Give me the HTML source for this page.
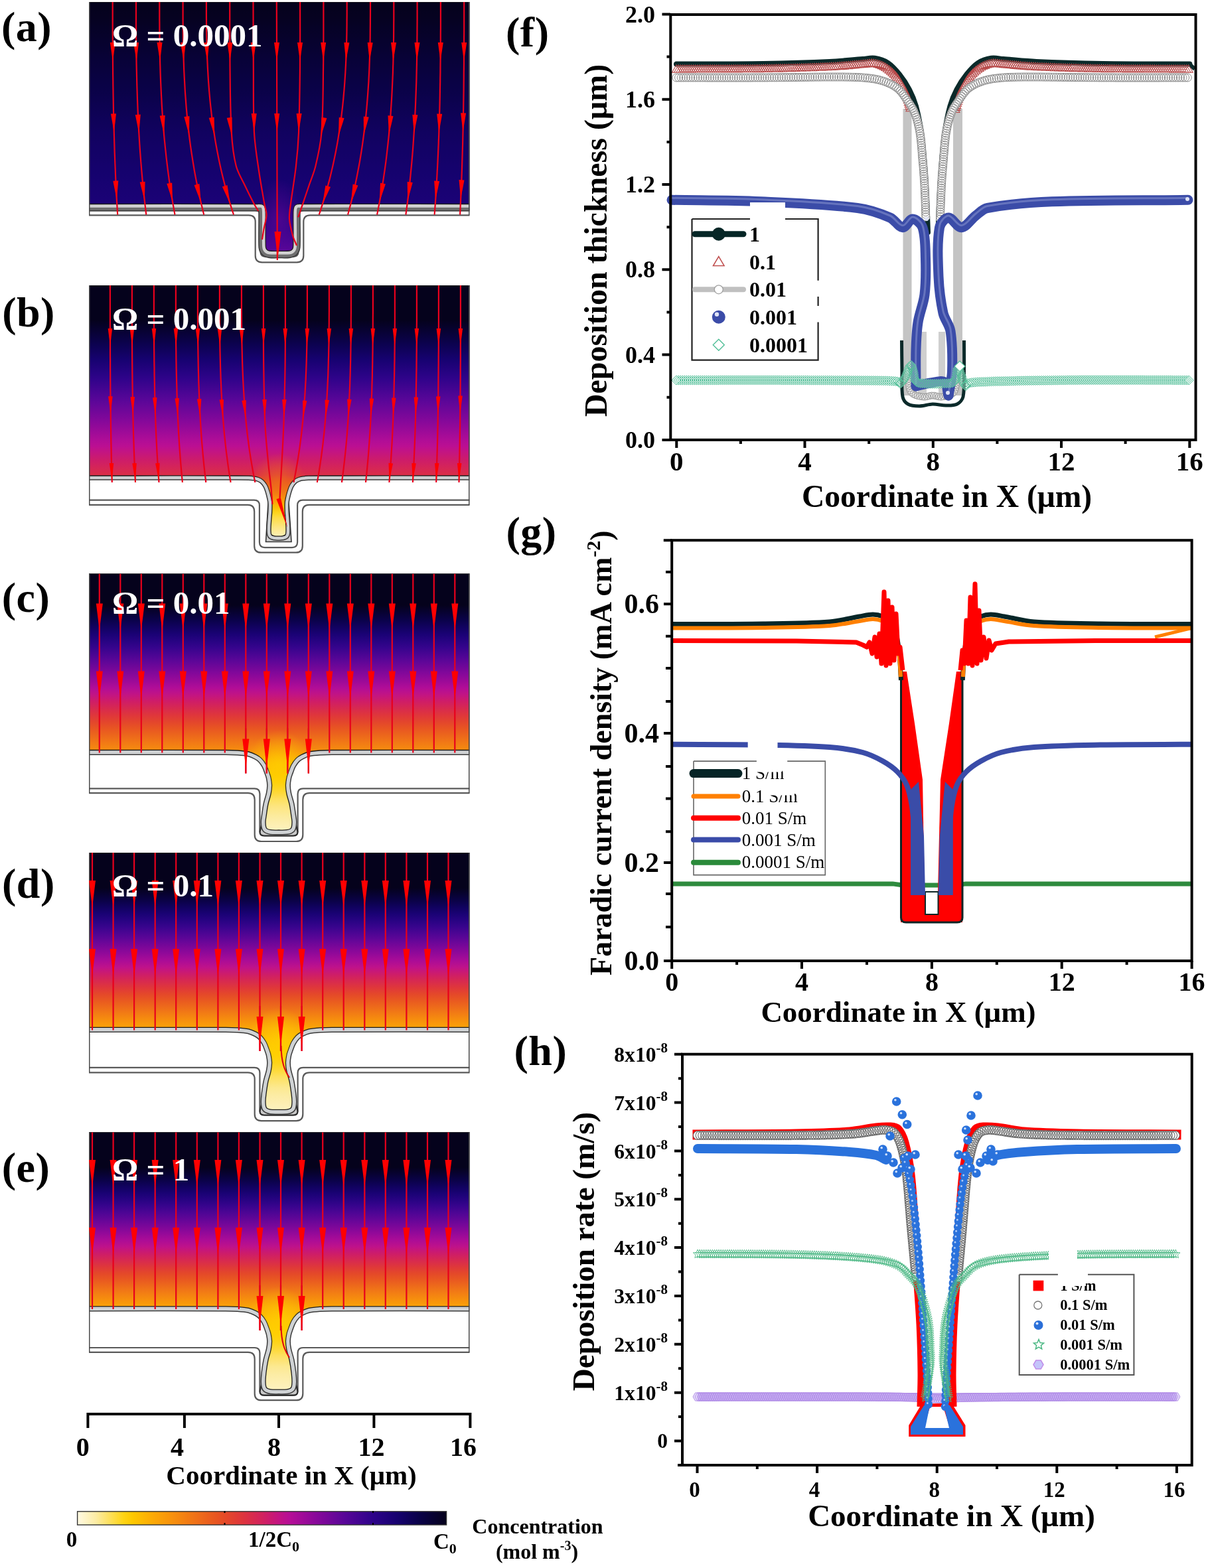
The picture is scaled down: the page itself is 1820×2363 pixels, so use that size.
<!DOCTYPE html>
<html><head><meta charset="utf-8"><title>Figure</title>
<style>html,body{margin:0;padding:0;background:#fff;overflow:hidden}svg{display:block}</style>
</head><body>
<svg width="1820" height="2363" viewBox="0 0 1820 2363">
<defs><linearGradient id="ga" gradientUnits="userSpaceOnUse" x1="0" y1="3" x2="0" y2="397.3"><stop offset="0.0000" stop-color="#05021c"/><stop offset="0.0250" stop-color="#05021e"/><stop offset="0.0500" stop-color="#060220"/><stop offset="0.0685" stop-color="#060222"/><stop offset="0.0750" stop-color="#060223"/><stop offset="0.1000" stop-color="#060227"/><stop offset="0.1250" stop-color="#07022a"/><stop offset="0.1500" stop-color="#07022e"/><stop offset="0.1750" stop-color="#070231"/><stop offset="0.2000" stop-color="#080235"/><stop offset="0.2250" stop-color="#080239"/><stop offset="0.2500" stop-color="#09023c"/><stop offset="0.2750" stop-color="#090240"/><stop offset="0.2967" stop-color="#090243"/><stop offset="0.3000" stop-color="#0a0244"/><stop offset="0.3250" stop-color="#0a0247"/><stop offset="0.3500" stop-color="#0b024a"/><stop offset="0.3750" stop-color="#0c024e"/><stop offset="0.4000" stop-color="#0d0252"/><stop offset="0.4250" stop-color="#0e0255"/><stop offset="0.4500" stop-color="#0f0259"/><stop offset="0.4750" stop-color="#10025c"/><stop offset="0.4996" stop-color="#110260"/><stop offset="0.5000" stop-color="#110260"/><stop offset="0.5250" stop-color="#120262"/><stop offset="0.5500" stop-color="#130265"/><stop offset="0.5750" stop-color="#130267"/><stop offset="0.6000" stop-color="#140269"/><stop offset="0.6250" stop-color="#15026c"/><stop offset="0.6500" stop-color="#15026e"/><stop offset="0.6750" stop-color="#160270"/><stop offset="0.7000" stop-color="#180272"/><stop offset="0.7250" stop-color="#190273"/><stop offset="0.7500" stop-color="#1a0275"/><stop offset="0.7710" stop-color="#1c0276"/><stop offset="0.7750" stop-color="#1c0277"/><stop offset="0.8000" stop-color="#21027c"/><stop offset="0.8250" stop-color="#260381"/><stop offset="0.8500" stop-color="#2b0386"/><stop offset="0.8674" stop-color="#2e038a"/><stop offset="0.8750" stop-color="#32038b"/><stop offset="0.9000" stop-color="#3e048f"/><stop offset="0.9250" stop-color="#4b0594"/><stop offset="0.9500" stop-color="#580698"/><stop offset="0.9561" stop-color="#5b0698"/><stop offset="0.9750" stop-color="#5b0698"/><stop offset="1.0000" stop-color="#5b0698"/></linearGradient>
<clipPath id="ca"><rect x="134" y="3" width="573.5" height="404.3"/></clipPath>
<clipPath id="ea"><path d="M131,3 H710.5 L710.5,307.5 C625,307.5 539.5,307.3 454,307.5 C451.7,307.5 449.1,307.2 447,308 C445.4,308.6 443.7,310 443,311.5 C442,313.8 441.9,316.8 441.8,319.5 C441.5,336.1 442.2,352.9 441.8,369.5 C441.8,371.5 441.6,374 440.5,375.5 C439.6,376.8 437.7,377.8 436,378 C431.2,378.7 426,378.3 421,378.3 C416,378.3 410.8,378.7 406,378 C404.3,377.8 402.4,376.8 401.5,375.5 C400.4,374 400.2,371.5 400.2,369.5 C399.8,352.9 400.5,336.1 400.2,319.5 C400.1,316.8 400,313.8 399,311.5 C398.3,310 396.6,308.6 395,308 C392.9,307.2 390.3,307.5 388,307.5 C302.3,307.3 216.7,307.5 131,307.5 Z"/></clipPath>
<radialGradient id="ra"><stop offset="0" stop-color="#670799" stop-opacity="0.55"/><stop offset="1" stop-color="#670799" stop-opacity="0"/></radialGradient>
<linearGradient id="gb" gradientUnits="userSpaceOnUse" x1="0" y1="430" x2="0" y2="834.7"><stop offset="0.0000" stop-color="#05021c"/><stop offset="0.0250" stop-color="#05021c"/><stop offset="0.0500" stop-color="#05021c"/><stop offset="0.0750" stop-color="#05021c"/><stop offset="0.1000" stop-color="#05021c"/><stop offset="0.1250" stop-color="#05021c"/><stop offset="0.1285" stop-color="#05021c"/><stop offset="0.1500" stop-color="#060228"/><stop offset="0.1750" stop-color="#080236"/><stop offset="0.2000" stop-color="#0a0244"/><stop offset="0.2250" stop-color="#0d0253"/><stop offset="0.2500" stop-color="#120261"/><stop offset="0.2750" stop-color="#160270"/><stop offset="0.3000" stop-color="#1f0279"/><stop offset="0.3250" stop-color="#270383"/><stop offset="0.3500" stop-color="#31038b"/><stop offset="0.3750" stop-color="#3e048f"/><stop offset="0.4000" stop-color="#4b0594"/><stop offset="0.4250" stop-color="#580698"/><stop offset="0.4500" stop-color="#660799"/><stop offset="0.4750" stop-color="#740799"/><stop offset="0.5000" stop-color="#82089a"/><stop offset="0.5250" stop-color="#910999"/><stop offset="0.5500" stop-color="#a00b98"/><stop offset="0.5750" stop-color="#af0d97"/><stop offset="0.6000" stop-color="#bc0f92"/><stop offset="0.6250" stop-color="#c5167e"/><stop offset="0.6500" stop-color="#cd1c6a"/><stop offset="0.6750" stop-color="#d4245a"/><stop offset="0.7000" stop-color="#d92c4b"/><stop offset="0.7067" stop-color="#da2e48"/><stop offset="0.7250" stop-color="#e3442e"/><stop offset="0.7500" stop-color="#ec651c"/><stop offset="0.7660" stop-color="#f27b14"/><stop offset="0.7750" stop-color="#f5880f"/><stop offset="0.8000" stop-color="#fcaa06"/><stop offset="0.8154" stop-color="#fec202"/><stop offset="0.8250" stop-color="#fec901"/><stop offset="0.8500" stop-color="#fed623"/><stop offset="0.8648" stop-color="#fedc45"/><stop offset="0.8750" stop-color="#fddf56"/><stop offset="0.9000" stop-color="#fde680"/><stop offset="0.9250" stop-color="#fceda8"/><stop offset="0.9340" stop-color="#fdefb2"/><stop offset="0.9500" stop-color="#fdefb2"/><stop offset="0.9750" stop-color="#fdefb2"/><stop offset="1.0000" stop-color="#fdefb2"/></linearGradient>
<clipPath id="cb"><rect x="134" y="430" width="573.5" height="414.7"/></clipPath>
<clipPath id="eb"><path d="M131,430 H710.5 L710.5,717 C634.2,717 557.8,716.9 481.5,717 C475.8,717 470.2,717 464.5,717.2 C462.2,717.3 459.8,717.4 457.5,717.8 C454.8,718.2 452,718.5 449.5,719.5 C447,720.4 444.4,721.7 442.4,723.5 C440.1,725.6 438,728.3 436.5,731 C434.9,733.9 433.9,737.2 432.9,740.4 C431.7,744.2 430.8,748.1 430,752 C429.5,754.3 429.2,756.7 429.1,759 C428.9,763.3 429.1,767.7 429.3,772 C429.6,777 430.2,782 430.5,787 C430.8,791 431.1,795 431,799 C430.9,801.3 431.2,804.4 430,806 C429,807.4 426.4,807.6 424.5,808 C422.9,808.3 421.2,808.2 419.5,808.2 C417.8,808.2 416.1,808.3 414.5,808 C412.6,807.6 410,807.4 409,806 C407.8,804.4 408.1,801.3 408,799 C407.9,795 408.2,791 408.5,787 C408.8,782 409.4,777 409.7,772 C409.9,767.7 410.1,763.3 409.9,759 C409.8,756.7 409.5,754.3 409,752 C408.2,748.1 407.3,744.2 406.1,740.4 C405.1,737.2 404.1,733.9 402.5,731 C401,728.3 398.9,725.6 396.6,723.5 C394.6,721.7 392,720.4 389.5,719.5 C387,718.5 384.2,718.2 381.5,717.8 C379.2,717.4 376.8,717.3 374.5,717.2 C368.8,717 363.2,717 357.5,717 C282,716.9 206.5,717 131,717 Z"/></clipPath>
<radialGradient id="rb"><stop offset="0" stop-color="#ef7118" stop-opacity="0.7"/><stop offset="1" stop-color="#ef7118" stop-opacity="0"/></radialGradient>
<linearGradient id="gc" gradientUnits="userSpaceOnUse" x1="0" y1="864.4" x2="0" y2="1270"><stop offset="0.0000" stop-color="#05021c"/><stop offset="0.0250" stop-color="#05021c"/><stop offset="0.0500" stop-color="#05021c"/><stop offset="0.0750" stop-color="#05021c"/><stop offset="0.1000" stop-color="#05021c"/><stop offset="0.1174" stop-color="#05021c"/><stop offset="0.1250" stop-color="#060222"/><stop offset="0.1500" stop-color="#080237"/><stop offset="0.1750" stop-color="#0b024c"/><stop offset="0.2000" stop-color="#120261"/><stop offset="0.2250" stop-color="#1a0275"/><stop offset="0.2500" stop-color="#270382"/><stop offset="0.2750" stop-color="#36048d"/><stop offset="0.3000" stop-color="#490593"/><stop offset="0.3250" stop-color="#5d0698"/><stop offset="0.3500" stop-color="#720799"/><stop offset="0.3750" stop-color="#87089a"/><stop offset="0.4000" stop-color="#9c0a98"/><stop offset="0.4250" stop-color="#b20d97"/><stop offset="0.4500" stop-color="#c21484"/><stop offset="0.4750" stop-color="#cf1d67"/><stop offset="0.5000" stop-color="#d72950"/><stop offset="0.5250" stop-color="#df363c"/><stop offset="0.5500" stop-color="#e3452d"/><stop offset="0.5750" stop-color="#e85522"/><stop offset="0.6000" stop-color="#ec661c"/><stop offset="0.6250" stop-color="#f17716"/><stop offset="0.6500" stop-color="#f58810"/><stop offset="0.6573" stop-color="#f68d0e"/><stop offset="0.6750" stop-color="#f99c0a"/><stop offset="0.7000" stop-color="#fdb305"/><stop offset="0.7041" stop-color="#fdb704"/><stop offset="0.7250" stop-color="#fec003"/><stop offset="0.7500" stop-color="#ffca01"/><stop offset="0.7750" stop-color="#ffd310"/><stop offset="0.7855" stop-color="#fed51f"/><stop offset="0.8000" stop-color="#fed830"/><stop offset="0.8250" stop-color="#fedd4f"/><stop offset="0.8500" stop-color="#fde36d"/><stop offset="0.8644" stop-color="#fde57f"/><stop offset="0.8750" stop-color="#fde788"/><stop offset="0.9000" stop-color="#fceb9d"/><stop offset="0.9250" stop-color="#fceeae"/><stop offset="0.9500" stop-color="#fdf1bc"/><stop offset="0.9532" stop-color="#fdf2be"/><stop offset="0.9750" stop-color="#fdf2be"/><stop offset="1.0000" stop-color="#fdf2be"/></linearGradient>
<clipPath id="cc"><rect x="134" y="864.4" width="573.5" height="415.6"/></clipPath>
<clipPath id="ec"><path d="M131,864.4 H710.5 L710.5,1130.5 C640.3,1130.5 570.2,1130.3 500,1130.5 C494,1130.5 488,1130.6 482,1131 C476.3,1131.4 470.5,1131.8 465,1133 C461.2,1133.9 457.5,1135.5 454,1137.3 C451.2,1138.7 448.4,1140.4 446.2,1142.6 C443.4,1145.3 441,1148.7 439.1,1152.1 C437,1155.8 435.8,1160 434.3,1164 C433.4,1166.5 432.4,1169 431.9,1171.6 C431.1,1175.5 430.4,1179.5 430.4,1183.5 C430.4,1187.8 431,1192.2 431.9,1196.5 C433,1201.9 435.1,1207.1 436.2,1212.5 C437.4,1218.4 438.1,1224.5 439,1230.5 C439.4,1233.3 440.1,1236.2 440,1239 C439.9,1242 440,1245.8 438.5,1248 C437.3,1249.7 434.3,1250.3 432,1250.7 C428.1,1251.3 424,1251 420,1251 C416,1251 411.9,1251.3 408,1250.7 C405.7,1250.3 402.7,1249.7 401.5,1248 C400,1245.8 400.1,1242 400,1239 C399.9,1236.2 400.6,1233.3 401,1230.5 C401.9,1224.5 402.6,1218.4 403.8,1212.5 C404.9,1207.1 407,1201.9 408.1,1196.5 C409,1192.2 409.6,1187.8 409.6,1183.5 C409.6,1179.5 408.9,1175.5 408.1,1171.6 C407.6,1169 406.6,1166.5 405.7,1164 C404.2,1160 403,1155.8 400.9,1152.1 C399,1148.7 396.6,1145.3 393.8,1142.6 C391.6,1140.4 388.8,1138.7 386,1137.3 C382.5,1135.5 378.8,1133.9 375,1133 C369.5,1131.8 363.7,1131.4 358,1131 C352,1130.6 346,1130.5 340,1130.5 C270.3,1130.3 200.7,1130.5 131,1130.5 Z"/></clipPath>
<radialGradient id="rc"><stop offset="0" stop-color="#ffce00" stop-opacity="0.75"/><stop offset="1" stop-color="#ffce00" stop-opacity="0"/></radialGradient>
<linearGradient id="gd" gradientUnits="userSpaceOnUse" x1="0" y1="1285" x2="0" y2="1691.1"><stop offset="0.0000" stop-color="#05021c"/><stop offset="0.0250" stop-color="#05021c"/><stop offset="0.0500" stop-color="#05021c"/><stop offset="0.0750" stop-color="#05021c"/><stop offset="0.1000" stop-color="#05021c"/><stop offset="0.1250" stop-color="#05021c"/><stop offset="0.1305" stop-color="#05021c"/><stop offset="0.1500" stop-color="#07022e"/><stop offset="0.1750" stop-color="#0a0244"/><stop offset="0.2000" stop-color="#10025d"/><stop offset="0.2250" stop-color="#190273"/><stop offset="0.2500" stop-color="#270382"/><stop offset="0.2750" stop-color="#38048d"/><stop offset="0.3000" stop-color="#4d0594"/><stop offset="0.3250" stop-color="#630698"/><stop offset="0.3500" stop-color="#7b0799"/><stop offset="0.3750" stop-color="#920999"/><stop offset="0.4000" stop-color="#aa0c97"/><stop offset="0.4250" stop-color="#bf128b"/><stop offset="0.4500" stop-color="#cd1c6b"/><stop offset="0.4750" stop-color="#d72951"/><stop offset="0.5000" stop-color="#df373b"/><stop offset="0.5250" stop-color="#e4482a"/><stop offset="0.5500" stop-color="#e95a20"/><stop offset="0.5750" stop-color="#ee6c1a"/><stop offset="0.6000" stop-color="#f37f13"/><stop offset="0.6250" stop-color="#f7920c"/><stop offset="0.6476" stop-color="#faa208"/><stop offset="0.6500" stop-color="#faa408"/><stop offset="0.6750" stop-color="#fcb105"/><stop offset="0.7000" stop-color="#fec003"/><stop offset="0.7141" stop-color="#fec801"/><stop offset="0.7250" stop-color="#ffcb01"/><stop offset="0.7500" stop-color="#ffd105"/><stop offset="0.7750" stop-color="#fed51c"/><stop offset="0.7781" stop-color="#fed51f"/><stop offset="0.8000" stop-color="#feda39"/><stop offset="0.8250" stop-color="#fddf57"/><stop offset="0.8500" stop-color="#fde475"/><stop offset="0.8742" stop-color="#fce992"/><stop offset="0.8750" stop-color="#fce992"/><stop offset="0.9000" stop-color="#fceca4"/><stop offset="0.9250" stop-color="#fdeeb0"/><stop offset="0.9500" stop-color="#fdf1bc"/><stop offset="0.9554" stop-color="#fdf2be"/><stop offset="0.9750" stop-color="#fdf2be"/><stop offset="1.0000" stop-color="#fdf2be"/></linearGradient>
<clipPath id="cd"><rect x="134" y="1285" width="573.5" height="416.1"/></clipPath>
<clipPath id="ed"><path d="M131,1285 H710.5 L710.5,1548.4 C640.3,1548.4 570.2,1548.2 500,1548.4 C494,1548.4 488,1548.5 482,1548.9 C476.3,1549.3 470.5,1549.7 465,1550.9 C461.2,1551.8 457.5,1553.4 454,1555.2 C451.2,1556.6 448.4,1558.3 446.2,1560.5 C443.4,1563.2 441,1566.6 439.1,1570 C437,1573.7 435.8,1577.9 434.3,1581.9 C433.4,1584.4 432.4,1586.9 431.9,1589.5 C431.1,1593.4 430.4,1597.4 430.4,1601.4 C430.4,1605.7 431,1610.1 431.9,1614.4 C433,1619.8 435.1,1625 436.2,1630.4 C437.4,1636.3 438.2,1642.4 439,1648.4 C439.5,1652.4 440.1,1656.4 440,1660.4 C439.9,1663.4 440,1667.2 438.5,1669.4 C437.3,1671.1 434.3,1671.7 432,1672.1 C428.1,1672.7 424,1672.4 420,1672.4 C416,1672.4 411.9,1672.7 408,1672.1 C405.7,1671.7 402.7,1671.1 401.5,1669.4 C400,1667.2 400.1,1663.4 400,1660.4 C399.9,1656.4 400.5,1652.4 401,1648.4 C401.8,1642.4 402.6,1636.3 403.8,1630.4 C404.9,1625 407,1619.8 408.1,1614.4 C409,1610.1 409.6,1605.7 409.6,1601.4 C409.6,1597.4 408.9,1593.4 408.1,1589.5 C407.6,1586.9 406.6,1584.4 405.7,1581.9 C404.2,1577.9 403,1573.7 400.9,1570 C399,1566.6 396.6,1563.2 393.8,1560.5 C391.6,1558.3 388.8,1556.6 386,1555.2 C382.5,1553.4 378.8,1551.8 375,1550.9 C369.5,1549.7 363.7,1549.3 358,1548.9 C352,1548.5 346,1548.4 340,1548.4 C270.3,1548.2 200.7,1548.4 131,1548.4 Z"/></clipPath>
<radialGradient id="rd"><stop offset="0" stop-color="#ffce00" stop-opacity="0.75"/><stop offset="1" stop-color="#ffce00" stop-opacity="0"/></radialGradient>
<linearGradient id="ge" gradientUnits="userSpaceOnUse" x1="0" y1="1706.3" x2="0" y2="2112.2"><stop offset="0.0000" stop-color="#05021c"/><stop offset="0.0250" stop-color="#05021c"/><stop offset="0.0500" stop-color="#05021c"/><stop offset="0.0750" stop-color="#05021c"/><stop offset="0.1000" stop-color="#05021c"/><stop offset="0.1250" stop-color="#05021c"/><stop offset="0.1298" stop-color="#05021c"/><stop offset="0.1500" stop-color="#07022e"/><stop offset="0.1750" stop-color="#0a0245"/><stop offset="0.2000" stop-color="#10025d"/><stop offset="0.2250" stop-color="#190273"/><stop offset="0.2500" stop-color="#270382"/><stop offset="0.2750" stop-color="#39048e"/><stop offset="0.3000" stop-color="#4e0595"/><stop offset="0.3250" stop-color="#640698"/><stop offset="0.3500" stop-color="#7b0799"/><stop offset="0.3750" stop-color="#930999"/><stop offset="0.4000" stop-color="#ab0c97"/><stop offset="0.4250" stop-color="#bf128a"/><stop offset="0.4500" stop-color="#cd1c6a"/><stop offset="0.4750" stop-color="#d72951"/><stop offset="0.5000" stop-color="#df383a"/><stop offset="0.5250" stop-color="#e44929"/><stop offset="0.5500" stop-color="#e95a20"/><stop offset="0.5750" stop-color="#ee6d1a"/><stop offset="0.6000" stop-color="#f38013"/><stop offset="0.6250" stop-color="#f7920c"/><stop offset="0.6472" stop-color="#faa208"/><stop offset="0.6500" stop-color="#faa408"/><stop offset="0.6750" stop-color="#fcb105"/><stop offset="0.7000" stop-color="#fec003"/><stop offset="0.7137" stop-color="#fec801"/><stop offset="0.7250" stop-color="#ffcb01"/><stop offset="0.7500" stop-color="#ffd107"/><stop offset="0.7750" stop-color="#fed51e"/><stop offset="0.7753" stop-color="#fed51f"/><stop offset="0.8000" stop-color="#feda3c"/><stop offset="0.8250" stop-color="#fddf5a"/><stop offset="0.8500" stop-color="#fde478"/><stop offset="0.8714" stop-color="#fce992"/><stop offset="0.8750" stop-color="#fce994"/><stop offset="0.9000" stop-color="#fceca5"/><stop offset="0.9250" stop-color="#fdefb1"/><stop offset="0.9500" stop-color="#fdf1bc"/><stop offset="0.9552" stop-color="#fdf2be"/><stop offset="0.9750" stop-color="#fdf2be"/><stop offset="1.0000" stop-color="#fdf2be"/></linearGradient>
<clipPath id="ce"><rect x="134" y="1706.3" width="573.5" height="415.9"/></clipPath>
<clipPath id="ee"><path d="M131,1706.3 H710.5 L710.5,1968.9 C640.3,1968.9 570.2,1968.7 500,1968.9 C494,1968.9 488,1969 482,1969.4 C476.3,1969.8 470.5,1970.2 465,1971.4 C461.2,1972.3 457.5,1973.9 454,1975.7 C451.2,1977.1 448.4,1978.8 446.2,1981 C443.4,1983.7 441,1987.1 439.1,1990.5 C437,1994.2 435.8,1998.4 434.3,2002.4 C433.4,2004.9 432.4,2007.4 431.9,2010 C431.1,2013.7 430.4,2017.5 430.4,2021.3 C430.4,2025.6 431,2030 431.9,2034.3 C433,2039.7 435.1,2044.9 436.2,2050.3 C437.4,2056.2 438.3,2062.3 439,2068.3 C439.5,2072.9 440.1,2077.5 440,2082.1 C439.9,2085.1 440,2088.9 438.5,2091.1 C437.3,2092.8 434.3,2093.4 432,2093.8 C428.1,2094.4 424,2094.1 420,2094.1 C416,2094.1 411.9,2094.4 408,2093.8 C405.7,2093.4 402.7,2092.8 401.5,2091.1 C400,2088.9 400.1,2085.1 400,2082.1 C399.9,2077.5 400.5,2072.9 401,2068.3 C401.7,2062.3 402.6,2056.2 403.8,2050.3 C404.9,2044.9 407,2039.7 408.1,2034.3 C409,2030 409.6,2025.6 409.6,2021.3 C409.6,2017.5 408.9,2013.7 408.1,2010 C407.6,2007.4 406.6,2004.9 405.7,2002.4 C404.2,1998.4 403,1994.2 400.9,1990.5 C399,1987.1 396.6,1983.7 393.8,1981 C391.6,1978.8 388.8,1977.1 386,1975.7 C382.5,1973.9 378.8,1972.3 375,1971.4 C369.5,1970.2 363.7,1969.8 358,1969.4 C352,1969 346,1968.9 340,1968.9 C270.3,1968.7 200.7,1968.9 131,1968.9 Z"/></clipPath>
<radialGradient id="re"><stop offset="0" stop-color="#ffce00" stop-opacity="0.75"/><stop offset="1" stop-color="#ffce00" stop-opacity="0"/></radialGradient>
<linearGradient id="cbar" x1="0" y1="0" x2="1" y2="0"><stop offset="0.000" stop-color="#fffae4"/><stop offset="0.025" stop-color="#fef3c4"/><stop offset="0.050" stop-color="#fceca5"/><stop offset="0.075" stop-color="#fde475"/><stop offset="0.100" stop-color="#fedc45"/><stop offset="0.125" stop-color="#ffd415"/><stop offset="0.150" stop-color="#fec801"/><stop offset="0.175" stop-color="#fdba04"/><stop offset="0.200" stop-color="#fcac06"/><stop offset="0.225" stop-color="#faa009"/><stop offset="0.250" stop-color="#f8940c"/><stop offset="0.275" stop-color="#f58810"/><stop offset="0.300" stop-color="#f27b14"/><stop offset="0.325" stop-color="#ef6f19"/><stop offset="0.350" stop-color="#eb621d"/><stop offset="0.375" stop-color="#e85621"/><stop offset="0.400" stop-color="#e54a28"/><stop offset="0.425" stop-color="#e13f33"/><stop offset="0.450" stop-color="#de343e"/><stop offset="0.475" stop-color="#d82b4e"/><stop offset="0.500" stop-color="#d2225e"/><stop offset="0.525" stop-color="#ca1a71"/><stop offset="0.550" stop-color="#c11386"/><stop offset="0.575" stop-color="#b60e96"/><stop offset="0.600" stop-color="#a60c98"/><stop offset="0.625" stop-color="#960a99"/><stop offset="0.650" stop-color="#86089a"/><stop offset="0.675" stop-color="#770799"/><stop offset="0.700" stop-color="#670799"/><stop offset="0.725" stop-color="#580698"/><stop offset="0.750" stop-color="#4a0593"/><stop offset="0.775" stop-color="#3c048f"/><stop offset="0.800" stop-color="#2e038a"/><stop offset="0.825" stop-color="#250380"/><stop offset="0.850" stop-color="#1c0276"/><stop offset="0.875" stop-color="#14026a"/><stop offset="0.900" stop-color="#0f0259"/><stop offset="0.925" stop-color="#0a0249"/><stop offset="0.950" stop-color="#08023a"/><stop offset="0.975" stop-color="#07022b"/><stop offset="1.000" stop-color="#05021c"/></linearGradient></defs>
<rect width="1820" height="2363" fill="#fff"/>
<g clip-path="url(#ca)"><path d="M132,324.3 H374.7 Q384.7,324.3 384.7,334.3 V385.3 Q384.7,395.3 394.7,395.3 H447.3 Q457.3,395.3 457.3,385.3 V334.3 Q457.3,324.3 467.3,324.3 H709.5" fill="none" stroke="#5a5a5a" stroke-width="2.2"/><path d="M132,317.2 H384.4 Q392.4,317.2 392.4,325.2 V378.8 Q392.4,386.8 400.4,386.8 H441.6 Q449.6,386.8 449.6,378.8 V325.2 Q449.6,317.2 457.6,317.2 H709.5" fill="none" stroke="#5a5a5a" stroke-width="2.2"/><path d="M131,3 H710.5 L710.5,307.5 C625,307.5 539.5,307.3 454,307.5 C451.7,307.5 449.1,307.2 447,308 C445.4,308.6 443.7,310 443,311.5 C442,313.8 441.9,316.8 441.8,319.5 C441.5,336.1 442.2,352.9 441.8,369.5 C441.8,371.5 441.6,374 440.5,375.5 C439.6,376.8 437.7,377.8 436,378 C431.2,378.7 426,378.3 421,378.3 C416,378.3 410.8,378.7 406,378 C404.3,377.8 402.4,376.8 401.5,375.5 C400.4,374 400.2,371.5 400.2,369.5 C399.8,352.9 400.5,336.1 400.2,319.5 C400.1,316.8 400,313.8 399,311.5 C398.3,310 396.6,308.6 395,308 C392.9,307.2 390.3,307.5 388,307.5 C302.3,307.3 216.7,307.5 131,307.5 Z" fill="none" stroke="#3a3a3a" stroke-width="22"/><path d="M131,3 H710.5 L710.5,307.5 C625,307.5 539.5,307.3 454,307.5 C451.7,307.5 449.1,307.2 447,308 C445.4,308.6 443.7,310 443,311.5 C442,313.8 441.9,316.8 441.8,319.5 C441.5,336.1 442.2,352.9 441.8,369.5 C441.8,371.5 441.6,374 440.5,375.5 C439.6,376.8 437.7,377.8 436,378 C431.2,378.7 426,378.3 421,378.3 C416,378.3 410.8,378.7 406,378 C404.3,377.8 402.4,376.8 401.5,375.5 C400.4,374 400.2,371.5 400.2,369.5 C399.8,352.9 400.5,336.1 400.2,319.5 C400.1,316.8 400,313.8 399,311.5 C398.3,310 396.6,308.6 395,308 C392.9,307.2 390.3,307.5 388,307.5 C302.3,307.3 216.7,307.5 131,307.5 Z" fill="none" stroke="#6e6e6e" stroke-width="19"/><path d="M131,3 H710.5 L710.5,307.5 C625,307.5 539.5,307.3 454,307.5 C451.7,307.5 449.1,307.2 447,308 C445.4,308.6 443.7,310 443,311.5 C442,313.8 441.9,316.8 441.8,319.5 C441.5,336.1 442.2,352.9 441.8,369.5 C441.8,371.5 441.6,374 440.5,375.5 C439.6,376.8 437.7,377.8 436,378 C431.2,378.7 426,378.3 421,378.3 C416,378.3 410.8,378.7 406,378 C404.3,377.8 402.4,376.8 401.5,375.5 C400.4,374 400.2,371.5 400.2,369.5 C399.8,352.9 400.5,336.1 400.2,319.5 C400.1,316.8 400,313.8 399,311.5 C398.3,310 396.6,308.6 395,308 C392.9,307.2 390.3,307.5 388,307.5 C302.3,307.3 216.7,307.5 131,307.5 Z" fill="none" stroke="#d2d2d2" stroke-width="10.4"/><path d="M131,3 H710.5 L710.5,307.5 C625,307.5 539.5,307.3 454,307.5 C451.7,307.5 449.1,307.2 447,308 C445.4,308.6 443.7,310 443,311.5 C442,313.8 441.9,316.8 441.8,319.5 C441.5,336.1 442.2,352.9 441.8,369.5 C441.8,371.5 441.6,374 440.5,375.5 C439.6,376.8 437.7,377.8 436,378 C431.2,378.7 426,378.3 421,378.3 C416,378.3 410.8,378.7 406,378 C404.3,377.8 402.4,376.8 401.5,375.5 C400.4,374 400.2,371.5 400.2,369.5 C399.8,352.9 400.5,336.1 400.2,319.5 C400.1,316.8 400,313.8 399,311.5 C398.3,310 396.6,308.6 395,308 C392.9,307.2 390.3,307.5 388,307.5 C302.3,307.3 216.7,307.5 131,307.5 Z" fill="url(#ga)" stroke="#1a1a1a" stroke-width="1.3"/><ellipse cx="421" cy="330" rx="34" ry="60" fill="url(#ra)" clip-path="url(#ea)"/><path d="M134.5,3 V324.3 M707,3 V324.3" stroke="#4a4a4a" stroke-width="2"/></g><g clip-path="url(#ca)"><path d="M169.7,3 C169.7,7.5 169.7,11.9 169.7,16.4 C169.7,20.8 169.7,25.3 169.7,29.7 C169.7,34.2 169.7,38.6 169.7,43.1 C169.7,47.5 169.8,52 169.8,56.4 C169.8,60.9 169.8,65.3 169.8,69.8 C169.8,74.2 169.9,78.7 169.9,83.1 C169.9,87.6 170,92 170,96.5 C170,100.9 170.1,105.4 170.1,109.8 C170.2,114.3 170.2,118.7 170.3,123.2 C170.3,127.6 170.4,132.1 170.5,136.5 C170.5,141 170.6,145.4 170.7,149.9 C170.8,154.3 170.8,158.8 170.9,163.2 C171,167.7 171.1,172.2 171.2,176.6 C171.3,181.1 171.4,185.5 171.5,190 C171.7,194.4 171.8,198.9 171.9,203.3 C172,207.8 172.2,212.2 172.3,216.7 C172.4,221.1 172.6,225.6 172.7,230 C172.9,234.5 173.1,238.9 173.2,243.4 C173.4,247.8 173.6,252.3 173.8,256.7 C173.9,261.2 174.1,265.6 174.3,270.1 C174.5,274.5 174.8,279 175,283.4 C175.2,287.9 175.4,292.3 175.6,296.8 C175.9,301.2 176.1,305.7 176.4,310.1 C176.6,314.6 176.9,319 177.2,323.5" fill="none" stroke="#e8001c" stroke-width="2.2"/><path d="M165.8,64 L170,92 L173.8,64 Z" fill="#ff0000"/><path d="M167,171.5 L171.8,199.3 L175,171.2 Z" fill="#ff0000"/><path d="M170.3,272.7 L175.8,300.4 L178.3,272.2 Z" fill="#ff0000"/><path d="M205,3 C205,7.5 205,11.9 205,16.4 C205,20.8 205,25.3 205,29.7 C205,34.2 205,38.6 205.1,43.1 C205.1,47.5 205.1,52 205.1,56.4 C205.2,60.9 205.2,65.3 205.3,69.8 C205.3,74.2 205.4,78.7 205.4,83.1 C205.5,87.6 205.5,92 205.6,96.5 C205.7,100.9 205.8,105.4 205.9,109.8 C206,114.3 206.1,118.7 206.2,123.2 C206.3,127.6 206.4,132.1 206.6,136.5 C206.7,141 206.9,145.4 207,149.9 C207.2,154.3 207.3,158.8 207.5,163.2 C207.7,167.7 207.9,172.2 208.1,176.6 C208.3,181.1 208.5,185.5 208.8,190 C209,194.4 209.2,198.9 209.5,203.3 C209.8,207.8 210,212.2 210.3,216.7 C210.6,221.1 210.9,225.6 211.2,230 C211.6,234.5 211.9,238.9 212.2,243.4 C212.6,247.8 213,252.3 213.3,256.7 C213.7,261.2 214.1,265.6 214.5,270.1 C214.9,274.5 215.4,279 215.8,283.4 C216.3,287.9 216.7,292.3 217.2,296.8 C217.7,301.2 218.2,305.7 218.7,310.1 C219.2,314.6 219.8,319 220.3,323.5" fill="none" stroke="#e8001c" stroke-width="2.2"/><path d="M201.1,64.1 L205.6,92 L209.1,63.9 Z" fill="#ff0000"/><path d="M203.8,173 L209.4,200.7 L211.8,172.5 Z" fill="#ff0000"/><path d="M210.7,274.6 L217.8,302 L218.6,273.8 Z" fill="#ff0000"/><path d="M240.3,3 C240.3,7.5 240.3,11.9 240.3,16.4 C240.3,20.8 240.3,25.3 240.3,29.7 C240.4,34.2 240.4,38.6 240.4,43.1 C240.4,47.5 240.5,52 240.5,56.4 C240.6,60.9 240.6,65.3 240.7,69.8 C240.8,74.2 240.8,78.7 240.9,83.1 C241,87.6 241.1,92 241.2,96.5 C241.4,100.9 241.5,105.4 241.6,109.8 C241.8,114.3 241.9,118.7 242.1,123.2 C242.3,127.6 242.5,132.1 242.7,136.5 C242.9,141 243.1,145.4 243.4,149.9 C243.6,154.3 243.8,158.8 244.1,163.2 C244.4,167.7 244.7,172.2 245,176.6 C245.3,181.1 245.7,185.5 246,190 C246.4,194.4 246.7,198.9 247.1,203.3 C247.5,207.8 247.9,212.2 248.4,216.7 C248.8,221.1 249.3,225.6 249.8,230 C250.2,234.5 250.7,238.9 251.3,243.4 C251.8,247.8 252.4,252.3 252.9,256.7 C253.5,261.2 254.1,265.6 254.7,270.1 C255.4,274.5 256,279 256.7,283.4 C257.4,287.9 258.1,292.3 258.8,296.8 C259.5,301.2 260.3,305.7 261.1,310.1 C261.8,314.6 262.7,319 263.5,323.5" fill="none" stroke="#e8001c" stroke-width="2.2"/><path d="M236.5,64.1 L241.1,92 L244.5,63.9 Z" fill="#ff0000"/><path d="M240.7,174.5 L247,202.1 L248.7,173.8 Z" fill="#ff0000"/><path d="M251.3,276.7 L260,303.7 L259.2,275.4 Z" fill="#ff0000"/><path d="M275.6,3 C275.6,7.5 275.6,11.9 275.6,16.4 C275.6,20.8 275.6,25.3 275.6,29.7 C275.7,34.2 275.7,38.6 275.7,43.1 C275.8,47.5 275.8,52 275.9,56.4 C276,60.9 276,65.3 276.1,69.8 C276.2,74.2 276.3,78.7 276.5,83.1 C276.6,87.6 276.7,92 276.9,96.5 C277,100.9 277.2,105.4 277.4,109.8 C277.6,114.3 277.8,118.7 278.1,123.2 C278.3,127.6 278.6,132.1 278.8,136.5 C279.1,141 279.4,145.4 279.8,149.9 C280.1,154.3 280.4,158.8 280.8,163.2 C281.2,167.7 281.6,172.2 282,176.6 C282.5,181.1 282.9,185.5 283.4,190 C283.9,194.4 284.4,198.9 284.9,203.3 C285.5,207.8 286,212.2 286.6,216.7 C287.2,221.1 287.9,225.6 288.5,230 C289.2,234.5 289.9,238.9 290.6,243.4 C291.3,247.8 292.1,252.3 292.8,256.7 C293.6,261.2 294.4,265.6 295.3,270.1 C296.2,274.5 297,279 298,283.4 C298.9,287.9 299.8,292.3 300.8,296.8 C301.8,301.3 302.9,305.7 303.9,310.1 C305,314.6 306.1,319 307.2,323.5" fill="none" stroke="#e8001c" stroke-width="2.2"/><path d="M271.9,64.1 L276.7,92 L279.9,63.9 Z" fill="#ff0000"/><path d="M277.4,176.1 L284.9,203.4 L285.4,175.1 Z" fill="#ff0000"/><path d="M292.6,278.9 L302.8,305.3 L300.4,277.1 Z" fill="#ff0000"/><path d="M310.9,3 C310.9,7.5 310.9,11.9 310.9,16.4 C310.9,20.8 310.9,25.3 311,29.7 C311,34.2 311,38.6 311.1,43.1 C311.1,47.5 311.2,52 311.3,56.4 C311.4,60.9 311.5,65.3 311.6,69.8 C311.7,74.2 311.9,78.7 312,83.1 C312.2,87.6 312.4,92 312.6,96.5 C312.8,100.9 313,105.4 313.3,109.8 C313.5,114.3 313.8,118.7 314.1,123.2 C314.4,127.6 314.8,132.1 315.1,136.5 C315.5,141 315.9,145.4 316.3,149.9 C316.7,154.4 317.2,158.8 317.7,163.2 C318.2,167.7 318.7,172.2 319.2,176.6 C319.8,181.1 320.4,185.5 321,190 C321.7,194.4 322.3,198.9 323,203.3 C323.7,207.8 324.4,212.2 325.2,216.7 C326,221.1 326.8,225.6 327.7,230 C328.5,234.5 329.4,238.9 330.4,243.4 C331.3,247.8 332.3,252.3 333.3,256.7 C334.3,261.2 335.4,265.6 336.5,270.1 C337.6,274.5 338.8,279 339.9,283.4 C341.2,287.9 342.4,292.4 343.7,296.8 C345,301.3 346.3,305.7 347.7,310.1 C349.1,314.6 350.6,319 352,323.5" fill="none" stroke="#e8001c" stroke-width="2.2"/><path d="M307.2,64.2 L312.4,92 L315.2,63.9 Z" fill="#ff0000"/><path d="M314.7,177.8 L323.3,204.8 L322.6,176.5 Z" fill="#ff0000"/><path d="M334.8,281.3 L346.7,306.9 L342.5,279 Z" fill="#ff0000"/><path d="M346.2,3 C346.3,35.3 346.1,67.7 346.5,100 C346.9,133.3 346.8,166.8 348.8,200 C349.8,216.8 351.6,233.9 355.7,250 C358.4,260.5 364.5,270.1 369.2,280 C373.7,289.4 378.3,298.8 383.2,308 C385,311.4 387.2,314.7 389.2,318" fill="none" stroke="#e8001c" stroke-width="2.2"/><path d="M342.4,64 L346.5,92 L350.4,64 Z" fill="#ff0000"/><path d="M341.7,177.8 L349.5,205 L349.6,176.7 Z" fill="#ff0000"/><path d="M381.5,3 C381.6,35.3 381.6,67.7 381.8,100 C382.1,133.3 381.3,166.8 383,200 C384,219.4 387.3,238.7 390.1,258 C392.5,274.7 395.6,291.3 398.5,308 C399.4,313.3 401.6,318.7 401.5,324 C401.3,331 398.7,338 397.5,345 C396.6,350.3 395.8,355.7 395,361" fill="none" stroke="#e8001c" stroke-width="2.2"/><path d="M377.7,64 L381.8,92 L385.7,64 Z" fill="#ff0000"/><path d="M378.7,171.1 L383,199 L386.7,171 Z" fill="#ff0000"/><path d="M416.8,3 C417,68.7 417.1,134.3 417.3,200 C417.5,264 417.6,328 417.8,392" fill="none" stroke="#e8001c" stroke-width="2.2"/><path d="M413,64 L417,92 L421,64 Z" fill="#ff0000"/><path d="M413.2,171 L417.3,199 L421.2,171 Z" fill="#ff0000"/><path d="M413.5,349 L418.5,389 L423.5,349 Z" fill="#ff0000"/><path d="M452.1,3 C452.1,35.3 452.3,67.7 452,100 C451.6,133.3 451.3,166.7 450,200 C449.3,216.7 447.9,233.4 446,250 C443.9,269.1 440.4,288 438,307 C437,314.6 435.5,322.4 436,330 C436.5,338.4 438.8,346.8 441,355 C442.4,360.2 445,365 447,370" fill="none" stroke="#e8001c" stroke-width="2.2"/><path d="M448,64 L452,92 L456,64 Z" fill="#ff0000"/><path d="M446.6,170.9 L450,199 L454.6,171.1 Z" fill="#ff0000"/><path d="M487.4,3 C487.3,35.3 487.6,67.7 487.1,100 C486.6,133.3 487,166.8 484.4,200 C483.1,216.8 479.4,233.6 475.5,250 C473.1,260.2 468.8,270 465.4,280 C461.8,290.6 458.2,301.2 454.6,311.8 C452.8,317 451,322.1 449.2,327.3" fill="none" stroke="#e8001c" stroke-width="2.2"/><path d="M483.2,64 L487.1,92 L491.2,64 Z" fill="#ff0000"/><path d="M484.5,176.7 L483.5,205 L492.4,178.1 Z" fill="#ff0000"/><path d="M522.7,3 C522.7,7.5 522.7,11.9 522.7,16.4 C522.7,20.8 522.7,25.3 522.6,29.7 C522.6,34.2 522.6,38.6 522.5,43.1 C522.5,47.5 522.4,52 522.3,56.4 C522.2,60.9 522.1,65.3 522,69.8 C521.9,74.2 521.7,78.7 521.6,83.1 C521.4,87.6 521.2,92 521,96.5 C520.8,100.9 520.5,105.4 520.3,109.8 C520,114.3 519.7,118.7 519.4,123.2 C519.1,127.6 518.8,132.1 518.4,136.5 C518,141 517.6,145.4 517.2,149.9 C516.7,154.4 516.3,158.8 515.8,163.2 C515.3,167.7 514.7,172.2 514.2,176.6 C513.6,181.1 513,185.5 512.4,190 C511.7,194.4 511,198.9 510.3,203.3 C509.6,207.8 508.9,212.2 508.1,216.7 C507.3,221.1 506.4,225.6 505.6,230 C504.7,234.5 503.8,238.9 502.8,243.4 C501.9,247.8 500.9,252.3 499.8,256.7 C498.8,261.2 497.7,265.6 496.6,270.1 C495.4,274.5 494.3,279 493,283.4 C491.8,287.9 490.5,292.4 489.2,296.8 C487.9,301.3 486.5,305.7 485.1,310.1 C483.7,314.6 482.2,319 480.7,323.5" fill="none" stroke="#e8001c" stroke-width="2.2"/><path d="M518.4,63.9 L521.2,92 L526.4,64.2 Z" fill="#ff0000"/><path d="M510.8,176.8 L510,205.1 L518.6,178.1 Z" fill="#ff0000"/><path d="M490.4,279.4 L486,307.3 L498,281.7 Z" fill="#ff0000"/><path d="M558,3 C558,7.5 558,11.9 558,16.4 C558,20.8 558,25.3 557.9,29.7 C557.9,34.2 557.9,38.6 557.8,43.1 C557.8,47.5 557.7,52 557.7,56.4 C557.6,60.9 557.5,65.3 557.4,69.8 C557.3,74.2 557.2,78.7 557.1,83.1 C556.9,87.6 556.8,92 556.6,96.5 C556.5,100.9 556.3,105.4 556.1,109.8 C555.8,114.3 555.6,118.7 555.4,123.2 C555.1,127.6 554.8,132.1 554.5,136.5 C554.2,141 553.9,145.4 553.5,149.9 C553.2,154.3 552.8,158.8 552.4,163.2 C552,167.7 551.6,172.2 551.1,176.6 C550.7,181.1 550.2,185.5 549.7,190 C549.1,194.4 548.6,198.9 548,203.3 C547.4,207.8 546.8,212.2 546.2,216.7 C545.6,221.1 544.9,225.6 544.2,230 C543.5,234.5 542.7,238.9 542,243.4 C541.2,247.8 540.4,252.3 539.5,256.7 C538.7,261.2 537.8,265.6 536.9,270.1 C536,274.5 535,279 534.1,283.4 C533.1,287.9 532,292.3 531,296.8 C529.9,301.3 528.8,305.7 527.7,310.1 C526.5,314.6 525.3,319 524.1,323.5" fill="none" stroke="#e8001c" stroke-width="2.2"/><path d="M553.7,63.9 L556.8,92 L561.7,64.2 Z" fill="#ff0000"/><path d="M547.8,175.4 L548,203.7 L555.7,176.5 Z" fill="#ff0000"/><path d="M531.6,277.5 L528.8,305.7 L539.4,279.5 Z" fill="#ff0000"/><path d="M593.3,3 C593.3,7.5 593.3,11.9 593.3,16.4 C593.3,20.8 593.3,25.3 593.3,29.7 C593.2,34.2 593.2,38.6 593.2,43.1 C593.2,47.5 593.1,52 593.1,56.4 C593,60.9 592.9,65.3 592.9,69.8 C592.8,74.2 592.7,78.7 592.6,83.1 C592.5,87.6 592.4,92 592.3,96.5 C592.1,100.9 592,105.4 591.9,109.8 C591.7,114.3 591.5,118.7 591.3,123.2 C591.1,127.6 590.9,132.1 590.7,136.5 C590.5,141 590.2,145.4 590,149.9 C589.7,154.3 589.4,158.8 589.1,163.2 C588.8,167.7 588.5,172.2 588.2,176.6 C587.8,181.1 587.5,185.5 587.1,190 C586.7,194.4 586.3,198.9 585.9,203.3 C585.4,207.8 585,212.2 584.5,216.7 C584,221.1 583.5,225.6 583,230 C582.5,234.5 582,238.9 581.4,243.4 C580.8,247.8 580.2,252.3 579.6,256.7 C578.9,261.2 578.3,265.6 577.6,270.1 C576.9,274.5 576.2,279 575.5,283.4 C574.8,287.9 574,292.3 573.2,296.8 C572.4,301.2 571.6,305.7 570.7,310.1 C569.9,314.6 569,319 568.1,323.5" fill="none" stroke="#e8001c" stroke-width="2.2"/><path d="M589.1,63.9 L592.4,92 L597.1,64.1 Z" fill="#ff0000"/><path d="M584.5,174.1 L586,202.4 L592.5,174.9 Z" fill="#ff0000"/><path d="M573,275.8 L571.9,304 L580.9,277.2 Z" fill="#ff0000"/><path d="M628.6,3 C628.6,7.5 628.6,11.9 628.6,16.4 C628.6,20.8 628.6,25.3 628.6,29.7 C628.6,34.2 628.5,38.6 628.5,43.1 C628.5,47.5 628.5,52 628.4,56.4 C628.4,60.9 628.4,65.3 628.3,69.8 C628.3,74.2 628.2,78.7 628.1,83.1 C628.1,87.6 628,92 627.9,96.5 C627.8,100.9 627.7,105.4 627.6,109.8 C627.5,114.3 627.4,118.7 627.3,123.2 C627.1,127.6 627,132.1 626.8,136.5 C626.7,141 626.5,145.4 626.3,149.9 C626.2,154.3 626,158.8 625.8,163.2 C625.6,167.7 625.3,172.2 625.1,176.6 C624.9,181.1 624.6,185.5 624.4,190 C624.1,194.4 623.8,198.9 623.5,203.3 C623.2,207.8 622.9,212.2 622.6,216.7 C622.3,221.1 622,225.6 621.6,230 C621.2,234.5 620.9,238.9 620.5,243.4 C620.1,247.8 619.7,252.3 619.2,256.7 C618.8,261.2 618.4,265.6 617.9,270.1 C617.4,274.5 617,279 616.5,283.4 C616,287.9 615.4,292.3 614.9,296.8 C614.4,301.2 613.8,305.7 613.2,310.1 C612.6,314.6 612,319 611.4,323.5" fill="none" stroke="#e8001c" stroke-width="2.2"/><path d="M624.5,63.9 L628,92 L632.5,64.1 Z" fill="#ff0000"/><path d="M621.4,172.8 L623.7,201 L629.4,173.3 Z" fill="#ff0000"/><path d="M613.7,274.1 L614.2,302.4 L621.7,275.1 Z" fill="#ff0000"/><path d="M663.9,3 C663.9,7.5 663.9,11.9 663.9,16.4 C663.9,20.8 663.9,25.3 663.9,29.7 C663.9,34.2 663.9,38.6 663.9,43.1 C663.8,47.5 663.8,52 663.8,56.4 C663.8,60.9 663.8,65.3 663.7,69.8 C663.7,74.2 663.7,78.7 663.6,83.1 C663.6,87.6 663.6,92 663.5,96.5 C663.5,100.9 663.4,105.4 663.4,109.8 C663.3,114.3 663.2,118.7 663.2,123.2 C663.1,127.6 663,132.1 662.9,136.5 C662.9,141 662.8,145.4 662.7,149.9 C662.6,154.3 662.5,158.8 662.4,163.2 C662.3,167.7 662.1,172.2 662,176.6 C661.9,181.1 661.8,185.5 661.6,190 C661.5,194.4 661.3,198.9 661.2,203.3 C661,207.8 660.8,212.2 660.7,216.7 C660.5,221.1 660.3,225.6 660.1,230 C659.9,234.5 659.7,238.9 659.5,243.4 C659.3,247.8 659.1,252.3 658.8,256.7 C658.6,261.2 658.4,265.6 658.1,270.1 C657.9,274.5 657.6,279 657.3,283.4 C657.1,287.9 656.8,292.3 656.5,296.8 C656.2,301.2 655.9,305.7 655.6,310.1 C655.3,314.6 654.9,319 654.6,323.5" fill="none" stroke="#e8001c" stroke-width="2.2"/><path d="M659.8,64 L663.6,92 L667.8,64 Z" fill="#ff0000"/><path d="M658.2,171.5 L661.3,199.7 L666.2,171.8 Z" fill="#ff0000"/><path d="M654.1,272.6 L656.2,300.8 L662.1,273.1 Z" fill="#ff0000"/><path d="M699.2,3 C699.2,7.5 699.2,11.9 699.2,16.4 C699.2,20.8 699.2,25.3 699.2,29.7 C699.2,34.2 699.2,38.6 699.2,43.1 C699.2,47.5 699.2,52 699.1,56.4 C699.1,60.9 699.1,65.3 699.1,69.8 C699.1,74.2 699.1,78.7 699,83.1 C699,87.6 699,92 699,96.5 C698.9,100.9 698.9,105.4 698.8,109.8 C698.8,114.3 698.8,118.7 698.7,123.2 C698.7,127.6 698.6,132.1 698.6,136.5 C698.5,141 698.5,145.4 698.4,149.9 C698.3,154.3 698.3,158.8 698.2,163.2 C698.1,167.7 698,172.2 698,176.6 C697.9,181.1 697.8,185.5 697.7,190 C697.6,194.4 697.5,198.9 697.4,203.3 C697.3,207.8 697.2,212.2 697.1,216.7 C697,221.1 696.8,225.6 696.7,230 C696.6,234.5 696.4,238.9 696.3,243.4 C696.2,247.8 696,252.3 695.9,256.7 C695.7,261.2 695.6,265.6 695.4,270.1 C695.2,274.5 695.1,279 694.9,283.4 C694.7,287.9 694.5,292.3 694.3,296.8 C694.1,301.2 693.9,305.7 693.7,310.1 C693.5,314.6 693.3,319 693.1,323.5" fill="none" stroke="#e8001c" stroke-width="2.2"/><path d="M695.2,64 L699,92 L703.2,64 Z" fill="#ff0000"/><path d="M694.1,170.2 L697.5,198.3 L702.1,170.4 Z" fill="#ff0000"/><path d="M691.5,271 L694.2,299.2 L699.5,271.4 Z" fill="#ff0000"/></g><text x="169" y="69.5" font-family="Liberation Serif, serif" font-weight="bold" font-size="49" fill="#fff">&#937; = 0.0001</text>
<g clip-path="url(#cb)"><path d="M132,760.9 H373.2 Q383.2,760.9 383.2,770.9 V822.7 Q383.2,832.7 393.2,832.7 H445.8 Q455.8,832.7 455.8,822.7 V770.9 Q455.8,760.9 465.8,760.9 H709.5" fill="none" stroke="#5a5a5a" stroke-width="2.2"/><path d="M132,753.7 H382.9 Q390.9,753.7 390.9,761.7 V817.1 Q390.9,825.1 398.9,825.1 H440.1 Q448.1,825.1 448.1,817.1 V761.7 Q448.1,753.7 456.1,753.7 H709.5" fill="none" stroke="#5a5a5a" stroke-width="2.2"/><path d="M404.5,750 L400.5,816.5 L439,816.5 L434.5,750 Z" fill="#cfcfcf" stroke="#333" stroke-width="1.6"/><path d="M131,430 H710.5 L710.5,717 C634.2,717 557.8,716.9 481.5,717 C475.8,717 470.2,717 464.5,717.2 C462.2,717.3 459.8,717.4 457.5,717.8 C454.8,718.2 452,718.5 449.5,719.5 C447,720.4 444.4,721.7 442.4,723.5 C440.1,725.6 438,728.3 436.5,731 C434.9,733.9 433.9,737.2 432.9,740.4 C431.7,744.2 430.8,748.1 430,752 C429.5,754.3 429.2,756.7 429.1,759 C428.9,763.3 429.1,767.7 429.3,772 C429.6,777 430.2,782 430.5,787 C430.8,791 431.1,795 431,799 C430.9,801.3 431.2,804.4 430,806 C429,807.4 426.4,807.6 424.5,808 C422.9,808.3 421.2,808.2 419.5,808.2 C417.8,808.2 416.1,808.3 414.5,808 C412.6,807.6 410,807.4 409,806 C407.8,804.4 408.1,801.3 408,799 C407.9,795 408.2,791 408.5,787 C408.8,782 409.4,777 409.7,772 C409.9,767.7 410.1,763.3 409.9,759 C409.8,756.7 409.5,754.3 409,752 C408.2,748.1 407.3,744.2 406.1,740.4 C405.1,737.2 404.1,733.9 402.5,731 C401,728.3 398.9,725.6 396.6,723.5 C394.6,721.7 392,720.4 389.5,719.5 C387,718.5 384.2,718.2 381.5,717.8 C379.2,717.4 376.8,717.3 374.5,717.2 C368.8,717 363.2,717 357.5,717 C282,716.9 206.5,717 131,717 Z" fill="none" stroke="#3a3a3a" stroke-width="13.4"/><path d="M131,430 H710.5 L710.5,717 C634.2,717 557.8,716.9 481.5,717 C475.8,717 470.2,717 464.5,717.2 C462.2,717.3 459.8,717.4 457.5,717.8 C454.8,718.2 452,718.5 449.5,719.5 C447,720.4 444.4,721.7 442.4,723.5 C440.1,725.6 438,728.3 436.5,731 C434.9,733.9 433.9,737.2 432.9,740.4 C431.7,744.2 430.8,748.1 430,752 C429.5,754.3 429.2,756.7 429.1,759 C428.9,763.3 429.1,767.7 429.3,772 C429.6,777 430.2,782 430.5,787 C430.8,791 431.1,795 431,799 C430.9,801.3 431.2,804.4 430,806 C429,807.4 426.4,807.6 424.5,808 C422.9,808.3 421.2,808.2 419.5,808.2 C417.8,808.2 416.1,808.3 414.5,808 C412.6,807.6 410,807.4 409,806 C407.8,804.4 408.1,801.3 408,799 C407.9,795 408.2,791 408.5,787 C408.8,782 409.4,777 409.7,772 C409.9,767.7 410.1,763.3 409.9,759 C409.8,756.7 409.5,754.3 409,752 C408.2,748.1 407.3,744.2 406.1,740.4 C405.1,737.2 404.1,733.9 402.5,731 C401,728.3 398.9,725.6 396.6,723.5 C394.6,721.7 392,720.4 389.5,719.5 C387,718.5 384.2,718.2 381.5,717.8 C379.2,717.4 376.8,717.3 374.5,717.2 C368.8,717 363.2,717 357.5,717 C282,716.9 206.5,717 131,717 Z" fill="none" stroke="#cfd2d4" stroke-width="10.4"/><path d="M131,430 H710.5 L710.5,717 C634.2,717 557.8,716.9 481.5,717 C475.8,717 470.2,717 464.5,717.2 C462.2,717.3 459.8,717.4 457.5,717.8 C454.8,718.2 452,718.5 449.5,719.5 C447,720.4 444.4,721.7 442.4,723.5 C440.1,725.6 438,728.3 436.5,731 C434.9,733.9 433.9,737.2 432.9,740.4 C431.7,744.2 430.8,748.1 430,752 C429.5,754.3 429.2,756.7 429.1,759 C428.9,763.3 429.1,767.7 429.3,772 C429.6,777 430.2,782 430.5,787 C430.8,791 431.1,795 431,799 C430.9,801.3 431.2,804.4 430,806 C429,807.4 426.4,807.6 424.5,808 C422.9,808.3 421.2,808.2 419.5,808.2 C417.8,808.2 416.1,808.3 414.5,808 C412.6,807.6 410,807.4 409,806 C407.8,804.4 408.1,801.3 408,799 C407.9,795 408.2,791 408.5,787 C408.8,782 409.4,777 409.7,772 C409.9,767.7 410.1,763.3 409.9,759 C409.8,756.7 409.5,754.3 409,752 C408.2,748.1 407.3,744.2 406.1,740.4 C405.1,737.2 404.1,733.9 402.5,731 C401,728.3 398.9,725.6 396.6,723.5 C394.6,721.7 392,720.4 389.5,719.5 C387,718.5 384.2,718.2 381.5,717.8 C379.2,717.4 376.8,717.3 374.5,717.2 C368.8,717 363.2,717 357.5,717 C282,716.9 206.5,717 131,717 Z" fill="url(#gb)" stroke="#1a1a1a" stroke-width="1.3"/><ellipse cx="419.5" cy="728" rx="42" ry="45" fill="url(#rb)" clip-path="url(#eb)"/><path d="M134.5,430 V760.9 M707,430 V760.9" stroke="#4a4a4a" stroke-width="2"/></g><g clip-path="url(#cb)"><path d="M165.9,430 C165.9,434.1 165.9,438.3 165.9,442.4 C165.9,446.5 165.9,450.6 165.9,454.8 C165.9,458.9 165.9,463 165.9,467.1 C165.9,471.3 165.9,475.4 165.9,479.5 C165.9,483.6 165.9,487.8 165.9,491.9 C165.9,496 165.9,500.1 165.9,504.2 C166,508.4 166,512.5 166,516.6 C166,520.8 166,524.9 166,529 C166,533.1 166,537.3 166.1,541.4 C166.1,545.5 166.1,549.6 166.1,553.8 C166.1,557.9 166.2,562 166.2,566.1 C166.2,570.3 166.2,574.4 166.3,578.5 C166.3,582.6 166.3,586.8 166.4,590.9 C166.4,595 166.4,599.1 166.5,603.2 C166.5,607.4 166.6,611.5 166.6,615.6 C166.7,619.8 166.7,623.9 166.8,628 C166.8,632.1 166.9,636.3 166.9,640.4 C167,644.5 167.1,648.6 167.1,652.8 C167.2,656.9 167.3,661 167.3,665.1 C167.4,669.3 167.5,673.4 167.6,677.5 C167.7,681.6 167.7,685.8 167.8,689.9 C167.9,694 168,698.1 168.1,702.2 C168.2,706.4 168.3,710.5 168.4,714.6 C168.6,718.8 168.7,722.9 168.8,727" fill="none" stroke="#e8001c" stroke-width="2.2"/><path d="M162.7,495 L166,521 L169.2,495 Z" fill="#ff0000"/><path d="M163.1,597.2 L166.7,623.2 L169.6,597.2 Z" fill="#ff0000"/><path d="M164.7,698.1 L168.7,724 L171.2,697.9 Z" fill="#ff0000"/><path d="M198.9,430 C198.9,434.1 198.9,438.3 198.9,442.4 C198.9,446.5 198.9,450.6 198.9,454.8 C198.9,458.9 198.9,463 198.9,467.1 C198.9,471.3 198.9,475.4 198.9,479.5 C198.9,483.6 198.9,487.8 198.9,491.9 C199,496 199,500.1 199,504.2 C199,508.4 199,512.5 199,516.6 C199,520.8 199.1,524.9 199.1,529 C199.1,533.1 199.1,537.3 199.2,541.4 C199.2,545.5 199.2,549.6 199.3,553.8 C199.3,557.9 199.3,562 199.4,566.1 C199.4,570.3 199.5,574.4 199.5,578.5 C199.6,582.6 199.6,586.8 199.7,590.9 C199.8,595 199.8,599.1 199.9,603.2 C200,607.4 200.1,611.5 200.1,615.6 C200.2,619.8 200.3,623.9 200.4,628 C200.5,632.1 200.6,636.3 200.7,640.4 C200.8,644.5 200.9,648.6 201,652.8 C201.2,656.9 201.3,661 201.4,665.1 C201.6,669.3 201.7,673.4 201.8,677.5 C202,681.6 202.1,685.8 202.3,689.9 C202.5,694 202.6,698.1 202.8,702.2 C203,706.4 203.2,710.5 203.4,714.6 C203.6,718.8 203.8,722.9 204,727" fill="none" stroke="#e8001c" stroke-width="2.2"/><path d="M195.7,495 L199,521 L202.2,495 Z" fill="#ff0000"/><path d="M196.5,598.3 L200.3,624.2 L203,598.1 Z" fill="#ff0000"/><path d="M199.3,698.2 L203.8,724 L205.8,697.9 Z" fill="#ff0000"/><path d="M231.9,430 C231.9,434.1 231.9,438.3 231.9,442.4 C231.9,446.5 231.9,450.6 231.9,454.8 C231.9,458.9 231.9,463 231.9,467.1 C231.9,471.3 231.9,475.4 231.9,479.5 C231.9,483.6 232,487.8 232,491.9 C232,496 232,500.1 232,504.2 C232,508.4 232.1,512.5 232.1,516.6 C232.1,520.8 232.1,524.9 232.2,529 C232.2,533.1 232.3,537.3 232.3,541.4 C232.3,545.5 232.4,549.6 232.5,553.8 C232.5,557.9 232.6,562 232.6,566.1 C232.7,570.3 232.8,574.4 232.9,578.5 C232.9,582.6 233,586.8 233.1,590.9 C233.2,595 233.3,599.1 233.4,603.2 C233.5,607.4 233.6,611.5 233.8,615.6 C233.9,619.8 234,623.9 234.2,628 C234.3,632.1 234.4,636.3 234.6,640.4 C234.8,644.5 234.9,648.6 235.1,652.8 C235.3,656.9 235.5,661 235.7,665.1 C235.9,669.3 236.1,673.4 236.3,677.5 C236.5,681.6 236.8,685.8 237,689.9 C237.2,694 237.5,698.1 237.8,702.2 C238,706.4 238.3,710.5 238.6,714.6 C238.9,718.8 239.2,722.9 239.5,727" fill="none" stroke="#e8001c" stroke-width="2.2"/><path d="M228.7,495 L232.1,521 L235.2,495 Z" fill="#ff0000"/><path d="M230,599.3 L234.1,625.2 L236.5,599.1 Z" fill="#ff0000"/><path d="M234.1,698.3 L239.3,724 L240.6,697.8 Z" fill="#ff0000"/><path d="M264.9,430 C264.9,434.1 264.9,438.3 264.9,442.4 C264.9,446.5 264.9,450.6 264.9,454.8 C264.9,458.9 264.9,463 264.9,467.1 C264.9,471.3 264.9,475.4 264.9,479.5 C265,483.6 265,487.8 265,491.9 C265,496 265,500.1 265.1,504.2 C265.1,508.4 265.1,512.5 265.1,516.6 C265.2,520.8 265.2,524.9 265.3,529 C265.3,533.1 265.4,537.3 265.4,541.4 C265.5,545.5 265.6,549.6 265.6,553.8 C265.7,557.9 265.8,562 265.9,566.1 C266,570.3 266,574.4 266.2,578.5 C266.3,582.6 266.4,586.8 266.5,590.9 C266.6,595 266.7,599.1 266.9,603.2 C267,607.4 267.2,611.5 267.4,615.6 C267.5,619.8 267.7,623.9 267.9,628 C268.1,632.1 268.3,636.3 268.5,640.4 C268.7,644.5 268.9,648.6 269.1,652.8 C269.4,656.9 269.6,661 269.9,665.1 C270.1,669.3 270.4,673.4 270.7,677.5 C271,681.6 271.3,685.8 271.6,689.9 C271.9,694 272.3,698.1 272.6,702.2 C273,706.4 273.4,710.5 273.7,714.6 C274.1,718.8 274.5,722.9 274.9,727" fill="none" stroke="#e8001c" stroke-width="2.2"/><path d="M261.7,495 L265.2,521 L268.2,495 Z" fill="#ff0000"/><path d="M263.5,600.4 L267.8,626.2 L269.9,600.1 Z" fill="#ff0000"/><path d="M297.9,430 C297.9,434.1 297.9,438.3 297.9,442.4 C297.9,446.5 297.9,450.6 297.9,454.8 C297.9,458.9 297.9,463 297.9,467.1 C297.9,471.3 297.9,475.4 298,479.5 C298,483.6 298,487.8 298,491.9 C298,496 298.1,500.1 298.1,504.2 C298.1,508.4 298.2,512.5 298.2,516.6 C298.3,520.8 298.3,524.9 298.4,529 C298.4,533.1 298.5,537.3 298.6,541.4 C298.6,545.5 298.7,549.6 298.8,553.8 C298.9,557.9 299,562 299.1,566.1 C299.2,570.3 299.3,574.4 299.4,578.5 C299.6,582.6 299.7,586.8 299.9,590.9 C300,595 300.2,599.1 300.4,603.2 C300.5,607.4 300.7,611.5 300.9,615.6 C301.1,619.8 301.3,623.9 301.6,628 C301.8,632.1 302,636.3 302.3,640.4 C302.6,644.5 302.8,648.6 303.1,652.8 C303.4,656.9 303.7,661 304,665.1 C304.4,669.3 304.7,673.4 305.1,677.5 C305.4,681.6 305.8,685.8 306.2,689.9 C306.6,694 307,698.1 307.4,702.2 C307.9,706.4 308.3,710.5 308.8,714.6 C309.3,718.8 309.8,722.9 310.3,727" fill="none" stroke="#e8001c" stroke-width="2.2"/><path d="M294.7,495 L298.3,521 L301.2,495 Z" fill="#ff0000"/><path d="M296.9,601.5 L301.5,627.3 L303.4,601.1 Z" fill="#ff0000"/><path d="M330.9,430 C330.9,434.1 330.9,438.3 330.9,442.4 C330.9,446.5 330.9,450.6 330.9,454.8 C330.9,458.9 330.9,463 330.9,467.1 C330.9,471.3 331,475.4 331,479.5 C331,483.6 331,487.8 331.1,491.9 C331.1,496 331.1,500.1 331.2,504.2 C331.2,508.4 331.3,512.5 331.3,516.6 C331.4,520.8 331.4,524.9 331.5,529 C331.6,533.1 331.7,537.3 331.8,541.4 C331.9,545.5 332,549.6 332.1,553.8 C332.2,557.9 332.4,562 332.5,566.1 C332.6,570.3 332.8,574.4 333,578.5 C333.2,582.6 333.3,586.8 333.5,590.9 C333.8,595 334,599.1 334.2,603.2 C334.4,607.4 334.7,611.5 335,615.6 C335.2,619.8 335.5,623.9 335.8,628 C336.1,632.1 336.5,636.3 336.8,640.4 C337.2,644.5 337.5,648.6 337.9,652.8 C338.3,656.9 338.7,661 339.2,665.1 C339.6,669.3 340.1,673.4 340.5,677.5 C341,681.6 341.5,685.8 342.1,689.9 C342.6,694 343.1,698.1 343.7,702.2 C344.3,706.4 344.9,710.5 345.6,714.6 C346.2,718.8 346.9,722.9 347.6,727" fill="none" stroke="#e8001c" stroke-width="2.2"/><path d="M327.7,495.1 L331.4,521 L334.2,495 Z" fill="#ff0000"/><path d="M330.6,602.6 L335.9,628.3 L337,602.1 Z" fill="#ff0000"/><path d="M363.9,430 C363.9,434.1 363.9,438.3 363.9,442.4 C363.9,446.5 363.9,450.6 363.9,454.8 C363.9,458.9 363.9,463 363.9,467.1 C364,471.3 364,475.4 364,479.5 C364,483.6 364,487.8 364.1,491.9 C364.1,496 364.2,500.1 364.2,504.2 C364.3,508.4 364.3,512.5 364.4,516.6 C364.5,520.8 364.6,524.9 364.7,529 C364.8,533.1 364.9,537.3 365,541.4 C365.1,545.5 365.2,549.6 365.4,553.8 C365.5,557.9 365.7,562 365.9,566.1 C366,570.3 366.2,574.4 366.5,578.5 C366.7,582.6 366.9,586.8 367.2,590.9 C367.4,595 367.7,599.1 368,603.2 C368.3,607.4 368.6,611.5 368.9,615.6 C369.2,619.8 369.6,623.9 370,628 C370.3,632.1 370.7,636.3 371.2,640.4 C371.6,644.5 372.1,648.6 372.5,652.8 C373,656.9 373.5,661 374.1,665.1 C374.6,669.3 375.1,673.4 375.7,677.5 C376.3,681.6 377,685.8 377.6,689.9 C378.3,694 378.9,698.1 379.7,702.2 C380.4,706.4 381.1,710.5 381.9,714.6 C382.7,718.8 383.5,722.9 384.4,727" fill="none" stroke="#e8001c" stroke-width="2.2"/><path d="M360.7,495.1 L364.5,521 L367.2,494.9 Z" fill="#ff0000"/><path d="M364.3,603.7 L370.1,629.3 L370.8,603.1 Z" fill="#ff0000"/><path d="M396.9,430 C397,470 396.7,510 397.2,550 C397.6,580 398,610 399.4,640 C400.4,660 402.5,680 404.4,700 C405.5,711.7 407.2,723.3 408.4,735 C409.2,743.3 409.7,751.7 410.4,760" fill="none" stroke="#e8001c" stroke-width="2.2"/><path d="M393.8,495 L397.1,521 L400.3,495 Z" fill="#ff0000"/><path d="M395.2,602.1 L399.1,628 L401.7,601.9 Z" fill="#ff0000"/><path d="M429.9,430 C429.8,470 430.1,510 429.6,550 C429.2,580 428.4,610 427.4,640 C426.7,660 425.5,680 424.4,700 C423.8,711.7 423,723.3 422.4,735 C422,741.7 421.7,748.3 421.4,755" fill="none" stroke="#e8001c" stroke-width="2.2"/><path d="M426.5,495 L429.7,521 L433,495 Z" fill="#ff0000"/><path d="M425.1,601.9 L427.7,628 L431.6,602.1 Z" fill="#ff0000"/><path d="M462.9,430 C462.9,434.1 462.9,438.3 462.9,442.4 C462.9,446.5 462.9,450.6 462.9,454.8 C462.9,458.9 462.9,463 462.9,467.1 C462.8,471.3 462.8,475.4 462.8,479.5 C462.8,483.6 462.8,487.8 462.7,491.9 C462.7,496 462.6,500.1 462.6,504.2 C462.5,508.4 462.5,512.5 462.4,516.6 C462.3,520.8 462.2,524.9 462.1,529 C462,533.1 461.9,537.3 461.8,541.4 C461.7,545.5 461.6,549.6 461.4,553.8 C461.3,557.9 461.1,562 460.9,566.1 C460.8,570.3 460.6,574.4 460.3,578.5 C460.1,582.6 459.9,586.8 459.6,590.9 C459.4,595 459.1,599.1 458.8,603.2 C458.5,607.4 458.2,611.5 457.9,615.6 C457.6,619.8 457.2,623.9 456.8,628 C456.5,632.1 456.1,636.3 455.6,640.4 C455.2,644.5 454.7,648.6 454.3,652.8 C453.8,656.9 453.3,661 452.7,665.1 C452.2,669.3 451.7,673.4 451.1,677.5 C450.5,681.6 449.8,685.8 449.2,689.9 C448.5,694 447.9,698.1 447.1,702.2 C446.4,706.4 445.7,710.5 444.9,714.6 C444.1,718.8 443.3,722.9 442.4,727" fill="none" stroke="#e8001c" stroke-width="2.2"/><path d="M459.6,494.9 L462.3,521 L466.1,495.1 Z" fill="#ff0000"/><path d="M456,603.5 L456.7,629.7 L462.4,604.1 Z" fill="#ff0000"/><path d="M495.9,430 C495.9,434.1 495.9,438.3 495.9,442.4 C495.9,446.5 495.9,450.6 495.9,454.8 C495.9,458.9 495.9,463 495.9,467.1 C495.9,471.3 495.8,475.4 495.8,479.5 C495.8,483.6 495.8,487.8 495.7,491.9 C495.7,496 495.7,500.1 495.6,504.2 C495.6,508.4 495.5,512.5 495.5,516.6 C495.4,520.8 495.3,524.9 495.2,529 C495.1,533.1 495.1,537.3 494.9,541.4 C494.8,545.5 494.7,549.6 494.6,553.8 C494.5,557.9 494.3,562 494.2,566.1 C494,570.3 493.8,574.4 493.6,578.5 C493.5,582.6 493.2,586.8 493,590.9 C492.8,595 492.6,599.1 492.3,603.2 C492.1,607.4 491.8,611.5 491.5,615.6 C491.2,619.8 490.9,623.9 490.5,628 C490.2,632.1 489.9,636.3 489.5,640.4 C489.1,644.5 488.7,648.6 488.3,652.8 C487.8,656.9 487.4,661 486.9,665.1 C486.5,669.3 486,673.4 485.4,677.5 C484.9,681.6 484.4,685.8 483.8,689.9 C483.2,694 482.6,698.1 482,702.2 C481.3,706.4 480.7,710.5 480,714.6 C479.3,718.8 478.5,722.9 477.8,727" fill="none" stroke="#e8001c" stroke-width="2.2"/><path d="M492.6,494.9 L495.4,521 L499.1,495.1 Z" fill="#ff0000"/><path d="M489.5,602.5 L490.5,628.6 L496,603 Z" fill="#ff0000"/><path d="M528.9,430 C528.9,434.1 528.9,438.3 528.9,442.4 C528.9,446.5 528.9,450.6 528.9,454.8 C528.9,458.9 528.9,463 528.9,467.1 C528.9,471.3 528.9,475.4 528.8,479.5 C528.8,483.6 528.8,487.8 528.8,491.9 C528.7,496 528.7,500.1 528.7,504.2 C528.6,508.4 528.6,512.5 528.6,516.6 C528.5,520.8 528.4,524.9 528.4,529 C528.3,533.1 528.2,537.3 528.2,541.4 C528.1,545.5 528,549.6 527.9,553.8 C527.8,557.9 527.7,562 527.6,566.1 C527.4,570.3 527.3,574.4 527.2,578.5 C527,582.6 526.9,586.8 526.7,590.9 C526.5,595 526.3,599.1 526.1,603.2 C525.9,607.4 525.7,611.5 525.5,615.6 C525.3,619.8 525,623.9 524.8,628 C524.5,632.1 524.2,636.3 523.9,640.4 C523.6,644.5 523.3,648.6 523,652.8 C522.7,656.9 522.3,661 522,665.1 C521.6,669.3 521.2,673.4 520.8,677.5 C520.4,681.6 520,685.8 519.5,689.9 C519.1,694 518.6,698.1 518.1,702.2 C517.7,706.4 517.1,710.5 516.6,714.6 C516.1,718.8 515.5,722.9 514.9,727" fill="none" stroke="#e8001c" stroke-width="2.2"/><path d="M525.6,495 L528.5,521 L532.1,495 Z" fill="#ff0000"/><path d="M523.1,601.5 L524.8,627.6 L529.6,601.9 Z" fill="#ff0000"/><path d="M561.9,430 C561.9,434.1 561.9,438.3 561.9,442.4 C561.9,446.5 561.9,450.6 561.9,454.8 C561.9,458.9 561.9,463 561.9,467.1 C561.9,471.3 561.9,475.4 561.8,479.5 C561.8,483.6 561.8,487.8 561.8,491.9 C561.8,496 561.8,500.1 561.7,504.2 C561.7,508.4 561.7,512.5 561.6,516.6 C561.6,520.8 561.5,524.9 561.5,529 C561.4,533.1 561.4,537.3 561.3,541.4 C561.3,545.5 561.2,549.6 561.1,553.8 C561,557.9 560.9,562 560.9,566.1 C560.8,570.3 560.7,574.4 560.5,578.5 C560.4,582.6 560.3,586.8 560.2,590.9 C560,595 559.9,599.1 559.7,603.2 C559.6,607.4 559.4,611.5 559.2,615.6 C559.1,619.8 558.9,623.9 558.7,628 C558.5,632.1 558.3,636.3 558,640.4 C557.8,644.5 557.6,648.6 557.3,652.8 C557,656.9 556.8,661 556.5,665.1 C556.2,669.3 555.9,673.4 555.6,677.5 C555.3,681.6 555,685.8 554.6,689.9 C554.3,694 553.9,698.1 553.5,702.2 C553.1,706.4 552.7,710.5 552.3,714.6 C551.9,718.8 551.4,722.9 551,727" fill="none" stroke="#e8001c" stroke-width="2.2"/><path d="M558.6,495 L561.6,521 L565.1,495 Z" fill="#ff0000"/><path d="M556.7,600.5 L558.7,626.6 L563.2,600.8 Z" fill="#ff0000"/><path d="M594.9,430 C594.9,434.1 594.9,438.3 594.9,442.4 C594.9,446.5 594.9,450.6 594.9,454.8 C594.9,458.9 594.9,463 594.9,467.1 C594.9,471.3 594.9,475.4 594.9,479.5 C594.9,483.6 594.8,487.8 594.8,491.9 C594.8,496 594.8,500.1 594.8,504.2 C594.7,508.4 594.7,512.5 594.7,516.6 C594.7,520.8 594.6,524.9 594.6,529 C594.5,533.1 594.5,537.3 594.5,541.4 C594.4,545.5 594.3,549.6 594.3,553.8 C594.2,557.9 594.2,562 594.1,566.1 C594,570.3 593.9,574.4 593.8,578.5 C593.7,582.6 593.7,586.8 593.5,590.9 C593.4,595 593.3,599.1 593.2,603.2 C593.1,607.4 593,611.5 592.8,615.6 C592.7,619.8 592.5,623.9 592.4,628 C592.2,632.1 592.1,636.3 591.9,640.4 C591.7,644.5 591.5,648.6 591.3,652.8 C591.1,656.9 590.9,661 590.7,665.1 C590.5,669.3 590.2,673.4 590,677.5 C589.7,681.6 589.5,685.8 589.2,689.9 C588.9,694 588.6,698.1 588.3,702.2 C588,706.4 587.7,710.5 587.4,714.6 C587.1,718.8 586.7,722.9 586.4,727" fill="none" stroke="#e8001c" stroke-width="2.2"/><path d="M591.6,495 L594.7,521 L598.1,495 Z" fill="#ff0000"/><path d="M590.1,599.5 L592.5,625.6 L596.6,599.7 Z" fill="#ff0000"/><path d="M585.5,697.8 L586.6,724 L592,698.4 Z" fill="#ff0000"/><path d="M627.9,430 C627.9,434.1 627.9,438.3 627.9,442.4 C627.9,446.5 627.9,450.6 627.9,454.8 C627.9,458.9 627.9,463 627.9,467.1 C627.9,471.3 627.9,475.4 627.9,479.5 C627.9,483.6 627.9,487.8 627.8,491.9 C627.8,496 627.8,500.1 627.8,504.2 C627.8,508.4 627.8,512.5 627.8,516.6 C627.7,520.8 627.7,524.9 627.7,529 C627.6,533.1 627.6,537.3 627.6,541.4 C627.5,545.5 627.5,549.6 627.5,553.8 C627.4,557.9 627.4,562 627.3,566.1 C627.3,570.3 627.2,574.4 627.1,578.5 C627.1,582.6 627,586.8 626.9,590.9 C626.9,595 626.8,599.1 626.7,603.2 C626.6,607.4 626.5,611.5 626.4,615.6 C626.3,619.8 626.2,623.9 626.1,628 C626,632.1 625.9,636.3 625.8,640.4 C625.6,644.5 625.5,648.6 625.4,652.8 C625.2,656.9 625.1,661 624.9,665.1 C624.8,669.3 624.6,673.4 624.4,677.5 C624.2,681.6 624.1,685.8 623.9,689.9 C623.7,694 623.5,698.1 623.3,702.2 C623,706.4 622.8,710.5 622.6,714.6 C622.4,718.8 622.1,722.9 621.9,727" fill="none" stroke="#e8001c" stroke-width="2.2"/><path d="M624.6,495 L627.7,521 L631.1,495 Z" fill="#ff0000"/><path d="M623.6,598.5 L626.2,624.6 L630.1,598.7 Z" fill="#ff0000"/><path d="M620.3,697.9 L622,724 L626.8,698.2 Z" fill="#ff0000"/><path d="M660.9,430 C660.9,434.1 660.9,438.3 660.9,442.4 C660.9,446.5 660.9,450.6 660.9,454.8 C660.9,458.9 660.9,463 660.9,467.1 C660.9,471.3 660.9,475.4 660.9,479.5 C660.9,483.6 660.9,487.8 660.9,491.9 C660.9,496 660.9,500.1 660.8,504.2 C660.8,508.4 660.8,512.5 660.8,516.6 C660.8,520.8 660.8,524.9 660.8,529 C660.7,533.1 660.7,537.3 660.7,541.4 C660.7,545.5 660.7,549.6 660.6,553.8 C660.6,557.9 660.6,562 660.5,566.1 C660.5,570.3 660.5,574.4 660.4,578.5 C660.4,582.6 660.4,586.8 660.3,590.9 C660.3,595 660.2,599.1 660.2,603.2 C660.1,607.4 660.1,611.5 660,615.6 C659.9,619.8 659.9,623.9 659.8,628 C659.7,632.1 659.7,636.3 659.6,640.4 C659.5,644.5 659.4,648.6 659.3,652.8 C659.3,656.9 659.2,661 659.1,665.1 C659,669.3 658.9,673.4 658.8,677.5 C658.7,681.6 658.5,685.8 658.4,689.9 C658.3,694 658.2,698.1 658.1,702.2 C657.9,706.4 657.8,710.5 657.6,714.6 C657.5,718.8 657.3,722.9 657.2,727" fill="none" stroke="#e8001c" stroke-width="2.2"/><path d="M657.6,495 L660.8,521 L664.1,495 Z" fill="#ff0000"/><path d="M657,597.5 L659.9,623.6 L663.5,597.6 Z" fill="#ff0000"/><path d="M655,697.9 L657.3,724 L661.5,698.1 Z" fill="#ff0000"/><path d="M693.9,430 C693.9,434.1 693.9,438.3 693.9,442.4 C693.9,446.5 693.9,450.6 693.9,454.8 C693.9,458.9 693.9,463 693.9,467.1 C693.9,471.3 693.9,475.4 693.9,479.5 C693.9,483.6 693.9,487.8 693.9,491.9 C693.9,496 693.9,500.1 693.9,504.2 C693.9,508.4 693.8,512.5 693.8,516.6 C693.8,520.8 693.8,524.9 693.8,529 C693.8,533.1 693.8,537.3 693.8,541.4 C693.8,545.5 693.7,549.6 693.7,553.8 C693.7,557.9 693.7,562 693.7,566.1 C693.7,570.3 693.6,574.4 693.6,578.5 C693.6,582.6 693.6,586.8 693.5,590.9 C693.5,595 693.5,599.1 693.4,603.2 C693.4,607.4 693.4,611.5 693.3,615.6 C693.3,619.8 693.2,623.9 693.2,628 C693.2,632.1 693.1,636.3 693.1,640.4 C693,644.5 693,648.6 692.9,652.8 C692.8,656.9 692.8,661 692.7,665.1 C692.7,669.3 692.6,673.4 692.5,677.5 C692.5,681.6 692.4,685.8 692.3,689.9 C692.2,694 692.2,698.1 692.1,702.2 C692,706.4 691.9,710.5 691.8,714.6 C691.7,718.8 691.6,722.9 691.5,727" fill="none" stroke="#e8001c" stroke-width="2.2"/><path d="M690.6,495 L693.8,521 L697.1,495 Z" fill="#ff0000"/><path d="M690.3,596.5 L693.3,622.6 L696.8,596.6 Z" fill="#ff0000"/><path d="M688.9,697.9 L691.6,724 L695.4,698.1 Z" fill="#ff0000"/><path d="M416.5,752 L423,750.5 L433,795 Z" fill="#ff0000"/></g><text x="169" y="497" font-family="Liberation Serif, serif" font-weight="bold" font-size="49" fill="#fff">&#937; = 0.001</text>
<g clip-path="url(#cc)"><path d="M132,1195.2 H373.7 Q383.7,1195.2 383.7,1205.2 V1258 Q383.7,1268 393.7,1268 H446.3 Q456.3,1268 456.3,1258 V1205.2 Q456.3,1195.2 466.3,1195.2 H709.5" fill="none" stroke="#5a5a5a" stroke-width="2.2"/><path d="M132,1188.3 H383.4 Q391.4,1188.3 391.4,1196.3 V1251.5 Q391.4,1259.5 399.4,1259.5 H440.6 Q448.6,1259.5 448.6,1251.5 V1196.3 Q448.6,1188.3 456.6,1188.3 H709.5" fill="none" stroke="#5a5a5a" stroke-width="2.2"/><path d="M403,1206 L391.5,1253.5 Q391.5,1259.5 398,1259.5 L442,1259.5 Q448.5,1259.5 448.5,1253.5 L437,1206 Z" fill="#c9c9c9" stroke="#2a2a2a" stroke-width="2.2"/><path d="M131,864.4 H710.5 L710.5,1130.5 C640.3,1130.5 570.2,1130.3 500,1130.5 C494,1130.5 488,1130.6 482,1131 C476.3,1131.4 470.5,1131.8 465,1133 C461.2,1133.9 457.5,1135.5 454,1137.3 C451.2,1138.7 448.4,1140.4 446.2,1142.6 C443.4,1145.3 441,1148.7 439.1,1152.1 C437,1155.8 435.8,1160 434.3,1164 C433.4,1166.5 432.4,1169 431.9,1171.6 C431.1,1175.5 430.4,1179.5 430.4,1183.5 C430.4,1187.8 431,1192.2 431.9,1196.5 C433,1201.9 435.1,1207.1 436.2,1212.5 C437.4,1218.4 438.1,1224.5 439,1230.5 C439.4,1233.3 440.1,1236.2 440,1239 C439.9,1242 440,1245.8 438.5,1248 C437.3,1249.7 434.3,1250.3 432,1250.7 C428.1,1251.3 424,1251 420,1251 C416,1251 411.9,1251.3 408,1250.7 C405.7,1250.3 402.7,1249.7 401.5,1248 C400,1245.8 400.1,1242 400,1239 C399.9,1236.2 400.6,1233.3 401,1230.5 C401.9,1224.5 402.6,1218.4 403.8,1212.5 C404.9,1207.1 407,1201.9 408.1,1196.5 C409,1192.2 409.6,1187.8 409.6,1183.5 C409.6,1179.5 408.9,1175.5 408.1,1171.6 C407.6,1169 406.6,1166.5 405.7,1164 C404.2,1160 403,1155.8 400.9,1152.1 C399,1148.7 396.6,1145.3 393.8,1142.6 C391.6,1140.4 388.8,1138.7 386,1137.3 C382.5,1135.5 378.8,1133.9 375,1133 C369.5,1131.8 363.7,1131.4 358,1131 C352,1130.6 346,1130.5 340,1130.5 C270.3,1130.3 200.7,1130.5 131,1130.5 Z" fill="none" stroke="#3a3a3a" stroke-width="15"/><path d="M131,864.4 H710.5 L710.5,1130.5 C640.3,1130.5 570.2,1130.3 500,1130.5 C494,1130.5 488,1130.6 482,1131 C476.3,1131.4 470.5,1131.8 465,1133 C461.2,1133.9 457.5,1135.5 454,1137.3 C451.2,1138.7 448.4,1140.4 446.2,1142.6 C443.4,1145.3 441,1148.7 439.1,1152.1 C437,1155.8 435.8,1160 434.3,1164 C433.4,1166.5 432.4,1169 431.9,1171.6 C431.1,1175.5 430.4,1179.5 430.4,1183.5 C430.4,1187.8 431,1192.2 431.9,1196.5 C433,1201.9 435.1,1207.1 436.2,1212.5 C437.4,1218.4 438.1,1224.5 439,1230.5 C439.4,1233.3 440.1,1236.2 440,1239 C439.9,1242 440,1245.8 438.5,1248 C437.3,1249.7 434.3,1250.3 432,1250.7 C428.1,1251.3 424,1251 420,1251 C416,1251 411.9,1251.3 408,1250.7 C405.7,1250.3 402.7,1249.7 401.5,1248 C400,1245.8 400.1,1242 400,1239 C399.9,1236.2 400.6,1233.3 401,1230.5 C401.9,1224.5 402.6,1218.4 403.8,1212.5 C404.9,1207.1 407,1201.9 408.1,1196.5 C409,1192.2 409.6,1187.8 409.6,1183.5 C409.6,1179.5 408.9,1175.5 408.1,1171.6 C407.6,1169 406.6,1166.5 405.7,1164 C404.2,1160 403,1155.8 400.9,1152.1 C399,1148.7 396.6,1145.3 393.8,1142.6 C391.6,1140.4 388.8,1138.7 386,1137.3 C382.5,1135.5 378.8,1133.9 375,1133 C369.5,1131.8 363.7,1131.4 358,1131 C352,1130.6 346,1130.5 340,1130.5 C270.3,1130.3 200.7,1130.5 131,1130.5 Z" fill="none" stroke="#cfd2d4" stroke-width="12"/><path d="M131,864.4 H710.5 L710.5,1130.5 C640.3,1130.5 570.2,1130.3 500,1130.5 C494,1130.5 488,1130.6 482,1131 C476.3,1131.4 470.5,1131.8 465,1133 C461.2,1133.9 457.5,1135.5 454,1137.3 C451.2,1138.7 448.4,1140.4 446.2,1142.6 C443.4,1145.3 441,1148.7 439.1,1152.1 C437,1155.8 435.8,1160 434.3,1164 C433.4,1166.5 432.4,1169 431.9,1171.6 C431.1,1175.5 430.4,1179.5 430.4,1183.5 C430.4,1187.8 431,1192.2 431.9,1196.5 C433,1201.9 435.1,1207.1 436.2,1212.5 C437.4,1218.4 438.1,1224.5 439,1230.5 C439.4,1233.3 440.1,1236.2 440,1239 C439.9,1242 440,1245.8 438.5,1248 C437.3,1249.7 434.3,1250.3 432,1250.7 C428.1,1251.3 424,1251 420,1251 C416,1251 411.9,1251.3 408,1250.7 C405.7,1250.3 402.7,1249.7 401.5,1248 C400,1245.8 400.1,1242 400,1239 C399.9,1236.2 400.6,1233.3 401,1230.5 C401.9,1224.5 402.6,1218.4 403.8,1212.5 C404.9,1207.1 407,1201.9 408.1,1196.5 C409,1192.2 409.6,1187.8 409.6,1183.5 C409.6,1179.5 408.9,1175.5 408.1,1171.6 C407.6,1169 406.6,1166.5 405.7,1164 C404.2,1160 403,1155.8 400.9,1152.1 C399,1148.7 396.6,1145.3 393.8,1142.6 C391.6,1140.4 388.8,1138.7 386,1137.3 C382.5,1135.5 378.8,1133.9 375,1133 C369.5,1131.8 363.7,1131.4 358,1131 C352,1130.6 346,1130.5 340,1130.5 C270.3,1130.3 200.7,1130.5 131,1130.5 Z" fill="url(#gc)" stroke="#1a1a1a" stroke-width="1.3"/><ellipse cx="420" cy="1152.5" rx="48" ry="52" fill="url(#rc)" clip-path="url(#ec)"/><path d="M134.5,864.4 V1195.2 M707,864.4 V1195.2" stroke="#4a4a4a" stroke-width="2"/></g><g clip-path="url(#cc)"><path d="M149.8,864.4 L149.8,1134.5" fill="none" stroke="#e8001c" stroke-width="2.2"/><path d="M144.8,909.5 L149.8,949.5 L154.8,909.5 Z" fill="#ff0000"/><path d="M144.8,1011.5 L149.8,1051.5 L154.8,1011.5 Z" fill="#ff0000"/><path d="M181.3,864.4 L181.3,1134.5" fill="none" stroke="#e8001c" stroke-width="2.2"/><path d="M176.3,909.5 L181.3,949.5 L186.3,909.5 Z" fill="#ff0000"/><path d="M176.3,1011.5 L181.3,1051.5 L186.3,1011.5 Z" fill="#ff0000"/><path d="M212.8,864.4 L212.8,1134.5" fill="none" stroke="#e8001c" stroke-width="2.2"/><path d="M207.8,909.5 L212.8,949.5 L217.8,909.5 Z" fill="#ff0000"/><path d="M207.8,1011.5 L212.8,1051.5 L217.8,1011.5 Z" fill="#ff0000"/><path d="M244.3,864.4 L244.3,1134.5" fill="none" stroke="#e8001c" stroke-width="2.2"/><path d="M239.3,909.5 L244.3,949.5 L249.3,909.5 Z" fill="#ff0000"/><path d="M239.3,1011.5 L244.3,1051.5 L249.3,1011.5 Z" fill="#ff0000"/><path d="M275.8,864.4 L275.8,1134.5" fill="none" stroke="#e8001c" stroke-width="2.2"/><path d="M270.8,909.5 L275.8,949.5 L280.8,909.5 Z" fill="#ff0000"/><path d="M270.8,1011.5 L275.8,1051.5 L280.8,1011.5 Z" fill="#ff0000"/><path d="M307.3,864.4 L307.3,1134.5" fill="none" stroke="#e8001c" stroke-width="2.2"/><path d="M302.3,909.5 L307.3,949.5 L312.3,909.5 Z" fill="#ff0000"/><path d="M302.3,1011.5 L307.3,1051.5 L312.3,1011.5 Z" fill="#ff0000"/><path d="M338.8,864.4 L338.8,1134.5" fill="none" stroke="#e8001c" stroke-width="2.2"/><path d="M333.8,909.5 L338.8,949.5 L343.8,909.5 Z" fill="#ff0000"/><path d="M333.8,1011.5 L338.8,1051.5 L343.8,1011.5 Z" fill="#ff0000"/><path d="M370.3,864.4 L370.3,1165.5" fill="none" stroke="#e8001c" stroke-width="2.2"/><path d="M365.3,909.5 L370.3,949.5 L375.3,909.5 Z" fill="#ff0000"/><path d="M365.3,1011.5 L370.3,1051.5 L375.3,1011.5 Z" fill="#ff0000"/><path d="M370.3,1097.5 L370.3,1165.5" fill="none" stroke="#e8001c" stroke-width="2.2"/><path d="M365.3,1113.5 L370.3,1157.5 L375.3,1113.5 Z" fill="#ff0000"/><path d="M401.8,864.4 L401.8,1165.5" fill="none" stroke="#e8001c" stroke-width="2.2"/><path d="M396.8,909.5 L401.8,949.5 L406.8,909.5 Z" fill="#ff0000"/><path d="M396.8,1011.5 L401.8,1051.5 L406.8,1011.5 Z" fill="#ff0000"/><path d="M401.8,1097.5 L401.8,1165.5" fill="none" stroke="#e8001c" stroke-width="2.2"/><path d="M396.8,1113.5 L401.8,1157.5 L406.8,1113.5 Z" fill="#ff0000"/><path d="M433.3,864.4 L433.3,1165.5" fill="none" stroke="#e8001c" stroke-width="2.2"/><path d="M428.3,909.5 L433.3,949.5 L438.3,909.5 Z" fill="#ff0000"/><path d="M428.3,1011.5 L433.3,1051.5 L438.3,1011.5 Z" fill="#ff0000"/><path d="M433.3,1097.5 L433.3,1165.5" fill="none" stroke="#e8001c" stroke-width="2.2"/><path d="M428.3,1113.5 L433.3,1157.5 L438.3,1113.5 Z" fill="#ff0000"/><path d="M464.8,864.4 L464.8,1165.5" fill="none" stroke="#e8001c" stroke-width="2.2"/><path d="M459.8,909.5 L464.8,949.5 L469.8,909.5 Z" fill="#ff0000"/><path d="M459.8,1011.5 L464.8,1051.5 L469.8,1011.5 Z" fill="#ff0000"/><path d="M464.8,1097.5 L464.8,1165.5" fill="none" stroke="#e8001c" stroke-width="2.2"/><path d="M459.8,1113.5 L464.8,1157.5 L469.8,1113.5 Z" fill="#ff0000"/><path d="M496.3,864.4 L496.3,1134.5" fill="none" stroke="#e8001c" stroke-width="2.2"/><path d="M491.3,909.5 L496.3,949.5 L501.3,909.5 Z" fill="#ff0000"/><path d="M491.3,1011.5 L496.3,1051.5 L501.3,1011.5 Z" fill="#ff0000"/><path d="M527.8,864.4 L527.8,1134.5" fill="none" stroke="#e8001c" stroke-width="2.2"/><path d="M522.8,909.5 L527.8,949.5 L532.8,909.5 Z" fill="#ff0000"/><path d="M522.8,1011.5 L527.8,1051.5 L532.8,1011.5 Z" fill="#ff0000"/><path d="M559.3,864.4 L559.3,1134.5" fill="none" stroke="#e8001c" stroke-width="2.2"/><path d="M554.3,909.5 L559.3,949.5 L564.3,909.5 Z" fill="#ff0000"/><path d="M554.3,1011.5 L559.3,1051.5 L564.3,1011.5 Z" fill="#ff0000"/><path d="M590.8,864.4 L590.8,1134.5" fill="none" stroke="#e8001c" stroke-width="2.2"/><path d="M585.8,909.5 L590.8,949.5 L595.8,909.5 Z" fill="#ff0000"/><path d="M585.8,1011.5 L590.8,1051.5 L595.8,1011.5 Z" fill="#ff0000"/><path d="M622.3,864.4 L622.3,1134.5" fill="none" stroke="#e8001c" stroke-width="2.2"/><path d="M617.3,909.5 L622.3,949.5 L627.3,909.5 Z" fill="#ff0000"/><path d="M617.3,1011.5 L622.3,1051.5 L627.3,1011.5 Z" fill="#ff0000"/><path d="M653.8,864.4 L653.8,1134.5" fill="none" stroke="#e8001c" stroke-width="2.2"/><path d="M648.8,909.5 L653.8,949.5 L658.8,909.5 Z" fill="#ff0000"/><path d="M648.8,1011.5 L653.8,1051.5 L658.8,1011.5 Z" fill="#ff0000"/><path d="M685.3,864.4 L685.3,1134.5" fill="none" stroke="#e8001c" stroke-width="2.2"/><path d="M680.3,909.5 L685.3,949.5 L690.3,909.5 Z" fill="#ff0000"/><path d="M680.3,1011.5 L685.3,1051.5 L690.3,1011.5 Z" fill="#ff0000"/></g><text x="169" y="925" font-family="Liberation Serif, serif" font-weight="bold" font-size="49" fill="#fff">&#937; = 0.01</text>
<g clip-path="url(#cd)"><path d="M132,1616.3 H373.7 Q383.7,1616.3 383.7,1626.3 V1679.1 Q383.7,1689.1 393.7,1689.1 H446.3 Q456.3,1689.1 456.3,1679.1 V1626.3 Q456.3,1616.3 466.3,1616.3 H709.5" fill="none" stroke="#5a5a5a" stroke-width="2.2"/><path d="M132,1608.8 H383.4 Q391.4,1608.8 391.4,1616.8 V1672.5 Q391.4,1680.5 399.4,1680.5 H440.6 Q448.6,1680.5 448.6,1672.5 V1616.8 Q448.6,1608.8 456.6,1608.8 H709.5" fill="none" stroke="#5a5a5a" stroke-width="2.2"/><path d="M403,1627.4 L391.5,1674.5 Q391.5,1680.5 398,1680.5 L442,1680.5 Q448.5,1680.5 448.5,1674.5 L437,1627.4 Z" fill="#c9c9c9" stroke="#2a2a2a" stroke-width="2.2"/><path d="M131,1285 H710.5 L710.5,1548.4 C640.3,1548.4 570.2,1548.2 500,1548.4 C494,1548.4 488,1548.5 482,1548.9 C476.3,1549.3 470.5,1549.7 465,1550.9 C461.2,1551.8 457.5,1553.4 454,1555.2 C451.2,1556.6 448.4,1558.3 446.2,1560.5 C443.4,1563.2 441,1566.6 439.1,1570 C437,1573.7 435.8,1577.9 434.3,1581.9 C433.4,1584.4 432.4,1586.9 431.9,1589.5 C431.1,1593.4 430.4,1597.4 430.4,1601.4 C430.4,1605.7 431,1610.1 431.9,1614.4 C433,1619.8 435.1,1625 436.2,1630.4 C437.4,1636.3 438.2,1642.4 439,1648.4 C439.5,1652.4 440.1,1656.4 440,1660.4 C439.9,1663.4 440,1667.2 438.5,1669.4 C437.3,1671.1 434.3,1671.7 432,1672.1 C428.1,1672.7 424,1672.4 420,1672.4 C416,1672.4 411.9,1672.7 408,1672.1 C405.7,1671.7 402.7,1671.1 401.5,1669.4 C400,1667.2 400.1,1663.4 400,1660.4 C399.9,1656.4 400.5,1652.4 401,1648.4 C401.8,1642.4 402.6,1636.3 403.8,1630.4 C404.9,1625 407,1619.8 408.1,1614.4 C409,1610.1 409.6,1605.7 409.6,1601.4 C409.6,1597.4 408.9,1593.4 408.1,1589.5 C407.6,1586.9 406.6,1584.4 405.7,1581.9 C404.2,1577.9 403,1573.7 400.9,1570 C399,1566.6 396.6,1563.2 393.8,1560.5 C391.6,1558.3 388.8,1556.6 386,1555.2 C382.5,1553.4 378.8,1551.8 375,1550.9 C369.5,1549.7 363.7,1549.3 358,1548.9 C352,1548.5 346,1548.4 340,1548.4 C270.3,1548.2 200.7,1548.4 131,1548.4 Z" fill="none" stroke="#3a3a3a" stroke-width="15"/><path d="M131,1285 H710.5 L710.5,1548.4 C640.3,1548.4 570.2,1548.2 500,1548.4 C494,1548.4 488,1548.5 482,1548.9 C476.3,1549.3 470.5,1549.7 465,1550.9 C461.2,1551.8 457.5,1553.4 454,1555.2 C451.2,1556.6 448.4,1558.3 446.2,1560.5 C443.4,1563.2 441,1566.6 439.1,1570 C437,1573.7 435.8,1577.9 434.3,1581.9 C433.4,1584.4 432.4,1586.9 431.9,1589.5 C431.1,1593.4 430.4,1597.4 430.4,1601.4 C430.4,1605.7 431,1610.1 431.9,1614.4 C433,1619.8 435.1,1625 436.2,1630.4 C437.4,1636.3 438.2,1642.4 439,1648.4 C439.5,1652.4 440.1,1656.4 440,1660.4 C439.9,1663.4 440,1667.2 438.5,1669.4 C437.3,1671.1 434.3,1671.7 432,1672.1 C428.1,1672.7 424,1672.4 420,1672.4 C416,1672.4 411.9,1672.7 408,1672.1 C405.7,1671.7 402.7,1671.1 401.5,1669.4 C400,1667.2 400.1,1663.4 400,1660.4 C399.9,1656.4 400.5,1652.4 401,1648.4 C401.8,1642.4 402.6,1636.3 403.8,1630.4 C404.9,1625 407,1619.8 408.1,1614.4 C409,1610.1 409.6,1605.7 409.6,1601.4 C409.6,1597.4 408.9,1593.4 408.1,1589.5 C407.6,1586.9 406.6,1584.4 405.7,1581.9 C404.2,1577.9 403,1573.7 400.9,1570 C399,1566.6 396.6,1563.2 393.8,1560.5 C391.6,1558.3 388.8,1556.6 386,1555.2 C382.5,1553.4 378.8,1551.8 375,1550.9 C369.5,1549.7 363.7,1549.3 358,1548.9 C352,1548.5 346,1548.4 340,1548.4 C270.3,1548.2 200.7,1548.4 131,1548.4 Z" fill="none" stroke="#cfd2d4" stroke-width="12"/><path d="M131,1285 H710.5 L710.5,1548.4 C640.3,1548.4 570.2,1548.2 500,1548.4 C494,1548.4 488,1548.5 482,1548.9 C476.3,1549.3 470.5,1549.7 465,1550.9 C461.2,1551.8 457.5,1553.4 454,1555.2 C451.2,1556.6 448.4,1558.3 446.2,1560.5 C443.4,1563.2 441,1566.6 439.1,1570 C437,1573.7 435.8,1577.9 434.3,1581.9 C433.4,1584.4 432.4,1586.9 431.9,1589.5 C431.1,1593.4 430.4,1597.4 430.4,1601.4 C430.4,1605.7 431,1610.1 431.9,1614.4 C433,1619.8 435.1,1625 436.2,1630.4 C437.4,1636.3 438.2,1642.4 439,1648.4 C439.5,1652.4 440.1,1656.4 440,1660.4 C439.9,1663.4 440,1667.2 438.5,1669.4 C437.3,1671.1 434.3,1671.7 432,1672.1 C428.1,1672.7 424,1672.4 420,1672.4 C416,1672.4 411.9,1672.7 408,1672.1 C405.7,1671.7 402.7,1671.1 401.5,1669.4 C400,1667.2 400.1,1663.4 400,1660.4 C399.9,1656.4 400.5,1652.4 401,1648.4 C401.8,1642.4 402.6,1636.3 403.8,1630.4 C404.9,1625 407,1619.8 408.1,1614.4 C409,1610.1 409.6,1605.7 409.6,1601.4 C409.6,1597.4 408.9,1593.4 408.1,1589.5 C407.6,1586.9 406.6,1584.4 405.7,1581.9 C404.2,1577.9 403,1573.7 400.9,1570 C399,1566.6 396.6,1563.2 393.8,1560.5 C391.6,1558.3 388.8,1556.6 386,1555.2 C382.5,1553.4 378.8,1551.8 375,1550.9 C369.5,1549.7 363.7,1549.3 358,1548.9 C352,1548.5 346,1548.4 340,1548.4 C270.3,1548.2 200.7,1548.4 131,1548.4 Z" fill="url(#gd)" stroke="#1a1a1a" stroke-width="1.3"/><ellipse cx="420" cy="1570.4" rx="48" ry="52" fill="url(#rd)" clip-path="url(#ed)"/><path d="M134.5,1285 V1616.3 M707,1285 V1616.3" stroke="#4a4a4a" stroke-width="2"/></g><g clip-path="url(#cd)"><path d="M139,1285 L139,1552.4" fill="none" stroke="#e8001c" stroke-width="2.2"/><path d="M134,1327 L139,1367 L144,1327 Z" fill="#ff0000"/><path d="M134,1430 L139,1470 L144,1430 Z" fill="#ff0000"/><path d="M170.6,1285 L170.6,1552.4" fill="none" stroke="#e8001c" stroke-width="2.2"/><path d="M165.6,1327 L170.6,1367 L175.6,1327 Z" fill="#ff0000"/><path d="M165.6,1430 L170.6,1470 L175.6,1430 Z" fill="#ff0000"/><path d="M202.1,1285 L202.1,1552.4" fill="none" stroke="#e8001c" stroke-width="2.2"/><path d="M197.1,1327 L202.1,1367 L207.1,1327 Z" fill="#ff0000"/><path d="M197.1,1430 L202.1,1470 L207.1,1430 Z" fill="#ff0000"/><path d="M233.7,1285 L233.7,1552.4" fill="none" stroke="#e8001c" stroke-width="2.2"/><path d="M228.7,1327 L233.7,1367 L238.7,1327 Z" fill="#ff0000"/><path d="M228.7,1430 L233.7,1470 L238.7,1430 Z" fill="#ff0000"/><path d="M265.2,1285 L265.2,1552.4" fill="none" stroke="#e8001c" stroke-width="2.2"/><path d="M260.2,1327 L265.2,1367 L270.2,1327 Z" fill="#ff0000"/><path d="M260.2,1430 L265.2,1470 L270.2,1430 Z" fill="#ff0000"/><path d="M296.8,1285 L296.8,1552.4" fill="none" stroke="#e8001c" stroke-width="2.2"/><path d="M291.8,1327 L296.8,1367 L301.8,1327 Z" fill="#ff0000"/><path d="M291.8,1430 L296.8,1470 L301.8,1430 Z" fill="#ff0000"/><path d="M328.4,1285 L328.4,1552.4" fill="none" stroke="#e8001c" stroke-width="2.2"/><path d="M323.4,1327 L328.4,1367 L333.4,1327 Z" fill="#ff0000"/><path d="M323.4,1430 L328.4,1470 L333.4,1430 Z" fill="#ff0000"/><path d="M359.9,1285 L359.9,1552.4" fill="none" stroke="#e8001c" stroke-width="2.2"/><path d="M354.9,1327 L359.9,1367 L364.9,1327 Z" fill="#ff0000"/><path d="M354.9,1430 L359.9,1470 L364.9,1430 Z" fill="#ff0000"/><path d="M391.5,1285 L391.5,1584" fill="none" stroke="#e8001c" stroke-width="2.2"/><path d="M386.5,1327 L391.5,1367 L396.5,1327 Z" fill="#ff0000"/><path d="M386.5,1430 L391.5,1470 L396.5,1430 Z" fill="#ff0000"/><path d="M391.5,1516 L391.5,1584" fill="none" stroke="#e8001c" stroke-width="2.2"/><path d="M386.5,1532 L391.5,1576 L396.5,1532 Z" fill="#ff0000"/><path d="M423,1285 L423,1584" fill="none" stroke="#e8001c" stroke-width="2.2"/><path d="M418,1327 L423,1367 L428,1327 Z" fill="#ff0000"/><path d="M418,1430 L423,1470 L428,1430 Z" fill="#ff0000"/><path d="M423,1516 L423,1584" fill="none" stroke="#e8001c" stroke-width="2.2"/><path d="M418,1532 L423,1576 L428,1532 Z" fill="#ff0000"/><path d="M454.6,1285 L454.6,1584" fill="none" stroke="#e8001c" stroke-width="2.2"/><path d="M449.6,1327 L454.6,1367 L459.6,1327 Z" fill="#ff0000"/><path d="M449.6,1430 L454.6,1470 L459.6,1430 Z" fill="#ff0000"/><path d="M454.6,1516 L454.6,1584" fill="none" stroke="#e8001c" stroke-width="2.2"/><path d="M449.6,1532 L454.6,1576 L459.6,1532 Z" fill="#ff0000"/><path d="M486.2,1285 L486.2,1552.4" fill="none" stroke="#e8001c" stroke-width="2.2"/><path d="M481.2,1327 L486.2,1367 L491.2,1327 Z" fill="#ff0000"/><path d="M481.2,1430 L486.2,1470 L491.2,1430 Z" fill="#ff0000"/><path d="M517.7,1285 L517.7,1552.4" fill="none" stroke="#e8001c" stroke-width="2.2"/><path d="M512.7,1327 L517.7,1367 L522.7,1327 Z" fill="#ff0000"/><path d="M512.7,1430 L517.7,1470 L522.7,1430 Z" fill="#ff0000"/><path d="M549.3,1285 L549.3,1552.4" fill="none" stroke="#e8001c" stroke-width="2.2"/><path d="M544.3,1327 L549.3,1367 L554.3,1327 Z" fill="#ff0000"/><path d="M544.3,1430 L549.3,1470 L554.3,1430 Z" fill="#ff0000"/><path d="M580.8,1285 L580.8,1552.4" fill="none" stroke="#e8001c" stroke-width="2.2"/><path d="M575.8,1327 L580.8,1367 L585.8,1327 Z" fill="#ff0000"/><path d="M575.8,1430 L580.8,1470 L585.8,1430 Z" fill="#ff0000"/><path d="M612.4,1285 L612.4,1552.4" fill="none" stroke="#e8001c" stroke-width="2.2"/><path d="M607.4,1327 L612.4,1367 L617.4,1327 Z" fill="#ff0000"/><path d="M607.4,1430 L612.4,1470 L617.4,1430 Z" fill="#ff0000"/><path d="M644,1285 L644,1552.4" fill="none" stroke="#e8001c" stroke-width="2.2"/><path d="M639,1327 L644,1367 L649,1327 Z" fill="#ff0000"/><path d="M639,1430 L644,1470 L649,1430 Z" fill="#ff0000"/><path d="M675.5,1285 L675.5,1552.4" fill="none" stroke="#e8001c" stroke-width="2.2"/><path d="M670.5,1327 L675.5,1367 L680.5,1327 Z" fill="#ff0000"/><path d="M670.5,1430 L675.5,1470 L680.5,1430 Z" fill="#ff0000"/></g><text x="169" y="1351" font-family="Liberation Serif, serif" font-weight="bold" font-size="49" fill="#fff">&#937; = 0.1</text>
<g clip-path="url(#ce)"><path d="M132,2037.9 H373.7 Q383.7,2037.9 383.7,2047.9 V2100.2 Q383.7,2110.2 393.7,2110.2 H446.3 Q456.3,2110.2 456.3,2100.2 V2047.9 Q456.3,2037.9 466.3,2037.9 H709.5" fill="none" stroke="#5a5a5a" stroke-width="2.2"/><path d="M132,2031 H383.4 Q391.4,2031 391.4,2039 V2094.7 Q391.4,2102.7 399.4,2102.7 H440.6 Q448.6,2102.7 448.6,2094.7 V2039 Q448.6,2031 456.6,2031 H709.5" fill="none" stroke="#5a5a5a" stroke-width="2.2"/><path d="M403,2049.1 L391.5,2096.7 Q391.5,2102.7 398,2102.7 L442,2102.7 Q448.5,2102.7 448.5,2096.7 L437,2049.1 Z" fill="#c9c9c9" stroke="#2a2a2a" stroke-width="2.2"/><path d="M131,1706.3 H710.5 L710.5,1968.9 C640.3,1968.9 570.2,1968.7 500,1968.9 C494,1968.9 488,1969 482,1969.4 C476.3,1969.8 470.5,1970.2 465,1971.4 C461.2,1972.3 457.5,1973.9 454,1975.7 C451.2,1977.1 448.4,1978.8 446.2,1981 C443.4,1983.7 441,1987.1 439.1,1990.5 C437,1994.2 435.8,1998.4 434.3,2002.4 C433.4,2004.9 432.4,2007.4 431.9,2010 C431.1,2013.7 430.4,2017.5 430.4,2021.3 C430.4,2025.6 431,2030 431.9,2034.3 C433,2039.7 435.1,2044.9 436.2,2050.3 C437.4,2056.2 438.3,2062.3 439,2068.3 C439.5,2072.9 440.1,2077.5 440,2082.1 C439.9,2085.1 440,2088.9 438.5,2091.1 C437.3,2092.8 434.3,2093.4 432,2093.8 C428.1,2094.4 424,2094.1 420,2094.1 C416,2094.1 411.9,2094.4 408,2093.8 C405.7,2093.4 402.7,2092.8 401.5,2091.1 C400,2088.9 400.1,2085.1 400,2082.1 C399.9,2077.5 400.5,2072.9 401,2068.3 C401.7,2062.3 402.6,2056.2 403.8,2050.3 C404.9,2044.9 407,2039.7 408.1,2034.3 C409,2030 409.6,2025.6 409.6,2021.3 C409.6,2017.5 408.9,2013.7 408.1,2010 C407.6,2007.4 406.6,2004.9 405.7,2002.4 C404.2,1998.4 403,1994.2 400.9,1990.5 C399,1987.1 396.6,1983.7 393.8,1981 C391.6,1978.8 388.8,1977.1 386,1975.7 C382.5,1973.9 378.8,1972.3 375,1971.4 C369.5,1970.2 363.7,1969.8 358,1969.4 C352,1969 346,1968.9 340,1968.9 C270.3,1968.7 200.7,1968.9 131,1968.9 Z" fill="none" stroke="#3a3a3a" stroke-width="15"/><path d="M131,1706.3 H710.5 L710.5,1968.9 C640.3,1968.9 570.2,1968.7 500,1968.9 C494,1968.9 488,1969 482,1969.4 C476.3,1969.8 470.5,1970.2 465,1971.4 C461.2,1972.3 457.5,1973.9 454,1975.7 C451.2,1977.1 448.4,1978.8 446.2,1981 C443.4,1983.7 441,1987.1 439.1,1990.5 C437,1994.2 435.8,1998.4 434.3,2002.4 C433.4,2004.9 432.4,2007.4 431.9,2010 C431.1,2013.7 430.4,2017.5 430.4,2021.3 C430.4,2025.6 431,2030 431.9,2034.3 C433,2039.7 435.1,2044.9 436.2,2050.3 C437.4,2056.2 438.3,2062.3 439,2068.3 C439.5,2072.9 440.1,2077.5 440,2082.1 C439.9,2085.1 440,2088.9 438.5,2091.1 C437.3,2092.8 434.3,2093.4 432,2093.8 C428.1,2094.4 424,2094.1 420,2094.1 C416,2094.1 411.9,2094.4 408,2093.8 C405.7,2093.4 402.7,2092.8 401.5,2091.1 C400,2088.9 400.1,2085.1 400,2082.1 C399.9,2077.5 400.5,2072.9 401,2068.3 C401.7,2062.3 402.6,2056.2 403.8,2050.3 C404.9,2044.9 407,2039.7 408.1,2034.3 C409,2030 409.6,2025.6 409.6,2021.3 C409.6,2017.5 408.9,2013.7 408.1,2010 C407.6,2007.4 406.6,2004.9 405.7,2002.4 C404.2,1998.4 403,1994.2 400.9,1990.5 C399,1987.1 396.6,1983.7 393.8,1981 C391.6,1978.8 388.8,1977.1 386,1975.7 C382.5,1973.9 378.8,1972.3 375,1971.4 C369.5,1970.2 363.7,1969.8 358,1969.4 C352,1969 346,1968.9 340,1968.9 C270.3,1968.7 200.7,1968.9 131,1968.9 Z" fill="none" stroke="#cfd2d4" stroke-width="12"/><path d="M131,1706.3 H710.5 L710.5,1968.9 C640.3,1968.9 570.2,1968.7 500,1968.9 C494,1968.9 488,1969 482,1969.4 C476.3,1969.8 470.5,1970.2 465,1971.4 C461.2,1972.3 457.5,1973.9 454,1975.7 C451.2,1977.1 448.4,1978.8 446.2,1981 C443.4,1983.7 441,1987.1 439.1,1990.5 C437,1994.2 435.8,1998.4 434.3,2002.4 C433.4,2004.9 432.4,2007.4 431.9,2010 C431.1,2013.7 430.4,2017.5 430.4,2021.3 C430.4,2025.6 431,2030 431.9,2034.3 C433,2039.7 435.1,2044.9 436.2,2050.3 C437.4,2056.2 438.3,2062.3 439,2068.3 C439.5,2072.9 440.1,2077.5 440,2082.1 C439.9,2085.1 440,2088.9 438.5,2091.1 C437.3,2092.8 434.3,2093.4 432,2093.8 C428.1,2094.4 424,2094.1 420,2094.1 C416,2094.1 411.9,2094.4 408,2093.8 C405.7,2093.4 402.7,2092.8 401.5,2091.1 C400,2088.9 400.1,2085.1 400,2082.1 C399.9,2077.5 400.5,2072.9 401,2068.3 C401.7,2062.3 402.6,2056.2 403.8,2050.3 C404.9,2044.9 407,2039.7 408.1,2034.3 C409,2030 409.6,2025.6 409.6,2021.3 C409.6,2017.5 408.9,2013.7 408.1,2010 C407.6,2007.4 406.6,2004.9 405.7,2002.4 C404.2,1998.4 403,1994.2 400.9,1990.5 C399,1987.1 396.6,1983.7 393.8,1981 C391.6,1978.8 388.8,1977.1 386,1975.7 C382.5,1973.9 378.8,1972.3 375,1971.4 C369.5,1970.2 363.7,1969.8 358,1969.4 C352,1969 346,1968.9 340,1968.9 C270.3,1968.7 200.7,1968.9 131,1968.9 Z" fill="url(#ge)" stroke="#1a1a1a" stroke-width="1.3"/><ellipse cx="420" cy="1990.9" rx="48" ry="52" fill="url(#re)" clip-path="url(#ee)"/><path d="M134.5,1706.3 V2037.9 M707,1706.3 V2037.9" stroke="#4a4a4a" stroke-width="2"/></g><g clip-path="url(#ce)"><path d="M139,1706.3 L139,1972.9" fill="none" stroke="#e8001c" stroke-width="2.2"/><path d="M134,1748 L139,1788 L144,1748 Z" fill="#ff0000"/><path d="M134,1850 L139,1890 L144,1850 Z" fill="#ff0000"/><path d="M170.6,1706.3 L170.6,1972.9" fill="none" stroke="#e8001c" stroke-width="2.2"/><path d="M165.6,1748 L170.6,1788 L175.6,1748 Z" fill="#ff0000"/><path d="M165.6,1850 L170.6,1890 L175.6,1850 Z" fill="#ff0000"/><path d="M202.1,1706.3 L202.1,1972.9" fill="none" stroke="#e8001c" stroke-width="2.2"/><path d="M197.1,1748 L202.1,1788 L207.1,1748 Z" fill="#ff0000"/><path d="M197.1,1850 L202.1,1890 L207.1,1850 Z" fill="#ff0000"/><path d="M233.7,1706.3 L233.7,1972.9" fill="none" stroke="#e8001c" stroke-width="2.2"/><path d="M228.7,1748 L233.7,1788 L238.7,1748 Z" fill="#ff0000"/><path d="M228.7,1850 L233.7,1890 L238.7,1850 Z" fill="#ff0000"/><path d="M265.2,1706.3 L265.2,1972.9" fill="none" stroke="#e8001c" stroke-width="2.2"/><path d="M260.2,1748 L265.2,1788 L270.2,1748 Z" fill="#ff0000"/><path d="M260.2,1850 L265.2,1890 L270.2,1850 Z" fill="#ff0000"/><path d="M296.8,1706.3 L296.8,1972.9" fill="none" stroke="#e8001c" stroke-width="2.2"/><path d="M291.8,1748 L296.8,1788 L301.8,1748 Z" fill="#ff0000"/><path d="M291.8,1850 L296.8,1890 L301.8,1850 Z" fill="#ff0000"/><path d="M328.4,1706.3 L328.4,1972.9" fill="none" stroke="#e8001c" stroke-width="2.2"/><path d="M323.4,1748 L328.4,1788 L333.4,1748 Z" fill="#ff0000"/><path d="M323.4,1850 L328.4,1890 L333.4,1850 Z" fill="#ff0000"/><path d="M359.9,1706.3 L359.9,1972.9" fill="none" stroke="#e8001c" stroke-width="2.2"/><path d="M354.9,1748 L359.9,1788 L364.9,1748 Z" fill="#ff0000"/><path d="M354.9,1850 L359.9,1890 L364.9,1850 Z" fill="#ff0000"/><path d="M391.5,1706.3 L391.5,2005" fill="none" stroke="#e8001c" stroke-width="2.2"/><path d="M386.5,1748 L391.5,1788 L396.5,1748 Z" fill="#ff0000"/><path d="M386.5,1850 L391.5,1890 L396.5,1850 Z" fill="#ff0000"/><path d="M391.5,1937 L391.5,2005" fill="none" stroke="#e8001c" stroke-width="2.2"/><path d="M386.5,1953 L391.5,1997 L396.5,1953 Z" fill="#ff0000"/><path d="M423,1706.3 L423,2005" fill="none" stroke="#e8001c" stroke-width="2.2"/><path d="M418,1748 L423,1788 L428,1748 Z" fill="#ff0000"/><path d="M418,1850 L423,1890 L428,1850 Z" fill="#ff0000"/><path d="M423,1937 L423,2005" fill="none" stroke="#e8001c" stroke-width="2.2"/><path d="M418,1953 L423,1997 L428,1953 Z" fill="#ff0000"/><path d="M454.6,1706.3 L454.6,2005" fill="none" stroke="#e8001c" stroke-width="2.2"/><path d="M449.6,1748 L454.6,1788 L459.6,1748 Z" fill="#ff0000"/><path d="M449.6,1850 L454.6,1890 L459.6,1850 Z" fill="#ff0000"/><path d="M454.6,1937 L454.6,2005" fill="none" stroke="#e8001c" stroke-width="2.2"/><path d="M449.6,1953 L454.6,1997 L459.6,1953 Z" fill="#ff0000"/><path d="M486.2,1706.3 L486.2,1972.9" fill="none" stroke="#e8001c" stroke-width="2.2"/><path d="M481.2,1748 L486.2,1788 L491.2,1748 Z" fill="#ff0000"/><path d="M481.2,1850 L486.2,1890 L491.2,1850 Z" fill="#ff0000"/><path d="M517.7,1706.3 L517.7,1972.9" fill="none" stroke="#e8001c" stroke-width="2.2"/><path d="M512.7,1748 L517.7,1788 L522.7,1748 Z" fill="#ff0000"/><path d="M512.7,1850 L517.7,1890 L522.7,1850 Z" fill="#ff0000"/><path d="M549.3,1706.3 L549.3,1972.9" fill="none" stroke="#e8001c" stroke-width="2.2"/><path d="M544.3,1748 L549.3,1788 L554.3,1748 Z" fill="#ff0000"/><path d="M544.3,1850 L549.3,1890 L554.3,1850 Z" fill="#ff0000"/><path d="M580.8,1706.3 L580.8,1972.9" fill="none" stroke="#e8001c" stroke-width="2.2"/><path d="M575.8,1748 L580.8,1788 L585.8,1748 Z" fill="#ff0000"/><path d="M575.8,1850 L580.8,1890 L585.8,1850 Z" fill="#ff0000"/><path d="M612.4,1706.3 L612.4,1972.9" fill="none" stroke="#e8001c" stroke-width="2.2"/><path d="M607.4,1748 L612.4,1788 L617.4,1748 Z" fill="#ff0000"/><path d="M607.4,1850 L612.4,1890 L617.4,1850 Z" fill="#ff0000"/><path d="M644,1706.3 L644,1972.9" fill="none" stroke="#e8001c" stroke-width="2.2"/><path d="M639,1748 L644,1788 L649,1748 Z" fill="#ff0000"/><path d="M639,1850 L644,1890 L649,1850 Z" fill="#ff0000"/><path d="M675.5,1706.3 L675.5,1972.9" fill="none" stroke="#e8001c" stroke-width="2.2"/><path d="M670.5,1748 L675.5,1788 L680.5,1748 Z" fill="#ff0000"/><path d="M670.5,1850 L675.5,1890 L680.5,1850 Z" fill="#ff0000"/></g><text x="169" y="1779.4" font-family="Liberation Serif, serif" font-weight="bold" font-size="49" fill="#fff">&#937; = 1</text>
<path d="M423.4,1576 C424,1600 428,1612 436,1624" fill="none" stroke="#e00010" stroke-width="2"/>
<path d="M423.4,1998 C424,2022 428,2034 436,2046" fill="none" stroke="#e00010" stroke-width="2"/>
<path d="M132.4,2131 H709.5" stroke="#000" stroke-width="4" fill="none"/><path d="M132.4,2129 V2152" stroke="#000" stroke-width="4"/><path d="M277.9,2129 V2152" stroke="#000" stroke-width="4"/><path d="M420,2129 V2152" stroke="#000" stroke-width="4"/><path d="M563.4,2129 V2152" stroke="#000" stroke-width="4"/><path d="M708.4,2129 V2152" stroke="#000" stroke-width="4"/><text x="124.7" y="2194" text-anchor="middle" font-family="Liberation Serif, serif" font-weight="bold" font-size="40">0</text><text x="267" y="2194" text-anchor="middle" font-family="Liberation Serif, serif" font-weight="bold" font-size="40">4</text><text x="413" y="2194" text-anchor="middle" font-family="Liberation Serif, serif" font-weight="bold" font-size="40">8</text><text x="559.5" y="2194" text-anchor="middle" font-family="Liberation Serif, serif" font-weight="bold" font-size="40">12</text><text x="698" y="2194" text-anchor="middle" font-family="Liberation Serif, serif" font-weight="bold" font-size="40">16</text><text x="439" y="2237" text-anchor="middle" font-family="Liberation Serif, serif" font-weight="bold" font-size="41">Coordinate in X (&#956;m)</text><rect x="116.6" y="2277.8" width="556" height="20.2" fill="url(#cbar)" stroke="#333" stroke-width="1.4"/><path d="M338.5,2277 v3 M338.5,2295 v3 M562,2277 v3 M562,2295 v3" stroke="#000" stroke-width="2"/><text x="108" y="2331" text-anchor="middle" font-family="Liberation Serif, serif" font-weight="bold" font-size="33">0</text><text x="374" y="2331" font-family="Liberation Serif, serif" font-weight="bold" font-size="33">1/2C<tspan font-size="22" dy="7">0</tspan></text><text x="653" y="2334" font-family="Liberation Serif, serif" font-weight="bold" font-size="33">C<tspan font-size="22" dy="7">0</tspan></text><text x="810" y="2311" text-anchor="middle" font-family="Liberation Serif, serif" font-weight="bold" font-size="32">Concentration</text><text x="809" y="2349" text-anchor="middle" font-family="Liberation Serif, serif" font-weight="bold" font-size="32">(mol m<tspan font-size="20" dy="-13">-3</tspan><tspan dy="13">)</tspan></text>
<path d="M1360.5,164 h13 v432 h-13Z M1436,164 h14 v432 h-14Z" fill="#c4c4c4"/>
<path d="M1383,500 h13 v98 h-13Z M1414,500 h10 v98 h-10Z" fill="#cfcfcf"/>
<path d="M1019,96.6 C1062.7,96.4 1106.3,96.7 1150,96 C1183.3,95.5 1216.7,94.6 1250,93 C1266.7,92.2 1283.3,90.3 1300,89 C1306,88.5 1312.2,86.9 1318,87.8 C1324.9,88.9 1332.2,91.2 1338,95 C1344.5,99.3 1350,105.8 1355,112 C1360.7,119.1 1365.8,126.9 1370,135 C1374.1,142.9 1377.6,151.4 1380,160 C1383.6,173.1 1386.1,186.6 1388,200 C1390.4,216.6 1391.7,233.3 1393,250 C1394.3,266.6 1395.2,283.3 1396,300 C1396.8,316.7 1397.3,333.3 1398,350" fill="none" stroke="#0b2a2a" stroke-width="8" stroke-linecap="round"/>
<path d="M1413.4,350 C1414.1,333.3 1414.6,316.7 1415.4,300 C1416.2,283.3 1417.1,266.6 1418.4,250 C1419.7,233.3 1421,216.6 1423.4,200 C1425.3,186.6 1427.8,173.1 1431.4,160 C1433.8,151.4 1437.3,142.9 1441.4,135 C1445.6,126.9 1450.7,119.1 1456.4,112 C1461.4,105.8 1466.9,99.3 1473.4,95 C1479.2,91.2 1486.5,88.9 1493.4,87.8 C1499.2,86.9 1505.4,88.5 1511.4,89 C1528.1,90.3 1544.7,92.2 1561.4,93 C1594.7,94.6 1628.1,95.5 1661.4,96 C1705.1,96.7 1748.7,96.4 1792.4,96.6" fill="none" stroke="#0b2a2a" stroke-width="8" stroke-linecap="round"/>
<path d="M1792,96.6 L1800,104" stroke="#0b2a2a" stroke-width="6"/>
<path d="M1358.5,513 C1358.7,528.7 1358.7,544.3 1359,560 C1359.2,572.7 1357.8,586 1360,598 C1360.8,602.3 1364.3,606.9 1368,609 C1372.7,611.6 1379.3,612 1385,612 C1391.7,612 1398.3,609.2 1405,609 C1411.6,608.8 1418.3,611 1425,611 C1430.7,611 1437.3,611.4 1442,609 C1445.9,607 1450,602.4 1451,598 C1453.5,586.1 1452.3,572.7 1452.5,560 C1452.8,544.3 1452.5,528.7 1452.5,513" fill="none" stroke="#0b2a2a" stroke-width="5"/>
<path d="M1019,97.8 L1025.5,109.1 L1012.5,109.1ZM1022.2,97.8 L1028.7,109.1 L1015.7,109.1ZM1025.4,97.8 L1031.9,109.1 L1018.9,109.1ZM1028.6,97.8 L1035.1,109.1 L1022.1,109.1ZM1031.8,97.8 L1038.3,109.1 L1025.3,109.1ZM1035,97.8 L1041.5,109.1 L1028.5,109.1ZM1038.2,97.8 L1044.7,109.1 L1031.7,109.1ZM1041.4,97.8 L1047.9,109.1 L1034.9,109.1ZM1044.6,97.8 L1051.1,109 L1038.1,109ZM1047.8,97.8 L1054.3,109 L1041.3,109ZM1051,97.8 L1057.5,109 L1044.5,109ZM1054.2,97.8 L1060.7,109 L1047.7,109ZM1057.4,97.8 L1063.9,109 L1050.9,109ZM1060.6,97.8 L1067.1,109 L1054.1,109ZM1063.8,97.8 L1070.3,109 L1057.3,109ZM1067,97.8 L1073.5,109 L1060.5,109ZM1070.2,97.7 L1076.7,109 L1063.7,109ZM1073.4,97.7 L1079.9,109 L1066.9,109ZM1076.6,97.7 L1083.1,109 L1070.1,109ZM1079.8,97.7 L1086.3,109 L1073.3,109ZM1083,97.7 L1089.5,109 L1076.5,109ZM1086.2,97.7 L1092.7,109 L1079.7,109ZM1089.4,97.7 L1095.9,109 L1082.9,109ZM1092.6,97.7 L1099.1,108.9 L1086.1,108.9ZM1095.8,97.7 L1102.3,108.9 L1089.3,108.9ZM1099,97.7 L1105.5,108.9 L1092.5,108.9ZM1102.2,97.7 L1108.7,108.9 L1095.7,108.9ZM1105.4,97.6 L1111.9,108.9 L1098.9,108.9ZM1108.6,97.6 L1115.1,108.9 L1102.1,108.9ZM1111.8,97.6 L1118.3,108.9 L1105.3,108.9ZM1115,97.6 L1121.5,108.8 L1108.5,108.8ZM1118.2,97.6 L1124.7,108.8 L1111.7,108.8ZM1121.4,97.5 L1127.9,108.8 L1114.9,108.8ZM1124.6,97.5 L1131.1,108.8 L1118.1,108.8ZM1127.8,97.5 L1134.3,108.8 L1121.3,108.8ZM1131,97.5 L1137.5,108.7 L1124.5,108.7ZM1134.2,97.4 L1140.7,108.7 L1127.7,108.7ZM1137.4,97.4 L1143.9,108.7 L1130.9,108.7ZM1140.6,97.4 L1147.1,108.6 L1134.1,108.6ZM1143.8,97.3 L1150.3,108.6 L1137.3,108.6ZM1147,97.3 L1153.5,108.5 L1140.5,108.5ZM1150.2,97.2 L1156.7,108.5 L1143.7,108.5ZM1153.4,97.2 L1159.9,108.4 L1146.9,108.4ZM1156.6,97.1 L1163.1,108.4 L1150.1,108.4ZM1159.8,97.1 L1166.3,108.3 L1153.3,108.3ZM1163,97 L1169.5,108.3 L1156.5,108.3ZM1166.2,97 L1172.7,108.2 L1159.7,108.2ZM1169.4,96.9 L1175.9,108.1 L1162.9,108.1ZM1172.6,96.8 L1179.1,108.1 L1166.1,108.1ZM1175.8,96.7 L1182.3,108 L1169.3,108ZM1179,96.7 L1185.5,107.9 L1172.5,107.9ZM1182.2,96.6 L1188.7,107.8 L1175.7,107.8ZM1185.4,96.5 L1191.9,107.8 L1178.9,107.8ZM1188.6,96.4 L1195.1,107.7 L1182.1,107.7ZM1191.8,96.3 L1198.3,107.6 L1185.3,107.6ZM1195,96.3 L1201.5,107.5 L1188.5,107.5ZM1198.2,96.2 L1204.7,107.4 L1191.7,107.4ZM1201.4,96.1 L1207.9,107.3 L1194.9,107.3ZM1204.6,96 L1211.1,107.2 L1198.1,107.2ZM1207.8,95.9 L1214.3,107.1 L1201.3,107.1ZM1211,95.8 L1217.5,107 L1204.5,107ZM1214.2,95.7 L1220.7,106.9 L1207.7,106.9ZM1217.4,95.6 L1223.9,106.8 L1210.9,106.8ZM1220.6,95.4 L1227.1,106.7 L1214.1,106.7ZM1223.8,95.3 L1230.3,106.6 L1217.3,106.6ZM1227,95.2 L1233.5,106.5 L1220.5,106.5ZM1230.2,95.1 L1236.7,106.3 L1223.7,106.3ZM1233.4,95 L1239.9,106.2 L1226.9,106.2ZM1236.6,94.8 L1243.1,106.1 L1230.1,106.1ZM1239.8,94.7 L1246.3,106 L1233.3,106ZM1243,94.6 L1249.5,105.8 L1236.5,105.8ZM1246.2,94.4 L1252.7,105.7 L1239.7,105.7ZM1249.3,94.3 L1255.8,105.5 L1242.8,105.5ZM1252.5,94.1 L1259,105.4 L1246,105.4ZM1255.7,94 L1262.2,105.2 L1249.2,105.2ZM1258.9,93.8 L1265.4,105 L1252.4,105ZM1262.1,93.6 L1268.6,104.8 L1255.6,104.8ZM1265.3,93.3 L1271.8,104.6 L1258.8,104.6ZM1268.5,93.1 L1275,104.4 L1262,104.4ZM1271.7,92.9 L1278.2,104.1 L1265.2,104.1ZM1274.9,92.6 L1281.4,103.8 L1268.4,103.8ZM1278.1,92.3 L1284.6,103.6 L1271.6,103.6ZM1281.3,92 L1287.8,103.3 L1274.8,103.3ZM1284.5,91.7 L1291,103 L1278,103ZM1287.6,91.4 L1294.1,102.6 L1281.1,102.6ZM1290.8,91.1 L1297.3,102.3 L1284.3,102.3ZM1294,90.8 L1300.5,102 L1287.5,102ZM1297.2,90.5 L1303.7,101.7 L1290.7,101.7ZM1300.4,90.2 L1306.9,101.5 L1293.9,101.5ZM1303.6,89.9 L1310.1,101.2 L1297.1,101.2ZM1306.8,89.6 L1313.3,100.9 L1300.3,100.9ZM1309.9,89.2 L1316.4,100.4 L1303.4,100.4ZM1313.1,88.9 L1319.6,100.1 L1306.6,100.1ZM1316.3,89 L1322.8,100.3 L1309.8,100.3ZM1319.5,89.5 L1326,100.8 L1313,100.8ZM1322.6,90.3 L1329.1,101.5 L1316.1,101.5ZM1325.6,91.2 L1332.1,102.5 L1319.1,102.5ZM1328.6,92.3 L1335.1,103.6 L1322.1,103.6ZM1331.5,93.7 L1338,104.9 L1325,104.9ZM1334.3,95.2 L1340.8,106.5 L1327.8,106.5ZM1337,96.9 L1343.5,108.2 L1330.5,108.2ZM1339.6,98.8 L1346.1,110.1 L1333.1,110.1ZM1342.1,100.8 L1348.6,112.1 L1335.6,112.1ZM1344.5,102.9 L1351,114.2 L1338,114.2ZM1346.8,105.2 L1353.3,116.4 L1340.3,116.4ZM1349,107.5 L1355.5,118.8 L1342.5,118.8ZM1351,110 L1357.5,121.2 L1344.5,121.2ZM1352.9,112.5 L1359.4,123.8 L1346.4,123.8ZM1354.7,115.2 L1361.2,126.4 L1348.2,126.4ZM1356.4,117.9 L1362.9,129.2 L1349.9,129.2ZM1358,120.7 L1364.5,132 L1351.5,132ZM1359.5,123.5 L1366,134.8 L1353,134.8ZM1360.9,126.4 L1367.4,137.7 L1354.4,137.7ZM1362.3,129.3 L1368.8,140.6 L1355.8,140.6ZM1363.6,132.2 L1370.1,143.5 L1357.1,143.5ZM1364.8,135.2 L1371.3,146.4 L1358.3,146.4ZM1365.9,138.2 L1372.4,149.4 L1359.4,149.4ZM1366.9,141.2 L1373.4,152.5 L1360.4,152.5ZM1367.9,144.3 L1374.4,155.5 L1361.4,155.5ZM1368.8,147.3 L1375.3,158.6 L1362.3,158.6ZM1369.7,150.4 L1376.2,161.7 L1363.2,161.7ZM1370.6,153.5 L1377.1,164.7 L1364.1,164.7ZM1371.5,156.5 L1378,167.8 L1365,167.8ZM1439.4,158.2 L1445.9,169.5 L1432.9,169.5ZM1440.3,155.2 L1446.8,166.4 L1433.8,166.4ZM1441.2,152.1 L1447.7,163.4 L1434.7,163.4ZM1442.1,149 L1448.6,160.3 L1435.6,160.3ZM1443,146 L1449.5,157.2 L1436.5,157.2ZM1443.9,142.9 L1450.4,154.2 L1437.4,154.2ZM1444.9,139.9 L1451.4,151.1 L1438.4,151.1ZM1446,136.8 L1452.5,148.1 L1439.5,148.1ZM1447.2,133.9 L1453.7,145.1 L1440.7,145.1ZM1448.4,130.9 L1454.9,142.2 L1441.9,142.2ZM1449.7,128 L1456.2,139.3 L1443.2,139.3ZM1451.1,125.1 L1457.6,136.4 L1444.6,136.4ZM1452.6,122.3 L1459.1,133.5 L1446.1,133.5ZM1454.1,119.5 L1460.6,130.7 L1447.6,130.7ZM1455.7,116.7 L1462.2,128 L1449.2,128ZM1457.4,114 L1463.9,125.3 L1450.9,125.3ZM1459.3,111.4 L1465.8,122.7 L1452.8,122.7ZM1461.3,108.9 L1467.8,120.1 L1454.8,120.1ZM1463.4,106.5 L1469.9,117.7 L1456.9,117.7ZM1465.6,104.2 L1472.1,115.4 L1459.1,115.4ZM1467.9,102 L1474.4,113.2 L1461.4,113.2ZM1470.4,99.9 L1476.9,111.2 L1463.9,111.2ZM1472.9,98 L1479.4,109.2 L1466.4,109.2ZM1475.6,96.2 L1482.1,107.4 L1469.1,107.4ZM1478.3,94.5 L1484.8,105.8 L1471.8,105.8ZM1481.2,93.1 L1487.7,104.3 L1474.7,104.3ZM1484.1,91.8 L1490.6,103.1 L1477.6,103.1ZM1487.1,90.8 L1493.6,102 L1480.6,102ZM1490.2,89.9 L1496.7,101.2 L1483.7,101.2ZM1493.3,89.3 L1499.8,100.5 L1486.8,100.5ZM1496.5,88.9 L1503,100.1 L1490,100.1ZM1499.7,89 L1506.2,100.2 L1493.2,100.2ZM1502.9,89.4 L1509.4,100.6 L1496.4,100.6ZM1506.1,89.8 L1512.6,101 L1499.6,101ZM1509.2,90.1 L1515.7,101.3 L1502.7,101.3ZM1512.4,90.3 L1518.9,101.6 L1505.9,101.6ZM1515.6,90.6 L1522.1,101.9 L1509.1,101.9ZM1518.8,90.9 L1525.3,102.2 L1512.3,102.2ZM1522,91.2 L1528.5,102.5 L1515.5,102.5ZM1525.2,91.5 L1531.7,102.8 L1518.7,102.8ZM1528.4,91.8 L1534.9,103.1 L1521.9,103.1ZM1531.5,92.1 L1538,103.4 L1525,103.4ZM1534.7,92.4 L1541.2,103.7 L1528.2,103.7ZM1537.9,92.7 L1544.4,104 L1531.4,104ZM1541.1,93 L1547.6,104.2 L1534.6,104.2ZM1544.3,93.2 L1550.8,104.5 L1537.8,104.5ZM1547.5,93.4 L1554,104.7 L1541,104.7ZM1550.7,93.7 L1557.2,104.9 L1544.2,104.9ZM1553.9,93.8 L1560.4,105.1 L1547.4,105.1ZM1557.1,94 L1563.6,105.3 L1550.6,105.3ZM1560.3,94.2 L1566.8,105.4 L1553.8,105.4ZM1563.5,94.3 L1570,105.6 L1557,105.6ZM1566.7,94.5 L1573.2,105.7 L1560.2,105.7ZM1569.9,94.6 L1576.4,105.9 L1563.4,105.9ZM1573.1,94.8 L1579.6,106 L1566.6,106ZM1576.3,94.9 L1582.8,106.1 L1569.8,106.1ZM1579.5,95 L1586,106.3 L1573,106.3ZM1582.7,95.1 L1589.2,106.4 L1576.2,106.4ZM1585.9,95.3 L1592.4,106.5 L1579.4,106.5ZM1589,95.4 L1595.5,106.6 L1582.5,106.6ZM1592.2,95.5 L1598.7,106.7 L1585.7,106.7ZM1595.4,95.6 L1601.9,106.9 L1588.9,106.9ZM1598.6,95.7 L1605.1,107 L1592.1,107ZM1601.8,95.8 L1608.3,107.1 L1595.3,107.1ZM1605,95.9 L1611.5,107.2 L1598.5,107.2ZM1608.2,96 L1614.7,107.3 L1601.7,107.3ZM1611.4,96.1 L1617.9,107.4 L1604.9,107.4ZM1614.6,96.2 L1621.1,107.5 L1608.1,107.5ZM1617.8,96.3 L1624.3,107.6 L1611.3,107.6ZM1621,96.4 L1627.5,107.6 L1614.5,107.6ZM1624.2,96.5 L1630.7,107.7 L1617.7,107.7ZM1627.4,96.5 L1633.9,107.8 L1620.9,107.8ZM1630.6,96.6 L1637.1,107.9 L1624.1,107.9ZM1633.8,96.7 L1640.3,108 L1627.3,108ZM1637,96.8 L1643.5,108 L1630.5,108ZM1640.2,96.8 L1646.7,108.1 L1633.7,108.1ZM1643.4,96.9 L1649.9,108.2 L1636.9,108.2ZM1646.6,97 L1653.1,108.2 L1640.1,108.2ZM1649.8,97 L1656.3,108.3 L1643.3,108.3ZM1653,97.1 L1659.5,108.4 L1646.5,108.4ZM1656.2,97.2 L1662.7,108.4 L1649.7,108.4ZM1659.4,97.2 L1665.9,108.5 L1652.9,108.5ZM1662.6,97.3 L1669.1,108.5 L1656.1,108.5ZM1665.8,97.3 L1672.3,108.6 L1659.3,108.6ZM1669,97.3 L1675.5,108.6 L1662.5,108.6ZM1672.2,97.4 L1678.7,108.6 L1665.7,108.6ZM1675.4,97.4 L1681.9,108.7 L1668.9,108.7ZM1678.6,97.4 L1685.1,108.7 L1672.1,108.7ZM1681.8,97.5 L1688.3,108.7 L1675.3,108.7ZM1685,97.5 L1691.5,108.8 L1678.5,108.8ZM1688.2,97.5 L1694.7,108.8 L1681.7,108.8ZM1691.4,97.6 L1697.9,108.8 L1684.9,108.8ZM1694.6,97.6 L1701.1,108.8 L1688.1,108.8ZM1697.8,97.6 L1704.3,108.9 L1691.3,108.9ZM1701,97.6 L1707.5,108.9 L1694.5,108.9ZM1704.2,97.6 L1710.7,108.9 L1697.7,108.9ZM1707.4,97.6 L1713.9,108.9 L1700.9,108.9ZM1710.6,97.7 L1717.1,108.9 L1704.1,108.9ZM1713.8,97.7 L1720.3,108.9 L1707.3,108.9ZM1717,97.7 L1723.5,108.9 L1710.5,108.9ZM1720.2,97.7 L1726.7,109 L1713.7,109ZM1723.4,97.7 L1729.9,109 L1716.9,109ZM1726.6,97.7 L1733.1,109 L1720.1,109ZM1729.8,97.7 L1736.3,109 L1723.3,109ZM1733,97.7 L1739.5,109 L1726.5,109ZM1736.2,97.7 L1742.7,109 L1729.7,109ZM1739.4,97.7 L1745.9,109 L1732.9,109ZM1742.6,97.8 L1749.1,109 L1736.1,109ZM1745.8,97.8 L1752.3,109 L1739.3,109ZM1749,97.8 L1755.5,109 L1742.5,109ZM1752.2,97.8 L1758.7,109 L1745.7,109ZM1755.4,97.8 L1761.9,109 L1748.9,109ZM1758.6,97.8 L1765.1,109 L1752.1,109ZM1761.8,97.8 L1768.3,109 L1755.3,109ZM1765,97.8 L1771.5,109 L1758.5,109ZM1768.2,97.8 L1774.7,109.1 L1761.7,109.1ZM1771.4,97.8 L1777.9,109.1 L1764.9,109.1ZM1774.6,97.8 L1781.1,109.1 L1768.1,109.1ZM1777.8,97.8 L1784.3,109.1 L1771.3,109.1ZM1781,97.8 L1787.5,109.1 L1774.5,109.1ZM1784.2,97.8 L1790.7,109.1 L1777.7,109.1ZM1787.4,97.8 L1793.9,109.1 L1780.9,109.1ZM1790.6,97.8 L1797.1,109.1 L1784.1,109.1Z" fill="none" stroke="#b84a4a" stroke-width="1.1"/>
<path d="M1019,117 C1062.7,117 1106.3,117.2 1150,117 C1183.3,116.9 1216.7,116 1250,116 C1266.7,116 1283.4,115.8 1300,117 C1310.1,117.8 1320.4,119.1 1330,122 C1337.8,124.4 1345.7,128.1 1352,133 C1357.7,137.4 1361.8,144 1366,150 C1370.5,156.3 1375.1,162.9 1378,170 C1381.8,179.5 1384.3,189.8 1386,200 C1388.3,213.2 1388.8,226.7 1390,240 C1391.2,253.3 1392.3,266.7 1393,280 C1393.9,296.7 1394.3,313.3 1395,330" fill="none" stroke="#c8c8c8" stroke-width="11"/>
<path d="M1416.4,330 C1417.1,313.3 1417.5,296.7 1418.4,280 C1419.1,266.7 1420.2,253.3 1421.4,240 C1422.6,226.7 1423.1,213.2 1425.4,200 C1427.1,189.8 1429.6,179.5 1433.4,170 C1436.3,162.9 1440.9,156.3 1445.4,150 C1449.6,144 1453.7,137.4 1459.4,133 C1465.7,128.1 1473.6,124.4 1481.4,122 C1491,119.1 1501.3,117.8 1511.4,117 C1528,115.8 1544.7,116 1561.4,116 C1594.7,116 1628.1,116.9 1661.4,117 C1705.1,117.2 1748.7,117 1792.4,117" fill="none" stroke="#c8c8c8" stroke-width="11"/>
<path d="M1013,117 a6,6 0 1,0 12,0 a6,6 0 1,0 -12,0M1016.6,117 a6,6 0 1,0 12,0 a6,6 0 1,0 -12,0M1020.2,117 a6,6 0 1,0 12,0 a6,6 0 1,0 -12,0M1023.8,117 a6,6 0 1,0 12,0 a6,6 0 1,0 -12,0M1027.4,117 a6,6 0 1,0 12,0 a6,6 0 1,0 -12,0M1031,117 a6,6 0 1,0 12,0 a6,6 0 1,0 -12,0M1034.6,117 a6,6 0 1,0 12,0 a6,6 0 1,0 -12,0M1038.2,117 a6,6 0 1,0 12,0 a6,6 0 1,0 -12,0M1041.8,117 a6,6 0 1,0 12,0 a6,6 0 1,0 -12,0M1045.4,117 a6,6 0 1,0 12,0 a6,6 0 1,0 -12,0M1049,117 a6,6 0 1,0 12,0 a6,6 0 1,0 -12,0M1052.6,117 a6,6 0 1,0 12,0 a6,6 0 1,0 -12,0M1056.2,117 a6,6 0 1,0 12,0 a6,6 0 1,0 -12,0M1059.8,117.1 a6,6 0 1,0 12,0 a6,6 0 1,0 -12,0M1063.4,117.1 a6,6 0 1,0 12,0 a6,6 0 1,0 -12,0M1067,117.1 a6,6 0 1,0 12,0 a6,6 0 1,0 -12,0M1070.6,117.1 a6,6 0 1,0 12,0 a6,6 0 1,0 -12,0M1074.2,117.1 a6,6 0 1,0 12,0 a6,6 0 1,0 -12,0M1077.8,117.1 a6,6 0 1,0 12,0 a6,6 0 1,0 -12,0M1081.4,117.1 a6,6 0 1,0 12,0 a6,6 0 1,0 -12,0M1085,117.1 a6,6 0 1,0 12,0 a6,6 0 1,0 -12,0M1088.6,117.1 a6,6 0 1,0 12,0 a6,6 0 1,0 -12,0M1092.2,117.1 a6,6 0 1,0 12,0 a6,6 0 1,0 -12,0M1095.8,117.1 a6,6 0 1,0 12,0 a6,6 0 1,0 -12,0M1099.4,117.1 a6,6 0 1,0 12,0 a6,6 0 1,0 -12,0M1103,117.1 a6,6 0 1,0 12,0 a6,6 0 1,0 -12,0M1106.6,117.1 a6,6 0 1,0 12,0 a6,6 0 1,0 -12,0M1110.2,117.1 a6,6 0 1,0 12,0 a6,6 0 1,0 -12,0M1113.8,117.1 a6,6 0 1,0 12,0 a6,6 0 1,0 -12,0M1117.4,117.1 a6,6 0 1,0 12,0 a6,6 0 1,0 -12,0M1121,117.1 a6,6 0 1,0 12,0 a6,6 0 1,0 -12,0M1124.6,117.1 a6,6 0 1,0 12,0 a6,6 0 1,0 -12,0M1128.2,117 a6,6 0 1,0 12,0 a6,6 0 1,0 -12,0M1131.8,117 a6,6 0 1,0 12,0 a6,6 0 1,0 -12,0M1135.4,117 a6,6 0 1,0 12,0 a6,6 0 1,0 -12,0M1139,117 a6,6 0 1,0 12,0 a6,6 0 1,0 -12,0M1142.6,117 a6,6 0 1,0 12,0 a6,6 0 1,0 -12,0M1146.2,117 a6,6 0 1,0 12,0 a6,6 0 1,0 -12,0M1149.8,117 a6,6 0 1,0 12,0 a6,6 0 1,0 -12,0M1153.4,116.9 a6,6 0 1,0 12,0 a6,6 0 1,0 -12,0M1157,116.9 a6,6 0 1,0 12,0 a6,6 0 1,0 -12,0M1160.6,116.9 a6,6 0 1,0 12,0 a6,6 0 1,0 -12,0M1164.2,116.9 a6,6 0 1,0 12,0 a6,6 0 1,0 -12,0M1167.8,116.8 a6,6 0 1,0 12,0 a6,6 0 1,0 -12,0M1171.4,116.8 a6,6 0 1,0 12,0 a6,6 0 1,0 -12,0M1175,116.7 a6,6 0 1,0 12,0 a6,6 0 1,0 -12,0M1178.6,116.7 a6,6 0 1,0 12,0 a6,6 0 1,0 -12,0M1182.2,116.7 a6,6 0 1,0 12,0 a6,6 0 1,0 -12,0M1185.8,116.6 a6,6 0 1,0 12,0 a6,6 0 1,0 -12,0M1189.4,116.6 a6,6 0 1,0 12,0 a6,6 0 1,0 -12,0M1193,116.5 a6,6 0 1,0 12,0 a6,6 0 1,0 -12,0M1196.6,116.5 a6,6 0 1,0 12,0 a6,6 0 1,0 -12,0M1200.2,116.4 a6,6 0 1,0 12,0 a6,6 0 1,0 -12,0M1203.8,116.4 a6,6 0 1,0 12,0 a6,6 0 1,0 -12,0M1207.4,116.3 a6,6 0 1,0 12,0 a6,6 0 1,0 -12,0M1211,116.3 a6,6 0 1,0 12,0 a6,6 0 1,0 -12,0M1214.6,116.2 a6,6 0 1,0 12,0 a6,6 0 1,0 -12,0M1218.2,116.2 a6,6 0 1,0 12,0 a6,6 0 1,0 -12,0M1221.8,116.1 a6,6 0 1,0 12,0 a6,6 0 1,0 -12,0M1225.4,116.1 a6,6 0 1,0 12,0 a6,6 0 1,0 -12,0M1229,116.1 a6,6 0 1,0 12,0 a6,6 0 1,0 -12,0M1232.6,116 a6,6 0 1,0 12,0 a6,6 0 1,0 -12,0M1236.2,116 a6,6 0 1,0 12,0 a6,6 0 1,0 -12,0M1239.8,116 a6,6 0 1,0 12,0 a6,6 0 1,0 -12,0M1243.4,116 a6,6 0 1,0 12,0 a6,6 0 1,0 -12,0M1247,116 a6,6 0 1,0 12,0 a6,6 0 1,0 -12,0M1250.6,116 a6,6 0 1,0 12,0 a6,6 0 1,0 -12,0M1254.2,116 a6,6 0 1,0 12,0 a6,6 0 1,0 -12,0M1257.8,116 a6,6 0 1,0 12,0 a6,6 0 1,0 -12,0M1261.4,116 a6,6 0 1,0 12,0 a6,6 0 1,0 -12,0M1265,116 a6,6 0 1,0 12,0 a6,6 0 1,0 -12,0M1268.6,116.1 a6,6 0 1,0 12,0 a6,6 0 1,0 -12,0M1272.2,116.1 a6,6 0 1,0 12,0 a6,6 0 1,0 -12,0M1275.8,116.2 a6,6 0 1,0 12,0 a6,6 0 1,0 -12,0M1279.4,116.3 a6,6 0 1,0 12,0 a6,6 0 1,0 -12,0M1283,116.4 a6,6 0 1,0 12,0 a6,6 0 1,0 -12,0M1286.6,116.5 a6,6 0 1,0 12,0 a6,6 0 1,0 -12,0M1290.2,116.7 a6,6 0 1,0 12,0 a6,6 0 1,0 -12,0M1293.8,117 a6,6 0 1,0 12,0 a6,6 0 1,0 -12,0M1297.4,117.3 a6,6 0 1,0 12,0 a6,6 0 1,0 -12,0M1300.9,117.6 a6,6 0 1,0 12,0 a6,6 0 1,0 -12,0M1304.5,118 a6,6 0 1,0 12,0 a6,6 0 1,0 -12,0M1308.1,118.5 a6,6 0 1,0 12,0 a6,6 0 1,0 -12,0M1311.6,119 a6,6 0 1,0 12,0 a6,6 0 1,0 -12,0M1315.2,119.7 a6,6 0 1,0 12,0 a6,6 0 1,0 -12,0M1318.7,120.5 a6,6 0 1,0 12,0 a6,6 0 1,0 -12,0M1322.2,121.5 a6,6 0 1,0 12,0 a6,6 0 1,0 -12,0M1325.6,122.5 a6,6 0 1,0 12,0 a6,6 0 1,0 -12,0M1329,123.7 a6,6 0 1,0 12,0 a6,6 0 1,0 -12,0M1332.3,125.1 a6,6 0 1,0 12,0 a6,6 0 1,0 -12,0M1335.6,126.6 a6,6 0 1,0 12,0 a6,6 0 1,0 -12,0M1338.8,128.2 a6,6 0 1,0 12,0 a6,6 0 1,0 -12,0M1341.9,130.1 a6,6 0 1,0 12,0 a6,6 0 1,0 -12,0M1344.8,132.1 a6,6 0 1,0 12,0 a6,6 0 1,0 -12,0M1347.7,134.4 a6,6 0 1,0 12,0 a6,6 0 1,0 -12,0M1350.2,136.9 a6,6 0 1,0 12,0 a6,6 0 1,0 -12,0M1352.6,139.6 a6,6 0 1,0 12,0 a6,6 0 1,0 -12,0M1354.8,142.5 a6,6 0 1,0 12,0 a6,6 0 1,0 -12,0M1356.8,145.4 a6,6 0 1,0 12,0 a6,6 0 1,0 -12,0M1358.9,148.4 a6,6 0 1,0 12,0 a6,6 0 1,0 -12,0M1360.9,151.3 a6,6 0 1,0 12,0 a6,6 0 1,0 -12,0M1363,154.3 a6,6 0 1,0 12,0 a6,6 0 1,0 -12,0M1365.1,157.2 a6,6 0 1,0 12,0 a6,6 0 1,0 -12,0M1367,160.3 a6,6 0 1,0 12,0 a6,6 0 1,0 -12,0M1368.9,163.4 a6,6 0 1,0 12,0 a6,6 0 1,0 -12,0M1370.5,166.6 a6,6 0 1,0 12,0 a6,6 0 1,0 -12,0M1371.9,169.9 a6,6 0 1,0 12,0 a6,6 0 1,0 -12,0M1373.2,173.2 a6,6 0 1,0 12,0 a6,6 0 1,0 -12,0M1374.4,176.6 a6,6 0 1,0 12,0 a6,6 0 1,0 -12,0M1375.5,180.1 a6,6 0 1,0 12,0 a6,6 0 1,0 -12,0M1376.4,183.5 a6,6 0 1,0 12,0 a6,6 0 1,0 -12,0M1377.3,187 a6,6 0 1,0 12,0 a6,6 0 1,0 -12,0M1378.1,190.5 a6,6 0 1,0 12,0 a6,6 0 1,0 -12,0M1378.9,194 a6,6 0 1,0 12,0 a6,6 0 1,0 -12,0M1379.6,197.6 a6,6 0 1,0 12,0 a6,6 0 1,0 -12,0M1380.2,201.1 a6,6 0 1,0 12,0 a6,6 0 1,0 -12,0M1380.7,204.7 a6,6 0 1,0 12,0 a6,6 0 1,0 -12,0M1381.2,208.3 a6,6 0 1,0 12,0 a6,6 0 1,0 -12,0M1381.6,211.8 a6,6 0 1,0 12,0 a6,6 0 1,0 -12,0M1381.9,215.4 a6,6 0 1,0 12,0 a6,6 0 1,0 -12,0M1382.3,219 a6,6 0 1,0 12,0 a6,6 0 1,0 -12,0M1382.6,222.6 a6,6 0 1,0 12,0 a6,6 0 1,0 -12,0M1382.9,226.2 a6,6 0 1,0 12,0 a6,6 0 1,0 -12,0M1383.2,229.8 a6,6 0 1,0 12,0 a6,6 0 1,0 -12,0M1383.4,233.4 a6,6 0 1,0 12,0 a6,6 0 1,0 -12,0M1383.7,236.9 a6,6 0 1,0 12,0 a6,6 0 1,0 -12,0M1384,240.5 a6,6 0 1,0 12,0 a6,6 0 1,0 -12,0M1384.4,244.1 a6,6 0 1,0 12,0 a6,6 0 1,0 -12,0M1384.7,247.7 a6,6 0 1,0 12,0 a6,6 0 1,0 -12,0M1385,251.3 a6,6 0 1,0 12,0 a6,6 0 1,0 -12,0M1385.3,254.9 a6,6 0 1,0 12,0 a6,6 0 1,0 -12,0M1385.6,258.5 a6,6 0 1,0 12,0 a6,6 0 1,0 -12,0M1385.8,262.1 a6,6 0 1,0 12,0 a6,6 0 1,0 -12,0M1386.1,265.6 a6,6 0 1,0 12,0 a6,6 0 1,0 -12,0M1386.3,269.2 a6,6 0 1,0 12,0 a6,6 0 1,0 -12,0M1386.6,272.8 a6,6 0 1,0 12,0 a6,6 0 1,0 -12,0M1386.8,276.4 a6,6 0 1,0 12,0 a6,6 0 1,0 -12,0M1387,280 a6,6 0 1,0 12,0 a6,6 0 1,0 -12,0M1387.2,283.6 a6,6 0 1,0 12,0 a6,6 0 1,0 -12,0M1387.4,287.2 a6,6 0 1,0 12,0 a6,6 0 1,0 -12,0M1387.5,290.8 a6,6 0 1,0 12,0 a6,6 0 1,0 -12,0M1387.7,294.4 a6,6 0 1,0 12,0 a6,6 0 1,0 -12,0M1387.8,298 a6,6 0 1,0 12,0 a6,6 0 1,0 -12,0M1388,301.6 a6,6 0 1,0 12,0 a6,6 0 1,0 -12,0M1388.1,305.2 a6,6 0 1,0 12,0 a6,6 0 1,0 -12,0M1388.2,308.8 a6,6 0 1,0 12,0 a6,6 0 1,0 -12,0M1388.4,312.4 a6,6 0 1,0 12,0 a6,6 0 1,0 -12,0M1388.5,316 a6,6 0 1,0 12,0 a6,6 0 1,0 -12,0M1388.6,319.6 a6,6 0 1,0 12,0 a6,6 0 1,0 -12,0M1388.7,323.2 a6,6 0 1,0 12,0 a6,6 0 1,0 -12,0M1388.9,326.8 a6,6 0 1,0 12,0 a6,6 0 1,0 -12,0M1410.4,330 a6,6 0 1,0 12,0 a6,6 0 1,0 -12,0M1410.5,326.4 a6,6 0 1,0 12,0 a6,6 0 1,0 -12,0M1410.7,322.8 a6,6 0 1,0 12,0 a6,6 0 1,0 -12,0M1410.8,319.2 a6,6 0 1,0 12,0 a6,6 0 1,0 -12,0M1410.9,315.6 a6,6 0 1,0 12,0 a6,6 0 1,0 -12,0M1411,312 a6,6 0 1,0 12,0 a6,6 0 1,0 -12,0M1411.2,308.4 a6,6 0 1,0 12,0 a6,6 0 1,0 -12,0M1411.3,304.8 a6,6 0 1,0 12,0 a6,6 0 1,0 -12,0M1411.5,301.2 a6,6 0 1,0 12,0 a6,6 0 1,0 -12,0M1411.6,297.6 a6,6 0 1,0 12,0 a6,6 0 1,0 -12,0M1411.7,294 a6,6 0 1,0 12,0 a6,6 0 1,0 -12,0M1411.9,290.4 a6,6 0 1,0 12,0 a6,6 0 1,0 -12,0M1412.1,286.8 a6,6 0 1,0 12,0 a6,6 0 1,0 -12,0M1412.2,283.2 a6,6 0 1,0 12,0 a6,6 0 1,0 -12,0M1412.4,279.6 a6,6 0 1,0 12,0 a6,6 0 1,0 -12,0M1412.6,276 a6,6 0 1,0 12,0 a6,6 0 1,0 -12,0M1412.9,272.5 a6,6 0 1,0 12,0 a6,6 0 1,0 -12,0M1413.1,268.9 a6,6 0 1,0 12,0 a6,6 0 1,0 -12,0M1413.3,265.3 a6,6 0 1,0 12,0 a6,6 0 1,0 -12,0M1413.6,261.7 a6,6 0 1,0 12,0 a6,6 0 1,0 -12,0M1413.9,258.1 a6,6 0 1,0 12,0 a6,6 0 1,0 -12,0M1414.2,254.5 a6,6 0 1,0 12,0 a6,6 0 1,0 -12,0M1414.5,250.9 a6,6 0 1,0 12,0 a6,6 0 1,0 -12,0M1414.8,247.3 a6,6 0 1,0 12,0 a6,6 0 1,0 -12,0M1415.1,243.7 a6,6 0 1,0 12,0 a6,6 0 1,0 -12,0M1415.4,240.2 a6,6 0 1,0 12,0 a6,6 0 1,0 -12,0M1415.7,236.6 a6,6 0 1,0 12,0 a6,6 0 1,0 -12,0M1416,233 a6,6 0 1,0 12,0 a6,6 0 1,0 -12,0M1416.3,229.4 a6,6 0 1,0 12,0 a6,6 0 1,0 -12,0M1416.6,225.8 a6,6 0 1,0 12,0 a6,6 0 1,0 -12,0M1416.8,222.2 a6,6 0 1,0 12,0 a6,6 0 1,0 -12,0M1417.2,218.6 a6,6 0 1,0 12,0 a6,6 0 1,0 -12,0M1417.5,215 a6,6 0 1,0 12,0 a6,6 0 1,0 -12,0M1417.9,211.5 a6,6 0 1,0 12,0 a6,6 0 1,0 -12,0M1418.3,207.9 a6,6 0 1,0 12,0 a6,6 0 1,0 -12,0M1418.7,204.3 a6,6 0 1,0 12,0 a6,6 0 1,0 -12,0M1419.3,200.8 a6,6 0 1,0 12,0 a6,6 0 1,0 -12,0M1419.9,197.2 a6,6 0 1,0 12,0 a6,6 0 1,0 -12,0M1420.6,193.7 a6,6 0 1,0 12,0 a6,6 0 1,0 -12,0M1421.3,190.2 a6,6 0 1,0 12,0 a6,6 0 1,0 -12,0M1422.2,186.7 a6,6 0 1,0 12,0 a6,6 0 1,0 -12,0M1423.1,183.2 a6,6 0 1,0 12,0 a6,6 0 1,0 -12,0M1424,179.7 a6,6 0 1,0 12,0 a6,6 0 1,0 -12,0M1425.1,176.3 a6,6 0 1,0 12,0 a6,6 0 1,0 -12,0M1426.3,172.9 a6,6 0 1,0 12,0 a6,6 0 1,0 -12,0M1427.6,169.5 a6,6 0 1,0 12,0 a6,6 0 1,0 -12,0M1429.1,166.2 a6,6 0 1,0 12,0 a6,6 0 1,0 -12,0M1430.7,163 a6,6 0 1,0 12,0 a6,6 0 1,0 -12,0M1432.6,159.9 a6,6 0 1,0 12,0 a6,6 0 1,0 -12,0M1434.5,156.9 a6,6 0 1,0 12,0 a6,6 0 1,0 -12,0M1436.6,154 a6,6 0 1,0 12,0 a6,6 0 1,0 -12,0M1438.7,151 a6,6 0 1,0 12,0 a6,6 0 1,0 -12,0M1440.7,148.1 a6,6 0 1,0 12,0 a6,6 0 1,0 -12,0M1442.8,145.1 a6,6 0 1,0 12,0 a6,6 0 1,0 -12,0M1444.9,142.2 a6,6 0 1,0 12,0 a6,6 0 1,0 -12,0M1447.1,139.3 a6,6 0 1,0 12,0 a6,6 0 1,0 -12,0M1449.4,136.6 a6,6 0 1,0 12,0 a6,6 0 1,0 -12,0M1452,134.1 a6,6 0 1,0 12,0 a6,6 0 1,0 -12,0M1454.9,131.9 a6,6 0 1,0 12,0 a6,6 0 1,0 -12,0M1457.8,129.9 a6,6 0 1,0 12,0 a6,6 0 1,0 -12,0M1460.9,128.1 a6,6 0 1,0 12,0 a6,6 0 1,0 -12,0M1464.1,126.4 a6,6 0 1,0 12,0 a6,6 0 1,0 -12,0M1467.4,124.9 a6,6 0 1,0 12,0 a6,6 0 1,0 -12,0M1470.8,123.6 a6,6 0 1,0 12,0 a6,6 0 1,0 -12,0M1474.2,122.4 a6,6 0 1,0 12,0 a6,6 0 1,0 -12,0M1477.6,121.3 a6,6 0 1,0 12,0 a6,6 0 1,0 -12,0M1481.1,120.4 a6,6 0 1,0 12,0 a6,6 0 1,0 -12,0M1484.6,119.6 a6,6 0 1,0 12,0 a6,6 0 1,0 -12,0M1488.1,119 a6,6 0 1,0 12,0 a6,6 0 1,0 -12,0M1491.7,118.4 a6,6 0 1,0 12,0 a6,6 0 1,0 -12,0M1495.3,118 a6,6 0 1,0 12,0 a6,6 0 1,0 -12,0M1498.8,117.6 a6,6 0 1,0 12,0 a6,6 0 1,0 -12,0M1502.4,117.2 a6,6 0 1,0 12,0 a6,6 0 1,0 -12,0M1506,117 a6,6 0 1,0 12,0 a6,6 0 1,0 -12,0M1509.6,116.7 a6,6 0 1,0 12,0 a6,6 0 1,0 -12,0M1513.2,116.5 a6,6 0 1,0 12,0 a6,6 0 1,0 -12,0M1516.8,116.4 a6,6 0 1,0 12,0 a6,6 0 1,0 -12,0M1520.4,116.3 a6,6 0 1,0 12,0 a6,6 0 1,0 -12,0M1524,116.2 a6,6 0 1,0 12,0 a6,6 0 1,0 -12,0M1527.6,116.1 a6,6 0 1,0 12,0 a6,6 0 1,0 -12,0M1531.2,116.1 a6,6 0 1,0 12,0 a6,6 0 1,0 -12,0M1534.8,116 a6,6 0 1,0 12,0 a6,6 0 1,0 -12,0M1538.4,116 a6,6 0 1,0 12,0 a6,6 0 1,0 -12,0M1542,116 a6,6 0 1,0 12,0 a6,6 0 1,0 -12,0M1545.6,116 a6,6 0 1,0 12,0 a6,6 0 1,0 -12,0M1549.2,116 a6,6 0 1,0 12,0 a6,6 0 1,0 -12,0M1552.8,116 a6,6 0 1,0 12,0 a6,6 0 1,0 -12,0M1556.4,116 a6,6 0 1,0 12,0 a6,6 0 1,0 -12,0M1560,116 a6,6 0 1,0 12,0 a6,6 0 1,0 -12,0M1563.6,116 a6,6 0 1,0 12,0 a6,6 0 1,0 -12,0M1567.2,116.1 a6,6 0 1,0 12,0 a6,6 0 1,0 -12,0M1570.8,116.1 a6,6 0 1,0 12,0 a6,6 0 1,0 -12,0M1574.4,116.1 a6,6 0 1,0 12,0 a6,6 0 1,0 -12,0M1578,116.2 a6,6 0 1,0 12,0 a6,6 0 1,0 -12,0M1581.6,116.2 a6,6 0 1,0 12,0 a6,6 0 1,0 -12,0M1585.2,116.2 a6,6 0 1,0 12,0 a6,6 0 1,0 -12,0M1588.8,116.3 a6,6 0 1,0 12,0 a6,6 0 1,0 -12,0M1592.4,116.3 a6,6 0 1,0 12,0 a6,6 0 1,0 -12,0M1596,116.4 a6,6 0 1,0 12,0 a6,6 0 1,0 -12,0M1599.6,116.4 a6,6 0 1,0 12,0 a6,6 0 1,0 -12,0M1603.2,116.5 a6,6 0 1,0 12,0 a6,6 0 1,0 -12,0M1606.8,116.5 a6,6 0 1,0 12,0 a6,6 0 1,0 -12,0M1610.4,116.6 a6,6 0 1,0 12,0 a6,6 0 1,0 -12,0M1614,116.6 a6,6 0 1,0 12,0 a6,6 0 1,0 -12,0M1617.6,116.7 a6,6 0 1,0 12,0 a6,6 0 1,0 -12,0M1621.2,116.7 a6,6 0 1,0 12,0 a6,6 0 1,0 -12,0M1624.8,116.7 a6,6 0 1,0 12,0 a6,6 0 1,0 -12,0M1628.4,116.8 a6,6 0 1,0 12,0 a6,6 0 1,0 -12,0M1632,116.8 a6,6 0 1,0 12,0 a6,6 0 1,0 -12,0M1635.6,116.9 a6,6 0 1,0 12,0 a6,6 0 1,0 -12,0M1639.2,116.9 a6,6 0 1,0 12,0 a6,6 0 1,0 -12,0M1642.8,116.9 a6,6 0 1,0 12,0 a6,6 0 1,0 -12,0M1646.4,116.9 a6,6 0 1,0 12,0 a6,6 0 1,0 -12,0M1650,117 a6,6 0 1,0 12,0 a6,6 0 1,0 -12,0M1653.6,117 a6,6 0 1,0 12,0 a6,6 0 1,0 -12,0M1657.2,117 a6,6 0 1,0 12,0 a6,6 0 1,0 -12,0M1660.8,117 a6,6 0 1,0 12,0 a6,6 0 1,0 -12,0M1664.4,117 a6,6 0 1,0 12,0 a6,6 0 1,0 -12,0M1668,117 a6,6 0 1,0 12,0 a6,6 0 1,0 -12,0M1671.6,117 a6,6 0 1,0 12,0 a6,6 0 1,0 -12,0M1675.2,117.1 a6,6 0 1,0 12,0 a6,6 0 1,0 -12,0M1678.8,117.1 a6,6 0 1,0 12,0 a6,6 0 1,0 -12,0M1682.4,117.1 a6,6 0 1,0 12,0 a6,6 0 1,0 -12,0M1686,117.1 a6,6 0 1,0 12,0 a6,6 0 1,0 -12,0M1689.6,117.1 a6,6 0 1,0 12,0 a6,6 0 1,0 -12,0M1693.2,117.1 a6,6 0 1,0 12,0 a6,6 0 1,0 -12,0M1696.8,117.1 a6,6 0 1,0 12,0 a6,6 0 1,0 -12,0M1700.4,117.1 a6,6 0 1,0 12,0 a6,6 0 1,0 -12,0M1704,117.1 a6,6 0 1,0 12,0 a6,6 0 1,0 -12,0M1707.6,117.1 a6,6 0 1,0 12,0 a6,6 0 1,0 -12,0M1711.2,117.1 a6,6 0 1,0 12,0 a6,6 0 1,0 -12,0M1714.8,117.1 a6,6 0 1,0 12,0 a6,6 0 1,0 -12,0M1718.4,117.1 a6,6 0 1,0 12,0 a6,6 0 1,0 -12,0M1722,117.1 a6,6 0 1,0 12,0 a6,6 0 1,0 -12,0M1725.6,117.1 a6,6 0 1,0 12,0 a6,6 0 1,0 -12,0M1729.2,117.1 a6,6 0 1,0 12,0 a6,6 0 1,0 -12,0M1732.8,117.1 a6,6 0 1,0 12,0 a6,6 0 1,0 -12,0M1736.4,117.1 a6,6 0 1,0 12,0 a6,6 0 1,0 -12,0M1740,117.1 a6,6 0 1,0 12,0 a6,6 0 1,0 -12,0M1743.6,117 a6,6 0 1,0 12,0 a6,6 0 1,0 -12,0M1747.2,117 a6,6 0 1,0 12,0 a6,6 0 1,0 -12,0M1750.8,117 a6,6 0 1,0 12,0 a6,6 0 1,0 -12,0M1754.4,117 a6,6 0 1,0 12,0 a6,6 0 1,0 -12,0M1758,117 a6,6 0 1,0 12,0 a6,6 0 1,0 -12,0M1761.6,117 a6,6 0 1,0 12,0 a6,6 0 1,0 -12,0M1765.2,117 a6,6 0 1,0 12,0 a6,6 0 1,0 -12,0M1768.8,117 a6,6 0 1,0 12,0 a6,6 0 1,0 -12,0M1772.4,117 a6,6 0 1,0 12,0 a6,6 0 1,0 -12,0M1776,117 a6,6 0 1,0 12,0 a6,6 0 1,0 -12,0M1779.6,117 a6,6 0 1,0 12,0 a6,6 0 1,0 -12,0M1783.2,117 a6,6 0 1,0 12,0 a6,6 0 1,0 -12,0" fill="#fff" stroke="#8a8a8a" stroke-width="1"/>
<path d="M1363,560 a5,5 0 1,0 10,0 a5,5 0 1,0 -10,0M1363.3,563.6 a5,5 0 1,0 10,0 a5,5 0 1,0 -10,0M1363.5,567.2 a5,5 0 1,0 10,0 a5,5 0 1,0 -10,0M1363.6,570.8 a5,5 0 1,0 10,0 a5,5 0 1,0 -10,0M1363.9,574.4 a5,5 0 1,0 10,0 a5,5 0 1,0 -10,0M1364.2,578 a5,5 0 1,0 10,0 a5,5 0 1,0 -10,0M1364.6,581.5 a5,5 0 1,0 10,0 a5,5 0 1,0 -10,0M1365.3,585.1 a5,5 0 1,0 10,0 a5,5 0 1,0 -10,0M1366.3,588.5 a5,5 0 1,0 10,0 a5,5 0 1,0 -10,0M1368.1,591.6 a5,5 0 1,0 10,0 a5,5 0 1,0 -10,0M1370.9,593.9 a5,5 0 1,0 10,0 a5,5 0 1,0 -10,0M1374.1,595.5 a5,5 0 1,0 10,0 a5,5 0 1,0 -10,0M1377.5,596.6 a5,5 0 1,0 10,0 a5,5 0 1,0 -10,0M1381,597.3 a5,5 0 1,0 10,0 a5,5 0 1,0 -10,0M1384.6,597.9 a5,5 0 1,0 10,0 a5,5 0 1,0 -10,0M1388.2,598.2 a5,5 0 1,0 10,0 a5,5 0 1,0 -10,0M1391.7,597.6 a5,5 0 1,0 10,0 a5,5 0 1,0 -10,0M1395.2,596.7 a5,5 0 1,0 10,0 a5,5 0 1,0 -10,0M1398.7,596.1 a5,5 0 1,0 10,0 a5,5 0 1,0 -10,0M1402.3,596.2 a5,5 0 1,0 10,0 a5,5 0 1,0 -10,0M1405.8,597 a5,5 0 1,0 10,0 a5,5 0 1,0 -10,0M1409.3,597.8 a5,5 0 1,0 10,0 a5,5 0 1,0 -10,0M1412.9,598.2 a5,5 0 1,0 10,0 a5,5 0 1,0 -10,0M1416.5,597.7 a5,5 0 1,0 10,0 a5,5 0 1,0 -10,0M1420,597.1 a5,5 0 1,0 10,0 a5,5 0 1,0 -10,0M1423.5,596.3 a5,5 0 1,0 10,0 a5,5 0 1,0 -10,0M1426.9,595.1 a5,5 0 1,0 10,0 a5,5 0 1,0 -10,0M1430,593.3 a5,5 0 1,0 10,0 a5,5 0 1,0 -10,0M1432.5,590.7 a5,5 0 1,0 10,0 a5,5 0 1,0 -10,0M1434,587.5 a5,5 0 1,0 10,0 a5,5 0 1,0 -10,0M1434.9,584 a5,5 0 1,0 10,0 a5,5 0 1,0 -10,0M1435.5,580.5 a5,5 0 1,0 10,0 a5,5 0 1,0 -10,0M1435.9,576.9 a5,5 0 1,0 10,0 a5,5 0 1,0 -10,0M1436.2,573.3 a5,5 0 1,0 10,0 a5,5 0 1,0 -10,0M1436.4,569.7 a5,5 0 1,0 10,0 a5,5 0 1,0 -10,0M1436.6,566.1 a5,5 0 1,0 10,0 a5,5 0 1,0 -10,0M1436.8,562.5 a5,5 0 1,0 10,0 a5,5 0 1,0 -10,0" fill="#eee" stroke="#9a9a9a" stroke-width="1"/>
<path d="M1012,301.3 C1056.7,302.1 1101.4,301.9 1146,303.8 C1194.7,305.9 1243.8,307.5 1292,313.5 C1308.8,315.6 1325.6,321.4 1341,328 C1348.3,331.1 1353.8,342.4 1360,342.8 C1365.1,343.1 1370,330 1375,330 C1380,330 1388.1,337.1 1390,343 C1394.6,357.1 1394,374.3 1394.5,390 C1395,408 1395.1,426.2 1393,444 C1391.3,458.2 1385.2,471.8 1383,486 C1380.9,499.5 1380.4,513.3 1380,527 C1379.4,545.3 1380,563.7 1380,582" fill="none" stroke="#3b4ca8" stroke-width="15" stroke-linecap="round" stroke-linejoin="round"/>
<path d="M1380,582 C1387.3,580.3 1394.6,578 1402,577 C1408.9,576 1418.5,572.8 1423,576 C1427.5,579.2 1427,589.3 1429,596" fill="none" stroke="#3b4ca8" stroke-width="15" stroke-linecap="round" stroke-linejoin="round"/>
<path d="M1429,596 C1430.8,584 1434.1,572.1 1434.5,560 C1435.1,539.7 1435,518.9 1432,499 C1430.5,489.5 1423.1,481.4 1421,472 C1417.1,454.1 1414.8,435.4 1414,417 C1413,392.4 1411.6,366.3 1415.5,343 C1416.6,336.6 1424,328 1429,328 C1435.1,328 1442.2,343.3 1448.6,342.8 C1455.9,342.3 1462.6,330.6 1470,325 C1475.6,320.8 1480.8,314.7 1487.6,313.5 C1519.2,307.7 1552.4,305.1 1585,303.8 C1653.2,301 1721.7,302.1 1790,301.3" fill="none" stroke="#3b4ca8" stroke-width="15" stroke-linecap="round" stroke-linejoin="round"/>
<path d="M1012,301.3 C1056.7,302.1 1101.4,301.9 1146,303.8 C1194.7,305.9 1243.8,307.5 1292,313.5 C1308.8,315.6 1325.6,321.4 1341,328 C1348.3,331.1 1353.8,342.4 1360,342.8 C1365.1,343.1 1370,330 1375,330 C1380,330 1388.1,337.1 1390,343 C1394.6,357.1 1394,374.3 1394.5,390 C1395,408 1395.1,426.2 1393,444 C1391.3,458.2 1385.2,471.8 1383,486 C1380.9,499.5 1380.4,513.3 1380,527 C1379.4,545.3 1380,563.7 1380,582" fill="none" stroke="#8a95d0" stroke-width="3" stroke-opacity="0.55" transform="translate(0,-3)"/>
<path d="M1429,596 C1430.8,584 1434.1,572.1 1434.5,560 C1435.1,539.7 1435,518.9 1432,499 C1430.5,489.5 1423.1,481.4 1421,472 C1417.1,454.1 1414.8,435.4 1414,417 C1413,392.4 1411.6,366.3 1415.5,343 C1416.6,336.6 1424,328 1429,328 C1435.1,328 1442.2,343.3 1448.6,342.8 C1455.9,342.3 1462.6,330.6 1470,325 C1475.6,320.8 1480.8,314.7 1487.6,313.5 C1519.2,307.7 1552.4,305.1 1585,303.8 C1653.2,301 1721.7,302.1 1790,301.3" fill="none" stroke="#8a95d0" stroke-width="3" stroke-opacity="0.55" transform="translate(0,-3)"/>
<circle cx="1396" cy="330" r="3" fill="#dfe3f5"/><circle cx="1789" cy="300" r="3" fill="#dfe3f5"/>
<circle cx="1428" cy="592" r="3" fill="#dfe3f5"/>
<path d="M1019,566 L1026,573 L1019,580 L1012,573ZM1022,566 L1029,573 L1022,580 L1015,573ZM1025,566 L1032,573 L1025,580 L1018,573ZM1028,566 L1035,573 L1028,580 L1021,573ZM1031,566 L1038,573 L1031,580 L1024,573ZM1034,566 L1041,573 L1034,580 L1027,573ZM1037,566 L1044,573 L1037,580 L1030,573ZM1040,566 L1047,573 L1040,580 L1033,573ZM1043,566 L1050,573 L1043,580 L1036,573ZM1046,566 L1053,573 L1046,580 L1039,573ZM1049,566 L1056,573 L1049,580 L1042,573ZM1052,566 L1059,573 L1052,580 L1045,573ZM1055,566 L1062,573 L1055,580 L1048,573ZM1058,566 L1065,573 L1058,580 L1051,573ZM1061,566 L1068,573 L1061,580 L1054,573ZM1064,566 L1071,573 L1064,580 L1057,573ZM1067,566 L1074,573 L1067,580 L1060,573ZM1070,566 L1077,573 L1070,580 L1063,573ZM1073,566 L1080,573 L1073,580 L1066,573ZM1076,566 L1083,573 L1076,580 L1069,573ZM1079,566 L1086,573 L1079,580 L1072,573ZM1082,566 L1089,573 L1082,580 L1075,573ZM1085,565.9 L1092,572.9 L1085,579.9 L1078,572.9ZM1088,565.9 L1095,572.9 L1088,579.9 L1081,572.9ZM1091,565.9 L1098,572.9 L1091,579.9 L1084,572.9ZM1094,565.9 L1101,572.9 L1094,579.9 L1087,572.9ZM1097,565.9 L1104,572.9 L1097,579.9 L1090,572.9ZM1100,565.9 L1107,572.9 L1100,579.9 L1093,572.9ZM1103,565.9 L1110,572.9 L1103,579.9 L1096,572.9ZM1106,565.9 L1113,572.9 L1106,579.9 L1099,572.9ZM1109,565.9 L1116,572.9 L1109,579.9 L1102,572.9ZM1112,565.9 L1119,572.9 L1112,579.9 L1105,572.9ZM1115,565.9 L1122,572.9 L1115,579.9 L1108,572.9ZM1118,565.9 L1125,572.9 L1118,579.9 L1111,572.9ZM1121,565.9 L1128,572.9 L1121,579.9 L1114,572.9ZM1124,565.9 L1131,572.9 L1124,579.9 L1117,572.9ZM1127,565.9 L1134,572.9 L1127,579.9 L1120,572.9ZM1130,565.9 L1137,572.9 L1130,579.9 L1123,572.9ZM1133,565.9 L1140,572.9 L1133,579.9 L1126,572.9ZM1136,565.9 L1143,572.9 L1136,579.9 L1129,572.9ZM1139,565.9 L1146,572.9 L1139,579.9 L1132,572.9ZM1142,565.9 L1149,572.9 L1142,579.9 L1135,572.9ZM1145,565.9 L1152,572.9 L1145,579.9 L1138,572.9ZM1148,565.9 L1155,572.9 L1148,579.9 L1141,572.9ZM1151,565.9 L1158,572.9 L1151,579.9 L1144,572.9ZM1154,565.9 L1161,572.9 L1154,579.9 L1147,572.9ZM1157,565.9 L1164,572.9 L1157,579.9 L1150,572.9ZM1160,565.9 L1167,572.9 L1160,579.9 L1153,572.9ZM1163,565.9 L1170,572.9 L1163,579.9 L1156,572.9ZM1166,565.9 L1173,572.9 L1166,579.9 L1159,572.9ZM1169,565.9 L1176,572.9 L1169,579.9 L1162,572.9ZM1172,565.9 L1179,572.9 L1172,579.9 L1165,572.9ZM1175,565.9 L1182,572.9 L1175,579.9 L1168,572.9ZM1178,566 L1185,573 L1178,580 L1171,573ZM1181,566 L1188,573 L1181,580 L1174,573ZM1184,566 L1191,573 L1184,580 L1177,573ZM1187,566 L1194,573 L1187,580 L1180,573ZM1190,566 L1197,573 L1190,580 L1183,573ZM1193,566 L1200,573 L1193,580 L1186,573ZM1196,566 L1203,573 L1196,580 L1189,573ZM1199,566 L1206,573 L1199,580 L1192,573ZM1202,566 L1209,573 L1202,580 L1195,573ZM1205,566 L1212,573 L1205,580 L1198,573ZM1208,566 L1215,573 L1208,580 L1201,573ZM1211,566 L1218,573 L1211,580 L1204,573ZM1214,566 L1221,573 L1214,580 L1207,573ZM1217,566 L1224,573 L1217,580 L1210,573ZM1220,566.1 L1227,573.1 L1220,580.1 L1213,573.1ZM1223,566.1 L1230,573.1 L1223,580.1 L1216,573.1ZM1226,566.1 L1233,573.1 L1226,580.1 L1219,573.1ZM1229,566.1 L1236,573.1 L1229,580.1 L1222,573.1ZM1232,566.1 L1239,573.1 L1232,580.1 L1225,573.1ZM1235,566.1 L1242,573.1 L1235,580.1 L1228,573.1ZM1238,566.1 L1245,573.1 L1238,580.1 L1231,573.1ZM1241,566.1 L1248,573.1 L1241,580.1 L1234,573.1ZM1244,566.1 L1251,573.1 L1244,580.1 L1237,573.1ZM1247,566.1 L1254,573.1 L1247,580.1 L1240,573.1ZM1250,566.1 L1257,573.1 L1250,580.1 L1243,573.1ZM1253,566.1 L1260,573.1 L1253,580.1 L1246,573.1ZM1256,566.2 L1263,573.2 L1256,580.2 L1249,573.2ZM1259,566.2 L1266,573.2 L1259,580.2 L1252,573.2ZM1262,566.2 L1269,573.2 L1262,580.2 L1255,573.2ZM1265,566.2 L1272,573.2 L1265,580.2 L1258,573.2ZM1268,566.2 L1275,573.2 L1268,580.2 L1261,573.2ZM1271,566.2 L1278,573.2 L1271,580.2 L1264,573.2ZM1274,566.2 L1281,573.2 L1274,580.2 L1267,573.2ZM1277,566.2 L1284,573.2 L1277,580.2 L1270,573.2ZM1280,566.2 L1287,573.2 L1280,580.2 L1273,573.2ZM1283,566.3 L1290,573.3 L1283,580.3 L1276,573.3ZM1286,566.3 L1293,573.3 L1286,580.3 L1279,573.3ZM1289,566.3 L1296,573.3 L1289,580.3 L1282,573.3ZM1292,566.3 L1299,573.3 L1292,580.3 L1285,573.3ZM1295,566.3 L1302,573.3 L1295,580.3 L1288,573.3ZM1298,566.4 L1305,573.4 L1298,580.4 L1291,573.4ZM1301,566.4 L1308,573.4 L1301,580.4 L1294,573.4ZM1304,566.4 L1311,573.4 L1304,580.4 L1297,573.4ZM1307,566.4 L1314,573.4 L1307,580.4 L1300,573.4ZM1310,566.5 L1317,573.5 L1310,580.5 L1303,573.5ZM1313,566.5 L1320,573.5 L1313,580.5 L1306,573.5ZM1316,566.5 L1323,573.5 L1316,580.5 L1309,573.5ZM1319,566.6 L1326,573.6 L1319,580.6 L1312,573.6ZM1322,566.6 L1329,573.6 L1322,580.6 L1315,573.6ZM1325,566.7 L1332,573.7 L1325,580.7 L1318,573.7ZM1328,566.7 L1335,573.7 L1328,580.7 L1321,573.7ZM1331,566.8 L1338,573.8 L1331,580.8 L1324,573.8ZM1334,566.8 L1341,573.8 L1334,580.8 L1327,573.8ZM1337,566.9 L1344,573.9 L1337,580.9 L1330,573.9ZM1340,567 L1347,574 L1340,581 L1333,574ZM1343,567.1 L1350,574.1 L1343,581.1 L1336,574.1ZM1346,567.3 L1353,574.3 L1346,581.3 L1339,574.3ZM1349,567.6 L1356,574.6 L1349,581.6 L1342,574.6ZM1351.9,568 L1358.9,575 L1351.9,582 L1344.9,575ZM1354.9,568.7 L1361.9,575.7 L1354.9,582.7 L1347.9,575.7ZM1355.7,570.7 L1362.7,577.7 L1355.7,584.7 L1348.7,577.7ZM1357.5,570.4 L1364.5,577.4 L1357.5,584.4 L1350.5,577.4ZM1359.7,568.4 L1366.7,575.4 L1359.7,582.4 L1352.7,575.4ZM1361.4,565.9 L1368.4,572.9 L1361.4,579.9 L1354.4,572.9ZM1362.8,563.3 L1369.8,570.3 L1362.8,577.3 L1355.8,570.3ZM1364.2,560.6 L1371.2,567.6 L1364.2,574.6 L1357.2,567.6ZM1365.5,557.9 L1372.5,564.9 L1365.5,571.9 L1358.5,564.9ZM1366.6,555.1 L1373.6,562.1 L1366.6,569.1 L1359.6,562.1ZM1367.7,552.3 L1374.7,559.3 L1367.7,566.3 L1360.7,559.3ZM1368.7,549.5 L1375.7,556.5 L1368.7,563.5 L1361.7,556.5ZM1369.8,546.8 L1376.8,553.8 L1369.8,560.8 L1362.8,553.8ZM1371.2,544.1 L1378.2,551.1 L1371.2,558.1 L1364.2,551.1ZM1373.3,543.5 L1380.3,550.5 L1373.3,557.5 L1366.3,550.5ZM1374.3,546.3 L1381.3,553.3 L1374.3,560.3 L1367.3,553.3ZM1375,549.2 L1382,556.2 L1375,563.2 L1368,556.2ZM1375.8,552.2 L1382.8,559.2 L1375.8,566.2 L1368.8,559.2ZM1376.5,555.1 L1383.5,562.1 L1376.5,569.1 L1369.5,562.1ZM1376.9,558 L1383.9,565 L1376.9,572 L1369.9,565ZM1377.3,561 L1384.3,568 L1377.3,575 L1370.3,568ZM1377.9,563.9 L1384.9,570.9 L1377.9,577.9 L1370.9,570.9ZM1379,566.7 L1386,573.7 L1379,580.7 L1372,573.7ZM1381.1,568.8 L1388.1,575.8 L1381.1,582.8 L1374.1,575.8ZM1383.8,570 L1390.8,577 L1383.8,584 L1376.8,577ZM1386.8,570.5 L1393.8,577.5 L1386.8,584.5 L1379.8,577.5ZM1389.8,570.7 L1396.8,577.7 L1389.8,584.7 L1382.8,577.7ZM1392.8,570.9 L1399.8,577.9 L1392.8,584.9 L1385.8,577.9ZM1395.8,571.1 L1402.8,578.1 L1395.8,585.1 L1388.8,578.1ZM1398.8,571.2 L1405.8,578.2 L1398.8,585.2 L1391.8,578.2ZM1401.8,571.3 L1408.8,578.3 L1401.8,585.3 L1394.8,578.3ZM1404.8,571.4 L1411.8,578.4 L1404.8,585.4 L1397.8,578.4ZM1407.8,571.4 L1414.8,578.4 L1407.8,585.4 L1400.8,578.4ZM1410.8,571.3 L1417.8,578.3 L1410.8,585.3 L1403.8,578.3ZM1413.8,571.3 L1420.8,578.3 L1413.8,585.3 L1406.8,578.3ZM1416.8,571.2 L1423.8,578.2 L1416.8,585.2 L1409.8,578.2ZM1419.8,571 L1426.8,578 L1419.8,585 L1412.8,578ZM1422.8,570.9 L1429.8,577.9 L1422.8,584.9 L1415.8,577.9ZM1425.8,570.9 L1432.8,577.9 L1425.8,584.9 L1418.8,577.9ZM1428.8,570.8 L1435.8,577.8 L1428.8,584.8 L1421.8,577.8ZM1431.8,570.6 L1438.8,577.6 L1431.8,584.6 L1424.8,577.6ZM1434.7,570 L1441.7,577 L1434.7,584 L1427.7,577ZM1437.3,568.6 L1444.3,575.6 L1437.3,582.6 L1430.3,575.6ZM1439.1,566.2 L1446.1,573.2 L1439.1,580.2 L1432.1,573.2ZM1440.2,563.4 L1447.2,570.4 L1440.2,577.4 L1433.2,570.4ZM1440.8,560.5 L1447.8,567.5 L1440.8,574.5 L1433.8,567.5ZM1441.3,557.5 L1448.3,564.5 L1441.3,571.5 L1434.3,564.5ZM1441.6,554.6 L1448.6,561.6 L1441.6,568.6 L1434.6,561.6ZM1442,551.6 L1449,558.6 L1442,565.6 L1435,558.6ZM1442.6,548.6 L1449.6,555.6 L1442.6,562.6 L1435.6,555.6ZM1444.6,548.9 L1451.6,555.9 L1444.6,562.9 L1437.6,555.9ZM1445.7,551.7 L1452.7,558.7 L1445.7,565.7 L1438.7,558.7ZM1446.7,554.6 L1453.7,561.6 L1446.7,568.6 L1439.7,561.6ZM1447.7,557.4 L1454.7,564.4 L1447.7,571.4 L1440.7,564.4ZM1448.8,560.2 L1455.8,567.2 L1448.8,574.2 L1441.8,567.2ZM1449.6,563.1 L1456.6,570.1 L1449.6,577.1 L1442.6,570.1ZM1450.4,566 L1457.4,573 L1450.4,580 L1443.4,573ZM1451.3,568.8 L1458.3,575.8 L1451.3,582.8 L1444.3,575.8ZM1452.4,571.6 L1459.4,578.6 L1452.4,585.6 L1445.4,578.6ZM1454,574.2 L1461,581.2 L1454,588.2 L1447,581.2ZM1455.2,574.6 L1462.2,581.6 L1455.2,588.6 L1448.2,581.6ZM1455.7,572 L1462.7,579 L1455.7,586 L1448.7,579ZM1458.4,570.7 L1465.4,577.7 L1458.4,584.7 L1451.4,577.7ZM1461.3,570 L1468.3,577 L1461.3,584 L1454.3,577ZM1464.3,569.5 L1471.3,576.5 L1464.3,583.5 L1457.3,576.5ZM1467.3,569.2 L1474.3,576.2 L1467.3,583.2 L1460.3,576.2ZM1470.2,569 L1477.2,576 L1470.2,583 L1463.2,576ZM1473.2,568.8 L1480.2,575.8 L1473.2,582.8 L1466.2,575.8ZM1476.2,568.7 L1483.2,575.7 L1476.2,582.7 L1469.2,575.7ZM1479.2,568.5 L1486.2,575.5 L1479.2,582.5 L1472.2,575.5ZM1482.2,568.4 L1489.2,575.4 L1482.2,582.4 L1475.2,575.4ZM1485.2,568.3 L1492.2,575.3 L1485.2,582.3 L1478.2,575.3ZM1488.2,568.1 L1495.2,575.1 L1488.2,582.1 L1481.2,575.1ZM1491.2,568 L1498.2,575 L1491.2,582 L1484.2,575ZM1494.2,567.9 L1501.2,574.9 L1494.2,581.9 L1487.2,574.9ZM1497.2,567.8 L1504.2,574.8 L1497.2,581.8 L1490.2,574.8ZM1500.2,567.7 L1507.2,574.7 L1500.2,581.7 L1493.2,574.7ZM1503.2,567.6 L1510.2,574.6 L1503.2,581.6 L1496.2,574.6ZM1506.2,567.6 L1513.2,574.6 L1506.2,581.6 L1499.2,574.6ZM1509.2,567.5 L1516.2,574.5 L1509.2,581.5 L1502.2,574.5ZM1512.2,567.4 L1519.2,574.4 L1512.2,581.4 L1505.2,574.4ZM1515.2,567.3 L1522.2,574.3 L1515.2,581.3 L1508.2,574.3ZM1518.2,567.3 L1525.2,574.3 L1518.2,581.3 L1511.2,574.3ZM1521.2,567.2 L1528.2,574.2 L1521.2,581.2 L1514.2,574.2ZM1524.2,567.1 L1531.2,574.1 L1524.2,581.1 L1517.2,574.1ZM1527.2,567.1 L1534.2,574.1 L1527.2,581.1 L1520.2,574.1ZM1530.2,567 L1537.2,574 L1530.2,581 L1523.2,574ZM1533.2,566.9 L1540.2,573.9 L1533.2,580.9 L1526.2,573.9ZM1536.2,566.9 L1543.2,573.9 L1536.2,580.9 L1529.2,573.9ZM1539.2,566.8 L1546.2,573.8 L1539.2,580.8 L1532.2,573.8ZM1542.2,566.8 L1549.2,573.8 L1542.2,580.8 L1535.2,573.8ZM1545.2,566.7 L1552.2,573.7 L1545.2,580.7 L1538.2,573.7ZM1548.2,566.7 L1555.2,573.7 L1548.2,580.7 L1541.2,573.7ZM1551.2,566.6 L1558.2,573.6 L1551.2,580.6 L1544.2,573.6ZM1554.2,566.6 L1561.2,573.6 L1554.2,580.6 L1547.2,573.6ZM1557.2,566.5 L1564.2,573.5 L1557.2,580.5 L1550.2,573.5ZM1560.2,566.5 L1567.2,573.5 L1560.2,580.5 L1553.2,573.5ZM1563.2,566.4 L1570.2,573.4 L1563.2,580.4 L1556.2,573.4ZM1566.2,566.4 L1573.2,573.4 L1566.2,580.4 L1559.2,573.4ZM1569.2,566.3 L1576.2,573.3 L1569.2,580.3 L1562.2,573.3ZM1572.2,566.3 L1579.2,573.3 L1572.2,580.3 L1565.2,573.3ZM1575.2,566.3 L1582.2,573.3 L1575.2,580.3 L1568.2,573.3ZM1578.2,566.2 L1585.2,573.2 L1578.2,580.2 L1571.2,573.2ZM1581.2,566.2 L1588.2,573.2 L1581.2,580.2 L1574.2,573.2ZM1584.2,566.2 L1591.2,573.2 L1584.2,580.2 L1577.2,573.2ZM1587.2,566.1 L1594.2,573.1 L1587.2,580.1 L1580.2,573.1ZM1590.2,566.1 L1597.2,573.1 L1590.2,580.1 L1583.2,573.1ZM1593.2,566.1 L1600.2,573.1 L1593.2,580.1 L1586.2,573.1ZM1596.2,566 L1603.2,573 L1596.2,580 L1589.2,573ZM1599.2,566 L1606.2,573 L1599.2,580 L1592.2,573ZM1602.2,566 L1609.2,573 L1602.2,580 L1595.2,573ZM1605.2,566 L1612.2,573 L1605.2,580 L1598.2,573ZM1608.2,565.9 L1615.2,572.9 L1608.2,579.9 L1601.2,572.9ZM1611.2,565.9 L1618.2,572.9 L1611.2,579.9 L1604.2,572.9ZM1614.2,565.9 L1621.2,572.9 L1614.2,579.9 L1607.2,572.9ZM1617.2,565.9 L1624.2,572.9 L1617.2,579.9 L1610.2,572.9ZM1620.2,565.9 L1627.2,572.9 L1620.2,579.9 L1613.2,572.9ZM1623.2,565.9 L1630.2,572.9 L1623.2,579.9 L1616.2,572.9ZM1626.2,565.8 L1633.2,572.8 L1626.2,579.8 L1619.2,572.8ZM1629.2,565.8 L1636.2,572.8 L1629.2,579.8 L1622.2,572.8ZM1632.2,565.8 L1639.2,572.8 L1632.2,579.8 L1625.2,572.8ZM1635.2,565.8 L1642.2,572.8 L1635.2,579.8 L1628.2,572.8ZM1638.2,565.8 L1645.2,572.8 L1638.2,579.8 L1631.2,572.8ZM1641.2,565.8 L1648.2,572.8 L1641.2,579.8 L1634.2,572.8ZM1644.2,565.8 L1651.2,572.8 L1644.2,579.8 L1637.2,572.8ZM1647.2,565.8 L1654.2,572.8 L1647.2,579.8 L1640.2,572.8ZM1650.2,565.8 L1657.2,572.8 L1650.2,579.8 L1643.2,572.8ZM1653.2,565.8 L1660.2,572.8 L1653.2,579.8 L1646.2,572.8ZM1656.2,565.8 L1663.2,572.8 L1656.2,579.8 L1649.2,572.8ZM1659.2,565.8 L1666.2,572.8 L1659.2,579.8 L1652.2,572.8ZM1662.2,565.8 L1669.2,572.8 L1662.2,579.8 L1655.2,572.8ZM1665.2,565.8 L1672.2,572.8 L1665.2,579.8 L1658.2,572.8ZM1668.2,565.8 L1675.2,572.8 L1668.2,579.8 L1661.2,572.8ZM1671.2,565.8 L1678.2,572.8 L1671.2,579.8 L1664.2,572.8ZM1674.2,565.8 L1681.2,572.8 L1674.2,579.8 L1667.2,572.8ZM1677.2,565.8 L1684.2,572.8 L1677.2,579.8 L1670.2,572.8ZM1680.2,565.8 L1687.2,572.8 L1680.2,579.8 L1673.2,572.8ZM1683.2,565.8 L1690.2,572.8 L1683.2,579.8 L1676.2,572.8ZM1686.2,565.8 L1693.2,572.8 L1686.2,579.8 L1679.2,572.8ZM1689.2,565.8 L1696.2,572.8 L1689.2,579.8 L1682.2,572.8ZM1692.2,565.8 L1699.2,572.8 L1692.2,579.8 L1685.2,572.8ZM1695.2,565.8 L1702.2,572.8 L1695.2,579.8 L1688.2,572.8ZM1698.2,565.8 L1705.2,572.8 L1698.2,579.8 L1691.2,572.8ZM1701.2,565.8 L1708.2,572.8 L1701.2,579.8 L1694.2,572.8ZM1704.2,565.8 L1711.2,572.8 L1704.2,579.8 L1697.2,572.8ZM1707.2,565.8 L1714.2,572.8 L1707.2,579.8 L1700.2,572.8ZM1710.2,565.8 L1717.2,572.8 L1710.2,579.8 L1703.2,572.8ZM1713.2,565.8 L1720.2,572.8 L1713.2,579.8 L1706.2,572.8ZM1716.2,565.8 L1723.2,572.8 L1716.2,579.8 L1709.2,572.8ZM1719.2,565.8 L1726.2,572.8 L1719.2,579.8 L1712.2,572.8ZM1722.2,565.8 L1729.2,572.8 L1722.2,579.8 L1715.2,572.8ZM1725.2,565.9 L1732.2,572.9 L1725.2,579.9 L1718.2,572.9ZM1728.2,565.9 L1735.2,572.9 L1728.2,579.9 L1721.2,572.9ZM1731.2,565.9 L1738.2,572.9 L1731.2,579.9 L1724.2,572.9ZM1734.2,565.9 L1741.2,572.9 L1734.2,579.9 L1727.2,572.9ZM1737.2,565.9 L1744.2,572.9 L1737.2,579.9 L1730.2,572.9ZM1740.2,565.9 L1747.2,572.9 L1740.2,579.9 L1733.2,572.9ZM1743.2,565.9 L1750.2,572.9 L1743.2,579.9 L1736.2,572.9ZM1746.2,565.9 L1753.2,572.9 L1746.2,579.9 L1739.2,572.9ZM1749.2,565.9 L1756.2,572.9 L1749.2,579.9 L1742.2,572.9ZM1752.2,565.9 L1759.2,572.9 L1752.2,579.9 L1745.2,572.9ZM1755.2,565.9 L1762.2,572.9 L1755.2,579.9 L1748.2,572.9ZM1758.2,565.9 L1765.2,572.9 L1758.2,579.9 L1751.2,572.9ZM1761.2,565.9 L1768.2,572.9 L1761.2,579.9 L1754.2,572.9ZM1764.2,565.9 L1771.2,572.9 L1764.2,579.9 L1757.2,572.9ZM1767.2,566 L1774.2,573 L1767.2,580 L1760.2,573ZM1770.2,566 L1777.2,573 L1770.2,580 L1763.2,573ZM1773.2,566 L1780.2,573 L1773.2,580 L1766.2,573ZM1776.2,566 L1783.2,573 L1776.2,580 L1769.2,573ZM1779.2,566 L1786.2,573 L1779.2,580 L1772.2,573ZM1782.2,566 L1789.2,573 L1782.2,580 L1775.2,573ZM1785.2,566 L1792.2,573 L1785.2,580 L1778.2,573ZM1788.2,566 L1795.2,573 L1788.2,580 L1781.2,573ZM1791.2,566 L1798.2,573 L1791.2,580 L1784.2,573Z" fill="#e8f7f0" fill-opacity="0.35" stroke="#52bf98" stroke-width="1"/>
<path d="M1438,552 l8,-8 l8,8 l-8,8Z" fill="#fff" stroke="#52bf98" stroke-width="1.2"/>
<rect x="1130" y="305" width="53" height="27" fill="#fff"/>
<path d="M1042.5,330 H1130 M1183,330 H1232.6 V422.7 M1232.6,447 V461 M1232.6,485.5 V542.6 H1042.5 V330" fill="none" stroke="#222" stroke-width="2.2"/>
<path d="M1047,352.8 H1120" stroke="#062626" stroke-width="9" stroke-linecap="round"/><circle cx="1082.8" cy="352.8" r="10" fill="#062626"/>
<path d="M1074.5,400.5 l8.3,-14 l8.3,14Z" fill="none" stroke="#c05050" stroke-width="1.5"/>
<path d="M1047,436.3 H1120" stroke="#c0c0c0" stroke-width="8" stroke-linecap="round"/><circle cx="1082.8" cy="436.3" r="6.5" fill="#fff" stroke="#a0a0a0" stroke-width="1.3"/>
<circle cx="1082.8" cy="477.7" r="10" fill="#3b4ca8"/><circle cx="1080" cy="473.7" r="3.2" fill="#dfe3f5"/>
<path d="M1082.8,511.2 l8.5,8.5 l-8.5,8.5 l-8.5,-8.5Z" fill="none" stroke="#52bf98" stroke-width="1.4"/>
<text x="1129" y="363.5" font-family="Liberation Serif, serif" font-weight="bold" font-size="32">1</text>
<text x="1129" y="405.6" font-family="Liberation Serif, serif" font-weight="bold" font-size="32">0.1</text>
<text x="1129" y="447" font-family="Liberation Serif, serif" font-weight="bold" font-size="32">0.01</text>
<text x="1129" y="489" font-family="Liberation Serif, serif" font-weight="bold" font-size="32">0.001</text>
<text x="1129" y="530.5" font-family="Liberation Serif, serif" font-weight="bold" font-size="32">0.0001</text>
<rect x="1010.3" y="22" width="791.2" height="640.9" fill="none" stroke="#000" stroke-width="4"/>
<path d="M997.5,662.9 H1010 M997.5,534.6 H1010 M997.5,406.3 H1010 M997.5,278.1 H1010 M997.5,149.8 H1010 M997.5,21.5 H1010 M1004.5,598.8 H1010 M1004.5,470.5 H1010 M1004.5,342.2 H1010 M1004.5,213.9 H1010 M1004.5,85.6 H1010 M1019.3,663 V675 M1212.5,663 V675 M1405.8,663 V675 M1599,663 V675 M1792.3,663 V675 M1115.9,663 V669 M1309.2,663 V669 M1502.4,663 V669 M1695.6,663 V669" stroke="#000" stroke-width="4"/>
<text x="987" y="674.9" text-anchor="end" font-family="Liberation Serif, serif" font-weight="bold" font-size="36">0.0</text>
<text x="987" y="546.6" text-anchor="end" font-family="Liberation Serif, serif" font-weight="bold" font-size="36">0.4</text>
<text x="987" y="418.3" text-anchor="end" font-family="Liberation Serif, serif" font-weight="bold" font-size="36">0.8</text>
<text x="987" y="290.1" text-anchor="end" font-family="Liberation Serif, serif" font-weight="bold" font-size="36">1.2</text>
<text x="987" y="161.8" text-anchor="end" font-family="Liberation Serif, serif" font-weight="bold" font-size="36">1.6</text>
<text x="987" y="33.5" text-anchor="end" font-family="Liberation Serif, serif" font-weight="bold" font-size="36">2.0</text>
<text x="1019.3" y="709" text-anchor="middle" font-family="Liberation Serif, serif" font-weight="bold" font-size="41">0</text>
<text x="1212.5" y="709" text-anchor="middle" font-family="Liberation Serif, serif" font-weight="bold" font-size="41">4</text>
<text x="1405.8" y="709" text-anchor="middle" font-family="Liberation Serif, serif" font-weight="bold" font-size="41">8</text>
<text x="1599" y="709" text-anchor="middle" font-family="Liberation Serif, serif" font-weight="bold" font-size="41">12</text>
<text x="1792.3" y="709" text-anchor="middle" font-family="Liberation Serif, serif" font-weight="bold" font-size="41">16</text>
<text x="1426.5" y="764.3" text-anchor="middle" font-family="Liberation Serif, serif" font-weight="bold" font-size="47.5">Coordinate in X (&#956;m)</text>
<text transform="translate(914,362.5) rotate(-90)" text-anchor="middle" font-family="Liberation Serif, serif" font-weight="bold" font-size="48">Deposition thickness (&#956;m)</text>
<path d="M1012,1331.9 H1345 L1360,1334 H1440 L1455,1331.9 H1795" fill="none" stroke="#2e8b3e" stroke-width="7"/>
<path d="M1357,1012 L1366,1012 L1378,1090 L1390,1175 L1393,1345 L1413.5,1345 L1414,1378 L1394,1378 L1394,1345 L1393.5,1345 L1413,1345 L1417,1175 L1430,1090 L1441,1012 L1450,1012 L1450,1390 L1357,1390Z" fill="#ff0000"/>
<path d="M1394,1344 H1413.5 V1378 H1394Z" fill="#fff" stroke="#0d2525" stroke-width="2"/>
<path d="M1012,940.5 C1058,940.3 1104,940.7 1150,940 C1183.3,939.5 1216.8,939.5 1250,937 C1265.2,935.9 1280,931.5 1295,929 C1301.6,927.9 1308.4,926 1315,926 C1320,926 1325.4,927.1 1330,929 C1334.4,930.8 1339.2,933.3 1342,937 C1345.8,942 1348.3,948.7 1350,955 C1352.6,964.7 1353.9,974.9 1355,985 C1356.4,998.3 1356.7,1011.7 1357.5,1025" fill="none" stroke="#062628" stroke-width="7"/>
<path d="M1450.3,1025 C1451.1,1011.7 1451.4,998.3 1452.8,985 C1453.9,974.9 1455.2,964.7 1457.8,955 C1459.5,948.7 1462,942 1465.8,937 C1468.6,933.3 1473.4,930.8 1477.8,929 C1482.4,927.1 1487.8,926 1492.8,926 C1499.4,926 1506.2,927.9 1512.8,929 C1527.8,931.5 1542.6,935.9 1557.8,937 C1591,939.5 1624.5,939.5 1657.8,940 C1703.8,940.7 1749.8,940.3 1795.8,940.5" fill="none" stroke="#062628" stroke-width="7"/>
<path d="M1357.5,1020 V1383 Q1357.5,1390 1365,1390 H1442 Q1450,1390 1450,1383 V1020" fill="none" stroke="#0d2525" stroke-width="3"/>
<path d="M1012,946.6 C1058,946.4 1104,946.7 1150,946 C1183.3,945.5 1216.8,945.3 1250,943 C1265.1,942 1280,938.3 1295,936 C1301.7,935 1308.4,933 1315,933 C1320,933 1325.4,934.1 1330,936 C1334.4,937.8 1339.2,940.3 1342,944 C1345.8,949 1348.3,955.7 1350,962 C1352.6,971.7 1353.8,981.9 1355,992 C1356.1,1001.3 1356.3,1010.7 1357,1020" fill="none" stroke="#ff8000" stroke-width="6"/>
<path d="M1450.8,1020 C1451.5,1010.7 1451.7,1001.3 1452.8,992 C1454,981.9 1455.2,971.7 1457.8,962 C1459.5,955.7 1462,949 1465.8,944 C1468.6,940.3 1473.4,937.8 1477.8,936 C1482.4,934.1 1487.8,933 1492.8,933 C1499.4,933 1506.1,935 1512.8,936 C1527.8,938.3 1542.7,942 1557.8,943 C1591,945.3 1624.5,945.5 1657.8,946 C1703.8,946.7 1749.8,946.4 1795.8,946.6" fill="none" stroke="#ff8000" stroke-width="6"/>
<path d="M1740,960 L1795,946.6" stroke="#ff8000" stroke-width="5"/>
<path d="M1012,965.6 L1200,966 L1290,968 L1300,972 L1306,975 L1310,968 L1314,985 L1318,960 L1321,990 L1325,955 L1328,1000 L1332,892 L1335,1003 L1338,905 L1341,1000 L1344,915 L1347,995 L1350,925 L1353,985 L1356,975 L1360,1010" fill="none" stroke="#ff0000" stroke-width="7" stroke-linejoin="round"/>
<path d="M1447,1010 L1450,980 L1453,1000 L1456,935 L1459,1000 L1462,900 L1465,1003 L1469,880 L1472,1000 L1475,920 L1478,995 L1482,960 L1486,992 L1490,965 L1494,980 L1500,970 L1520,967 L1650,965.6 L1795,965.6" fill="none" stroke="#ff0000" stroke-width="7" stroke-linejoin="round"/>
<path d="M1012,1121.8 C1058,1122 1104,1121.7 1150,1122.5 C1183.3,1123.1 1216.8,1123.5 1250,1126 C1266.8,1127.3 1283.8,1129.7 1300,1134 C1310.5,1136.7 1320.5,1141.7 1330,1147 C1337.9,1151.4 1345.7,1156.7 1352,1163 C1357.7,1168.7 1362.9,1175.6 1366,1183 C1370.2,1193 1372.3,1204.2 1374,1215 C1376.3,1229.8 1376.9,1245 1378,1260 C1378.9,1273.3 1379.5,1286.7 1380,1300 C1380.5,1315.3 1380.7,1330.7 1381,1346" fill="none" stroke="#3a4ca8" stroke-width="8"/>
<path d="M1426.8,1346 C1427.1,1330.7 1427.3,1315.3 1427.8,1300 C1428.3,1286.7 1428.9,1273.3 1429.8,1260 C1430.9,1245 1431.5,1229.8 1433.8,1215 C1435.5,1204.2 1437.6,1193 1441.8,1183 C1444.9,1175.6 1450.1,1168.7 1455.8,1163 C1462.1,1156.7 1469.9,1151.4 1477.8,1147 C1487.3,1141.7 1497.3,1136.7 1507.8,1134 C1524,1129.7 1541,1127.3 1557.8,1126 C1591,1123.5 1624.5,1123.1 1657.8,1122.5 C1703.8,1121.7 1749.8,1122 1795.8,1121.8" fill="none" stroke="#3a4ca8" stroke-width="8"/>
<path d="M1372,1190 L1384,1178 L1392,1260 L1394,1349 L1372,1349Z M1435.8,1190 L1423.8,1178 L1415.8,1260 L1413.8,1349 L1435.8,1349Z" fill="#3a4ca8"/>
<rect x="1126.7" y="1105" width="44.8" height="40" fill="#fff"/>
<path d="M1045,1147.1 H1139.9 M1186.2,1147.1 H1243.3 V1318.6 H1045 V1147.1" fill="none" stroke="#666" stroke-width="1.6"/>
<path d="M1045,1165.6 H1112" stroke="#062426" stroke-width="13" stroke-linecap="round"/>
<text x="1117.7" y="1174.2" font-family="Liberation Serif, serif" font-size="27">1 S/m</text>
<path d="M1045,1199.9 H1112" stroke="#ff8000" stroke-width="7" stroke-linecap="round"/>
<text x="1117.7" y="1208.5" font-family="Liberation Serif, serif" font-size="27">0.1 S/m</text>
<path d="M1045,1232.7 H1112" stroke="#ff0000" stroke-width="8" stroke-linecap="round"/>
<text x="1117.7" y="1242" font-family="Liberation Serif, serif" font-size="27">0.01 S/m</text>
<path d="M1045,1265.5 H1112" stroke="#3a4ba8" stroke-width="8" stroke-linecap="round"/>
<text x="1117.7" y="1274.8" font-family="Liberation Serif, serif" font-size="27">0.001 S/m</text>
<path d="M1045,1299.8 H1112" stroke="#2a8a3a" stroke-width="8" stroke-linecap="round"/>
<text x="1117.7" y="1308.3" font-family="Liberation Serif, serif" font-size="27">0.0001 S/m</text>
<rect x="1136" y="1148" width="42" height="15.5" fill="#fff"/><rect x="1155" y="1182" width="42" height="16.5" fill="#fff"/>
<rect x="1012.2" y="814.2" width="783.4" height="633.8" fill="none" stroke="#000" stroke-width="4"/>
<path d="M999.8,814.2 H1012 M1000,910.3 H1012 M1000,1105.1 H1012 M1000,1299.9 H1012 M1003,862 H1012 M1003,958.7 H1012 M1003,1007 H1012 M1003,1056.9 H1012 M1003,1155 H1012 M1003,1203.4 H1012 M1003,1253.3 H1012 M1003,1347 H1012 M1003,1396.9 H1012 M1000,1448 H1012 M1012.2,1448 V1460 M1208,1448 V1460 M1403.9,1448 V1460 M1599.7,1448 V1460 M1795.6,1448 V1460 M1110.1,1448 V1454 M1306,1448 V1454 M1501.8,1448 V1454 M1697.6,1448 V1454" stroke="#000" stroke-width="4"/>
<text x="993" y="924.3" text-anchor="end" font-family="Liberation Serif, serif" font-weight="bold" font-size="42">0.6</text>
<text x="993" y="1119.2" text-anchor="end" font-family="Liberation Serif, serif" font-weight="bold" font-size="42">0.4</text>
<text x="993" y="1314.1" text-anchor="end" font-family="Liberation Serif, serif" font-weight="bold" font-size="42">0.2</text>
<text x="993" y="1462" text-anchor="end" font-family="Liberation Serif, serif" font-weight="bold" font-size="42">0.0</text>
<text x="1012.2" y="1493.4" text-anchor="middle" font-family="Liberation Serif, serif" font-weight="bold" font-size="40">0</text>
<text x="1208" y="1493.4" text-anchor="middle" font-family="Liberation Serif, serif" font-weight="bold" font-size="40">4</text>
<text x="1403.9" y="1493.4" text-anchor="middle" font-family="Liberation Serif, serif" font-weight="bold" font-size="40">8</text>
<text x="1599.7" y="1493.4" text-anchor="middle" font-family="Liberation Serif, serif" font-weight="bold" font-size="40">12</text>
<text x="1795.6" y="1493.4" text-anchor="middle" font-family="Liberation Serif, serif" font-weight="bold" font-size="40">16</text>
<text x="1353.5" y="1539.7" text-anchor="middle" font-family="Liberation Serif, serif" font-weight="bold" font-size="45">Coordinate in X (&#956;m)</text>
<text transform="translate(921,1134.6) rotate(-90)" text-anchor="middle" font-family="Liberation Serif, serif" font-weight="bold" font-size="46">Faradic current density (mA cm<tspan font-size="30" dy="-17">-2</tspan><tspan dy="17">)</tspan></text>
<path d="M1051,2105 H1773" stroke="#c4a8f0" stroke-width="12"/>
<path d="M1047.5,2111.1 L1044,2105 L1047.5,2098.9 L1054.5,2098.9 L1058,2105 L1054.5,2111.1ZM1050.7,2111.1 L1047.2,2105 L1050.7,2098.9 L1057.7,2098.9 L1061.2,2105 L1057.7,2111.1ZM1053.9,2111.1 L1050.4,2105 L1053.9,2098.9 L1060.9,2098.9 L1064.4,2105 L1060.9,2111.1ZM1057.1,2111.1 L1053.6,2105 L1057.1,2098.9 L1064.1,2098.9 L1067.6,2105 L1064.1,2111.1ZM1060.3,2111.1 L1056.8,2105 L1060.3,2098.9 L1067.3,2098.9 L1070.8,2105 L1067.3,2111.1ZM1063.5,2111.1 L1060,2105 L1063.5,2098.9 L1070.5,2098.9 L1074,2105 L1070.5,2111.1ZM1066.7,2111.1 L1063.2,2105 L1066.7,2098.9 L1073.7,2098.9 L1077.2,2105 L1073.7,2111.1ZM1069.9,2111.1 L1066.4,2105 L1069.9,2098.9 L1076.9,2098.9 L1080.4,2105 L1076.9,2111.1ZM1073.1,2111.1 L1069.6,2105 L1073.1,2098.9 L1080.1,2098.9 L1083.6,2105 L1080.1,2111.1ZM1076.3,2111.1 L1072.8,2105 L1076.3,2098.9 L1083.3,2098.9 L1086.8,2105 L1083.3,2111.1ZM1079.5,2111 L1076,2105 L1079.5,2098.9 L1086.5,2098.9 L1090,2105 L1086.5,2111ZM1082.7,2111 L1079.2,2105 L1082.7,2098.9 L1089.7,2098.9 L1093.2,2105 L1089.7,2111ZM1085.9,2111 L1082.4,2105 L1085.9,2098.9 L1092.9,2098.9 L1096.4,2105 L1092.9,2111ZM1089.1,2111 L1085.6,2105 L1089.1,2098.9 L1096.1,2098.9 L1099.6,2105 L1096.1,2111ZM1092.3,2111 L1088.8,2105 L1092.3,2098.9 L1099.3,2098.9 L1102.8,2105 L1099.3,2111ZM1095.5,2111 L1092,2105 L1095.5,2098.9 L1102.5,2098.9 L1106,2105 L1102.5,2111ZM1098.7,2111 L1095.2,2105 L1098.7,2098.9 L1105.7,2098.9 L1109.2,2105 L1105.7,2111ZM1101.9,2111 L1098.4,2105 L1101.9,2098.9 L1108.9,2098.9 L1112.4,2105 L1108.9,2111ZM1105.1,2111 L1101.6,2105 L1105.1,2098.9 L1112.1,2098.9 L1115.6,2105 L1112.1,2111ZM1108.3,2111 L1104.8,2105 L1108.3,2098.9 L1115.3,2098.9 L1118.8,2105 L1115.3,2111ZM1111.5,2111 L1108,2105 L1111.5,2098.9 L1118.5,2098.9 L1122,2105 L1118.5,2111ZM1114.7,2111 L1111.2,2105 L1114.7,2098.9 L1121.7,2098.9 L1125.2,2105 L1121.7,2111ZM1117.9,2111 L1114.4,2105 L1117.9,2098.9 L1124.9,2098.9 L1128.4,2105 L1124.9,2111ZM1121.1,2111 L1117.6,2105 L1121.1,2098.9 L1128.1,2098.9 L1131.6,2105 L1128.1,2111ZM1124.3,2111 L1120.8,2105 L1124.3,2098.9 L1131.3,2098.9 L1134.8,2105 L1131.3,2111ZM1127.5,2111 L1124,2105 L1127.5,2098.9 L1134.5,2098.9 L1138,2105 L1134.5,2111ZM1130.7,2111 L1127.2,2105 L1130.7,2098.9 L1137.7,2098.9 L1141.2,2105 L1137.7,2111ZM1133.9,2111 L1130.4,2105 L1133.9,2098.9 L1140.9,2098.9 L1144.4,2105 L1140.9,2111ZM1137.1,2111 L1133.6,2105 L1137.1,2098.9 L1144.1,2098.9 L1147.6,2105 L1144.1,2111ZM1140.3,2111 L1136.8,2105 L1140.3,2098.9 L1147.3,2098.9 L1150.8,2105 L1147.3,2111ZM1143.5,2111 L1140,2104.9 L1143.5,2098.9 L1150.5,2098.9 L1154,2104.9 L1150.5,2111ZM1146.7,2111 L1143.2,2104.9 L1146.7,2098.9 L1153.7,2098.9 L1157.2,2104.9 L1153.7,2111ZM1149.9,2111 L1146.4,2104.9 L1149.9,2098.9 L1156.9,2098.9 L1160.4,2104.9 L1156.9,2111ZM1153.1,2111 L1149.6,2104.9 L1153.1,2098.9 L1160.1,2098.9 L1163.6,2104.9 L1160.1,2111ZM1156.3,2111 L1152.8,2104.9 L1156.3,2098.9 L1163.3,2098.9 L1166.8,2104.9 L1163.3,2111ZM1159.5,2111 L1156,2104.9 L1159.5,2098.9 L1166.5,2098.9 L1170,2104.9 L1166.5,2111ZM1162.7,2111 L1159.2,2104.9 L1162.7,2098.9 L1169.7,2098.9 L1173.2,2104.9 L1169.7,2111ZM1165.9,2111 L1162.4,2104.9 L1165.9,2098.9 L1172.9,2098.9 L1176.4,2104.9 L1172.9,2111ZM1169.1,2111 L1165.6,2104.9 L1169.1,2098.9 L1176.1,2098.9 L1179.6,2104.9 L1176.1,2111ZM1172.3,2111 L1168.8,2104.9 L1172.3,2098.9 L1179.3,2098.9 L1182.8,2104.9 L1179.3,2111ZM1175.5,2111 L1172,2104.9 L1175.5,2098.9 L1182.5,2098.9 L1186,2104.9 L1182.5,2111ZM1178.7,2111 L1175.2,2104.9 L1178.7,2098.9 L1185.7,2098.9 L1189.2,2104.9 L1185.7,2111ZM1181.9,2111 L1178.4,2104.9 L1181.9,2098.9 L1188.9,2098.9 L1192.4,2104.9 L1188.9,2111ZM1185.1,2111 L1181.6,2104.9 L1185.1,2098.9 L1192.1,2098.9 L1195.6,2104.9 L1192.1,2111ZM1188.3,2111 L1184.8,2104.9 L1188.3,2098.9 L1195.3,2098.9 L1198.8,2104.9 L1195.3,2111ZM1191.5,2111 L1188,2104.9 L1191.5,2098.9 L1198.5,2098.9 L1202,2104.9 L1198.5,2111ZM1194.7,2111 L1191.2,2104.9 L1194.7,2098.9 L1201.7,2098.9 L1205.2,2104.9 L1201.7,2111ZM1197.9,2111 L1194.4,2104.9 L1197.9,2098.9 L1204.9,2098.9 L1208.4,2104.9 L1204.9,2111ZM1201.1,2111 L1197.6,2104.9 L1201.1,2098.9 L1208.1,2098.9 L1211.6,2104.9 L1208.1,2111ZM1204.3,2111 L1200.8,2104.9 L1204.3,2098.9 L1211.3,2098.9 L1214.8,2104.9 L1211.3,2111ZM1207.5,2111 L1204,2104.9 L1207.5,2098.9 L1214.5,2098.9 L1218,2104.9 L1214.5,2111ZM1210.7,2111 L1207.2,2104.9 L1210.7,2098.9 L1217.7,2098.9 L1221.2,2104.9 L1217.7,2111ZM1213.9,2111 L1210.4,2104.9 L1213.9,2098.9 L1220.9,2098.9 L1224.4,2104.9 L1220.9,2111ZM1217.1,2111 L1213.6,2104.9 L1217.1,2098.9 L1224.1,2098.9 L1227.6,2104.9 L1224.1,2111ZM1220.3,2111 L1216.8,2104.9 L1220.3,2098.9 L1227.3,2098.9 L1230.8,2104.9 L1227.3,2111ZM1223.5,2111 L1220,2104.9 L1223.5,2098.9 L1230.5,2098.9 L1234,2104.9 L1230.5,2111ZM1226.7,2111 L1223.2,2104.9 L1226.7,2098.9 L1233.7,2098.9 L1237.2,2104.9 L1233.7,2111ZM1229.9,2111 L1226.4,2104.9 L1229.9,2098.9 L1236.9,2098.9 L1240.4,2104.9 L1236.9,2111ZM1233.1,2111 L1229.6,2104.9 L1233.1,2098.9 L1240.1,2098.9 L1243.6,2104.9 L1240.1,2111ZM1236.3,2111 L1232.8,2104.9 L1236.3,2098.9 L1243.3,2098.9 L1246.8,2104.9 L1243.3,2111ZM1239.5,2111 L1236,2104.9 L1239.5,2098.9 L1246.5,2098.9 L1250,2104.9 L1246.5,2111ZM1242.7,2111 L1239.2,2104.9 L1242.7,2098.9 L1249.7,2098.9 L1253.2,2104.9 L1249.7,2111ZM1245.9,2111 L1242.4,2104.9 L1245.9,2098.9 L1252.9,2098.9 L1256.4,2104.9 L1252.9,2111ZM1249.1,2111 L1245.6,2104.9 L1249.1,2098.9 L1256.1,2098.9 L1259.6,2104.9 L1256.1,2111ZM1252.3,2111 L1248.8,2104.9 L1252.3,2098.9 L1259.3,2098.9 L1262.8,2104.9 L1259.3,2111ZM1255.5,2111 L1252,2104.9 L1255.5,2098.9 L1262.5,2098.9 L1266,2104.9 L1262.5,2111ZM1258.7,2111 L1255.2,2104.9 L1258.7,2098.9 L1265.7,2098.9 L1269.2,2104.9 L1265.7,2111ZM1261.9,2111 L1258.4,2104.9 L1261.9,2098.9 L1268.9,2098.9 L1272.4,2104.9 L1268.9,2111ZM1265.1,2111 L1261.6,2104.9 L1265.1,2098.9 L1272.1,2098.9 L1275.6,2104.9 L1272.1,2111ZM1268.3,2111 L1264.8,2104.9 L1268.3,2098.9 L1275.3,2098.9 L1278.8,2104.9 L1275.3,2111ZM1271.5,2111 L1268,2105 L1271.5,2098.9 L1278.5,2098.9 L1282,2105 L1278.5,2111ZM1274.7,2111 L1271.2,2105 L1274.7,2098.9 L1281.7,2098.9 L1285.2,2105 L1281.7,2111ZM1277.9,2111 L1274.4,2105 L1277.9,2098.9 L1284.9,2098.9 L1288.4,2105 L1284.9,2111ZM1281.1,2111 L1277.6,2105 L1281.1,2098.9 L1288.1,2098.9 L1291.6,2105 L1288.1,2111ZM1284.3,2111 L1280.8,2105 L1284.3,2098.9 L1291.3,2098.9 L1294.8,2105 L1291.3,2111ZM1287.5,2111 L1284,2105 L1287.5,2098.9 L1294.5,2098.9 L1298,2105 L1294.5,2111ZM1290.7,2111 L1287.2,2105 L1290.7,2098.9 L1297.7,2098.9 L1301.2,2105 L1297.7,2111ZM1293.9,2111.1 L1290.4,2105 L1293.9,2098.9 L1300.9,2098.9 L1304.4,2105 L1300.9,2111.1ZM1297.1,2111.1 L1293.6,2105 L1297.1,2098.9 L1304.1,2098.9 L1307.6,2105 L1304.1,2111.1ZM1300.3,2111.1 L1296.8,2105 L1300.3,2099 L1307.3,2099 L1310.8,2105 L1307.3,2111.1ZM1303.5,2111.1 L1300,2105 L1303.5,2099 L1310.5,2099 L1314,2105 L1310.5,2111.1ZM1306.7,2111.1 L1303.2,2105 L1306.7,2099 L1313.7,2099 L1317.2,2105 L1313.7,2111.1ZM1309.9,2111.1 L1306.4,2105 L1309.9,2099 L1316.9,2099 L1320.4,2105 L1316.9,2111.1ZM1313.1,2111.1 L1309.6,2105.1 L1313.1,2099 L1320.1,2099 L1323.6,2105.1 L1320.1,2111.1ZM1316.3,2111.1 L1312.8,2105.1 L1316.3,2099 L1323.3,2099 L1326.8,2105.1 L1323.3,2111.1ZM1319.5,2111.2 L1316,2105.1 L1319.5,2099 L1326.5,2099 L1330,2105.1 L1326.5,2111.2ZM1322.7,2111.2 L1319.2,2105.1 L1322.7,2099.1 L1329.7,2099.1 L1333.2,2105.1 L1329.7,2111.2ZM1325.9,2111.2 L1322.4,2105.1 L1325.9,2099.1 L1332.9,2099.1 L1336.4,2105.1 L1332.9,2111.2ZM1329.1,2111.2 L1325.6,2105.2 L1329.1,2099.1 L1336.1,2099.1 L1339.6,2105.2 L1336.1,2111.2ZM1332.3,2111.2 L1328.8,2105.2 L1332.3,2099.1 L1339.3,2099.1 L1342.8,2105.2 L1339.3,2111.2ZM1335.5,2111.3 L1332,2105.2 L1335.5,2099.1 L1342.5,2099.1 L1346,2105.2 L1342.5,2111.3ZM1338.7,2111.3 L1335.2,2105.2 L1338.7,2099.2 L1345.7,2099.2 L1349.2,2105.2 L1345.7,2111.3ZM1341.9,2111.3 L1338.4,2105.3 L1341.9,2099.2 L1348.9,2099.2 L1352.4,2105.3 L1348.9,2111.3ZM1345.1,2111.4 L1341.6,2105.3 L1345.1,2099.3 L1352.1,2099.3 L1355.6,2105.3 L1352.1,2111.4ZM1348.3,2111.4 L1344.8,2105.4 L1348.3,2099.3 L1355.3,2099.3 L1358.8,2105.4 L1355.3,2111.4ZM1351.5,2111.5 L1348,2105.4 L1351.5,2099.3 L1358.5,2099.3 L1362,2105.4 L1358.5,2111.5ZM1354.7,2111.5 L1351.2,2105.5 L1354.7,2099.4 L1361.7,2099.4 L1365.2,2105.5 L1361.7,2111.5ZM1357.9,2111.6 L1354.4,2105.5 L1357.9,2099.5 L1364.9,2099.5 L1368.4,2105.5 L1364.9,2111.6ZM1361.1,2111.7 L1357.6,2105.6 L1361.1,2099.5 L1368.1,2099.5 L1371.6,2105.6 L1368.1,2111.7ZM1364.3,2111.7 L1360.8,2105.7 L1364.3,2099.6 L1371.3,2099.6 L1374.8,2105.7 L1371.3,2111.7ZM1367.5,2111.8 L1364,2105.8 L1367.5,2099.7 L1374.5,2099.7 L1378,2105.8 L1374.5,2111.8ZM1370.7,2111.9 L1367.2,2105.8 L1370.7,2099.8 L1377.7,2099.8 L1381.2,2105.8 L1377.7,2111.9ZM1373.9,2112 L1370.4,2105.9 L1373.9,2099.9 L1380.9,2099.9 L1384.4,2105.9 L1380.9,2112ZM1377.1,2112.1 L1373.6,2106 L1377.1,2100 L1384.1,2100 L1387.6,2106 L1384.1,2112.1ZM1380.3,2112.2 L1376.8,2106.1 L1380.3,2100.1 L1387.3,2100.1 L1390.8,2106.1 L1387.3,2112.2ZM1383.5,2112.3 L1380,2106.2 L1383.5,2100.2 L1390.5,2100.2 L1394,2106.2 L1390.5,2112.3ZM1386.7,2112.4 L1383.2,2106.4 L1386.7,2100.3 L1393.7,2100.3 L1397.2,2106.4 L1393.7,2112.4ZM1389.9,2112.6 L1386.4,2106.6 L1389.9,2100.5 L1396.9,2100.5 L1400.4,2106.6 L1396.9,2112.6ZM1393.1,2112.8 L1389.6,2106.8 L1393.1,2100.7 L1400.1,2100.7 L1403.6,2106.8 L1400.1,2112.8ZM1396.3,2113 L1392.8,2107 L1396.3,2100.9 L1403.3,2100.9 L1406.8,2107 L1403.3,2113ZM1399.5,2113.3 L1396,2107.2 L1399.5,2101.2 L1406.5,2101.2 L1410,2107.2 L1406.5,2113.3ZM1402.6,2113.5 L1399.1,2107.5 L1402.6,2101.4 L1409.6,2101.4 L1413.1,2107.5 L1409.6,2113.5ZM1405.8,2113.7 L1402.3,2107.7 L1405.8,2101.6 L1412.8,2101.6 L1416.3,2107.7 L1412.8,2113.7ZM1409,2113.9 L1405.5,2107.8 L1409,2101.8 L1416,2101.8 L1419.5,2107.8 L1416,2113.9ZM1412.2,2114 L1408.7,2107.9 L1412.2,2101.9 L1419.2,2101.9 L1422.7,2107.9 L1419.2,2114ZM1415.4,2114.1 L1411.9,2108 L1415.4,2101.9 L1422.4,2101.9 L1425.9,2108 L1422.4,2114.1ZM1418.6,2114 L1415.1,2108 L1418.6,2101.9 L1425.6,2101.9 L1429.1,2108 L1425.6,2114ZM1421.8,2114 L1418.3,2107.9 L1421.8,2101.8 L1428.8,2101.8 L1432.3,2107.9 L1428.8,2114ZM1425,2113.7 L1421.5,2107.7 L1425,2101.6 L1432,2101.6 L1435.5,2107.7 L1432,2113.7ZM1428.2,2113.5 L1424.7,2107.4 L1428.2,2101.3 L1435.2,2101.3 L1438.7,2107.4 L1435.2,2113.5ZM1431.4,2113.1 L1427.9,2107.1 L1431.4,2101 L1438.4,2101 L1441.9,2107.1 L1438.4,2113.1ZM1434.6,2112.9 L1431.1,2106.8 L1434.6,2100.8 L1441.6,2100.8 L1445.1,2106.8 L1441.6,2112.9ZM1437.8,2112.7 L1434.3,2106.6 L1437.8,2100.6 L1444.8,2100.6 L1448.3,2106.6 L1444.8,2112.7ZM1441,2112.5 L1437.5,2106.5 L1441,2100.4 L1448,2100.4 L1451.5,2106.5 L1448,2112.5ZM1444.2,2112.4 L1440.7,2106.3 L1444.2,2100.3 L1451.2,2100.3 L1454.7,2106.3 L1451.2,2112.4ZM1447.4,2112.3 L1443.9,2106.2 L1447.4,2100.2 L1454.4,2100.2 L1457.9,2106.2 L1454.4,2112.3ZM1450.6,2112.2 L1447.1,2106.1 L1450.6,2100.1 L1457.6,2100.1 L1461.1,2106.1 L1457.6,2112.2ZM1453.8,2112.1 L1450.3,2106.1 L1453.8,2100 L1460.8,2100 L1464.3,2106.1 L1460.8,2112.1ZM1457,2112.1 L1453.5,2106 L1457,2099.9 L1464,2099.9 L1467.5,2106 L1464,2112.1ZM1460.2,2112 L1456.7,2105.9 L1460.2,2099.9 L1467.2,2099.9 L1470.7,2105.9 L1467.2,2112ZM1463.4,2112 L1459.9,2105.9 L1463.4,2099.8 L1470.4,2099.8 L1473.9,2105.9 L1470.4,2112ZM1466.6,2111.9 L1463.1,2105.9 L1466.6,2099.8 L1473.6,2099.8 L1477.1,2105.9 L1473.6,2111.9ZM1469.8,2111.9 L1466.3,2105.8 L1469.8,2099.8 L1476.8,2099.8 L1480.3,2105.8 L1476.8,2111.9ZM1473,2111.8 L1469.5,2105.8 L1473,2099.7 L1480,2099.7 L1483.5,2105.8 L1480,2111.8ZM1476.2,2111.8 L1472.7,2105.7 L1476.2,2099.7 L1483.2,2099.7 L1486.7,2105.7 L1483.2,2111.8ZM1479.4,2111.8 L1475.9,2105.7 L1479.4,2099.6 L1486.4,2099.6 L1489.9,2105.7 L1486.4,2111.8ZM1482.6,2111.7 L1479.1,2105.7 L1482.6,2099.6 L1489.6,2099.6 L1493.1,2105.7 L1489.6,2111.7ZM1485.8,2111.7 L1482.3,2105.6 L1485.8,2099.6 L1492.8,2099.6 L1496.3,2105.6 L1492.8,2111.7ZM1489,2111.7 L1485.5,2105.6 L1489,2099.5 L1496,2099.5 L1499.5,2105.6 L1496,2111.7ZM1492.2,2111.6 L1488.7,2105.6 L1492.2,2099.5 L1499.2,2099.5 L1502.7,2105.6 L1499.2,2111.6ZM1495.4,2111.6 L1491.9,2105.5 L1495.4,2099.5 L1502.4,2099.5 L1505.9,2105.5 L1502.4,2111.6ZM1498.6,2111.6 L1495.1,2105.5 L1498.6,2099.5 L1505.6,2099.5 L1509.1,2105.5 L1505.6,2111.6ZM1501.8,2111.6 L1498.3,2105.5 L1501.8,2099.4 L1508.8,2099.4 L1512.3,2105.5 L1508.8,2111.6ZM1505,2111.5 L1501.5,2105.5 L1505,2099.4 L1512,2099.4 L1515.5,2105.5 L1512,2111.5ZM1508.2,2111.5 L1504.7,2105.4 L1508.2,2099.4 L1515.2,2099.4 L1518.7,2105.4 L1515.2,2111.5ZM1511.4,2111.5 L1507.9,2105.4 L1511.4,2099.4 L1518.4,2099.4 L1521.9,2105.4 L1518.4,2111.5ZM1514.6,2111.5 L1511.1,2105.4 L1514.6,2099.3 L1521.6,2099.3 L1525.1,2105.4 L1521.6,2111.5ZM1517.8,2111.4 L1514.3,2105.4 L1517.8,2099.3 L1524.8,2099.3 L1528.3,2105.4 L1524.8,2111.4ZM1521,2111.4 L1517.5,2105.4 L1521,2099.3 L1528,2099.3 L1531.5,2105.4 L1528,2111.4ZM1524.2,2111.4 L1520.7,2105.3 L1524.2,2099.3 L1531.2,2099.3 L1534.7,2105.3 L1531.2,2111.4ZM1527.4,2111.4 L1523.9,2105.3 L1527.4,2099.3 L1534.4,2099.3 L1537.9,2105.3 L1534.4,2111.4ZM1530.6,2111.4 L1527.1,2105.3 L1530.6,2099.2 L1537.6,2099.2 L1541.1,2105.3 L1537.6,2111.4ZM1533.8,2111.3 L1530.3,2105.3 L1533.8,2099.2 L1540.8,2099.2 L1544.3,2105.3 L1540.8,2111.3ZM1537,2111.3 L1533.5,2105.3 L1537,2099.2 L1544,2099.2 L1547.5,2105.3 L1544,2111.3ZM1540.2,2111.3 L1536.7,2105.2 L1540.2,2099.2 L1547.2,2099.2 L1550.7,2105.2 L1547.2,2111.3ZM1543.4,2111.3 L1539.9,2105.2 L1543.4,2099.2 L1550.4,2099.2 L1553.9,2105.2 L1550.4,2111.3ZM1546.6,2111.3 L1543.1,2105.2 L1546.6,2099.1 L1553.6,2099.1 L1557.1,2105.2 L1553.6,2111.3ZM1549.8,2111.3 L1546.3,2105.2 L1549.8,2099.1 L1556.8,2099.1 L1560.3,2105.2 L1556.8,2111.3ZM1553,2111.2 L1549.5,2105.2 L1553,2099.1 L1560,2099.1 L1563.5,2105.2 L1560,2111.2ZM1556.2,2111.2 L1552.7,2105.2 L1556.2,2099.1 L1563.2,2099.1 L1566.7,2105.2 L1563.2,2111.2ZM1559.4,2111.2 L1555.9,2105.1 L1559.4,2099.1 L1566.4,2099.1 L1569.9,2105.1 L1566.4,2111.2ZM1562.6,2111.2 L1559.1,2105.1 L1562.6,2099.1 L1569.6,2099.1 L1573.1,2105.1 L1569.6,2111.2ZM1565.8,2111.2 L1562.3,2105.1 L1565.8,2099.1 L1572.8,2099.1 L1576.3,2105.1 L1572.8,2111.2ZM1569,2111.2 L1565.5,2105.1 L1569,2099 L1576,2099 L1579.5,2105.1 L1576,2111.2ZM1572.2,2111.2 L1568.7,2105.1 L1572.2,2099 L1579.2,2099 L1582.7,2105.1 L1579.2,2111.2ZM1575.4,2111.1 L1571.9,2105.1 L1575.4,2099 L1582.4,2099 L1585.9,2105.1 L1582.4,2111.1ZM1578.6,2111.1 L1575.1,2105.1 L1578.6,2099 L1585.6,2099 L1589.1,2105.1 L1585.6,2111.1ZM1581.8,2111.1 L1578.3,2105.1 L1581.8,2099 L1588.8,2099 L1592.3,2105.1 L1588.8,2111.1ZM1585,2111.1 L1581.5,2105 L1585,2099 L1592,2099 L1595.5,2105 L1592,2111.1ZM1588.2,2111.1 L1584.7,2105 L1588.2,2099 L1595.2,2099 L1598.7,2105 L1595.2,2111.1ZM1591.4,2111.1 L1587.9,2105 L1591.4,2099 L1598.4,2099 L1601.9,2105 L1598.4,2111.1ZM1594.6,2111.1 L1591.1,2105 L1594.6,2098.9 L1601.6,2098.9 L1605.1,2105 L1601.6,2111.1ZM1597.8,2111.1 L1594.3,2105 L1597.8,2098.9 L1604.8,2098.9 L1608.3,2105 L1604.8,2111.1ZM1601,2111.1 L1597.5,2105 L1601,2098.9 L1608,2098.9 L1611.5,2105 L1608,2111.1ZM1604.2,2111 L1600.7,2105 L1604.2,2098.9 L1611.2,2098.9 L1614.7,2105 L1611.2,2111ZM1607.4,2111 L1603.9,2105 L1607.4,2098.9 L1614.4,2098.9 L1617.9,2105 L1614.4,2111ZM1610.6,2111 L1607.1,2105 L1610.6,2098.9 L1617.6,2098.9 L1621.1,2105 L1617.6,2111ZM1613.8,2111 L1610.3,2105 L1613.8,2098.9 L1620.8,2098.9 L1624.3,2105 L1620.8,2111ZM1617,2111 L1613.5,2105 L1617,2098.9 L1624,2098.9 L1627.5,2105 L1624,2111ZM1620.2,2111 L1616.7,2105 L1620.2,2098.9 L1627.2,2098.9 L1630.7,2105 L1627.2,2111ZM1623.4,2111 L1619.9,2104.9 L1623.4,2098.9 L1630.4,2098.9 L1633.9,2104.9 L1630.4,2111ZM1626.6,2111 L1623.1,2104.9 L1626.6,2098.9 L1633.6,2098.9 L1637.1,2104.9 L1633.6,2111ZM1629.8,2111 L1626.3,2104.9 L1629.8,2098.9 L1636.8,2098.9 L1640.3,2104.9 L1636.8,2111ZM1633,2111 L1629.5,2104.9 L1633,2098.9 L1640,2098.9 L1643.5,2104.9 L1640,2111ZM1636.2,2111 L1632.7,2104.9 L1636.2,2098.9 L1643.2,2098.9 L1646.7,2104.9 L1643.2,2111ZM1639.4,2111 L1635.9,2104.9 L1639.4,2098.9 L1646.4,2098.9 L1649.9,2104.9 L1646.4,2111ZM1642.6,2111 L1639.1,2104.9 L1642.6,2098.9 L1649.6,2098.9 L1653.1,2104.9 L1649.6,2111ZM1645.8,2111 L1642.3,2104.9 L1645.8,2098.9 L1652.8,2098.9 L1656.3,2104.9 L1652.8,2111ZM1649,2111 L1645.5,2104.9 L1649,2098.9 L1656,2098.9 L1659.5,2104.9 L1656,2111ZM1652.2,2111 L1648.7,2104.9 L1652.2,2098.9 L1659.2,2098.9 L1662.7,2104.9 L1659.2,2111ZM1655.4,2111 L1651.9,2104.9 L1655.4,2098.9 L1662.4,2098.9 L1665.9,2104.9 L1662.4,2111ZM1658.6,2111 L1655.1,2104.9 L1658.6,2098.9 L1665.6,2098.9 L1669.1,2104.9 L1665.6,2111ZM1661.8,2111 L1658.3,2104.9 L1661.8,2098.9 L1668.8,2098.9 L1672.3,2104.9 L1668.8,2111ZM1665,2111 L1661.5,2104.9 L1665,2098.9 L1672,2098.9 L1675.5,2104.9 L1672,2111ZM1668.2,2111 L1664.7,2104.9 L1668.2,2098.9 L1675.2,2098.9 L1678.7,2104.9 L1675.2,2111ZM1671.4,2111 L1667.9,2104.9 L1671.4,2098.9 L1678.4,2098.9 L1681.9,2104.9 L1678.4,2111ZM1674.6,2111 L1671.1,2104.9 L1674.6,2098.9 L1681.6,2098.9 L1685.1,2104.9 L1681.6,2111ZM1677.8,2111 L1674.3,2104.9 L1677.8,2098.9 L1684.8,2098.9 L1688.3,2104.9 L1684.8,2111ZM1681,2111 L1677.5,2104.9 L1681,2098.9 L1688,2098.9 L1691.5,2104.9 L1688,2111ZM1684.2,2111 L1680.7,2104.9 L1684.2,2098.9 L1691.2,2098.9 L1694.7,2104.9 L1691.2,2111ZM1687.4,2111 L1683.9,2104.9 L1687.4,2098.9 L1694.4,2098.9 L1697.9,2104.9 L1694.4,2111ZM1690.6,2111 L1687.1,2104.9 L1690.6,2098.9 L1697.6,2098.9 L1701.1,2104.9 L1697.6,2111ZM1693.8,2111 L1690.3,2104.9 L1693.8,2098.9 L1700.8,2098.9 L1704.3,2104.9 L1700.8,2111ZM1697,2111 L1693.5,2104.9 L1697,2098.9 L1704,2098.9 L1707.5,2104.9 L1704,2111ZM1700.2,2111 L1696.7,2104.9 L1700.2,2098.9 L1707.2,2098.9 L1710.7,2104.9 L1707.2,2111ZM1703.4,2111 L1699.9,2104.9 L1703.4,2098.9 L1710.4,2098.9 L1713.9,2104.9 L1710.4,2111ZM1706.6,2111 L1703.1,2104.9 L1706.6,2098.9 L1713.6,2098.9 L1717.1,2104.9 L1713.6,2111ZM1709.8,2111 L1706.3,2105 L1709.8,2098.9 L1716.8,2098.9 L1720.3,2105 L1716.8,2111ZM1713,2111 L1709.5,2105 L1713,2098.9 L1720,2098.9 L1723.5,2105 L1720,2111ZM1716.2,2111 L1712.7,2105 L1716.2,2098.9 L1723.2,2098.9 L1726.7,2105 L1723.2,2111ZM1719.4,2111 L1715.9,2105 L1719.4,2098.9 L1726.4,2098.9 L1729.9,2105 L1726.4,2111ZM1722.6,2111 L1719.1,2105 L1722.6,2098.9 L1729.6,2098.9 L1733.1,2105 L1729.6,2111ZM1725.8,2111 L1722.3,2105 L1725.8,2098.9 L1732.8,2098.9 L1736.3,2105 L1732.8,2111ZM1729,2111 L1725.5,2105 L1729,2098.9 L1736,2098.9 L1739.5,2105 L1736,2111ZM1732.2,2111 L1728.7,2105 L1732.2,2098.9 L1739.2,2098.9 L1742.7,2105 L1739.2,2111ZM1735.4,2111 L1731.9,2105 L1735.4,2098.9 L1742.4,2098.9 L1745.9,2105 L1742.4,2111ZM1738.6,2111 L1735.1,2105 L1738.6,2098.9 L1745.6,2098.9 L1749.1,2105 L1745.6,2111ZM1741.8,2111 L1738.3,2105 L1741.8,2098.9 L1748.8,2098.9 L1752.3,2105 L1748.8,2111ZM1745,2111 L1741.5,2105 L1745,2098.9 L1752,2098.9 L1755.5,2105 L1752,2111ZM1748.2,2111 L1744.7,2105 L1748.2,2098.9 L1755.2,2098.9 L1758.7,2105 L1755.2,2111ZM1751.4,2111.1 L1747.9,2105 L1751.4,2098.9 L1758.4,2098.9 L1761.9,2105 L1758.4,2111.1ZM1754.6,2111.1 L1751.1,2105 L1754.6,2098.9 L1761.6,2098.9 L1765.1,2105 L1761.6,2111.1ZM1757.8,2111.1 L1754.3,2105 L1757.8,2098.9 L1764.8,2098.9 L1768.3,2105 L1764.8,2111.1ZM1761,2111.1 L1757.5,2105 L1761,2098.9 L1768,2098.9 L1771.5,2105 L1768,2111.1ZM1764.2,2111.1 L1760.7,2105 L1764.2,2098.9 L1771.2,2098.9 L1774.7,2105 L1771.2,2111.1ZM1767.4,2111.1 L1763.9,2105 L1767.4,2098.9 L1774.4,2098.9 L1777.9,2105 L1774.4,2111.1Z" fill="#c9b8f4" fill-opacity="0.5" stroke="#b08ae6" stroke-width="0.9"/>
<path d="M1043.5,1710 C1095.7,1709.7 1147.8,1709.9 1200,1709 C1226.7,1708.5 1253.4,1708 1280,1706 C1293.4,1705 1306.6,1701.6 1320,1700 C1326.6,1699.2 1333.4,1698.6 1340,1699 C1344.1,1699.3 1349.4,1699.3 1352,1702 C1356.7,1706.9 1360,1714.9 1362,1722 C1366.3,1737.5 1369.1,1753.9 1371,1770 C1374.1,1795.9 1374.9,1822 1377,1848 C1378.9,1872.7 1381.2,1897.3 1383,1922 C1384.8,1946.7 1386.8,1971.3 1388,1996 C1389.2,2020.6 1389.8,2045.3 1390,2070 C1390.1,2086.7 1389.3,2103.3 1389,2120" fill="none" stroke="#ff0000" stroke-width="15"/>
<path d="M1434,2120 C1433.7,2103.3 1432.9,2086.7 1433,2070 C1433.2,2045.3 1433.8,2020.6 1435,1996 C1436.2,1971.3 1438.2,1946.7 1440,1922 C1441.8,1897.3 1444.1,1872.7 1446,1848 C1448.1,1822 1448.9,1795.9 1452,1770 C1453.9,1753.9 1456.7,1737.5 1461,1722 C1463,1714.9 1466.3,1706.9 1471,1702 C1473.6,1699.3 1478.9,1699.3 1483,1699 C1489.6,1698.6 1496.4,1699.2 1503,1700 C1516.4,1701.6 1529.6,1705 1543,1706 C1569.6,1708 1596.3,1708.5 1623,1709 C1675.2,1709.9 1727.3,1709.7 1779.5,1710" fill="none" stroke="#ff0000" stroke-width="15"/>
<path d="M1369.2,2148 L1389,2115 L1434,2115 L1454.5,2148 V2165 H1369.2Z" fill="#ff0000"/>
<path d="M1391.5,2152 L1401.3,2120 L1421,2120 L1431,2152Z" fill="#fff"/>
<path d="M1044.5,1711 a6.5,6.5 0 1,0 13,0 a6.5,6.5 0 1,0 -13,0M1048.1,1711 a6.5,6.5 0 1,0 13,0 a6.5,6.5 0 1,0 -13,0M1051.7,1711 a6.5,6.5 0 1,0 13,0 a6.5,6.5 0 1,0 -13,0M1055.3,1711 a6.5,6.5 0 1,0 13,0 a6.5,6.5 0 1,0 -13,0M1058.9,1711 a6.5,6.5 0 1,0 13,0 a6.5,6.5 0 1,0 -13,0M1062.5,1711 a6.5,6.5 0 1,0 13,0 a6.5,6.5 0 1,0 -13,0M1066.1,1711 a6.5,6.5 0 1,0 13,0 a6.5,6.5 0 1,0 -13,0M1069.7,1711 a6.5,6.5 0 1,0 13,0 a6.5,6.5 0 1,0 -13,0M1073.3,1711 a6.5,6.5 0 1,0 13,0 a6.5,6.5 0 1,0 -13,0M1076.9,1711.1 a6.5,6.5 0 1,0 13,0 a6.5,6.5 0 1,0 -13,0M1080.5,1711.1 a6.5,6.5 0 1,0 13,0 a6.5,6.5 0 1,0 -13,0M1084.1,1711.1 a6.5,6.5 0 1,0 13,0 a6.5,6.5 0 1,0 -13,0M1087.7,1711.1 a6.5,6.5 0 1,0 13,0 a6.5,6.5 0 1,0 -13,0M1091.3,1711.1 a6.5,6.5 0 1,0 13,0 a6.5,6.5 0 1,0 -13,0M1094.9,1711.1 a6.5,6.5 0 1,0 13,0 a6.5,6.5 0 1,0 -13,0M1098.5,1711.1 a6.5,6.5 0 1,0 13,0 a6.5,6.5 0 1,0 -13,0M1102.1,1711.1 a6.5,6.5 0 1,0 13,0 a6.5,6.5 0 1,0 -13,0M1105.7,1711.1 a6.5,6.5 0 1,0 13,0 a6.5,6.5 0 1,0 -13,0M1109.3,1711.1 a6.5,6.5 0 1,0 13,0 a6.5,6.5 0 1,0 -13,0M1112.9,1711.1 a6.5,6.5 0 1,0 13,0 a6.5,6.5 0 1,0 -13,0M1116.5,1711.1 a6.5,6.5 0 1,0 13,0 a6.5,6.5 0 1,0 -13,0M1120.1,1711.1 a6.5,6.5 0 1,0 13,0 a6.5,6.5 0 1,0 -13,0M1123.7,1711.1 a6.5,6.5 0 1,0 13,0 a6.5,6.5 0 1,0 -13,0M1127.3,1711.1 a6.5,6.5 0 1,0 13,0 a6.5,6.5 0 1,0 -13,0M1130.9,1711.1 a6.5,6.5 0 1,0 13,0 a6.5,6.5 0 1,0 -13,0M1134.5,1711.1 a6.5,6.5 0 1,0 13,0 a6.5,6.5 0 1,0 -13,0M1138.1,1711.1 a6.5,6.5 0 1,0 13,0 a6.5,6.5 0 1,0 -13,0M1141.7,1711.1 a6.5,6.5 0 1,0 13,0 a6.5,6.5 0 1,0 -13,0M1145.3,1711.1 a6.5,6.5 0 1,0 13,0 a6.5,6.5 0 1,0 -13,0M1148.9,1711.1 a6.5,6.5 0 1,0 13,0 a6.5,6.5 0 1,0 -13,0M1152.5,1711.1 a6.5,6.5 0 1,0 13,0 a6.5,6.5 0 1,0 -13,0M1156.1,1711.1 a6.5,6.5 0 1,0 13,0 a6.5,6.5 0 1,0 -13,0M1159.7,1711.1 a6.5,6.5 0 1,0 13,0 a6.5,6.5 0 1,0 -13,0M1163.3,1711.1 a6.5,6.5 0 1,0 13,0 a6.5,6.5 0 1,0 -13,0M1166.9,1711.1 a6.5,6.5 0 1,0 13,0 a6.5,6.5 0 1,0 -13,0M1170.5,1711.1 a6.5,6.5 0 1,0 13,0 a6.5,6.5 0 1,0 -13,0M1174.1,1711.1 a6.5,6.5 0 1,0 13,0 a6.5,6.5 0 1,0 -13,0M1177.7,1711.1 a6.5,6.5 0 1,0 13,0 a6.5,6.5 0 1,0 -13,0M1181.3,1711.1 a6.5,6.5 0 1,0 13,0 a6.5,6.5 0 1,0 -13,0M1184.9,1711.1 a6.5,6.5 0 1,0 13,0 a6.5,6.5 0 1,0 -13,0M1188.5,1711 a6.5,6.5 0 1,0 13,0 a6.5,6.5 0 1,0 -13,0M1192.1,1711 a6.5,6.5 0 1,0 13,0 a6.5,6.5 0 1,0 -13,0M1195.7,1711 a6.5,6.5 0 1,0 13,0 a6.5,6.5 0 1,0 -13,0M1199.3,1710.9 a6.5,6.5 0 1,0 13,0 a6.5,6.5 0 1,0 -13,0M1202.9,1710.9 a6.5,6.5 0 1,0 13,0 a6.5,6.5 0 1,0 -13,0M1206.5,1710.9 a6.5,6.5 0 1,0 13,0 a6.5,6.5 0 1,0 -13,0M1210.1,1710.8 a6.5,6.5 0 1,0 13,0 a6.5,6.5 0 1,0 -13,0M1213.7,1710.8 a6.5,6.5 0 1,0 13,0 a6.5,6.5 0 1,0 -13,0M1217.3,1710.7 a6.5,6.5 0 1,0 13,0 a6.5,6.5 0 1,0 -13,0M1220.9,1710.7 a6.5,6.5 0 1,0 13,0 a6.5,6.5 0 1,0 -13,0M1224.5,1710.6 a6.5,6.5 0 1,0 13,0 a6.5,6.5 0 1,0 -13,0M1228.1,1710.6 a6.5,6.5 0 1,0 13,0 a6.5,6.5 0 1,0 -13,0M1231.7,1710.5 a6.5,6.5 0 1,0 13,0 a6.5,6.5 0 1,0 -13,0M1235.3,1710.4 a6.5,6.5 0 1,0 13,0 a6.5,6.5 0 1,0 -13,0M1238.9,1710.3 a6.5,6.5 0 1,0 13,0 a6.5,6.5 0 1,0 -13,0M1242.5,1710.3 a6.5,6.5 0 1,0 13,0 a6.5,6.5 0 1,0 -13,0M1246.1,1710.2 a6.5,6.5 0 1,0 13,0 a6.5,6.5 0 1,0 -13,0M1249.7,1710 a6.5,6.5 0 1,0 13,0 a6.5,6.5 0 1,0 -13,0M1253.3,1709.9 a6.5,6.5 0 1,0 13,0 a6.5,6.5 0 1,0 -13,0M1256.9,1709.8 a6.5,6.5 0 1,0 13,0 a6.5,6.5 0 1,0 -13,0M1260.5,1709.6 a6.5,6.5 0 1,0 13,0 a6.5,6.5 0 1,0 -13,0M1264.1,1709.5 a6.5,6.5 0 1,0 13,0 a6.5,6.5 0 1,0 -13,0M1267.7,1709.3 a6.5,6.5 0 1,0 13,0 a6.5,6.5 0 1,0 -13,0M1271.3,1709.1 a6.5,6.5 0 1,0 13,0 a6.5,6.5 0 1,0 -13,0M1274.9,1708.9 a6.5,6.5 0 1,0 13,0 a6.5,6.5 0 1,0 -13,0M1278.5,1708.7 a6.5,6.5 0 1,0 13,0 a6.5,6.5 0 1,0 -13,0M1282,1708.4 a6.5,6.5 0 1,0 13,0 a6.5,6.5 0 1,0 -13,0M1285.6,1708 a6.5,6.5 0 1,0 13,0 a6.5,6.5 0 1,0 -13,0M1289.2,1707.6 a6.5,6.5 0 1,0 13,0 a6.5,6.5 0 1,0 -13,0M1292.8,1707.1 a6.5,6.5 0 1,0 13,0 a6.5,6.5 0 1,0 -13,0M1296.3,1706.6 a6.5,6.5 0 1,0 13,0 a6.5,6.5 0 1,0 -13,0M1299.9,1706.1 a6.5,6.5 0 1,0 13,0 a6.5,6.5 0 1,0 -13,0M1303.4,1705.5 a6.5,6.5 0 1,0 13,0 a6.5,6.5 0 1,0 -13,0M1307,1704.9 a6.5,6.5 0 1,0 13,0 a6.5,6.5 0 1,0 -13,0M1310.6,1704.4 a6.5,6.5 0 1,0 13,0 a6.5,6.5 0 1,0 -13,0M1314.1,1703.9 a6.5,6.5 0 1,0 13,0 a6.5,6.5 0 1,0 -13,0M1317.7,1703.5 a6.5,6.5 0 1,0 13,0 a6.5,6.5 0 1,0 -13,0M1321.3,1703 a6.5,6.5 0 1,0 13,0 a6.5,6.5 0 1,0 -13,0M1324.9,1702.7 a6.5,6.5 0 1,0 13,0 a6.5,6.5 0 1,0 -13,0M1328.4,1703 a6.5,6.5 0 1,0 13,0 a6.5,6.5 0 1,0 -13,0M1332,1703.5 a6.5,6.5 0 1,0 13,0 a6.5,6.5 0 1,0 -13,0M1335.5,1704.3 a6.5,6.5 0 1,0 13,0 a6.5,6.5 0 1,0 -13,0M1338.8,1705.7 a6.5,6.5 0 1,0 13,0 a6.5,6.5 0 1,0 -13,0M1341.5,1708 a6.5,6.5 0 1,0 13,0 a6.5,6.5 0 1,0 -13,0M1343.8,1710.8 a6.5,6.5 0 1,0 13,0 a6.5,6.5 0 1,0 -13,0M1345.8,1713.8 a6.5,6.5 0 1,0 13,0 a6.5,6.5 0 1,0 -13,0M1347.5,1717 a6.5,6.5 0 1,0 13,0 a6.5,6.5 0 1,0 -13,0M1348.9,1720.3 a6.5,6.5 0 1,0 13,0 a6.5,6.5 0 1,0 -13,0M1350.1,1723.7 a6.5,6.5 0 1,0 13,0 a6.5,6.5 0 1,0 -13,0M1351.2,1727.1 a6.5,6.5 0 1,0 13,0 a6.5,6.5 0 1,0 -13,0M1352.2,1730.6 a6.5,6.5 0 1,0 13,0 a6.5,6.5 0 1,0 -13,0M1353.2,1734.1 a6.5,6.5 0 1,0 13,0 a6.5,6.5 0 1,0 -13,0M1354,1737.6 a6.5,6.5 0 1,0 13,0 a6.5,6.5 0 1,0 -13,0M1354.8,1741.1 a6.5,6.5 0 1,0 13,0 a6.5,6.5 0 1,0 -13,0M1355.6,1744.6 a6.5,6.5 0 1,0 13,0 a6.5,6.5 0 1,0 -13,0M1356.2,1748.1 a6.5,6.5 0 1,0 13,0 a6.5,6.5 0 1,0 -13,0M1356.9,1751.7 a6.5,6.5 0 1,0 13,0 a6.5,6.5 0 1,0 -13,0M1357.4,1755.2 a6.5,6.5 0 1,0 13,0 a6.5,6.5 0 1,0 -13,0M1358,1758.8 a6.5,6.5 0 1,0 13,0 a6.5,6.5 0 1,0 -13,0M1358.5,1762.4 a6.5,6.5 0 1,0 13,0 a6.5,6.5 0 1,0 -13,0M1359,1765.9 a6.5,6.5 0 1,0 13,0 a6.5,6.5 0 1,0 -13,0M1359.4,1769.5 a6.5,6.5 0 1,0 13,0 a6.5,6.5 0 1,0 -13,0M1359.9,1773.1 a6.5,6.5 0 1,0 13,0 a6.5,6.5 0 1,0 -13,0M1360.3,1776.7 a6.5,6.5 0 1,0 13,0 a6.5,6.5 0 1,0 -13,0M1360.6,1780.2 a6.5,6.5 0 1,0 13,0 a6.5,6.5 0 1,0 -13,0M1361,1783.8 a6.5,6.5 0 1,0 13,0 a6.5,6.5 0 1,0 -13,0M1361.3,1787.4 a6.5,6.5 0 1,0 13,0 a6.5,6.5 0 1,0 -13,0M1361.6,1791 a6.5,6.5 0 1,0 13,0 a6.5,6.5 0 1,0 -13,0M1362,1794.6 a6.5,6.5 0 1,0 13,0 a6.5,6.5 0 1,0 -13,0M1362.3,1798.2 a6.5,6.5 0 1,0 13,0 a6.5,6.5 0 1,0 -13,0M1362.6,1801.7 a6.5,6.5 0 1,0 13,0 a6.5,6.5 0 1,0 -13,0M1362.8,1805.3 a6.5,6.5 0 1,0 13,0 a6.5,6.5 0 1,0 -13,0M1363.1,1808.9 a6.5,6.5 0 1,0 13,0 a6.5,6.5 0 1,0 -13,0M1363.4,1812.5 a6.5,6.5 0 1,0 13,0 a6.5,6.5 0 1,0 -13,0M1363.7,1816.1 a6.5,6.5 0 1,0 13,0 a6.5,6.5 0 1,0 -13,0M1364,1819.7 a6.5,6.5 0 1,0 13,0 a6.5,6.5 0 1,0 -13,0M1364.3,1823.3 a6.5,6.5 0 1,0 13,0 a6.5,6.5 0 1,0 -13,0M1364.6,1826.9 a6.5,6.5 0 1,0 13,0 a6.5,6.5 0 1,0 -13,0M1364.9,1830.5 a6.5,6.5 0 1,0 13,0 a6.5,6.5 0 1,0 -13,0M1365.1,1834 a6.5,6.5 0 1,0 13,0 a6.5,6.5 0 1,0 -13,0M1365.4,1837.6 a6.5,6.5 0 1,0 13,0 a6.5,6.5 0 1,0 -13,0M1365.7,1841.2 a6.5,6.5 0 1,0 13,0 a6.5,6.5 0 1,0 -13,0M1366,1844.8 a6.5,6.5 0 1,0 13,0 a6.5,6.5 0 1,0 -13,0M1366.4,1848.4 a6.5,6.5 0 1,0 13,0 a6.5,6.5 0 1,0 -13,0M1366.7,1852 a6.5,6.5 0 1,0 13,0 a6.5,6.5 0 1,0 -13,0M1367,1855.6 a6.5,6.5 0 1,0 13,0 a6.5,6.5 0 1,0 -13,0M1367.3,1859.1 a6.5,6.5 0 1,0 13,0 a6.5,6.5 0 1,0 -13,0M1367.7,1862.7 a6.5,6.5 0 1,0 13,0 a6.5,6.5 0 1,0 -13,0M1368,1866.3 a6.5,6.5 0 1,0 13,0 a6.5,6.5 0 1,0 -13,0M1368.3,1869.9 a6.5,6.5 0 1,0 13,0 a6.5,6.5 0 1,0 -13,0M1368.7,1873.5 a6.5,6.5 0 1,0 13,0 a6.5,6.5 0 1,0 -13,0M1369,1877.1 a6.5,6.5 0 1,0 13,0 a6.5,6.5 0 1,0 -13,0M1369.3,1880.7 a6.5,6.5 0 1,0 13,0 a6.5,6.5 0 1,0 -13,0M1369.7,1884.2 a6.5,6.5 0 1,0 13,0 a6.5,6.5 0 1,0 -13,0M1370,1887.8 a6.5,6.5 0 1,0 13,0 a6.5,6.5 0 1,0 -13,0M1370.3,1891.4 a6.5,6.5 0 1,0 13,0 a6.5,6.5 0 1,0 -13,0M1370.7,1895 a6.5,6.5 0 1,0 13,0 a6.5,6.5 0 1,0 -13,0M1371,1898.6 a6.5,6.5 0 1,0 13,0 a6.5,6.5 0 1,0 -13,0M1371.3,1902.2 a6.5,6.5 0 1,0 13,0 a6.5,6.5 0 1,0 -13,0M1371.7,1905.7 a6.5,6.5 0 1,0 13,0 a6.5,6.5 0 1,0 -13,0M1372,1909.3 a6.5,6.5 0 1,0 13,0 a6.5,6.5 0 1,0 -13,0M1372.4,1912.9 a6.5,6.5 0 1,0 13,0 a6.5,6.5 0 1,0 -13,0M1372.7,1916.5 a6.5,6.5 0 1,0 13,0 a6.5,6.5 0 1,0 -13,0M1373,1920.1 a6.5,6.5 0 1,0 13,0 a6.5,6.5 0 1,0 -13,0M1373.4,1923.7 a6.5,6.5 0 1,0 13,0 a6.5,6.5 0 1,0 -13,0M1436.5,1925 a6.5,6.5 0 1,0 13,0 a6.5,6.5 0 1,0 -13,0M1436.8,1921.4 a6.5,6.5 0 1,0 13,0 a6.5,6.5 0 1,0 -13,0M1437.2,1917.8 a6.5,6.5 0 1,0 13,0 a6.5,6.5 0 1,0 -13,0M1437.5,1914.2 a6.5,6.5 0 1,0 13,0 a6.5,6.5 0 1,0 -13,0M1437.9,1910.7 a6.5,6.5 0 1,0 13,0 a6.5,6.5 0 1,0 -13,0M1438.2,1907.1 a6.5,6.5 0 1,0 13,0 a6.5,6.5 0 1,0 -13,0M1438.5,1903.5 a6.5,6.5 0 1,0 13,0 a6.5,6.5 0 1,0 -13,0M1438.9,1899.9 a6.5,6.5 0 1,0 13,0 a6.5,6.5 0 1,0 -13,0M1439.2,1896.3 a6.5,6.5 0 1,0 13,0 a6.5,6.5 0 1,0 -13,0M1439.5,1892.7 a6.5,6.5 0 1,0 13,0 a6.5,6.5 0 1,0 -13,0M1439.9,1889.2 a6.5,6.5 0 1,0 13,0 a6.5,6.5 0 1,0 -13,0M1440.2,1885.6 a6.5,6.5 0 1,0 13,0 a6.5,6.5 0 1,0 -13,0M1440.5,1882 a6.5,6.5 0 1,0 13,0 a6.5,6.5 0 1,0 -13,0M1440.9,1878.4 a6.5,6.5 0 1,0 13,0 a6.5,6.5 0 1,0 -13,0M1441.2,1874.8 a6.5,6.5 0 1,0 13,0 a6.5,6.5 0 1,0 -13,0M1441.6,1871.2 a6.5,6.5 0 1,0 13,0 a6.5,6.5 0 1,0 -13,0M1441.9,1867.7 a6.5,6.5 0 1,0 13,0 a6.5,6.5 0 1,0 -13,0M1442.2,1864.1 a6.5,6.5 0 1,0 13,0 a6.5,6.5 0 1,0 -13,0M1442.5,1860.5 a6.5,6.5 0 1,0 13,0 a6.5,6.5 0 1,0 -13,0M1442.9,1856.9 a6.5,6.5 0 1,0 13,0 a6.5,6.5 0 1,0 -13,0M1443.2,1853.3 a6.5,6.5 0 1,0 13,0 a6.5,6.5 0 1,0 -13,0M1443.5,1849.7 a6.5,6.5 0 1,0 13,0 a6.5,6.5 0 1,0 -13,0M1443.8,1846.1 a6.5,6.5 0 1,0 13,0 a6.5,6.5 0 1,0 -13,0M1444.1,1842.6 a6.5,6.5 0 1,0 13,0 a6.5,6.5 0 1,0 -13,0M1444.5,1839 a6.5,6.5 0 1,0 13,0 a6.5,6.5 0 1,0 -13,0M1444.7,1835.4 a6.5,6.5 0 1,0 13,0 a6.5,6.5 0 1,0 -13,0M1445,1831.8 a6.5,6.5 0 1,0 13,0 a6.5,6.5 0 1,0 -13,0M1445.3,1828.2 a6.5,6.5 0 1,0 13,0 a6.5,6.5 0 1,0 -13,0M1445.6,1824.6 a6.5,6.5 0 1,0 13,0 a6.5,6.5 0 1,0 -13,0M1445.9,1821 a6.5,6.5 0 1,0 13,0 a6.5,6.5 0 1,0 -13,0M1446.2,1817.4 a6.5,6.5 0 1,0 13,0 a6.5,6.5 0 1,0 -13,0M1446.5,1813.8 a6.5,6.5 0 1,0 13,0 a6.5,6.5 0 1,0 -13,0M1446.8,1810.3 a6.5,6.5 0 1,0 13,0 a6.5,6.5 0 1,0 -13,0M1447,1806.7 a6.5,6.5 0 1,0 13,0 a6.5,6.5 0 1,0 -13,0M1447.3,1803.1 a6.5,6.5 0 1,0 13,0 a6.5,6.5 0 1,0 -13,0M1447.6,1799.5 a6.5,6.5 0 1,0 13,0 a6.5,6.5 0 1,0 -13,0M1447.9,1795.9 a6.5,6.5 0 1,0 13,0 a6.5,6.5 0 1,0 -13,0M1448.2,1792.3 a6.5,6.5 0 1,0 13,0 a6.5,6.5 0 1,0 -13,0M1448.6,1788.7 a6.5,6.5 0 1,0 13,0 a6.5,6.5 0 1,0 -13,0M1448.9,1785.2 a6.5,6.5 0 1,0 13,0 a6.5,6.5 0 1,0 -13,0M1449.2,1781.6 a6.5,6.5 0 1,0 13,0 a6.5,6.5 0 1,0 -13,0M1449.6,1778 a6.5,6.5 0 1,0 13,0 a6.5,6.5 0 1,0 -13,0M1450,1774.4 a6.5,6.5 0 1,0 13,0 a6.5,6.5 0 1,0 -13,0M1450.4,1770.8 a6.5,6.5 0 1,0 13,0 a6.5,6.5 0 1,0 -13,0M1450.8,1767.3 a6.5,6.5 0 1,0 13,0 a6.5,6.5 0 1,0 -13,0M1451.3,1763.7 a6.5,6.5 0 1,0 13,0 a6.5,6.5 0 1,0 -13,0M1451.8,1760.1 a6.5,6.5 0 1,0 13,0 a6.5,6.5 0 1,0 -13,0M1452.3,1756.6 a6.5,6.5 0 1,0 13,0 a6.5,6.5 0 1,0 -13,0M1452.9,1753 a6.5,6.5 0 1,0 13,0 a6.5,6.5 0 1,0 -13,0M1453.5,1749.5 a6.5,6.5 0 1,0 13,0 a6.5,6.5 0 1,0 -13,0M1454.2,1745.9 a6.5,6.5 0 1,0 13,0 a6.5,6.5 0 1,0 -13,0M1454.9,1742.4 a6.5,6.5 0 1,0 13,0 a6.5,6.5 0 1,0 -13,0M1455.7,1738.9 a6.5,6.5 0 1,0 13,0 a6.5,6.5 0 1,0 -13,0M1456.5,1735.4 a6.5,6.5 0 1,0 13,0 a6.5,6.5 0 1,0 -13,0M1457.4,1731.9 a6.5,6.5 0 1,0 13,0 a6.5,6.5 0 1,0 -13,0M1458.4,1728.4 a6.5,6.5 0 1,0 13,0 a6.5,6.5 0 1,0 -13,0M1459.4,1725 a6.5,6.5 0 1,0 13,0 a6.5,6.5 0 1,0 -13,0M1460.6,1721.6 a6.5,6.5 0 1,0 13,0 a6.5,6.5 0 1,0 -13,0M1462,1718.2 a6.5,6.5 0 1,0 13,0 a6.5,6.5 0 1,0 -13,0M1463.6,1715 a6.5,6.5 0 1,0 13,0 a6.5,6.5 0 1,0 -13,0M1465.4,1711.9 a6.5,6.5 0 1,0 13,0 a6.5,6.5 0 1,0 -13,0M1467.6,1709.1 a6.5,6.5 0 1,0 13,0 a6.5,6.5 0 1,0 -13,0M1470.1,1706.5 a6.5,6.5 0 1,0 13,0 a6.5,6.5 0 1,0 -13,0M1473.2,1704.7 a6.5,6.5 0 1,0 13,0 a6.5,6.5 0 1,0 -13,0M1476.7,1703.7 a6.5,6.5 0 1,0 13,0 a6.5,6.5 0 1,0 -13,0M1480.2,1703.2 a6.5,6.5 0 1,0 13,0 a6.5,6.5 0 1,0 -13,0M1483.8,1702.8 a6.5,6.5 0 1,0 13,0 a6.5,6.5 0 1,0 -13,0M1487.4,1702.9 a6.5,6.5 0 1,0 13,0 a6.5,6.5 0 1,0 -13,0M1491,1703.3 a6.5,6.5 0 1,0 13,0 a6.5,6.5 0 1,0 -13,0M1494.5,1703.8 a6.5,6.5 0 1,0 13,0 a6.5,6.5 0 1,0 -13,0M1498.1,1704.2 a6.5,6.5 0 1,0 13,0 a6.5,6.5 0 1,0 -13,0M1501.7,1704.7 a6.5,6.5 0 1,0 13,0 a6.5,6.5 0 1,0 -13,0M1505.2,1705.3 a6.5,6.5 0 1,0 13,0 a6.5,6.5 0 1,0 -13,0M1508.8,1705.9 a6.5,6.5 0 1,0 13,0 a6.5,6.5 0 1,0 -13,0M1512.3,1706.4 a6.5,6.5 0 1,0 13,0 a6.5,6.5 0 1,0 -13,0M1515.9,1706.9 a6.5,6.5 0 1,0 13,0 a6.5,6.5 0 1,0 -13,0M1519.5,1707.4 a6.5,6.5 0 1,0 13,0 a6.5,6.5 0 1,0 -13,0M1523,1707.9 a6.5,6.5 0 1,0 13,0 a6.5,6.5 0 1,0 -13,0M1526.6,1708.2 a6.5,6.5 0 1,0 13,0 a6.5,6.5 0 1,0 -13,0M1530.2,1708.5 a6.5,6.5 0 1,0 13,0 a6.5,6.5 0 1,0 -13,0M1533.8,1708.8 a6.5,6.5 0 1,0 13,0 a6.5,6.5 0 1,0 -13,0M1537.4,1709 a6.5,6.5 0 1,0 13,0 a6.5,6.5 0 1,0 -13,0M1541,1709.2 a6.5,6.5 0 1,0 13,0 a6.5,6.5 0 1,0 -13,0M1544.6,1709.4 a6.5,6.5 0 1,0 13,0 a6.5,6.5 0 1,0 -13,0M1548.2,1709.6 a6.5,6.5 0 1,0 13,0 a6.5,6.5 0 1,0 -13,0M1551.8,1709.7 a6.5,6.5 0 1,0 13,0 a6.5,6.5 0 1,0 -13,0M1555.4,1709.9 a6.5,6.5 0 1,0 13,0 a6.5,6.5 0 1,0 -13,0M1559,1710 a6.5,6.5 0 1,0 13,0 a6.5,6.5 0 1,0 -13,0M1562.6,1710.1 a6.5,6.5 0 1,0 13,0 a6.5,6.5 0 1,0 -13,0M1566.2,1710.2 a6.5,6.5 0 1,0 13,0 a6.5,6.5 0 1,0 -13,0M1569.8,1710.3 a6.5,6.5 0 1,0 13,0 a6.5,6.5 0 1,0 -13,0M1573.4,1710.4 a6.5,6.5 0 1,0 13,0 a6.5,6.5 0 1,0 -13,0M1577,1710.5 a6.5,6.5 0 1,0 13,0 a6.5,6.5 0 1,0 -13,0M1580.6,1710.5 a6.5,6.5 0 1,0 13,0 a6.5,6.5 0 1,0 -13,0M1584.2,1710.6 a6.5,6.5 0 1,0 13,0 a6.5,6.5 0 1,0 -13,0M1587.8,1710.7 a6.5,6.5 0 1,0 13,0 a6.5,6.5 0 1,0 -13,0M1591.4,1710.7 a6.5,6.5 0 1,0 13,0 a6.5,6.5 0 1,0 -13,0M1595,1710.8 a6.5,6.5 0 1,0 13,0 a6.5,6.5 0 1,0 -13,0M1598.6,1710.8 a6.5,6.5 0 1,0 13,0 a6.5,6.5 0 1,0 -13,0M1602.2,1710.9 a6.5,6.5 0 1,0 13,0 a6.5,6.5 0 1,0 -13,0M1605.8,1710.9 a6.5,6.5 0 1,0 13,0 a6.5,6.5 0 1,0 -13,0M1609.4,1710.9 a6.5,6.5 0 1,0 13,0 a6.5,6.5 0 1,0 -13,0M1613,1711 a6.5,6.5 0 1,0 13,0 a6.5,6.5 0 1,0 -13,0M1616.6,1711 a6.5,6.5 0 1,0 13,0 a6.5,6.5 0 1,0 -13,0M1620.2,1711 a6.5,6.5 0 1,0 13,0 a6.5,6.5 0 1,0 -13,0M1623.8,1711 a6.5,6.5 0 1,0 13,0 a6.5,6.5 0 1,0 -13,0M1627.4,1711.1 a6.5,6.5 0 1,0 13,0 a6.5,6.5 0 1,0 -13,0M1631,1711.1 a6.5,6.5 0 1,0 13,0 a6.5,6.5 0 1,0 -13,0M1634.6,1711.1 a6.5,6.5 0 1,0 13,0 a6.5,6.5 0 1,0 -13,0M1638.2,1711.1 a6.5,6.5 0 1,0 13,0 a6.5,6.5 0 1,0 -13,0M1641.8,1711.1 a6.5,6.5 0 1,0 13,0 a6.5,6.5 0 1,0 -13,0M1645.4,1711.1 a6.5,6.5 0 1,0 13,0 a6.5,6.5 0 1,0 -13,0M1649,1711.1 a6.5,6.5 0 1,0 13,0 a6.5,6.5 0 1,0 -13,0M1652.6,1711.1 a6.5,6.5 0 1,0 13,0 a6.5,6.5 0 1,0 -13,0M1656.2,1711.1 a6.5,6.5 0 1,0 13,0 a6.5,6.5 0 1,0 -13,0M1659.8,1711.1 a6.5,6.5 0 1,0 13,0 a6.5,6.5 0 1,0 -13,0M1663.4,1711.1 a6.5,6.5 0 1,0 13,0 a6.5,6.5 0 1,0 -13,0M1667,1711.1 a6.5,6.5 0 1,0 13,0 a6.5,6.5 0 1,0 -13,0M1670.6,1711.1 a6.5,6.5 0 1,0 13,0 a6.5,6.5 0 1,0 -13,0M1674.2,1711.1 a6.5,6.5 0 1,0 13,0 a6.5,6.5 0 1,0 -13,0M1677.8,1711.1 a6.5,6.5 0 1,0 13,0 a6.5,6.5 0 1,0 -13,0M1681.4,1711.1 a6.5,6.5 0 1,0 13,0 a6.5,6.5 0 1,0 -13,0M1685,1711.1 a6.5,6.5 0 1,0 13,0 a6.5,6.5 0 1,0 -13,0M1688.6,1711.1 a6.5,6.5 0 1,0 13,0 a6.5,6.5 0 1,0 -13,0M1692.2,1711.1 a6.5,6.5 0 1,0 13,0 a6.5,6.5 0 1,0 -13,0M1695.8,1711.1 a6.5,6.5 0 1,0 13,0 a6.5,6.5 0 1,0 -13,0M1699.4,1711.1 a6.5,6.5 0 1,0 13,0 a6.5,6.5 0 1,0 -13,0M1703,1711.1 a6.5,6.5 0 1,0 13,0 a6.5,6.5 0 1,0 -13,0M1706.6,1711.1 a6.5,6.5 0 1,0 13,0 a6.5,6.5 0 1,0 -13,0M1710.2,1711.1 a6.5,6.5 0 1,0 13,0 a6.5,6.5 0 1,0 -13,0M1713.8,1711.1 a6.5,6.5 0 1,0 13,0 a6.5,6.5 0 1,0 -13,0M1717.4,1711.1 a6.5,6.5 0 1,0 13,0 a6.5,6.5 0 1,0 -13,0M1721,1711.1 a6.5,6.5 0 1,0 13,0 a6.5,6.5 0 1,0 -13,0M1724.6,1711.1 a6.5,6.5 0 1,0 13,0 a6.5,6.5 0 1,0 -13,0M1728.2,1711.1 a6.5,6.5 0 1,0 13,0 a6.5,6.5 0 1,0 -13,0M1731.8,1711.1 a6.5,6.5 0 1,0 13,0 a6.5,6.5 0 1,0 -13,0M1735.4,1711.1 a6.5,6.5 0 1,0 13,0 a6.5,6.5 0 1,0 -13,0M1739,1711 a6.5,6.5 0 1,0 13,0 a6.5,6.5 0 1,0 -13,0M1742.6,1711 a6.5,6.5 0 1,0 13,0 a6.5,6.5 0 1,0 -13,0M1746.2,1711 a6.5,6.5 0 1,0 13,0 a6.5,6.5 0 1,0 -13,0M1749.8,1711 a6.5,6.5 0 1,0 13,0 a6.5,6.5 0 1,0 -13,0M1753.4,1711 a6.5,6.5 0 1,0 13,0 a6.5,6.5 0 1,0 -13,0M1757,1711 a6.5,6.5 0 1,0 13,0 a6.5,6.5 0 1,0 -13,0M1760.6,1711 a6.5,6.5 0 1,0 13,0 a6.5,6.5 0 1,0 -13,0M1764.2,1711 a6.5,6.5 0 1,0 13,0 a6.5,6.5 0 1,0 -13,0" fill="#fff" stroke="#6a6a6a" stroke-width="1.1"/>
<path d="M1051,1731 C1100.7,1731.3 1150.4,1730.9 1200,1732 C1226.7,1732.6 1253.4,1734 1280,1736 C1293.4,1737 1307,1738.2 1320,1741 C1325.3,1742.2 1330,1745.7 1335,1748" fill="none" stroke="#2a72dc" stroke-width="14" stroke-linecap="round"/>
<path d="M1488,1748 C1493,1745.7 1497.7,1742.2 1503,1741 C1516,1738.2 1529.6,1737 1543,1736 C1569.6,1734 1596.3,1732.6 1623,1732 C1672.6,1730.9 1722.3,1731.3 1772,1731" fill="none" stroke="#2a72dc" stroke-width="14" stroke-linecap="round"/>
<path d="M1377,1820 C1378.7,1836.7 1380.5,1853.3 1382,1870 C1383.8,1890 1385.5,1910 1387,1930 C1388.5,1950 1389.7,1970 1391,1990 C1392.3,2010 1393.7,2030 1395,2050 C1396,2065 1397.1,2080 1398,2095 C1398.5,2103.3 1398.7,2111.7 1399,2120" fill="none" stroke="#2a72dc" stroke-width="7"/>
<path d="M1432,1990 C1433.3,1970 1434.5,1950 1436,1930 C1437.5,1910 1439.2,1890 1441,1870 C1442.5,1853.3 1444.1,1836.6 1446,1820 C1447.1,1810 1448.4,1800 1450,1790 C1451.4,1781.6 1453,1773.2 1455,1765 C1456.7,1758.2 1459,1751.7 1461,1745" fill="none" stroke="#2a72dc" stroke-width="7"/>
<path d="M1355.8,1745 a6.2,6.2 0 1,0 12.4,0 a6.2,6.2 0 1,0 -12.4,0M1358.4,1753.1 a6.2,6.2 0 1,0 12.4,0 a6.2,6.2 0 1,0 -12.4,0M1360.8,1761.2 a6.2,6.2 0 1,0 12.4,0 a6.2,6.2 0 1,0 -12.4,0M1362.9,1769.5 a6.2,6.2 0 1,0 12.4,0 a6.2,6.2 0 1,0 -12.4,0M1364.6,1777.8 a6.2,6.2 0 1,0 12.4,0 a6.2,6.2 0 1,0 -12.4,0M1366.2,1786.2 a6.2,6.2 0 1,0 12.4,0 a6.2,6.2 0 1,0 -12.4,0M1367.5,1794.6 a6.2,6.2 0 1,0 12.4,0 a6.2,6.2 0 1,0 -12.4,0M1368.7,1803 a6.2,6.2 0 1,0 12.4,0 a6.2,6.2 0 1,0 -12.4,0M1369.8,1811.4 a6.2,6.2 0 1,0 12.4,0 a6.2,6.2 0 1,0 -12.4,0M1370.8,1819.8 a6.2,6.2 0 1,0 12.4,0 a6.2,6.2 0 1,0 -12.4,0M1371.7,1828.3 a6.2,6.2 0 1,0 12.4,0 a6.2,6.2 0 1,0 -12.4,0M1372.6,1836.7 a6.2,6.2 0 1,0 12.4,0 a6.2,6.2 0 1,0 -12.4,0M1373.4,1845.2 a6.2,6.2 0 1,0 12.4,0 a6.2,6.2 0 1,0 -12.4,0M1374.3,1853.7 a6.2,6.2 0 1,0 12.4,0 a6.2,6.2 0 1,0 -12.4,0M1375.1,1862.1 a6.2,6.2 0 1,0 12.4,0 a6.2,6.2 0 1,0 -12.4,0M1375.9,1870.6 a6.2,6.2 0 1,0 12.4,0 a6.2,6.2 0 1,0 -12.4,0M1376.6,1879.1 a6.2,6.2 0 1,0 12.4,0 a6.2,6.2 0 1,0 -12.4,0M1377.4,1887.5 a6.2,6.2 0 1,0 12.4,0 a6.2,6.2 0 1,0 -12.4,0M1378.1,1896 a6.2,6.2 0 1,0 12.4,0 a6.2,6.2 0 1,0 -12.4,0M1378.8,1904.5 a6.2,6.2 0 1,0 12.4,0 a6.2,6.2 0 1,0 -12.4,0M1379.5,1912.9 a6.2,6.2 0 1,0 12.4,0 a6.2,6.2 0 1,0 -12.4,0M1380.1,1921.4 a6.2,6.2 0 1,0 12.4,0 a6.2,6.2 0 1,0 -12.4,0M1380.8,1929.9 a6.2,6.2 0 1,0 12.4,0 a6.2,6.2 0 1,0 -12.4,0M1381.4,1938.4 a6.2,6.2 0 1,0 12.4,0 a6.2,6.2 0 1,0 -12.4,0M1382,1946.8 a6.2,6.2 0 1,0 12.4,0 a6.2,6.2 0 1,0 -12.4,0M1382.6,1955.3 a6.2,6.2 0 1,0 12.4,0 a6.2,6.2 0 1,0 -12.4,0M1383.1,1963.8 a6.2,6.2 0 1,0 12.4,0 a6.2,6.2 0 1,0 -12.4,0M1383.7,1972.3 a6.2,6.2 0 1,0 12.4,0 a6.2,6.2 0 1,0 -12.4,0M1384.2,1980.8 a6.2,6.2 0 1,0 12.4,0 a6.2,6.2 0 1,0 -12.4,0M1384.8,1989.3 a6.2,6.2 0 1,0 12.4,0 a6.2,6.2 0 1,0 -12.4,0M1385.3,1997.7 a6.2,6.2 0 1,0 12.4,0 a6.2,6.2 0 1,0 -12.4,0M1385.9,2006.2 a6.2,6.2 0 1,0 12.4,0 a6.2,6.2 0 1,0 -12.4,0M1386.4,2014.7 a6.2,6.2 0 1,0 12.4,0 a6.2,6.2 0 1,0 -12.4,0M1387,2023.2 a6.2,6.2 0 1,0 12.4,0 a6.2,6.2 0 1,0 -12.4,0M1387.6,2031.7 a6.2,6.2 0 1,0 12.4,0 a6.2,6.2 0 1,0 -12.4,0M1388.1,2040.1 a6.2,6.2 0 1,0 12.4,0 a6.2,6.2 0 1,0 -12.4,0M1388.7,2048.6 a6.2,6.2 0 1,0 12.4,0 a6.2,6.2 0 1,0 -12.4,0M1389.3,2057.1 a6.2,6.2 0 1,0 12.4,0 a6.2,6.2 0 1,0 -12.4,0M1389.9,2065.6 a6.2,6.2 0 1,0 12.4,0 a6.2,6.2 0 1,0 -12.4,0M1390.4,2074.1 a6.2,6.2 0 1,0 12.4,0 a6.2,6.2 0 1,0 -12.4,0M1391,2082.5 a6.2,6.2 0 1,0 12.4,0 a6.2,6.2 0 1,0 -12.4,0M1391.6,2091 a6.2,6.2 0 1,0 12.4,0 a6.2,6.2 0 1,0 -12.4,0M1392,2099.5 a6.2,6.2 0 1,0 12.4,0 a6.2,6.2 0 1,0 -12.4,0M1392.4,2108 a6.2,6.2 0 1,0 12.4,0 a6.2,6.2 0 1,0 -12.4,0M1392.7,2116.5 a6.2,6.2 0 1,0 12.4,0 a6.2,6.2 0 1,0 -12.4,0M1417.8,2120 a6.2,6.2 0 1,0 12.4,0 a6.2,6.2 0 1,0 -12.4,0M1418.1,2111.5 a6.2,6.2 0 1,0 12.4,0 a6.2,6.2 0 1,0 -12.4,0M1418.4,2103 a6.2,6.2 0 1,0 12.4,0 a6.2,6.2 0 1,0 -12.4,0M1418.8,2094.5 a6.2,6.2 0 1,0 12.4,0 a6.2,6.2 0 1,0 -12.4,0M1419.4,2086 a6.2,6.2 0 1,0 12.4,0 a6.2,6.2 0 1,0 -12.4,0M1419.9,2077.6 a6.2,6.2 0 1,0 12.4,0 a6.2,6.2 0 1,0 -12.4,0M1420.5,2069.1 a6.2,6.2 0 1,0 12.4,0 a6.2,6.2 0 1,0 -12.4,0M1421.1,2060.6 a6.2,6.2 0 1,0 12.4,0 a6.2,6.2 0 1,0 -12.4,0M1421.7,2052.1 a6.2,6.2 0 1,0 12.4,0 a6.2,6.2 0 1,0 -12.4,0M1422.2,2043.6 a6.2,6.2 0 1,0 12.4,0 a6.2,6.2 0 1,0 -12.4,0M1422.8,2035.2 a6.2,6.2 0 1,0 12.4,0 a6.2,6.2 0 1,0 -12.4,0M1423.4,2026.7 a6.2,6.2 0 1,0 12.4,0 a6.2,6.2 0 1,0 -12.4,0M1423.9,2018.2 a6.2,6.2 0 1,0 12.4,0 a6.2,6.2 0 1,0 -12.4,0M1424.5,2009.7 a6.2,6.2 0 1,0 12.4,0 a6.2,6.2 0 1,0 -12.4,0M1425.1,2001.2 a6.2,6.2 0 1,0 12.4,0 a6.2,6.2 0 1,0 -12.4,0M1425.6,1992.7 a6.2,6.2 0 1,0 12.4,0 a6.2,6.2 0 1,0 -12.4,0M1426.2,1984.3 a6.2,6.2 0 1,0 12.4,0 a6.2,6.2 0 1,0 -12.4,0M1426.7,1975.8 a6.2,6.2 0 1,0 12.4,0 a6.2,6.2 0 1,0 -12.4,0M1427.3,1967.3 a6.2,6.2 0 1,0 12.4,0 a6.2,6.2 0 1,0 -12.4,0M1427.8,1958.8 a6.2,6.2 0 1,0 12.4,0 a6.2,6.2 0 1,0 -12.4,0M1428.4,1950.3 a6.2,6.2 0 1,0 12.4,0 a6.2,6.2 0 1,0 -12.4,0M1428.9,1941.9 a6.2,6.2 0 1,0 12.4,0 a6.2,6.2 0 1,0 -12.4,0M1429.6,1933.4 a6.2,6.2 0 1,0 12.4,0 a6.2,6.2 0 1,0 -12.4,0M1430.2,1924.9 a6.2,6.2 0 1,0 12.4,0 a6.2,6.2 0 1,0 -12.4,0M1430.8,1916.4 a6.2,6.2 0 1,0 12.4,0 a6.2,6.2 0 1,0 -12.4,0M1431.5,1908 a6.2,6.2 0 1,0 12.4,0 a6.2,6.2 0 1,0 -12.4,0M1432.2,1899.5 a6.2,6.2 0 1,0 12.4,0 a6.2,6.2 0 1,0 -12.4,0M1432.9,1891 a6.2,6.2 0 1,0 12.4,0 a6.2,6.2 0 1,0 -12.4,0M1433.7,1882.5 a6.2,6.2 0 1,0 12.4,0 a6.2,6.2 0 1,0 -12.4,0M1434.4,1874.1 a6.2,6.2 0 1,0 12.4,0 a6.2,6.2 0 1,0 -12.4,0M1435.2,1865.6 a6.2,6.2 0 1,0 12.4,0 a6.2,6.2 0 1,0 -12.4,0M1436,1857.2 a6.2,6.2 0 1,0 12.4,0 a6.2,6.2 0 1,0 -12.4,0M1436.8,1848.7 a6.2,6.2 0 1,0 12.4,0 a6.2,6.2 0 1,0 -12.4,0M1437.7,1840.2 a6.2,6.2 0 1,0 12.4,0 a6.2,6.2 0 1,0 -12.4,0M1438.5,1831.8 a6.2,6.2 0 1,0 12.4,0 a6.2,6.2 0 1,0 -12.4,0M1439.4,1823.3 a6.2,6.2 0 1,0 12.4,0 a6.2,6.2 0 1,0 -12.4,0M1440.4,1814.9 a6.2,6.2 0 1,0 12.4,0 a6.2,6.2 0 1,0 -12.4,0M1441.4,1806.4 a6.2,6.2 0 1,0 12.4,0 a6.2,6.2 0 1,0 -12.4,0M1442.6,1798 a6.2,6.2 0 1,0 12.4,0 a6.2,6.2 0 1,0 -12.4,0M1443.9,1789.6 a6.2,6.2 0 1,0 12.4,0 a6.2,6.2 0 1,0 -12.4,0M1445.3,1781.2 a6.2,6.2 0 1,0 12.4,0 a6.2,6.2 0 1,0 -12.4,0M1447,1772.9 a6.2,6.2 0 1,0 12.4,0 a6.2,6.2 0 1,0 -12.4,0M1448.9,1764.6 a6.2,6.2 0 1,0 12.4,0 a6.2,6.2 0 1,0 -12.4,0M1451.2,1756.4 a6.2,6.2 0 1,0 12.4,0 a6.2,6.2 0 1,0 -12.4,0M1453.7,1748.3 a6.2,6.2 0 1,0 12.4,0 a6.2,6.2 0 1,0 -12.4,0" fill="#2a72dc"/>
<path d="M1358.9,1743 a1.5,1.5 0 1,0 3,0 a1.5,1.5 0 1,0 -3,0M1361.5,1751.1 a1.5,1.5 0 1,0 3,0 a1.5,1.5 0 1,0 -3,0M1363.9,1759.2 a1.5,1.5 0 1,0 3,0 a1.5,1.5 0 1,0 -3,0M1366,1767.5 a1.5,1.5 0 1,0 3,0 a1.5,1.5 0 1,0 -3,0M1367.7,1775.8 a1.5,1.5 0 1,0 3,0 a1.5,1.5 0 1,0 -3,0M1369.3,1784.2 a1.5,1.5 0 1,0 3,0 a1.5,1.5 0 1,0 -3,0M1370.6,1792.6 a1.5,1.5 0 1,0 3,0 a1.5,1.5 0 1,0 -3,0M1371.8,1801 a1.5,1.5 0 1,0 3,0 a1.5,1.5 0 1,0 -3,0M1372.9,1809.4 a1.5,1.5 0 1,0 3,0 a1.5,1.5 0 1,0 -3,0M1373.9,1817.8 a1.5,1.5 0 1,0 3,0 a1.5,1.5 0 1,0 -3,0M1374.8,1826.3 a1.5,1.5 0 1,0 3,0 a1.5,1.5 0 1,0 -3,0M1375.7,1834.7 a1.5,1.5 0 1,0 3,0 a1.5,1.5 0 1,0 -3,0M1376.5,1843.2 a1.5,1.5 0 1,0 3,0 a1.5,1.5 0 1,0 -3,0M1377.4,1851.7 a1.5,1.5 0 1,0 3,0 a1.5,1.5 0 1,0 -3,0M1378.2,1860.1 a1.5,1.5 0 1,0 3,0 a1.5,1.5 0 1,0 -3,0M1379,1868.6 a1.5,1.5 0 1,0 3,0 a1.5,1.5 0 1,0 -3,0M1379.7,1877.1 a1.5,1.5 0 1,0 3,0 a1.5,1.5 0 1,0 -3,0M1380.5,1885.5 a1.5,1.5 0 1,0 3,0 a1.5,1.5 0 1,0 -3,0M1381.2,1894 a1.5,1.5 0 1,0 3,0 a1.5,1.5 0 1,0 -3,0M1381.9,1902.5 a1.5,1.5 0 1,0 3,0 a1.5,1.5 0 1,0 -3,0M1382.6,1910.9 a1.5,1.5 0 1,0 3,0 a1.5,1.5 0 1,0 -3,0M1383.2,1919.4 a1.5,1.5 0 1,0 3,0 a1.5,1.5 0 1,0 -3,0M1383.9,1927.9 a1.5,1.5 0 1,0 3,0 a1.5,1.5 0 1,0 -3,0M1384.5,1936.4 a1.5,1.5 0 1,0 3,0 a1.5,1.5 0 1,0 -3,0M1385.1,1944.8 a1.5,1.5 0 1,0 3,0 a1.5,1.5 0 1,0 -3,0M1385.7,1953.3 a1.5,1.5 0 1,0 3,0 a1.5,1.5 0 1,0 -3,0M1386.2,1961.8 a1.5,1.5 0 1,0 3,0 a1.5,1.5 0 1,0 -3,0M1386.8,1970.3 a1.5,1.5 0 1,0 3,0 a1.5,1.5 0 1,0 -3,0M1387.3,1978.8 a1.5,1.5 0 1,0 3,0 a1.5,1.5 0 1,0 -3,0M1387.9,1987.3 a1.5,1.5 0 1,0 3,0 a1.5,1.5 0 1,0 -3,0M1388.4,1995.7 a1.5,1.5 0 1,0 3,0 a1.5,1.5 0 1,0 -3,0M1389,2004.2 a1.5,1.5 0 1,0 3,0 a1.5,1.5 0 1,0 -3,0M1389.5,2012.7 a1.5,1.5 0 1,0 3,0 a1.5,1.5 0 1,0 -3,0M1390.1,2021.2 a1.5,1.5 0 1,0 3,0 a1.5,1.5 0 1,0 -3,0M1390.7,2029.7 a1.5,1.5 0 1,0 3,0 a1.5,1.5 0 1,0 -3,0M1391.2,2038.1 a1.5,1.5 0 1,0 3,0 a1.5,1.5 0 1,0 -3,0M1391.8,2046.6 a1.5,1.5 0 1,0 3,0 a1.5,1.5 0 1,0 -3,0M1392.4,2055.1 a1.5,1.5 0 1,0 3,0 a1.5,1.5 0 1,0 -3,0M1393,2063.6 a1.5,1.5 0 1,0 3,0 a1.5,1.5 0 1,0 -3,0M1393.5,2072.1 a1.5,1.5 0 1,0 3,0 a1.5,1.5 0 1,0 -3,0M1394.1,2080.5 a1.5,1.5 0 1,0 3,0 a1.5,1.5 0 1,0 -3,0M1394.7,2089 a1.5,1.5 0 1,0 3,0 a1.5,1.5 0 1,0 -3,0M1395.1,2097.5 a1.5,1.5 0 1,0 3,0 a1.5,1.5 0 1,0 -3,0M1395.5,2106 a1.5,1.5 0 1,0 3,0 a1.5,1.5 0 1,0 -3,0M1395.8,2114.5 a1.5,1.5 0 1,0 3,0 a1.5,1.5 0 1,0 -3,0M1420.9,2118 a1.5,1.5 0 1,0 3,0 a1.5,1.5 0 1,0 -3,0M1421.2,2109.5 a1.5,1.5 0 1,0 3,0 a1.5,1.5 0 1,0 -3,0M1421.5,2101 a1.5,1.5 0 1,0 3,0 a1.5,1.5 0 1,0 -3,0M1421.9,2092.5 a1.5,1.5 0 1,0 3,0 a1.5,1.5 0 1,0 -3,0M1422.5,2084 a1.5,1.5 0 1,0 3,0 a1.5,1.5 0 1,0 -3,0M1423,2075.6 a1.5,1.5 0 1,0 3,0 a1.5,1.5 0 1,0 -3,0M1423.6,2067.1 a1.5,1.5 0 1,0 3,0 a1.5,1.5 0 1,0 -3,0M1424.2,2058.6 a1.5,1.5 0 1,0 3,0 a1.5,1.5 0 1,0 -3,0M1424.8,2050.1 a1.5,1.5 0 1,0 3,0 a1.5,1.5 0 1,0 -3,0M1425.3,2041.6 a1.5,1.5 0 1,0 3,0 a1.5,1.5 0 1,0 -3,0M1425.9,2033.2 a1.5,1.5 0 1,0 3,0 a1.5,1.5 0 1,0 -3,0M1426.5,2024.7 a1.5,1.5 0 1,0 3,0 a1.5,1.5 0 1,0 -3,0M1427,2016.2 a1.5,1.5 0 1,0 3,0 a1.5,1.5 0 1,0 -3,0M1427.6,2007.7 a1.5,1.5 0 1,0 3,0 a1.5,1.5 0 1,0 -3,0M1428.2,1999.2 a1.5,1.5 0 1,0 3,0 a1.5,1.5 0 1,0 -3,0M1428.7,1990.7 a1.5,1.5 0 1,0 3,0 a1.5,1.5 0 1,0 -3,0M1429.3,1982.3 a1.5,1.5 0 1,0 3,0 a1.5,1.5 0 1,0 -3,0M1429.8,1973.8 a1.5,1.5 0 1,0 3,0 a1.5,1.5 0 1,0 -3,0M1430.4,1965.3 a1.5,1.5 0 1,0 3,0 a1.5,1.5 0 1,0 -3,0M1430.9,1956.8 a1.5,1.5 0 1,0 3,0 a1.5,1.5 0 1,0 -3,0M1431.5,1948.3 a1.5,1.5 0 1,0 3,0 a1.5,1.5 0 1,0 -3,0M1432,1939.9 a1.5,1.5 0 1,0 3,0 a1.5,1.5 0 1,0 -3,0M1432.7,1931.4 a1.5,1.5 0 1,0 3,0 a1.5,1.5 0 1,0 -3,0M1433.3,1922.9 a1.5,1.5 0 1,0 3,0 a1.5,1.5 0 1,0 -3,0M1433.9,1914.4 a1.5,1.5 0 1,0 3,0 a1.5,1.5 0 1,0 -3,0M1434.6,1906 a1.5,1.5 0 1,0 3,0 a1.5,1.5 0 1,0 -3,0M1435.3,1897.5 a1.5,1.5 0 1,0 3,0 a1.5,1.5 0 1,0 -3,0M1436,1889 a1.5,1.5 0 1,0 3,0 a1.5,1.5 0 1,0 -3,0M1436.8,1880.5 a1.5,1.5 0 1,0 3,0 a1.5,1.5 0 1,0 -3,0M1437.5,1872.1 a1.5,1.5 0 1,0 3,0 a1.5,1.5 0 1,0 -3,0M1438.3,1863.6 a1.5,1.5 0 1,0 3,0 a1.5,1.5 0 1,0 -3,0M1439.1,1855.2 a1.5,1.5 0 1,0 3,0 a1.5,1.5 0 1,0 -3,0M1439.9,1846.7 a1.5,1.5 0 1,0 3,0 a1.5,1.5 0 1,0 -3,0M1440.8,1838.2 a1.5,1.5 0 1,0 3,0 a1.5,1.5 0 1,0 -3,0M1441.6,1829.8 a1.5,1.5 0 1,0 3,0 a1.5,1.5 0 1,0 -3,0M1442.5,1821.3 a1.5,1.5 0 1,0 3,0 a1.5,1.5 0 1,0 -3,0M1443.5,1812.9 a1.5,1.5 0 1,0 3,0 a1.5,1.5 0 1,0 -3,0M1444.5,1804.4 a1.5,1.5 0 1,0 3,0 a1.5,1.5 0 1,0 -3,0M1445.7,1796 a1.5,1.5 0 1,0 3,0 a1.5,1.5 0 1,0 -3,0M1447,1787.6 a1.5,1.5 0 1,0 3,0 a1.5,1.5 0 1,0 -3,0M1448.4,1779.2 a1.5,1.5 0 1,0 3,0 a1.5,1.5 0 1,0 -3,0M1450.1,1770.9 a1.5,1.5 0 1,0 3,0 a1.5,1.5 0 1,0 -3,0M1452,1762.6 a1.5,1.5 0 1,0 3,0 a1.5,1.5 0 1,0 -3,0M1454.3,1754.4 a1.5,1.5 0 1,0 3,0 a1.5,1.5 0 1,0 -3,0M1456.8,1746.3 a1.5,1.5 0 1,0 3,0 a1.5,1.5 0 1,0 -3,0" fill="#cfe0fb" fill-opacity="0.8"/>
<path d="M1372,2150 L1392,2118 L1401,2118 L1394,2152 L1430,2152 L1422,2118 L1431,2118 L1451,2150 V2162 H1372Z" fill="#2a72dc"/>
<path d="M1343.9,1660 a6.8,6.8 0 1,0 13.6,0 a6.8,6.8 0 1,0 -13.6,0M1352.5,1679.7 a6.8,6.8 0 1,0 13.6,0 a6.8,6.8 0 1,0 -13.6,0M1359.9,1694.5 a6.8,6.8 0 1,0 13.6,0 a6.8,6.8 0 1,0 -13.6,0M1466.2,1651 a6.8,6.8 0 1,0 13.6,0 a6.8,6.8 0 1,0 -13.6,0M1456.2,1681 a6.8,6.8 0 1,0 13.6,0 a6.8,6.8 0 1,0 -13.6,0M1448.9,1703 a6.8,6.8 0 1,0 13.6,0 a6.8,6.8 0 1,0 -13.6,0M1334.2,1712 a6.8,6.8 0 1,0 13.6,0 a6.8,6.8 0 1,0 -13.6,0M1451.2,1718 a6.8,6.8 0 1,0 13.6,0 a6.8,6.8 0 1,0 -13.6,0M1323.2,1732 a6.8,6.8 0 1,0 13.6,0 a6.8,6.8 0 1,0 -13.6,0M1330.2,1742 a6.8,6.8 0 1,0 13.6,0 a6.8,6.8 0 1,0 -13.6,0M1339.2,1752 a6.8,6.8 0 1,0 13.6,0 a6.8,6.8 0 1,0 -13.6,0M1345.2,1768 a6.8,6.8 0 1,0 13.6,0 a6.8,6.8 0 1,0 -13.6,0M1352.2,1760 a6.8,6.8 0 1,0 13.6,0 a6.8,6.8 0 1,0 -13.6,0M1361.2,1742 a6.8,6.8 0 1,0 13.6,0 a6.8,6.8 0 1,0 -13.6,0M1365.2,1762 a6.8,6.8 0 1,0 13.6,0 a6.8,6.8 0 1,0 -13.6,0M1372.2,1740 a6.8,6.8 0 1,0 13.6,0 a6.8,6.8 0 1,0 -13.6,0M1486.2,1732 a6.8,6.8 0 1,0 13.6,0 a6.8,6.8 0 1,0 -13.6,0M1479.2,1742 a6.8,6.8 0 1,0 13.6,0 a6.8,6.8 0 1,0 -13.6,0M1470.2,1752 a6.8,6.8 0 1,0 13.6,0 a6.8,6.8 0 1,0 -13.6,0M1464.2,1768 a6.8,6.8 0 1,0 13.6,0 a6.8,6.8 0 1,0 -13.6,0M1455.2,1760 a6.8,6.8 0 1,0 13.6,0 a6.8,6.8 0 1,0 -13.6,0M1448.2,1742 a6.8,6.8 0 1,0 13.6,0 a6.8,6.8 0 1,0 -13.6,0M1443.2,1762 a6.8,6.8 0 1,0 13.6,0 a6.8,6.8 0 1,0 -13.6,0M1437.2,1740 a6.8,6.8 0 1,0 13.6,0 a6.8,6.8 0 1,0 -13.6,0M1489.2,1750 a6.8,6.8 0 1,0 13.6,0 a6.8,6.8 0 1,0 -13.6,0M1496.2,1740 a6.8,6.8 0 1,0 13.6,0 a6.8,6.8 0 1,0 -13.6,0" fill="#2a72dc"/>
<path d="M1347.1,1657.8 a1.8,1.8 0 1,0 3.6,0 a1.8,1.8 0 1,0 -3.6,0M1355.7,1677.5 a1.8,1.8 0 1,0 3.6,0 a1.8,1.8 0 1,0 -3.6,0M1363.1,1692.3 a1.8,1.8 0 1,0 3.6,0 a1.8,1.8 0 1,0 -3.6,0M1469.4,1648.8 a1.8,1.8 0 1,0 3.6,0 a1.8,1.8 0 1,0 -3.6,0M1459.4,1678.8 a1.8,1.8 0 1,0 3.6,0 a1.8,1.8 0 1,0 -3.6,0M1452.1,1700.8 a1.8,1.8 0 1,0 3.6,0 a1.8,1.8 0 1,0 -3.6,0M1337.4,1709.8 a1.8,1.8 0 1,0 3.6,0 a1.8,1.8 0 1,0 -3.6,0M1454.4,1715.8 a1.8,1.8 0 1,0 3.6,0 a1.8,1.8 0 1,0 -3.6,0M1326.4,1729.8 a1.8,1.8 0 1,0 3.6,0 a1.8,1.8 0 1,0 -3.6,0M1333.4,1739.8 a1.8,1.8 0 1,0 3.6,0 a1.8,1.8 0 1,0 -3.6,0M1342.4,1749.8 a1.8,1.8 0 1,0 3.6,0 a1.8,1.8 0 1,0 -3.6,0M1348.4,1765.8 a1.8,1.8 0 1,0 3.6,0 a1.8,1.8 0 1,0 -3.6,0M1355.4,1757.8 a1.8,1.8 0 1,0 3.6,0 a1.8,1.8 0 1,0 -3.6,0M1364.4,1739.8 a1.8,1.8 0 1,0 3.6,0 a1.8,1.8 0 1,0 -3.6,0M1368.4,1759.8 a1.8,1.8 0 1,0 3.6,0 a1.8,1.8 0 1,0 -3.6,0M1375.4,1737.8 a1.8,1.8 0 1,0 3.6,0 a1.8,1.8 0 1,0 -3.6,0M1489.4,1729.8 a1.8,1.8 0 1,0 3.6,0 a1.8,1.8 0 1,0 -3.6,0M1482.4,1739.8 a1.8,1.8 0 1,0 3.6,0 a1.8,1.8 0 1,0 -3.6,0M1473.4,1749.8 a1.8,1.8 0 1,0 3.6,0 a1.8,1.8 0 1,0 -3.6,0M1467.4,1765.8 a1.8,1.8 0 1,0 3.6,0 a1.8,1.8 0 1,0 -3.6,0M1458.4,1757.8 a1.8,1.8 0 1,0 3.6,0 a1.8,1.8 0 1,0 -3.6,0M1451.4,1739.8 a1.8,1.8 0 1,0 3.6,0 a1.8,1.8 0 1,0 -3.6,0M1446.4,1759.8 a1.8,1.8 0 1,0 3.6,0 a1.8,1.8 0 1,0 -3.6,0M1440.4,1737.8 a1.8,1.8 0 1,0 3.6,0 a1.8,1.8 0 1,0 -3.6,0M1492.4,1747.8 a1.8,1.8 0 1,0 3.6,0 a1.8,1.8 0 1,0 -3.6,0M1499.4,1737.8 a1.8,1.8 0 1,0 3.6,0 a1.8,1.8 0 1,0 -3.6,0" fill="#cfe0fb"/>
<path d="M1051,1883 L1052.9,1887.5 L1057.7,1887.8 L1054,1891 L1055.1,1895.7 L1051,1893.2 L1046.9,1895.7 L1048,1891 L1044.3,1887.8 L1049.1,1887.5ZM1054.2,1883 L1056.1,1887.5 L1060.9,1887.9 L1057.2,1891 L1058.3,1895.7 L1054.2,1893.2 L1050.1,1895.7 L1051.2,1891 L1047.5,1887.9 L1052.3,1887.5ZM1057.4,1883 L1059.3,1887.5 L1064.1,1887.9 L1060.4,1891 L1061.5,1895.7 L1057.4,1893.2 L1053.3,1895.7 L1054.4,1891 L1050.7,1887.9 L1055.5,1887.5ZM1060.6,1883 L1062.5,1887.5 L1067.3,1887.9 L1063.6,1891 L1064.7,1895.7 L1060.6,1893.2 L1056.5,1895.7 L1057.6,1891 L1053.9,1887.9 L1058.7,1887.5ZM1063.8,1883.1 L1065.7,1887.5 L1070.5,1887.9 L1066.8,1891 L1067.9,1895.7 L1063.8,1893.2 L1059.7,1895.7 L1060.8,1891 L1057.1,1887.9 L1061.9,1887.5ZM1067,1883.1 L1068.9,1887.5 L1073.7,1887.9 L1070,1891 L1071.1,1895.7 L1067,1893.2 L1062.9,1895.7 L1064,1891 L1060.3,1887.9 L1065.1,1887.5ZM1070.2,1883.1 L1072.1,1887.5 L1076.9,1887.9 L1073.2,1891 L1074.3,1895.7 L1070.2,1893.2 L1066.1,1895.7 L1067.2,1891 L1063.5,1887.9 L1068.3,1887.5ZM1073.4,1883.1 L1075.3,1887.5 L1080.1,1887.9 L1076.4,1891 L1077.5,1895.7 L1073.4,1893.2 L1069.3,1895.7 L1070.4,1891 L1066.7,1887.9 L1071.5,1887.5ZM1076.6,1883.1 L1078.5,1887.5 L1083.3,1887.9 L1079.6,1891.1 L1080.7,1895.7 L1076.6,1893.2 L1072.5,1895.7 L1073.6,1891.1 L1069.9,1887.9 L1074.7,1887.5ZM1079.8,1883.1 L1081.7,1887.5 L1086.5,1887.9 L1082.8,1891.1 L1083.9,1895.8 L1079.8,1893.2 L1075.7,1895.8 L1076.8,1891.1 L1073.1,1887.9 L1077.9,1887.5ZM1083,1883.1 L1084.9,1887.5 L1089.7,1887.9 L1086,1891.1 L1087.1,1895.8 L1083,1893.2 L1078.9,1895.8 L1080,1891.1 L1076.3,1887.9 L1081.1,1887.5ZM1086.2,1883.1 L1088.1,1887.6 L1092.9,1887.9 L1089.2,1891.1 L1090.3,1895.8 L1086.2,1893.3 L1082.1,1895.8 L1083.2,1891.1 L1079.5,1887.9 L1084.3,1887.6ZM1089.4,1883.1 L1091.3,1887.6 L1096.1,1887.9 L1092.4,1891.1 L1093.5,1895.8 L1089.4,1893.3 L1085.3,1895.8 L1086.4,1891.1 L1082.7,1887.9 L1087.5,1887.6ZM1092.6,1883.1 L1094.5,1887.6 L1099.3,1888 L1095.6,1891.1 L1096.7,1895.8 L1092.6,1893.3 L1088.5,1895.8 L1089.6,1891.1 L1085.9,1888 L1090.7,1887.6ZM1095.8,1883.1 L1097.7,1887.6 L1102.5,1888 L1098.8,1891.1 L1099.9,1895.8 L1095.8,1893.3 L1091.7,1895.8 L1092.8,1891.1 L1089.1,1888 L1093.9,1887.6ZM1099,1883.1 L1100.9,1887.6 L1105.7,1888 L1102,1891.1 L1103.1,1895.8 L1099,1893.3 L1094.9,1895.8 L1096,1891.1 L1092.3,1888 L1097.1,1887.6ZM1102.2,1883.1 L1104.1,1887.6 L1108.9,1888 L1105.2,1891.1 L1106.3,1895.8 L1102.2,1893.3 L1098.1,1895.8 L1099.2,1891.1 L1095.5,1888 L1100.3,1887.6ZM1105.4,1883.1 L1107.3,1887.6 L1112.1,1888 L1108.4,1891.1 L1109.5,1895.8 L1105.4,1893.3 L1101.3,1895.8 L1102.4,1891.1 L1098.7,1888 L1103.5,1887.6ZM1108.6,1883.2 L1110.5,1887.6 L1115.3,1888 L1111.6,1891.1 L1112.7,1895.8 L1108.6,1893.3 L1104.5,1895.8 L1105.6,1891.1 L1101.9,1888 L1106.7,1887.6ZM1111.8,1883.2 L1113.7,1887.6 L1118.5,1888 L1114.8,1891.1 L1115.9,1895.8 L1111.8,1893.3 L1107.7,1895.8 L1108.8,1891.1 L1105.1,1888 L1109.9,1887.6ZM1115,1883.2 L1116.9,1887.6 L1121.7,1888 L1118,1891.1 L1119.1,1895.8 L1115,1893.3 L1110.9,1895.8 L1112,1891.1 L1108.3,1888 L1113.1,1887.6ZM1118.2,1883.2 L1120.1,1887.6 L1124.9,1888 L1121.2,1891.2 L1122.3,1895.8 L1118.2,1893.3 L1114.1,1895.8 L1115.2,1891.2 L1111.5,1888 L1116.3,1887.6ZM1121.4,1883.2 L1123.3,1887.6 L1128.1,1888 L1124.4,1891.2 L1125.5,1895.9 L1121.4,1893.3 L1117.3,1895.9 L1118.4,1891.2 L1114.7,1888 L1119.5,1887.6ZM1124.6,1883.2 L1126.5,1887.7 L1131.3,1888 L1127.6,1891.2 L1128.7,1895.9 L1124.6,1893.4 L1120.5,1895.9 L1121.6,1891.2 L1117.9,1888 L1122.7,1887.7ZM1127.8,1883.2 L1129.7,1887.7 L1134.5,1888.1 L1130.8,1891.2 L1131.9,1895.9 L1127.8,1893.4 L1123.7,1895.9 L1124.8,1891.2 L1121.1,1888.1 L1125.9,1887.7ZM1131,1883.2 L1132.9,1887.7 L1137.7,1888.1 L1134,1891.2 L1135.1,1895.9 L1131,1893.4 L1126.9,1895.9 L1128,1891.2 L1124.3,1888.1 L1129.1,1887.7ZM1134.2,1883.3 L1136.1,1887.7 L1140.9,1888.1 L1137.2,1891.2 L1138.3,1895.9 L1134.2,1893.4 L1130.1,1895.9 L1131.2,1891.2 L1127.5,1888.1 L1132.3,1887.7ZM1137.4,1883.3 L1139.3,1887.7 L1144.1,1888.1 L1140.4,1891.2 L1141.5,1895.9 L1137.4,1893.4 L1133.3,1895.9 L1134.4,1891.2 L1130.7,1888.1 L1135.5,1887.7ZM1140.6,1883.3 L1142.5,1887.7 L1147.3,1888.1 L1143.6,1891.3 L1144.7,1896 L1140.6,1893.4 L1136.5,1896 L1137.6,1891.3 L1133.9,1888.1 L1138.7,1887.7ZM1143.8,1883.3 L1145.7,1887.8 L1150.5,1888.1 L1146.8,1891.3 L1147.9,1896 L1143.8,1893.5 L1139.7,1896 L1140.8,1891.3 L1137.1,1888.1 L1141.9,1887.8ZM1147,1883.3 L1148.9,1887.8 L1153.7,1888.2 L1150,1891.3 L1151.1,1896 L1147,1893.5 L1142.9,1896 L1144,1891.3 L1140.3,1888.2 L1145.1,1887.8ZM1150.2,1883.3 L1152.1,1887.8 L1156.9,1888.2 L1153.2,1891.3 L1154.3,1896 L1150.2,1893.5 L1146.1,1896 L1147.2,1891.3 L1143.5,1888.2 L1148.3,1887.8ZM1153.4,1883.4 L1155.3,1887.8 L1160.1,1888.2 L1156.4,1891.3 L1157.5,1896 L1153.4,1893.5 L1149.3,1896 L1150.4,1891.3 L1146.7,1888.2 L1151.5,1887.8ZM1156.6,1883.4 L1158.5,1887.8 L1163.3,1888.2 L1159.6,1891.4 L1160.7,1896.1 L1156.6,1893.5 L1152.5,1896.1 L1153.6,1891.4 L1149.9,1888.2 L1154.7,1887.8ZM1159.8,1883.4 L1161.7,1887.9 L1166.5,1888.3 L1162.8,1891.4 L1163.9,1896.1 L1159.8,1893.6 L1155.7,1896.1 L1156.8,1891.4 L1153.1,1888.3 L1157.9,1887.9ZM1163,1883.4 L1164.9,1887.9 L1169.7,1888.3 L1166,1891.4 L1167.1,1896.1 L1163,1893.6 L1158.9,1896.1 L1160,1891.4 L1156.3,1888.3 L1161.1,1887.9ZM1166.2,1883.5 L1168.1,1887.9 L1172.9,1888.3 L1169.2,1891.5 L1170.3,1896.1 L1166.2,1893.6 L1162.1,1896.1 L1163.2,1891.5 L1159.5,1888.3 L1164.3,1887.9ZM1169.4,1883.5 L1171.3,1888 L1176.1,1888.4 L1172.4,1891.5 L1173.5,1896.2 L1169.4,1893.7 L1165.3,1896.2 L1166.4,1891.5 L1162.7,1888.4 L1167.5,1888ZM1172.6,1883.6 L1174.4,1888 L1179.3,1888.4 L1175.6,1891.5 L1176.7,1896.2 L1172.6,1893.7 L1168.5,1896.2 L1169.6,1891.5 L1165.9,1888.4 L1170.7,1888ZM1175.8,1883.6 L1177.6,1888 L1182.5,1888.4 L1178.8,1891.6 L1179.9,1896.2 L1175.8,1893.7 L1171.7,1896.2 L1172.8,1891.6 L1169.1,1888.4 L1173.9,1888ZM1179,1883.6 L1180.8,1888.1 L1185.7,1888.5 L1182,1891.6 L1183.1,1896.3 L1179,1893.8 L1174.9,1896.3 L1176,1891.6 L1172.3,1888.5 L1177.1,1888.1ZM1182.2,1883.7 L1184,1888.1 L1188.9,1888.5 L1185.2,1891.7 L1186.3,1896.3 L1182.2,1893.8 L1178.1,1896.3 L1179.2,1891.7 L1175.5,1888.5 L1180.3,1888.1ZM1185.4,1883.7 L1187.2,1888.2 L1192.1,1888.6 L1188.4,1891.7 L1189.5,1896.4 L1185.4,1893.9 L1181.3,1896.4 L1182.4,1891.7 L1178.7,1888.6 L1183.5,1888.2ZM1188.6,1883.8 L1190.4,1888.2 L1195.3,1888.6 L1191.6,1891.7 L1192.7,1896.4 L1188.6,1893.9 L1184.5,1896.4 L1185.6,1891.7 L1181.9,1888.6 L1186.7,1888.2ZM1191.8,1883.8 L1193.6,1888.3 L1198.5,1888.7 L1194.8,1891.8 L1195.9,1896.5 L1191.8,1894 L1187.7,1896.5 L1188.8,1891.8 L1185.1,1888.7 L1189.9,1888.3ZM1195,1883.9 L1196.8,1888.4 L1201.7,1888.7 L1198,1891.9 L1199.1,1896.6 L1195,1894 L1190.9,1896.6 L1192,1891.9 L1188.3,1888.7 L1193.1,1888.4ZM1198.2,1884 L1200,1888.4 L1204.9,1888.8 L1201.2,1891.9 L1202.3,1896.6 L1198.2,1894.1 L1194.1,1896.6 L1195.2,1891.9 L1191.5,1888.8 L1196.3,1888.4ZM1201.4,1884 L1203.2,1888.5 L1208.1,1888.9 L1204.4,1892 L1205.5,1896.7 L1201.4,1894.2 L1197.3,1896.7 L1198.4,1892 L1194.7,1888.9 L1199.5,1888.5ZM1204.6,1884.1 L1206.4,1888.6 L1211.3,1889 L1207.6,1892.1 L1208.7,1896.8 L1204.6,1894.3 L1200.5,1896.8 L1201.6,1892.1 L1197.9,1889 L1202.7,1888.6ZM1207.8,1884.2 L1209.6,1888.7 L1214.4,1889 L1210.8,1892.2 L1211.9,1896.9 L1207.8,1894.4 L1203.7,1896.9 L1204.8,1892.2 L1201.1,1889 L1205.9,1888.7ZM1211,1884.3 L1212.8,1888.7 L1217.6,1889.1 L1214,1892.3 L1215.1,1897 L1211,1894.4 L1206.9,1897 L1208,1892.3 L1204.3,1889.1 L1209.1,1888.7ZM1214.2,1884.4 L1216,1888.8 L1220.8,1889.2 L1217.2,1892.4 L1218.3,1897 L1214.2,1894.5 L1210.1,1897 L1211.2,1892.4 L1207.5,1889.2 L1212.3,1888.8ZM1217.4,1884.5 L1219.2,1888.9 L1224,1889.3 L1220.4,1892.4 L1221.5,1897.1 L1217.4,1894.6 L1213.3,1897.1 L1214.4,1892.4 L1210.7,1889.3 L1215.5,1888.9ZM1220.6,1884.6 L1222.4,1889 L1227.2,1889.4 L1223.6,1892.5 L1224.7,1897.2 L1220.6,1894.7 L1216.5,1897.2 L1217.6,1892.5 L1213.9,1889.4 L1218.7,1889ZM1223.8,1884.7 L1225.6,1889.1 L1230.4,1889.5 L1226.8,1892.7 L1227.9,1897.3 L1223.8,1894.8 L1219.7,1897.3 L1220.8,1892.7 L1217.1,1889.5 L1221.9,1889.1ZM1227,1884.8 L1228.8,1889.2 L1233.6,1889.6 L1230,1892.8 L1231.1,1897.4 L1227,1894.9 L1222.9,1897.4 L1224,1892.8 L1220.3,1889.6 L1225.1,1889.2ZM1230.2,1884.9 L1232,1889.3 L1236.8,1889.7 L1233.2,1892.9 L1234.3,1897.6 L1230.2,1895 L1226.1,1897.6 L1227.2,1892.9 L1223.5,1889.7 L1228.3,1889.3ZM1233.4,1885 L1235.2,1889.5 L1240,1889.9 L1236.4,1893 L1237.5,1897.7 L1233.4,1895.2 L1229.3,1897.7 L1230.4,1893 L1226.7,1889.9 L1231.5,1889.5ZM1236.6,1885.1 L1238.4,1889.6 L1243.2,1890 L1239.6,1893.1 L1240.7,1897.8 L1236.6,1895.3 L1232.5,1897.8 L1233.6,1893.1 L1229.9,1890 L1234.7,1889.6ZM1239.8,1885.3 L1241.6,1889.7 L1246.4,1890.1 L1242.8,1893.2 L1243.9,1897.9 L1239.8,1895.4 L1235.7,1897.9 L1236.8,1893.2 L1233.1,1890.1 L1237.9,1889.7ZM1243,1885.4 L1244.8,1889.8 L1249.6,1890.2 L1246,1893.4 L1247.1,1898.1 L1243,1895.5 L1238.9,1898.1 L1240,1893.4 L1236.3,1890.2 L1241.1,1889.8ZM1246.2,1885.5 L1248,1890 L1252.8,1890.4 L1249.2,1893.5 L1250.3,1898.2 L1246.2,1895.7 L1242.1,1898.2 L1243.2,1893.5 L1239.5,1890.4 L1244.3,1890ZM1249.4,1885.7 L1251.2,1890.1 L1256,1890.5 L1252.4,1893.6 L1253.5,1898.3 L1249.4,1895.8 L1245.3,1898.3 L1246.4,1893.6 L1242.7,1890.5 L1247.5,1890.1ZM1252.6,1885.8 L1254.4,1890.3 L1259.2,1890.7 L1255.6,1893.8 L1256.7,1898.5 L1252.6,1896 L1248.4,1898.5 L1249.6,1893.8 L1245.9,1890.7 L1250.7,1890.3ZM1255.8,1886 L1257.6,1890.4 L1262.4,1890.8 L1258.8,1894 L1259.9,1898.6 L1255.8,1896.1 L1251.6,1898.6 L1252.8,1894 L1249.1,1890.8 L1253.9,1890.4ZM1259,1886.1 L1260.8,1890.6 L1265.6,1891 L1261.9,1894.1 L1263.1,1898.8 L1259,1896.3 L1254.8,1898.8 L1256,1894.1 L1252.3,1891 L1257.1,1890.6ZM1262.1,1886.3 L1264,1890.8 L1268.8,1891.1 L1265.1,1894.3 L1266.3,1899 L1262.1,1896.5 L1258,1899 L1259.2,1894.3 L1255.5,1891.1 L1260.3,1890.8ZM1265.3,1886.5 L1267.2,1890.9 L1272,1891.3 L1268.3,1894.5 L1269.5,1899.1 L1265.3,1896.6 L1261.2,1899.1 L1262.3,1894.5 L1258.7,1891.3 L1263.5,1890.9ZM1268.5,1886.7 L1270.4,1891.1 L1275.2,1891.5 L1271.5,1894.6 L1272.7,1899.3 L1268.5,1896.8 L1264.4,1899.3 L1265.5,1894.6 L1261.9,1891.5 L1266.7,1891.1ZM1271.7,1886.9 L1273.6,1891.3 L1278.4,1891.7 L1274.7,1894.8 L1275.8,1899.5 L1271.7,1897 L1267.6,1899.5 L1268.7,1894.8 L1265.1,1891.7 L1269.9,1891.3ZM1274.9,1887.1 L1276.8,1891.5 L1281.6,1891.9 L1277.9,1895 L1279,1899.7 L1274.9,1897.2 L1270.8,1899.7 L1271.9,1895 L1268.3,1891.9 L1273.1,1891.5ZM1278.1,1887.3 L1280,1891.7 L1284.8,1892.1 L1281.1,1895.2 L1282.2,1899.9 L1278.1,1897.4 L1274,1899.9 L1275.1,1895.2 L1271.5,1892.1 L1276.3,1891.7ZM1281.3,1887.5 L1283.2,1891.9 L1288,1892.3 L1284.3,1895.5 L1285.4,1900.2 L1281.3,1897.6 L1277.2,1900.2 L1278.3,1895.5 L1274.7,1892.3 L1279.5,1891.9ZM1284.5,1887.7 L1286.4,1892.2 L1291.2,1892.6 L1287.5,1895.7 L1288.6,1900.4 L1284.5,1897.9 L1280.4,1900.4 L1281.5,1895.7 L1277.8,1892.6 L1282.7,1892.2ZM1287.7,1888 L1289.5,1892.4 L1294.4,1892.8 L1290.7,1895.9 L1291.8,1900.6 L1287.7,1898.1 L1283.6,1900.6 L1284.7,1895.9 L1281,1892.8 L1285.8,1892.4ZM1290.9,1888.2 L1292.7,1892.7 L1297.5,1893 L1293.9,1896.2 L1295,1900.9 L1290.9,1898.4 L1286.8,1900.9 L1287.9,1896.2 L1284.2,1893 L1289,1892.7ZM1294.1,1888.5 L1295.9,1892.9 L1300.7,1893.3 L1297.1,1896.4 L1298.2,1901.1 L1294.1,1898.6 L1290,1901.1 L1291.1,1896.4 L1287.4,1893.3 L1292.2,1892.9ZM1297.3,1888.8 L1299.1,1893.2 L1303.9,1893.6 L1300.3,1896.7 L1301.4,1901.4 L1297.3,1898.9 L1293.1,1901.4 L1294.3,1896.7 L1290.6,1893.6 L1295.4,1893.2ZM1300.4,1889 L1302.3,1893.5 L1307.1,1893.9 L1303.4,1897 L1304.6,1901.7 L1300.4,1899.2 L1296.3,1901.7 L1297.5,1897 L1293.8,1893.9 L1298.6,1893.5ZM1303.6,1889.4 L1305.5,1893.8 L1310.3,1894.2 L1306.6,1897.3 L1307.7,1902 L1303.6,1899.5 L1299.5,1902 L1300.6,1897.3 L1297,1894.2 L1301.8,1893.8ZM1306.8,1889.7 L1308.7,1894.1 L1313.5,1894.5 L1309.8,1897.7 L1310.9,1902.3 L1306.8,1899.8 L1302.7,1902.3 L1303.8,1897.7 L1300.2,1894.5 L1305,1894.1ZM1310,1890 L1311.9,1894.5 L1316.7,1894.9 L1313,1898 L1314.1,1902.7 L1310,1900.2 L1305.9,1902.7 L1307,1898 L1303.3,1894.9 L1308.1,1894.5ZM1313.2,1890.4 L1315,1894.8 L1319.8,1895.2 L1316.2,1898.4 L1317.3,1903 L1313.2,1900.5 L1309.1,1903 L1310.2,1898.4 L1306.5,1895.2 L1311.3,1894.8ZM1316.4,1890.8 L1318.2,1895.2 L1323,1895.6 L1319.4,1898.7 L1320.5,1903.4 L1316.4,1900.9 L1312.2,1903.4 L1313.4,1898.7 L1309.7,1895.6 L1314.5,1895.2ZM1319.5,1891.2 L1321.4,1895.6 L1326.2,1896 L1322.5,1899.2 L1323.6,1903.9 L1319.5,1901.3 L1315.4,1903.9 L1316.5,1899.2 L1312.9,1896 L1317.7,1895.6ZM1322.7,1891.6 L1324.5,1896.1 L1329.4,1896.5 L1325.7,1899.6 L1326.8,1904.3 L1322.7,1901.8 L1318.6,1904.3 L1319.7,1899.6 L1316,1896.5 L1320.8,1896.1ZM1325.9,1892.1 L1327.7,1896.6 L1332.5,1897 L1328.9,1900.1 L1330,1904.8 L1325.9,1902.3 L1321.7,1904.8 L1322.9,1900.1 L1319.2,1897 L1324,1896.6ZM1329,1892.7 L1330.9,1897.1 L1335.7,1897.5 L1332,1900.6 L1333.1,1905.3 L1329,1902.8 L1324.9,1905.3 L1326,1900.6 L1322.4,1897.5 L1327.2,1897.1ZM1332.2,1893.3 L1334,1897.7 L1338.8,1898.1 L1335.1,1901.3 L1336.3,1905.9 L1332.2,1903.4 L1328,1905.9 L1329.2,1901.3 L1325.5,1898.1 L1330.3,1897.7ZM1335.3,1894 L1337.1,1898.4 L1341.9,1898.8 L1338.3,1901.9 L1339.4,1906.6 L1335.3,1904.1 L1331.2,1906.6 L1332.3,1901.9 L1328.6,1898.8 L1333.4,1898.4ZM1338.4,1894.7 L1340.2,1899.2 L1345,1899.5 L1341.4,1902.7 L1342.5,1907.4 L1338.4,1904.9 L1334.3,1907.4 L1335.4,1902.7 L1331.7,1899.5 L1336.5,1899.2ZM1341.5,1895.5 L1343.3,1900 L1348.1,1900.4 L1344.5,1903.5 L1345.6,1908.2 L1341.5,1905.7 L1337.4,1908.2 L1338.5,1903.5 L1334.8,1900.4 L1339.6,1900ZM1344.5,1896.5 L1346.4,1900.9 L1351.2,1901.3 L1347.5,1904.4 L1348.7,1909.1 L1344.5,1906.6 L1340.4,1909.1 L1341.5,1904.4 L1337.9,1901.3 L1342.7,1900.9ZM1347.6,1897.5 L1349.4,1901.9 L1354.2,1902.3 L1350.6,1905.5 L1351.7,1910.2 L1347.6,1907.6 L1343.5,1910.2 L1344.6,1905.5 L1340.9,1902.3 L1345.7,1901.9ZM1350.6,1898.6 L1352.4,1903.1 L1357.2,1903.5 L1353.6,1906.6 L1354.7,1911.3 L1350.6,1908.8 L1346.4,1911.3 L1347.6,1906.6 L1343.9,1903.5 L1348.7,1903.1ZM1353.5,1900 L1355.3,1904.5 L1360.1,1904.8 L1356.4,1908 L1357.6,1912.7 L1353.5,1910.2 L1349.3,1912.7 L1350.5,1908 L1346.8,1904.8 L1351.6,1904.5ZM1356.2,1901.6 L1358.1,1906.1 L1362.9,1906.4 L1359.2,1909.6 L1360.3,1914.3 L1356.2,1911.8 L1352.1,1914.3 L1353.2,1909.6 L1349.6,1906.4 L1354.4,1906.1ZM1358.8,1903.5 L1360.7,1907.9 L1365.5,1908.3 L1361.8,1911.5 L1362.9,1916.1 L1358.8,1913.6 L1354.7,1916.1 L1355.8,1911.5 L1352.2,1908.3 L1357,1907.9ZM1361.2,1905.6 L1363.1,1910 L1367.9,1910.4 L1364.2,1913.6 L1365.3,1918.2 L1361.2,1915.7 L1357.1,1918.2 L1358.2,1913.6 L1354.6,1910.4 L1359.4,1910ZM1363.5,1907.8 L1365.3,1912.3 L1370.1,1912.7 L1366.5,1915.8 L1367.6,1920.5 L1363.5,1918 L1359.4,1920.5 L1360.5,1915.8 L1356.8,1912.7 L1361.6,1912.3ZM1365.6,1910.2 L1367.5,1914.7 L1372.3,1915.1 L1368.6,1918.2 L1369.7,1922.9 L1365.6,1920.4 L1361.5,1922.9 L1362.6,1918.2 L1359,1915.1 L1363.8,1914.7ZM1367.7,1912.6 L1369.6,1917.1 L1374.4,1917.5 L1370.7,1920.6 L1371.9,1925.3 L1367.7,1922.8 L1363.6,1925.3 L1364.7,1920.6 L1361.1,1917.5 L1365.9,1917.1ZM1369.9,1914.9 L1371.8,1919.4 L1376.6,1919.8 L1372.9,1922.9 L1374.1,1927.6 L1369.9,1925.1 L1365.8,1927.6 L1366.9,1922.9 L1363.3,1919.8 L1368.1,1919.4ZM1372.2,1917.2 L1374.1,1921.6 L1378.9,1922 L1375.2,1925.1 L1376.4,1929.8 L1372.2,1927.3 L1368.1,1929.8 L1369.2,1925.1 L1365.6,1922 L1370.4,1921.6ZM1374.5,1919.4 L1376.4,1923.9 L1381.2,1924.3 L1377.5,1927.4 L1378.6,1932.1 L1374.5,1929.6 L1370.4,1932.1 L1371.5,1927.4 L1367.9,1924.3 L1372.7,1923.9ZM1376.7,1921.8 L1378.5,1926.2 L1383.3,1926.6 L1379.7,1929.8 L1380.8,1934.5 L1376.7,1931.9 L1372.6,1934.5 L1373.7,1929.8 L1370,1926.6 L1374.8,1926.2ZM1378.6,1924.3 L1380.5,1928.8 L1385.3,1929.2 L1381.6,1932.3 L1382.7,1937 L1378.6,1934.5 L1374.5,1937 L1375.6,1932.3 L1372,1929.2 L1376.8,1928.8ZM1380.4,1927 L1382.2,1931.5 L1387,1931.8 L1383.4,1935 L1384.5,1939.7 L1380.4,1937.2 L1376.2,1939.7 L1377.4,1935 L1373.7,1931.8 L1378.5,1931.5ZM1381.9,1929.8 L1383.8,1934.3 L1388.6,1934.6 L1384.9,1937.8 L1386,1942.5 L1381.9,1940 L1377.8,1942.5 L1378.9,1937.8 L1375.2,1934.6 L1380,1934.3ZM1383.3,1932.7 L1385.1,1937.1 L1389.9,1937.5 L1386.3,1940.7 L1387.4,1945.4 L1383.3,1942.8 L1379.2,1945.4 L1380.3,1940.7 L1376.6,1937.5 L1381.4,1937.1ZM1384.6,1935.6 L1386.4,1940.1 L1391.2,1940.5 L1387.5,1943.6 L1388.7,1948.3 L1384.6,1945.8 L1380.4,1948.3 L1381.6,1943.6 L1377.9,1940.5 L1382.7,1940.1ZM1385.7,1938.6 L1387.6,1943.1 L1392.4,1943.4 L1388.7,1946.6 L1389.8,1951.3 L1385.7,1948.8 L1381.6,1951.3 L1382.7,1946.6 L1379.1,1943.4 L1383.9,1943.1ZM1386.8,1941.6 L1388.7,1946.1 L1393.5,1946.5 L1389.8,1949.6 L1390.9,1954.3 L1386.8,1951.8 L1382.7,1954.3 L1383.8,1949.6 L1380.2,1946.5 L1385,1946.1ZM1387.9,1944.6 L1389.7,1949.1 L1394.5,1949.5 L1390.9,1952.6 L1392,1957.3 L1387.9,1954.8 L1383.8,1957.3 L1384.9,1952.6 L1381.2,1949.5 L1386,1949.1ZM1388.9,1947.7 L1390.7,1952.1 L1395.5,1952.5 L1391.9,1955.7 L1393,1960.3 L1388.9,1957.8 L1384.8,1960.3 L1385.9,1955.7 L1382.2,1952.5 L1387,1952.1ZM1389.8,1950.7 L1391.7,1955.2 L1396.5,1955.6 L1392.8,1958.7 L1393.9,1963.4 L1389.8,1960.9 L1385.7,1963.4 L1386.8,1958.7 L1383.2,1955.6 L1388,1955.2ZM1390.8,1953.8 L1392.6,1958.2 L1397.4,1958.6 L1393.8,1961.8 L1394.9,1966.5 L1390.8,1963.9 L1386.6,1966.5 L1387.8,1961.8 L1384.1,1958.6 L1388.9,1958.2ZM1391.7,1956.9 L1393.5,1961.3 L1398.3,1961.7 L1394.7,1964.8 L1395.8,1969.5 L1391.7,1967 L1387.6,1969.5 L1388.7,1964.8 L1385,1961.7 L1389.8,1961.3ZM1392.6,1959.9 L1394.4,1964.4 L1399.2,1964.8 L1395.5,1967.9 L1396.7,1972.6 L1392.6,1970.1 L1388.4,1972.6 L1389.6,1967.9 L1385.9,1964.8 L1390.7,1964.4ZM1393.4,1963 L1395.3,1967.5 L1400.1,1967.9 L1396.4,1971 L1397.5,1975.7 L1393.4,1973.2 L1389.3,1975.7 L1390.4,1971 L1386.8,1967.9 L1391.6,1967.5ZM1394.2,1966.1 L1396.1,1970.6 L1400.9,1970.9 L1397.2,1974.1 L1398.4,1978.8 L1394.2,1976.3 L1390.1,1978.8 L1391.3,1974.1 L1387.6,1970.9 L1392.4,1970.6ZM1395,1969.2 L1396.9,1973.7 L1401.7,1974 L1398,1977.2 L1399.2,1981.9 L1395,1979.4 L1390.9,1981.9 L1392,1977.2 L1388.4,1974 L1393.2,1973.7ZM1395.8,1972.3 L1397.7,1976.8 L1402.5,1977.2 L1398.8,1980.3 L1399.9,1985 L1395.8,1982.5 L1391.7,1985 L1392.8,1980.3 L1389.1,1977.2 L1394,1976.8ZM1396.5,1975.4 L1398.4,1979.9 L1403.2,1980.3 L1399.5,1983.4 L1400.6,1988.1 L1396.5,1985.6 L1392.4,1988.1 L1393.5,1983.4 L1389.9,1980.3 L1394.7,1979.9ZM1397.2,1978.6 L1399,1983 L1403.9,1983.4 L1400.2,1986.5 L1401.3,1991.2 L1397.2,1988.7 L1393.1,1991.2 L1394.2,1986.5 L1390.5,1983.4 L1395.3,1983ZM1397.8,1981.7 L1399.7,1986.2 L1404.5,1986.5 L1400.8,1989.7 L1401.9,1994.4 L1397.8,1991.9 L1393.7,1994.4 L1394.8,1989.7 L1391.1,1986.5 L1396,1986.2ZM1398.4,1984.9 L1400.2,1989.3 L1405,1989.7 L1401.4,1992.8 L1402.5,1997.5 L1398.4,1995 L1394.2,1997.5 L1395.4,1992.8 L1391.7,1989.7 L1396.5,1989.3ZM1398.9,1988 L1400.7,1992.5 L1405.5,1992.9 L1401.9,1996 L1403,2000.7 L1398.9,1998.2 L1394.7,2000.7 L1395.9,1996 L1392.2,1992.9 L1397,1992.5ZM1399.3,1991.2 L1401.1,1995.6 L1405.9,1996 L1402.3,1999.2 L1403.4,2003.9 L1399.3,2001.3 L1395.2,2003.9 L1396.3,1999.2 L1392.6,1996 L1397.4,1995.6ZM1399.6,1994.4 L1401.5,1998.8 L1406.3,1999.2 L1402.6,2002.3 L1403.7,2007 L1399.6,2004.5 L1395.5,2007 L1396.6,2002.3 L1393,1999.2 L1397.8,1998.8ZM1399.9,1997.6 L1401.8,2002 L1406.6,2002.4 L1402.9,2005.5 L1404,2010.2 L1399.9,2007.7 L1395.8,2010.2 L1396.9,2005.5 L1393.2,2002.4 L1398,2002ZM1400.1,2000.8 L1402,2005.2 L1406.8,2005.6 L1403.1,2008.7 L1404.2,2013.4 L1400.1,2010.9 L1396,2013.4 L1397.1,2008.7 L1393.5,2005.6 L1398.3,2005.2ZM1400.3,2003.9 L1402.2,2008.4 L1407,2008.8 L1403.3,2011.9 L1404.4,2016.6 L1400.3,2014.1 L1396.2,2016.6 L1397.3,2011.9 L1393.7,2008.8 L1398.5,2008.4ZM1400.5,2007.1 L1402.3,2011.6 L1407.1,2012 L1403.5,2015.1 L1404.6,2019.8 L1400.5,2017.3 L1396.3,2019.8 L1397.5,2015.1 L1393.8,2012 L1398.6,2011.6ZM1400.6,2010.3 L1402.4,2014.8 L1407.2,2015.2 L1403.6,2018.3 L1404.7,2023 L1400.6,2020.5 L1396.5,2023 L1397.6,2018.3 L1393.9,2015.2 L1398.7,2014.8ZM1400.7,2013.5 L1402.5,2018 L1407.4,2018.4 L1403.7,2021.5 L1404.8,2026.2 L1400.7,2023.7 L1396.6,2026.2 L1397.7,2021.5 L1394,2018.4 L1398.8,2018ZM1400.8,2016.7 L1402.6,2021.2 L1407.5,2021.6 L1403.8,2024.7 L1404.9,2029.4 L1400.8,2026.9 L1396.7,2029.4 L1397.8,2024.7 L1394.1,2021.6 L1398.9,2021.2ZM1400.9,2019.9 L1402.7,2024.4 L1407.6,2024.8 L1403.9,2027.9 L1405,2032.6 L1400.9,2030.1 L1396.8,2032.6 L1397.9,2027.9 L1394.2,2024.8 L1399,2024.4ZM1401,2023.1 L1402.9,2027.6 L1407.7,2028 L1404,2031.1 L1405.1,2035.8 L1401,2033.3 L1396.9,2035.8 L1398,2031.1 L1394.3,2028 L1399.2,2027.6ZM1401.2,2026.3 L1403,2030.8 L1407.8,2031.2 L1404.2,2034.3 L1405.3,2039 L1401.2,2036.5 L1397,2039 L1398.2,2034.3 L1394.5,2031.2 L1399.3,2030.8ZM1401.3,2029.5 L1403.2,2034 L1408,2034.4 L1404.3,2037.5 L1405.5,2042.2 L1401.3,2039.7 L1397.2,2042.2 L1398.4,2037.5 L1394.7,2034.4 L1399.5,2034ZM1401.6,2032.7 L1403.4,2037.2 L1408.2,2037.6 L1404.5,2040.7 L1405.7,2045.4 L1401.6,2042.9 L1397.4,2045.4 L1398.6,2040.7 L1394.9,2037.6 L1399.7,2037.2ZM1401.7,2035.9 L1403.6,2040.4 L1408.4,2040.8 L1404.7,2043.9 L1405.8,2048.6 L1401.7,2046.1 L1397.6,2048.6 L1398.7,2043.9 L1395.1,2040.8 L1399.9,2040.4ZM1401.8,2039.1 L1403.7,2043.6 L1408.5,2043.9 L1404.8,2047.1 L1405.9,2051.8 L1401.8,2049.3 L1397.7,2051.8 L1398.8,2047.1 L1395.2,2043.9 L1400,2043.6ZM1401.8,2042.3 L1403.7,2046.8 L1408.5,2047.1 L1404.8,2050.3 L1405.9,2055 L1401.8,2052.5 L1397.7,2055 L1398.8,2050.3 L1395.1,2047.1 L1400,2046.8ZM1401.7,2045.5 L1403.5,2050 L1408.3,2050.3 L1404.7,2053.5 L1405.8,2058.2 L1401.7,2055.7 L1397.6,2058.2 L1398.7,2053.5 L1395,2050.3 L1399.8,2050ZM1401.5,2048.7 L1403.3,2053.2 L1408.1,2053.5 L1404.5,2056.7 L1405.6,2061.4 L1401.5,2058.9 L1397.4,2061.4 L1398.5,2056.7 L1394.8,2053.5 L1399.6,2053.2ZM1401.2,2051.9 L1403.1,2056.3 L1407.9,2056.7 L1404.2,2059.9 L1405.3,2064.6 L1401.2,2062 L1397.1,2064.6 L1398.2,2059.9 L1394.5,2056.7 L1399.4,2056.3ZM1400.9,2055.1 L1402.7,2059.5 L1407.5,2059.9 L1403.9,2063 L1405,2067.7 L1400.9,2065.2 L1396.7,2067.7 L1397.9,2063 L1394.2,2059.9 L1399,2059.5ZM1400.5,2058.2 L1402.3,2062.7 L1407.1,2063.1 L1403.5,2066.2 L1404.6,2070.9 L1400.5,2068.4 L1396.4,2070.9 L1397.5,2066.2 L1393.8,2063.1 L1398.6,2062.7ZM1400,2061.4 L1401.9,2065.9 L1406.7,2066.3 L1403,2069.4 L1404.2,2074.1 L1400,2071.6 L1395.9,2074.1 L1397,2069.4 L1393.4,2066.3 L1398.2,2065.9ZM1399.6,2064.6 L1401.4,2069 L1406.3,2069.4 L1402.6,2072.6 L1403.7,2077.3 L1399.6,2074.7 L1395.5,2077.3 L1396.6,2072.6 L1392.9,2069.4 L1397.7,2069ZM1399.1,2067.8 L1401,2072.2 L1405.8,2072.6 L1402.1,2075.7 L1403.2,2080.4 L1399.1,2077.9 L1395,2080.4 L1396.1,2075.7 L1392.5,2072.6 L1397.3,2072.2ZM1398.7,2070.9 L1400.5,2075.4 L1405.3,2075.8 L1401.6,2078.9 L1402.8,2083.6 L1398.7,2081.1 L1394.5,2083.6 L1395.7,2078.9 L1392,2075.8 L1396.8,2075.4ZM1398.2,2074.1 L1400,2078.5 L1404.8,2078.9 L1401.2,2082.1 L1402.3,2086.7 L1398.2,2084.2 L1394.1,2086.7 L1395.2,2082.1 L1391.5,2078.9 L1396.3,2078.5ZM1397.7,2077.2 L1399.5,2081.7 L1404.3,2082.1 L1400.7,2085.2 L1401.8,2089.9 L1397.7,2087.4 L1393.6,2089.9 L1394.7,2085.2 L1391,2082.1 L1395.8,2081.7ZM1397.2,2080.4 L1399,2084.9 L1403.8,2085.2 L1400.2,2088.4 L1401.3,2093.1 L1397.2,2090.6 L1393,2093.1 L1394.2,2088.4 L1390.5,2085.2 L1395.3,2084.9ZM1396.7,2083.6 L1398.5,2088 L1403.3,2088.4 L1399.7,2091.5 L1400.8,2096.2 L1396.7,2093.7 L1392.5,2096.2 L1393.7,2091.5 L1390,2088.4 L1394.8,2088ZM1396.1,2086.7 L1398,2091.2 L1402.8,2091.6 L1399.1,2094.7 L1400.3,2099.4 L1396.1,2096.9 L1392,2099.4 L1393.1,2094.7 L1389.5,2091.6 L1394.3,2091.2ZM1395.6,2089.9 L1397.5,2094.3 L1402.3,2094.7 L1398.6,2097.9 L1399.7,2102.5 L1395.6,2100 L1391.5,2102.5 L1392.6,2097.9 L1389,2094.7 L1393.8,2094.3ZM1395.1,2093 L1397,2097.5 L1401.8,2097.9 L1398.1,2101 L1399.2,2105.7 L1395.1,2103.2 L1391,2105.7 L1392.1,2101 L1388.5,2097.9 L1393.3,2097.5ZM1394.6,2096.2 L1396.4,2100.6 L1401.3,2101 L1397.6,2104.2 L1398.7,2108.9 L1394.6,2106.3 L1390.5,2108.9 L1391.6,2104.2 L1387.9,2101 L1392.7,2100.6ZM1394.1,2099.4 L1396,2103.8 L1400.8,2104.2 L1397.1,2107.3 L1398.2,2112 L1394.1,2109.5 L1390,2112 L1391.1,2107.3 L1387.4,2104.2 L1392.2,2103.8ZM1429,2100 L1430.9,2104.5 L1435.7,2104.8 L1432,2108 L1433.1,2112.7 L1429,2110.2 L1424.9,2112.7 L1426,2108 L1422.3,2104.8 L1427.1,2104.5ZM1428.5,2096.8 L1430.4,2101.3 L1435.2,2101.7 L1431.5,2104.8 L1432.6,2109.5 L1428.5,2107 L1424.4,2109.5 L1425.5,2104.8 L1421.8,2101.7 L1426.7,2101.3ZM1428,2093.7 L1429.8,2098.1 L1434.7,2098.5 L1431,2101.7 L1432.1,2106.3 L1428,2103.8 L1423.9,2106.3 L1425,2101.7 L1421.3,2098.5 L1426.1,2098.1ZM1427.5,2090.5 L1429.3,2095 L1434.1,2095.4 L1430.5,2098.5 L1431.6,2103.2 L1427.5,2100.7 L1423.4,2103.2 L1424.5,2098.5 L1420.8,2095.4 L1425.6,2095ZM1427,2087.4 L1428.8,2091.8 L1433.6,2092.2 L1430,2095.3 L1431.1,2100 L1427,2097.5 L1422.8,2100 L1424,2095.3 L1420.3,2092.2 L1425.1,2091.8ZM1426.5,2084.2 L1428.3,2088.7 L1433.1,2089 L1429.4,2092.2 L1430.6,2096.9 L1426.5,2094.4 L1422.3,2096.9 L1423.5,2092.2 L1419.8,2089 L1424.6,2088.7ZM1425.9,2081 L1427.8,2085.5 L1432.6,2085.9 L1428.9,2089 L1430.1,2093.7 L1425.9,2091.2 L1421.8,2093.7 L1422.9,2089 L1419.3,2085.9 L1424.1,2085.5ZM1425.4,2077.9 L1427.3,2082.3 L1432.1,2082.7 L1428.4,2085.9 L1429.5,2090.5 L1425.4,2088 L1421.3,2090.5 L1422.4,2085.9 L1418.8,2082.7 L1423.6,2082.3ZM1424.9,2074.7 L1426.8,2079.2 L1431.6,2079.6 L1427.9,2082.7 L1429,2087.4 L1424.9,2084.9 L1420.8,2087.4 L1421.9,2082.7 L1418.3,2079.6 L1423.1,2079.2ZM1424.4,2071.6 L1426.3,2076 L1431.1,2076.4 L1427.4,2079.5 L1428.6,2084.2 L1424.4,2081.7 L1420.3,2084.2 L1421.4,2079.5 L1417.8,2076.4 L1422.6,2076ZM1424,2068.4 L1425.8,2072.9 L1430.6,2073.2 L1427,2076.4 L1428.1,2081.1 L1424,2078.5 L1419.8,2081.1 L1421,2076.4 L1417.3,2073.2 L1422.1,2072.9ZM1423.5,2065.2 L1425.3,2069.7 L1430.2,2070.1 L1426.5,2073.2 L1427.6,2077.9 L1423.5,2075.4 L1419.4,2077.9 L1420.5,2073.2 L1416.8,2070.1 L1421.6,2069.7ZM1423,2062.1 L1424.9,2066.5 L1429.7,2066.9 L1426,2070 L1427.2,2074.7 L1423,2072.2 L1418.9,2074.7 L1420,2070 L1416.4,2066.9 L1421.2,2066.5ZM1422.6,2058.9 L1424.5,2063.3 L1429.3,2063.7 L1425.6,2066.9 L1426.7,2071.6 L1422.6,2069 L1418.5,2071.6 L1419.6,2066.9 L1416,2063.7 L1420.8,2063.3ZM1422.2,2055.7 L1424.1,2060.2 L1428.9,2060.6 L1425.2,2063.7 L1426.3,2068.4 L1422.2,2065.9 L1418.1,2068.4 L1419.2,2063.7 L1415.6,2060.6 L1420.4,2060.2ZM1421.9,2052.5 L1423.7,2057 L1428.5,2057.4 L1424.9,2060.5 L1426,2065.2 L1421.9,2062.7 L1417.7,2065.2 L1418.9,2060.5 L1415.2,2057.4 L1420,2057ZM1421.6,2049.4 L1423.4,2053.8 L1428.2,2054.2 L1424.6,2057.3 L1425.7,2062 L1421.6,2059.5 L1417.5,2062 L1418.6,2057.3 L1414.9,2054.2 L1419.7,2053.8ZM1421.3,2046.2 L1423.2,2050.6 L1428,2051 L1424.3,2054.1 L1425.5,2058.8 L1421.3,2056.3 L1417.2,2058.8 L1418.4,2054.1 L1414.7,2051 L1419.5,2050.6ZM1421.2,2043 L1423.1,2047.4 L1427.9,2047.8 L1424.2,2050.9 L1425.3,2055.6 L1421.2,2053.1 L1417.1,2055.6 L1418.2,2050.9 L1414.6,2047.8 L1419.4,2047.4ZM1421.2,2039.8 L1423,2044.2 L1427.8,2044.6 L1424.2,2047.7 L1425.3,2052.4 L1421.2,2049.9 L1417.1,2052.4 L1418.2,2047.7 L1414.5,2044.6 L1419.3,2044.2ZM1421.3,2036.6 L1423.1,2041 L1427.9,2041.4 L1424.2,2044.5 L1425.4,2049.2 L1421.3,2046.7 L1417.1,2049.2 L1418.3,2044.5 L1414.6,2041.4 L1419.4,2041ZM1421.4,2033.4 L1423.3,2037.8 L1428.1,2038.2 L1424.4,2041.3 L1425.5,2046 L1421.4,2043.5 L1417.3,2046 L1418.4,2041.3 L1414.8,2038.2 L1419.6,2037.8ZM1421.6,2030.2 L1423.5,2034.6 L1428.3,2035 L1424.6,2038.1 L1425.7,2042.8 L1421.6,2040.3 L1417.5,2042.8 L1418.6,2038.1 L1415,2035 L1419.8,2034.6ZM1421.8,2027 L1423.7,2031.4 L1428.5,2031.8 L1424.8,2035 L1425.9,2039.6 L1421.8,2037.1 L1417.7,2039.6 L1418.8,2035 L1415.2,2031.8 L1420,2031.4ZM1422,2023.8 L1423.8,2028.2 L1428.6,2028.6 L1425,2031.8 L1426.1,2036.4 L1422,2033.9 L1417.9,2036.4 L1419,2031.8 L1415.3,2028.6 L1420.1,2028.2ZM1422.1,2020.6 L1423.9,2025 L1428.7,2025.4 L1425.1,2028.6 L1426.2,2033.3 L1422.1,2030.7 L1418,2033.3 L1419.1,2028.6 L1415.4,2025.4 L1420.2,2025ZM1422.2,2017.4 L1424,2021.8 L1428.8,2022.2 L1425.2,2025.4 L1426.3,2030.1 L1422.2,2027.5 L1418.1,2030.1 L1419.2,2025.4 L1415.5,2022.2 L1420.3,2021.8ZM1422.3,2014.2 L1424.1,2018.6 L1428.9,2019 L1425.3,2022.2 L1426.4,2026.9 L1422.3,2024.3 L1418.2,2026.9 L1419.3,2022.2 L1415.6,2019 L1420.4,2018.6ZM1422.4,2011 L1424.2,2015.4 L1429,2015.8 L1425.4,2019 L1426.5,2023.7 L1422.4,2021.1 L1418.3,2023.7 L1419.4,2019 L1415.7,2015.8 L1420.5,2015.4ZM1422.5,2007.8 L1424.4,2012.2 L1429.2,2012.6 L1425.5,2015.8 L1426.6,2020.5 L1422.5,2017.9 L1418.4,2020.5 L1419.5,2015.8 L1415.9,2012.6 L1420.7,2012.2ZM1422.7,2004.6 L1424.5,2009.1 L1429.3,2009.4 L1425.7,2012.6 L1426.8,2017.3 L1422.7,2014.7 L1418.5,2017.3 L1419.7,2012.6 L1416,2009.4 L1420.8,2009.1ZM1422.8,2001.4 L1424.7,2005.9 L1429.5,2006.2 L1425.8,2009.4 L1427,2014.1 L1422.8,2011.6 L1418.7,2014.1 L1419.8,2009.4 L1416.2,2006.2 L1421,2005.9ZM1423.1,1998.2 L1424.9,2002.7 L1429.7,2003 L1426,2006.2 L1427.2,2010.9 L1423.1,2008.4 L1418.9,2010.9 L1420.1,2006.2 L1416.4,2003 L1421.2,2002.7ZM1423.3,1995 L1425.2,1999.5 L1430,1999.9 L1426.3,2003 L1427.4,2007.7 L1423.3,2005.2 L1419.2,2007.7 L1420.3,2003 L1416.7,1999.9 L1421.5,1999.5ZM1423.6,1991.8 L1425.5,1996.3 L1430.3,1996.7 L1426.6,1999.8 L1427.8,2004.5 L1423.6,2002 L1419.5,2004.5 L1420.6,1999.8 L1417,1996.7 L1421.8,1996.3ZM1424,1988.7 L1425.9,1993.1 L1430.7,1993.5 L1427,1996.6 L1428.2,2001.3 L1424,1998.8 L1419.9,2001.3 L1421.1,1996.6 L1417.4,1993.5 L1422.2,1993.1ZM1424.5,1985.5 L1426.4,1990 L1431.2,1990.3 L1427.5,1993.5 L1428.6,1998.2 L1424.5,1995.7 L1420.4,1998.2 L1421.5,1993.5 L1417.9,1990.3 L1422.7,1990ZM1425.1,1982.3 L1426.9,1986.8 L1431.7,1987.2 L1428.1,1990.3 L1429.2,1995 L1425.1,1992.5 L1421,1995 L1422.1,1990.3 L1418.4,1987.2 L1423.2,1986.8ZM1425.7,1979.2 L1427.5,1983.7 L1432.3,1984 L1428.7,1987.2 L1429.8,1991.9 L1425.7,1989.4 L1421.6,1991.9 L1422.7,1987.2 L1419,1984 L1423.8,1983.7ZM1426.3,1976.1 L1428.2,1980.5 L1433,1980.9 L1429.3,1984 L1430.4,1988.7 L1426.3,1986.2 L1422.2,1988.7 L1423.3,1984 L1419.7,1980.9 L1424.5,1980.5ZM1427,1973 L1428.9,1977.4 L1433.7,1977.8 L1430,1980.9 L1431.2,1985.6 L1427,1983.1 L1422.9,1985.6 L1424,1980.9 L1420.4,1977.8 L1425.2,1977.4ZM1427.8,1969.8 L1429.6,1974.3 L1434.5,1974.7 L1430.8,1977.8 L1431.9,1982.5 L1427.8,1980 L1423.7,1982.5 L1424.8,1977.8 L1421.1,1974.7 L1425.9,1974.3ZM1428.6,1966.7 L1430.4,1971.2 L1435.2,1971.6 L1431.6,1974.7 L1432.7,1979.4 L1428.6,1976.9 L1424.5,1979.4 L1425.6,1974.7 L1421.9,1971.6 L1426.7,1971.2ZM1429.4,1963.7 L1431.3,1968.1 L1436.1,1968.5 L1432.4,1971.6 L1433.5,1976.3 L1429.4,1973.8 L1425.3,1976.3 L1426.4,1971.6 L1422.8,1968.5 L1427.6,1968.1ZM1430.3,1960.6 L1432.1,1965 L1436.9,1965.4 L1433.3,1968.5 L1434.4,1973.2 L1430.3,1970.7 L1426.2,1973.2 L1427.3,1968.5 L1423.6,1965.4 L1428.4,1965ZM1431.1,1957.5 L1433,1961.9 L1437.8,1962.3 L1434.1,1965.5 L1435.3,1970.2 L1431.1,1967.6 L1427,1970.2 L1428.2,1965.5 L1424.5,1962.3 L1429.3,1961.9ZM1432,1954.4 L1433.9,1958.9 L1438.7,1959.3 L1435,1962.4 L1436.2,1967.1 L1432,1964.6 L1427.9,1967.1 L1429.1,1962.4 L1425.4,1959.3 L1430.2,1958.9ZM1433,1951.4 L1434.8,1955.8 L1439.6,1956.2 L1436,1959.3 L1437.1,1964 L1433,1961.5 L1428.9,1964 L1430,1959.3 L1426.3,1956.2 L1431.1,1955.8ZM1433.9,1948.3 L1435.8,1952.8 L1440.6,1953.1 L1436.9,1956.3 L1438,1961 L1433.9,1958.5 L1429.8,1961 L1430.9,1956.3 L1427.3,1953.1 L1432.1,1952.8ZM1434.9,1945.3 L1436.8,1949.7 L1441.6,1950.1 L1437.9,1953.2 L1439,1957.9 L1434.9,1955.4 L1430.8,1957.9 L1431.9,1953.2 L1428.3,1950.1 L1433.1,1949.7ZM1436,1942.2 L1437.8,1946.7 L1442.6,1947.1 L1439,1950.2 L1440.1,1954.9 L1436,1952.4 L1431.8,1954.9 L1433,1950.2 L1429.3,1947.1 L1434.1,1946.7ZM1437,1939.2 L1438.9,1943.7 L1443.7,1944.1 L1440,1947.2 L1441.2,1951.9 L1437,1949.4 L1432.9,1951.9 L1434.1,1947.2 L1430.4,1944.1 L1435.2,1943.7ZM1438.2,1936.2 L1440.1,1940.7 L1444.9,1941.1 L1441.2,1944.2 L1442.3,1948.9 L1438.2,1946.4 L1434.1,1948.9 L1435.2,1944.2 L1431.5,1941.1 L1436.3,1940.7ZM1439.4,1933.3 L1441.3,1937.7 L1446.1,1938.1 L1442.4,1941.3 L1443.6,1946 L1439.4,1943.4 L1435.3,1946 L1436.5,1941.3 L1432.8,1938.1 L1437.6,1937.7ZM1440.8,1930.4 L1442.7,1934.8 L1447.5,1935.2 L1443.8,1938.4 L1444.9,1943.1 L1440.8,1940.5 L1436.7,1943.1 L1437.8,1938.4 L1434.1,1935.2 L1439,1934.8ZM1442.3,1927.6 L1444.2,1932 L1449,1932.4 L1445.3,1935.5 L1446.4,1940.2 L1442.3,1937.7 L1438.2,1940.2 L1439.3,1935.5 L1435.7,1932.4 L1440.5,1932ZM1444,1924.9 L1445.9,1929.3 L1450.7,1929.7 L1447,1932.8 L1448.1,1937.5 L1444,1935 L1439.9,1937.5 L1441,1932.8 L1437.3,1929.7 L1442.2,1929.3ZM1445.9,1922.3 L1447.8,1926.7 L1452.6,1927.1 L1448.9,1930.3 L1450,1935 L1445.9,1932.4 L1441.8,1935 L1442.9,1930.3 L1439.3,1927.1 L1444.1,1926.7ZM1448,1919.9 L1449.9,1924.4 L1454.7,1924.7 L1451,1927.9 L1452.2,1932.6 L1448,1930.1 L1443.9,1932.6 L1445,1927.9 L1441.4,1924.7 L1446.2,1924.4ZM1450.3,1917.6 L1452.1,1922.1 L1456.9,1922.5 L1453.3,1925.6 L1454.4,1930.3 L1450.3,1927.8 L1446.2,1930.3 L1447.3,1925.6 L1443.6,1922.5 L1448.4,1922.1ZM1452.6,1915.4 L1454.4,1919.8 L1459.2,1920.2 L1455.6,1923.4 L1456.7,1928.1 L1452.6,1925.5 L1448.5,1928.1 L1449.6,1923.4 L1445.9,1920.2 L1450.7,1919.8ZM1454.8,1913.1 L1456.7,1917.6 L1461.5,1917.9 L1457.8,1921.1 L1458.9,1925.8 L1454.8,1923.3 L1450.7,1925.8 L1451.8,1921.1 L1448.2,1917.9 L1453,1917.6ZM1456.9,1910.7 L1458.8,1915.2 L1463.6,1915.6 L1459.9,1918.7 L1461.1,1923.4 L1456.9,1920.9 L1452.8,1923.4 L1454,1918.7 L1450.3,1915.6 L1455.1,1915.2ZM1459.1,1908.3 L1460.9,1912.8 L1465.7,1913.2 L1462.1,1916.3 L1463.2,1921 L1459.1,1918.5 L1455,1921 L1456.1,1916.3 L1452.4,1913.2 L1457.2,1912.8ZM1461.3,1906 L1463.1,1910.5 L1468,1910.9 L1464.3,1914 L1465.4,1918.7 L1461.3,1916.2 L1457.2,1918.7 L1458.3,1914 L1454.6,1910.9 L1459.4,1910.5ZM1463.7,1903.9 L1465.5,1908.3 L1470.3,1908.7 L1466.7,1911.9 L1467.8,1916.6 L1463.7,1914 L1459.6,1916.6 L1460.7,1911.9 L1457,1908.7 L1461.8,1908.3ZM1466.2,1902 L1468.1,1906.4 L1472.9,1906.8 L1469.2,1909.9 L1470.4,1914.6 L1466.2,1912.1 L1462.1,1914.6 L1463.2,1909.9 L1459.6,1906.8 L1464.4,1906.4ZM1469,1900.3 L1470.8,1904.7 L1475.6,1905.1 L1472,1908.3 L1473.1,1913 L1469,1910.4 L1464.9,1913 L1466,1908.3 L1462.3,1905.1 L1467.1,1904.7ZM1471.8,1898.9 L1473.7,1903.3 L1478.5,1903.7 L1474.8,1906.9 L1476,1911.6 L1471.8,1909 L1467.7,1911.6 L1468.8,1906.9 L1465.2,1903.7 L1470,1903.3ZM1474.8,1897.7 L1476.7,1902.2 L1481.5,1902.5 L1477.8,1905.7 L1478.9,1910.4 L1474.8,1907.9 L1470.7,1910.4 L1471.8,1905.7 L1468.2,1902.5 L1473,1902.2ZM1477.8,1896.7 L1479.7,1901.1 L1484.5,1901.5 L1480.8,1904.6 L1482,1909.3 L1477.8,1906.8 L1473.7,1909.3 L1474.8,1904.6 L1471.2,1901.5 L1476,1901.1ZM1480.9,1895.7 L1482.7,1900.2 L1487.6,1900.6 L1483.9,1903.7 L1485,1908.4 L1480.9,1905.9 L1476.8,1908.4 L1477.9,1903.7 L1474.2,1900.6 L1479,1900.2ZM1484,1894.9 L1485.8,1899.3 L1490.6,1899.7 L1487,1902.8 L1488.1,1907.5 L1484,1905 L1479.9,1907.5 L1481,1902.8 L1477.3,1899.7 L1482.1,1899.3ZM1487.1,1894.1 L1488.9,1898.6 L1493.7,1898.9 L1490.1,1902.1 L1491.2,1906.8 L1487.1,1904.2 L1483,1906.8 L1484.1,1902.1 L1480.4,1898.9 L1485.2,1898.6ZM1490.2,1893.4 L1492.1,1897.9 L1496.9,1898.2 L1493.2,1901.4 L1494.3,1906.1 L1490.2,1903.6 L1486.1,1906.1 L1487.2,1901.4 L1483.6,1898.2 L1488.4,1897.9ZM1493.3,1892.8 L1495.2,1897.2 L1500,1897.6 L1496.3,1900.8 L1497.5,1905.5 L1493.3,1902.9 L1489.2,1905.5 L1490.4,1900.8 L1486.7,1897.6 L1491.5,1897.2ZM1496.5,1892.2 L1498.4,1896.7 L1503.2,1897.1 L1499.5,1900.2 L1500.6,1904.9 L1496.5,1902.4 L1492.4,1904.9 L1493.5,1900.2 L1489.8,1897.1 L1494.6,1896.7ZM1499.7,1891.7 L1501.5,1896.2 L1506.3,1896.6 L1502.7,1899.7 L1503.8,1904.4 L1499.7,1901.9 L1495.5,1904.4 L1496.7,1899.7 L1493,1896.6 L1497.8,1896.2ZM1502.8,1891.3 L1504.7,1895.7 L1509.5,1896.1 L1505.8,1899.2 L1506.9,1903.9 L1502.8,1901.4 L1498.7,1903.9 L1499.8,1899.2 L1496.2,1896.1 L1501,1895.7ZM1506,1890.8 L1507.8,1895.3 L1512.7,1895.7 L1509,1898.8 L1510.1,1903.5 L1506,1901 L1501.9,1903.5 L1503,1898.8 L1499.3,1895.7 L1504.1,1895.3ZM1509.2,1890.5 L1511,1894.9 L1515.8,1895.3 L1512.2,1898.4 L1513.3,1903.1 L1509.2,1900.6 L1505.1,1903.1 L1506.2,1898.4 L1502.5,1895.3 L1507.3,1894.9ZM1512.4,1890.1 L1514.2,1894.5 L1519,1894.9 L1515.3,1898.1 L1516.5,1902.8 L1512.4,1900.2 L1508.2,1902.8 L1509.4,1898.1 L1505.7,1894.9 L1510.5,1894.5ZM1515.5,1889.7 L1517.4,1894.2 L1522.2,1894.6 L1518.5,1897.7 L1519.6,1902.4 L1515.5,1899.9 L1511.4,1902.4 L1512.5,1897.7 L1508.9,1894.6 L1513.7,1894.2ZM1518.7,1889.4 L1520.6,1893.9 L1525.4,1894.3 L1521.7,1897.4 L1522.8,1902.1 L1518.7,1899.6 L1514.6,1902.1 L1515.7,1897.4 L1512.1,1894.3 L1516.9,1893.9ZM1521.9,1889.1 L1523.8,1893.6 L1528.6,1893.9 L1524.9,1897.1 L1526,1901.8 L1521.9,1899.3 L1517.8,1901.8 L1518.9,1897.1 L1515.2,1893.9 L1520.1,1893.6ZM1525.1,1888.8 L1526.9,1893.3 L1531.7,1893.7 L1528.1,1896.8 L1529.2,1901.5 L1525.1,1899 L1521,1901.5 L1522.1,1896.8 L1518.4,1893.7 L1523.2,1893.3ZM1528.3,1888.5 L1530.1,1893 L1534.9,1893.4 L1531.3,1896.5 L1532.4,1901.2 L1528.3,1898.7 L1524.2,1901.2 L1525.3,1896.5 L1521.6,1893.4 L1526.4,1893ZM1531.5,1888.3 L1533.3,1892.7 L1538.1,1893.1 L1534.5,1896.2 L1535.6,1900.9 L1531.5,1898.4 L1527.4,1900.9 L1528.5,1896.2 L1524.8,1893.1 L1529.6,1892.7ZM1534.7,1888 L1536.5,1892.5 L1541.3,1892.8 L1537.7,1896 L1538.8,1900.7 L1534.7,1898.2 L1530.5,1900.7 L1531.7,1896 L1528,1892.8 L1532.8,1892.5ZM1537.8,1887.8 L1539.7,1892.2 L1544.5,1892.6 L1540.8,1895.7 L1542,1900.4 L1537.8,1897.9 L1533.7,1900.4 L1534.8,1895.7 L1531.2,1892.6 L1536,1892.2ZM1541,1887.5 L1542.9,1892 L1547.7,1892.4 L1544,1895.5 L1545.2,1900.2 L1541,1897.7 L1536.9,1900.2 L1538,1895.5 L1534.4,1892.4 L1539.2,1892ZM1544.2,1887.3 L1546.1,1891.8 L1550.9,1892.1 L1547.2,1895.3 L1548.3,1900 L1544.2,1897.5 L1540.1,1900 L1541.2,1895.3 L1537.6,1892.1 L1542.4,1891.8ZM1547.4,1887.1 L1549.3,1891.6 L1554.1,1891.9 L1550.4,1895.1 L1551.5,1899.8 L1547.4,1897.3 L1543.3,1899.8 L1544.4,1895.1 L1540.8,1891.9 L1545.6,1891.6ZM1550.6,1886.9 L1552.5,1891.3 L1557.3,1891.7 L1553.6,1894.9 L1554.7,1899.6 L1550.6,1897 L1546.5,1899.6 L1547.6,1894.9 L1544,1891.7 L1548.8,1891.3ZM1553.8,1886.7 L1555.7,1891.2 L1560.5,1891.5 L1556.8,1894.7 L1557.9,1899.4 L1553.8,1896.9 L1549.7,1899.4 L1550.8,1894.7 L1547.2,1891.5 L1552,1891.2ZM1557,1886.5 L1558.9,1891 L1563.7,1891.4 L1560,1894.5 L1561.1,1899.2 L1557,1896.7 L1552.9,1899.2 L1554,1894.5 L1550.3,1891.4 L1555.2,1891ZM1560.2,1886.3 L1562.1,1890.8 L1566.9,1891.2 L1563.2,1894.3 L1564.3,1899 L1560.2,1896.5 L1556.1,1899 L1557.2,1894.3 L1553.5,1891.2 L1558.3,1890.8ZM1563.4,1886.2 L1565.2,1890.6 L1570.1,1891 L1566.4,1894.1 L1567.5,1898.8 L1563.4,1896.3 L1559.3,1898.8 L1560.4,1894.1 L1556.7,1891 L1561.5,1890.6ZM1566.6,1886 L1568.4,1890.5 L1573.2,1890.8 L1569.6,1894 L1570.7,1898.7 L1566.6,1896.2 L1562.5,1898.7 L1563.6,1894 L1559.9,1890.8 L1564.7,1890.5ZM1569.8,1885.9 L1571.6,1890.3 L1576.4,1890.7 L1572.8,1893.8 L1573.9,1898.5 L1569.8,1896 L1565.7,1898.5 L1566.8,1893.8 L1563.1,1890.7 L1567.9,1890.3ZM1573,1885.7 L1574.8,1890.2 L1579.6,1890.5 L1576,1893.7 L1577.1,1898.4 L1573,1895.9 L1568.9,1898.4 L1570,1893.7 L1566.3,1890.5 L1571.1,1890.2ZM1576.2,1885.6 L1578,1890 L1582.8,1890.4 L1579.2,1893.5 L1580.3,1898.2 L1576.2,1895.7 L1572.1,1898.2 L1573.2,1893.5 L1569.5,1890.4 L1574.3,1890ZM1579.4,1885.4 L1581.2,1889.9 L1586,1890.3 L1582.4,1893.4 L1583.5,1898.1 L1579.4,1895.6 L1575.3,1898.1 L1576.4,1893.4 L1572.7,1890.3 L1577.5,1889.9ZM1582.6,1885.3 L1584.4,1889.7 L1589.2,1890.1 L1585.6,1893.3 L1586.7,1898 L1582.6,1895.4 L1578.5,1898 L1579.6,1893.3 L1575.9,1890.1 L1580.7,1889.7ZM1585.8,1885.2 L1587.6,1889.6 L1592.4,1890 L1588.8,1893.1 L1589.9,1897.8 L1585.8,1895.3 L1581.7,1897.8 L1582.8,1893.1 L1579.1,1890 L1583.9,1889.6ZM1589,1885 L1590.8,1889.5 L1595.6,1889.9 L1592,1893 L1593.1,1897.7 L1589,1895.2 L1584.9,1897.7 L1586,1893 L1582.3,1889.9 L1587.1,1889.5ZM1592.2,1884.9 L1594,1889.4 L1598.8,1889.8 L1595.2,1892.9 L1596.3,1897.6 L1592.2,1895.1 L1588.1,1897.6 L1589.2,1892.9 L1585.5,1889.8 L1590.3,1889.4ZM1595.4,1884.8 L1597.2,1889.3 L1602,1889.6 L1598.4,1892.8 L1599.5,1897.5 L1595.4,1895 L1591.3,1897.5 L1592.4,1892.8 L1588.7,1889.6 L1593.5,1889.3ZM1598.6,1884.7 L1600.4,1889.2 L1605.2,1889.5 L1601.6,1892.7 L1602.7,1897.4 L1598.6,1894.9 L1594.4,1897.4 L1595.6,1892.7 L1591.9,1889.5 L1596.7,1889.2ZM1601.8,1884.6 L1603.6,1889 L1608.4,1889.4 L1604.8,1892.6 L1605.9,1897.3 L1601.8,1894.7 L1597.6,1897.3 L1598.8,1892.6 L1595.1,1889.4 L1599.9,1889ZM1605,1884.5 L1606.8,1888.9 L1611.6,1889.3 L1608,1892.5 L1609.1,1897.2 L1605,1894.6 L1600.8,1897.2 L1602,1892.5 L1598.3,1889.3 L1603.1,1888.9ZM1608.2,1884.4 L1610,1888.9 L1614.8,1889.2 L1611.2,1892.4 L1612.3,1897.1 L1608.2,1894.6 L1604,1897.1 L1605.2,1892.4 L1601.5,1889.2 L1606.3,1888.9ZM1611.4,1884.3 L1613.2,1888.8 L1618,1889.1 L1614.4,1892.3 L1615.5,1897 L1611.4,1894.5 L1607.2,1897 L1608.4,1892.3 L1604.7,1889.1 L1609.5,1888.8ZM1614.6,1884.2 L1616.4,1888.7 L1621.2,1889.1 L1617.6,1892.2 L1618.7,1896.9 L1614.6,1894.4 L1610.4,1896.9 L1611.6,1892.2 L1607.9,1889.1 L1612.7,1888.7ZM1617.8,1884.1 L1619.6,1888.6 L1624.4,1889 L1620.8,1892.1 L1621.9,1896.8 L1617.8,1894.3 L1613.6,1896.8 L1614.8,1892.1 L1611.1,1889 L1615.9,1888.6ZM1621,1884.1 L1622.8,1888.5 L1627.6,1888.9 L1624,1892 L1625.1,1896.7 L1621,1894.2 L1616.8,1896.7 L1618,1892 L1614.3,1888.9 L1619.1,1888.5ZM1624.2,1884 L1626,1888.4 L1630.8,1888.8 L1627.1,1892 L1628.3,1896.6 L1624.2,1894.1 L1620,1896.6 L1621.2,1892 L1617.5,1888.8 L1622.3,1888.4ZM1627.4,1883.9 L1629.2,1888.4 L1634,1888.7 L1630.3,1891.9 L1631.5,1896.6 L1627.4,1894.1 L1623.2,1896.6 L1624.4,1891.9 L1620.7,1888.7 L1625.5,1888.4ZM1630.6,1883.8 L1632.4,1888.3 L1637.2,1888.7 L1633.5,1891.8 L1634.7,1896.5 L1630.6,1894 L1626.4,1896.5 L1627.6,1891.8 L1623.9,1888.7 L1628.7,1888.3ZM1633.8,1883.8 L1635.6,1888.2 L1640.4,1888.6 L1636.7,1891.8 L1637.9,1896.4 L1633.8,1893.9 L1629.6,1896.4 L1630.8,1891.8 L1627.1,1888.6 L1631.9,1888.2ZM1637,1883.7 L1638.8,1888.2 L1643.6,1888.6 L1639.9,1891.7 L1641.1,1896.4 L1637,1893.9 L1632.8,1896.4 L1634,1891.7 L1630.3,1888.6 L1635.1,1888.2ZM1640.2,1883.7 L1642,1888.1 L1646.8,1888.5 L1643.1,1891.7 L1644.3,1896.3 L1640.2,1893.8 L1636,1896.3 L1637.2,1891.7 L1633.5,1888.5 L1638.3,1888.1ZM1643.4,1883.6 L1645.2,1888.1 L1650,1888.5 L1646.3,1891.6 L1647.5,1896.3 L1643.4,1893.8 L1639.2,1896.3 L1640.4,1891.6 L1636.7,1888.5 L1641.5,1888.1ZM1646.6,1883.6 L1648.4,1888 L1653.2,1888.4 L1649.5,1891.6 L1650.7,1896.3 L1646.6,1893.7 L1642.4,1896.3 L1643.6,1891.6 L1639.9,1888.4 L1644.7,1888ZM1649.7,1883.6 L1651.6,1888 L1656.4,1888.4 L1652.7,1891.5 L1653.9,1896.2 L1649.7,1893.7 L1645.6,1896.2 L1646.8,1891.5 L1643.1,1888.4 L1647.9,1888ZM1652.9,1883.5 L1654.8,1888 L1659.6,1888.4 L1655.9,1891.5 L1657.1,1896.2 L1652.9,1893.7 L1648.8,1896.2 L1650,1891.5 L1646.3,1888.4 L1651.1,1888ZM1656.1,1883.5 L1658,1887.9 L1662.8,1888.3 L1659.1,1891.5 L1660.3,1896.2 L1656.1,1893.6 L1652,1896.2 L1653.2,1891.5 L1649.5,1888.3 L1654.3,1887.9ZM1659.3,1883.5 L1661.2,1887.9 L1666,1888.3 L1662.3,1891.4 L1663.5,1896.1 L1659.3,1893.6 L1655.2,1896.1 L1656.4,1891.4 L1652.7,1888.3 L1657.5,1887.9ZM1662.5,1883.4 L1664.4,1887.9 L1669.2,1888.3 L1665.5,1891.4 L1666.7,1896.1 L1662.5,1893.6 L1658.4,1896.1 L1659.6,1891.4 L1655.9,1888.3 L1660.7,1887.9ZM1665.7,1883.4 L1667.6,1887.9 L1672.4,1888.2 L1668.7,1891.4 L1669.9,1896.1 L1665.7,1893.6 L1661.6,1896.1 L1662.8,1891.4 L1659.1,1888.2 L1663.9,1887.9ZM1668.9,1883.4 L1670.8,1887.8 L1675.6,1888.2 L1671.9,1891.4 L1673.1,1896 L1668.9,1893.5 L1664.8,1896 L1666,1891.4 L1662.3,1888.2 L1667.1,1887.8ZM1672.1,1883.4 L1674,1887.8 L1678.8,1888.2 L1675.1,1891.3 L1676.3,1896 L1672.1,1893.5 L1668,1896 L1669.2,1891.3 L1665.5,1888.2 L1670.3,1887.8ZM1675.3,1883.3 L1677.2,1887.8 L1682,1888.2 L1678.3,1891.3 L1679.5,1896 L1675.3,1893.5 L1671.2,1896 L1672.4,1891.3 L1668.7,1888.2 L1673.5,1887.8ZM1678.5,1883.3 L1680.4,1887.8 L1685.2,1888.1 L1681.5,1891.3 L1682.7,1896 L1678.5,1893.5 L1674.4,1896 L1675.6,1891.3 L1671.9,1888.1 L1676.7,1887.8ZM1681.7,1883.3 L1683.6,1887.7 L1688.4,1888.1 L1684.7,1891.3 L1685.9,1896 L1681.7,1893.4 L1677.6,1896 L1678.8,1891.3 L1675.1,1888.1 L1679.9,1887.7ZM1684.9,1883.3 L1686.8,1887.7 L1691.6,1888.1 L1687.9,1891.2 L1689.1,1895.9 L1684.9,1893.4 L1680.8,1895.9 L1682,1891.2 L1678.3,1888.1 L1683.1,1887.7ZM1688.1,1883.3 L1690,1887.7 L1694.8,1888.1 L1691.1,1891.2 L1692.3,1895.9 L1688.1,1893.4 L1684,1895.9 L1685.2,1891.2 L1681.5,1888.1 L1686.3,1887.7ZM1691.3,1883.2 L1693.2,1887.7 L1698,1888.1 L1694.3,1891.2 L1695.5,1895.9 L1691.3,1893.4 L1687.2,1895.9 L1688.4,1891.2 L1684.7,1888.1 L1689.5,1887.7ZM1694.5,1883.2 L1696.4,1887.7 L1701.2,1888.1 L1697.5,1891.2 L1698.7,1895.9 L1694.5,1893.4 L1690.4,1895.9 L1691.6,1891.2 L1687.9,1888.1 L1692.7,1887.7ZM1697.7,1883.2 L1699.6,1887.7 L1704.4,1888 L1700.7,1891.2 L1701.9,1895.9 L1697.7,1893.4 L1693.6,1895.9 L1694.8,1891.2 L1691.1,1888 L1695.9,1887.7ZM1700.9,1883.2 L1702.8,1887.7 L1707.6,1888 L1703.9,1891.2 L1705.1,1895.9 L1700.9,1893.3 L1696.8,1895.9 L1698,1891.2 L1694.3,1888 L1699.1,1887.7ZM1704.1,1883.2 L1706,1887.6 L1710.8,1888 L1707.1,1891.2 L1708.3,1895.8 L1704.1,1893.3 L1700,1895.8 L1701.2,1891.2 L1697.5,1888 L1702.3,1887.6ZM1707.3,1883.2 L1709.2,1887.6 L1714,1888 L1710.3,1891.1 L1711.5,1895.8 L1707.3,1893.3 L1703.2,1895.8 L1704.4,1891.1 L1700.7,1888 L1705.5,1887.6ZM1710.5,1883.2 L1712.4,1887.6 L1717.2,1888 L1713.5,1891.1 L1714.7,1895.8 L1710.5,1893.3 L1706.4,1895.8 L1707.6,1891.1 L1703.9,1888 L1708.7,1887.6ZM1713.7,1883.2 L1715.6,1887.6 L1720.4,1888 L1716.7,1891.1 L1717.9,1895.8 L1713.7,1893.3 L1709.6,1895.8 L1710.8,1891.1 L1707.1,1888 L1711.9,1887.6ZM1716.9,1883.1 L1718.8,1887.6 L1723.6,1888 L1719.9,1891.1 L1721.1,1895.8 L1716.9,1893.3 L1712.8,1895.8 L1714,1891.1 L1710.3,1888 L1715.1,1887.6ZM1720.1,1883.1 L1722,1887.6 L1726.8,1888 L1723.1,1891.1 L1724.3,1895.8 L1720.1,1893.3 L1716,1895.8 L1717.2,1891.1 L1713.5,1888 L1718.3,1887.6ZM1723.3,1883.1 L1725.2,1887.6 L1730,1888 L1726.3,1891.1 L1727.5,1895.8 L1723.3,1893.3 L1719.2,1895.8 L1720.4,1891.1 L1716.7,1888 L1721.5,1887.6ZM1726.5,1883.1 L1728.4,1887.6 L1733.2,1888 L1729.5,1891.1 L1730.7,1895.8 L1726.5,1893.3 L1722.4,1895.8 L1723.6,1891.1 L1719.9,1888 L1724.7,1887.6ZM1729.7,1883.1 L1731.6,1887.6 L1736.4,1888 L1732.7,1891.1 L1733.9,1895.8 L1729.7,1893.3 L1725.6,1895.8 L1726.8,1891.1 L1723.1,1888 L1727.9,1887.6ZM1732.9,1883.1 L1734.8,1887.6 L1739.6,1887.9 L1735.9,1891.1 L1737.1,1895.8 L1732.9,1893.3 L1728.8,1895.8 L1730,1891.1 L1726.3,1887.9 L1731.1,1887.6ZM1736.1,1883.1 L1738,1887.6 L1742.8,1887.9 L1739.1,1891.1 L1740.3,1895.8 L1736.1,1893.3 L1732,1895.8 L1733.2,1891.1 L1729.5,1887.9 L1734.3,1887.6ZM1739.3,1883.1 L1741.2,1887.5 L1746,1887.9 L1742.3,1891.1 L1743.5,1895.8 L1739.3,1893.2 L1735.2,1895.8 L1736.4,1891.1 L1732.7,1887.9 L1737.5,1887.5ZM1742.5,1883.1 L1744.4,1887.5 L1749.2,1887.9 L1745.5,1891.1 L1746.7,1895.8 L1742.5,1893.2 L1738.4,1895.8 L1739.6,1891.1 L1735.9,1887.9 L1740.7,1887.5ZM1745.7,1883.1 L1747.6,1887.5 L1752.4,1887.9 L1748.7,1891.1 L1749.9,1895.7 L1745.7,1893.2 L1741.6,1895.7 L1742.8,1891.1 L1739.1,1887.9 L1743.9,1887.5ZM1748.9,1883.1 L1750.8,1887.5 L1755.6,1887.9 L1751.9,1891 L1753.1,1895.7 L1748.9,1893.2 L1744.8,1895.7 L1746,1891 L1742.3,1887.9 L1747.1,1887.5ZM1752.1,1883.1 L1754,1887.5 L1758.8,1887.9 L1755.1,1891 L1756.3,1895.7 L1752.1,1893.2 L1748,1895.7 L1749.2,1891 L1745.5,1887.9 L1750.3,1887.5ZM1755.3,1883.1 L1757.2,1887.5 L1762,1887.9 L1758.3,1891 L1759.5,1895.7 L1755.3,1893.2 L1751.2,1895.7 L1752.4,1891 L1748.7,1887.9 L1753.5,1887.5ZM1758.5,1883.1 L1760.4,1887.5 L1765.2,1887.9 L1761.5,1891 L1762.7,1895.7 L1758.5,1893.2 L1754.4,1895.7 L1755.6,1891 L1751.9,1887.9 L1756.7,1887.5ZM1761.7,1883 L1763.6,1887.5 L1768.4,1887.9 L1764.7,1891 L1765.9,1895.7 L1761.7,1893.2 L1757.6,1895.7 L1758.8,1891 L1755.1,1887.9 L1759.9,1887.5ZM1764.9,1883 L1766.8,1887.5 L1771.6,1887.9 L1767.9,1891 L1769.1,1895.7 L1764.9,1893.2 L1760.8,1895.7 L1762,1891 L1758.3,1887.9 L1763.1,1887.5ZM1768.1,1883 L1770,1887.5 L1774.8,1887.9 L1771.1,1891 L1772.3,1895.7 L1768.1,1893.2 L1764,1895.7 L1765.2,1891 L1761.5,1887.9 L1766.3,1887.5ZM1771.3,1883 L1773.2,1887.5 L1778,1887.8 L1774.3,1891 L1775.5,1895.7 L1771.3,1893.2 L1767.2,1895.7 L1768.4,1891 L1764.7,1887.8 L1769.5,1887.5Z" fill="none" stroke="#4cb884" stroke-width="0.9"/>
<rect x="1580" y="1876" width="43" height="26" fill="#fff"/>
<path d="M1535.7,1920.8 H1593.9 M1639,1920.8 H1708.4 V2072 H1535.7 V1920.8" fill="none" stroke="#555" stroke-width="2"/>
<rect x="1556.6" y="1929.7" width="15.7" height="15.7" fill="#ff0000"/>
<circle cx="1563.8" cy="1967" r="6" fill="#fff" stroke="#777" stroke-width="1.3"/>
<circle cx="1564.5" cy="1997" r="7" fill="#2a6fd8"/><circle cx="1562.5" cy="1994.5" r="2" fill="#d8e6fb"/>
<path d="M1565,2018.5 L1567.1,2023.6 L1572.6,2024 L1568.4,2027.6 L1569.7,2033 L1565,2030.1 L1560.3,2033 L1561.6,2027.6 L1557.4,2024 L1562.9,2023.6Z" fill="none" stroke="#4cb884" stroke-width="1.5"/>
<path d="M1560.8,2063.1 L1557,2056.6 L1560.8,2050.1 L1568.2,2050.1 L1572,2056.6 L1568.2,2063.1Z" fill="#c4c4fa" stroke="#c08ae8" stroke-width="1.5"/>
<text x="1597.2" y="1944.7" font-family="Liberation Serif, serif" font-weight="bold" font-size="22.5">1 S/m</text>
<text x="1597.2" y="1974.2" font-family="Liberation Serif, serif" font-weight="bold" font-size="22.5">0.1 S/m</text>
<text x="1597.2" y="2004.3" font-family="Liberation Serif, serif" font-weight="bold" font-size="22.5">0.01 S/m</text>
<text x="1597.2" y="2034.3" font-family="Liberation Serif, serif" font-weight="bold" font-size="22.5">0.001 S/m</text>
<text x="1597.2" y="2063.8" font-family="Liberation Serif, serif" font-weight="bold" font-size="22.5">0.0001 S/m</text>
<rect x="1596" y="1924" width="40" height="14" fill="#fff"/>
<rect x="1028" y="1588.7" width="767.7" height="619.3" fill="none" stroke="#000" stroke-width="4"/>
<path d="M1016,2171.5 H1028 M1016,2098.7 H1028 M1016,2025.8 H1028 M1016,1953 H1028 M1016,1880.1 H1028 M1016,1807.3 H1028 M1016,1734.5 H1028 M1016,1661.6 H1028 M1016,1588.8 H1028 M1022,2135.1 H1028 M1022,2062.2 H1028 M1022,1989.4 H1028 M1022,1916.6 H1028 M1022,1843.7 H1028 M1022,1770.9 H1028 M1022,1698 H1028 M1022,1625.2 H1028 M1021,2208 H1028 M1050.5,2208 V2220 M1231.1,2208 V2220 M1411.7,2208 V2220 M1592.3,2208 V2220 M1772.9,2208 V2220 M1140.8,2208 V2214 M1321.4,2208 V2214 M1502,2208 V2214 M1682.6,2208 V2214" stroke="#000" stroke-width="4"/>
<text x="1006" y="2109.7" text-anchor="end" font-family="Liberation Serif, serif" font-weight="bold" font-size="31.6">1x10<tspan font-size="21" dy="-14">-8</tspan></text>
<text x="1006" y="2036.8" text-anchor="end" font-family="Liberation Serif, serif" font-weight="bold" font-size="31.6">2x10<tspan font-size="21" dy="-14">-8</tspan></text>
<text x="1006" y="1964" text-anchor="end" font-family="Liberation Serif, serif" font-weight="bold" font-size="31.6">3x10<tspan font-size="21" dy="-14">-8</tspan></text>
<text x="1006" y="1891.1" text-anchor="end" font-family="Liberation Serif, serif" font-weight="bold" font-size="31.6">4x10<tspan font-size="21" dy="-14">-8</tspan></text>
<text x="1006" y="1818.3" text-anchor="end" font-family="Liberation Serif, serif" font-weight="bold" font-size="31.6">5x10<tspan font-size="21" dy="-14">-8</tspan></text>
<text x="1006" y="1745.5" text-anchor="end" font-family="Liberation Serif, serif" font-weight="bold" font-size="31.6">6x10<tspan font-size="21" dy="-14">-8</tspan></text>
<text x="1006" y="1672.6" text-anchor="end" font-family="Liberation Serif, serif" font-weight="bold" font-size="31.6">7x10<tspan font-size="21" dy="-14">-8</tspan></text>
<text x="1006" y="1599.8" text-anchor="end" font-family="Liberation Serif, serif" font-weight="bold" font-size="31.6">8x10<tspan font-size="21" dy="-14">-8</tspan></text>
<text x="1006" y="2181.5" text-anchor="end" font-family="Liberation Serif, serif" font-weight="bold" font-size="31.6">0</text>
<text x="1046.5" y="2255.6" text-anchor="middle" font-family="Liberation Serif, serif" font-weight="bold" font-size="33">0</text>
<text x="1227.1" y="2255.6" text-anchor="middle" font-family="Liberation Serif, serif" font-weight="bold" font-size="33">4</text>
<text x="1407.7" y="2255.6" text-anchor="middle" font-family="Liberation Serif, serif" font-weight="bold" font-size="33">8</text>
<text x="1588.3" y="2255.6" text-anchor="middle" font-family="Liberation Serif, serif" font-weight="bold" font-size="33">12</text>
<text x="1768.9" y="2255.6" text-anchor="middle" font-family="Liberation Serif, serif" font-weight="bold" font-size="33">16</text>
<text x="1433.5" y="2299.5" text-anchor="middle" font-family="Liberation Serif, serif" font-weight="bold" font-size="47">Coordinate in X (&#956;m)</text>
<text transform="translate(895,1886) rotate(-90)" text-anchor="middle" font-family="Liberation Serif, serif" font-weight="bold" font-size="47">Deposition rate (m/s)</text>
<text x="2" y="61.5" font-family="Liberation Serif, serif" font-weight="bold" font-size="64" letter-spacing="0.5">(a)</text><text x="3.2" y="491.8" font-family="Liberation Serif, serif" font-weight="bold" font-size="64" letter-spacing="0.5">(b)</text><text x="2.8" y="922.1" font-family="Liberation Serif, serif" font-weight="bold" font-size="64" letter-spacing="0.5">(c)</text><text x="3" y="1352.8" font-family="Liberation Serif, serif" font-weight="bold" font-size="64" letter-spacing="0.5">(d)</text><text x="2.8" y="1781.3" font-family="Liberation Serif, serif" font-weight="bold" font-size="64" letter-spacing="0.5">(e)</text><text x="762" y="70.4" font-family="Liberation Serif, serif" font-weight="bold" font-size="64" letter-spacing="0.5">(f)</text><text x="762.4" y="822.5" font-family="Liberation Serif, serif" font-weight="bold" font-size="64" letter-spacing="0.5">(g)</text><text x="774.5" y="1605" font-family="Liberation Serif, serif" font-weight="bold" font-size="64" letter-spacing="0.5">(h)</text>
</svg>
</body></html>
